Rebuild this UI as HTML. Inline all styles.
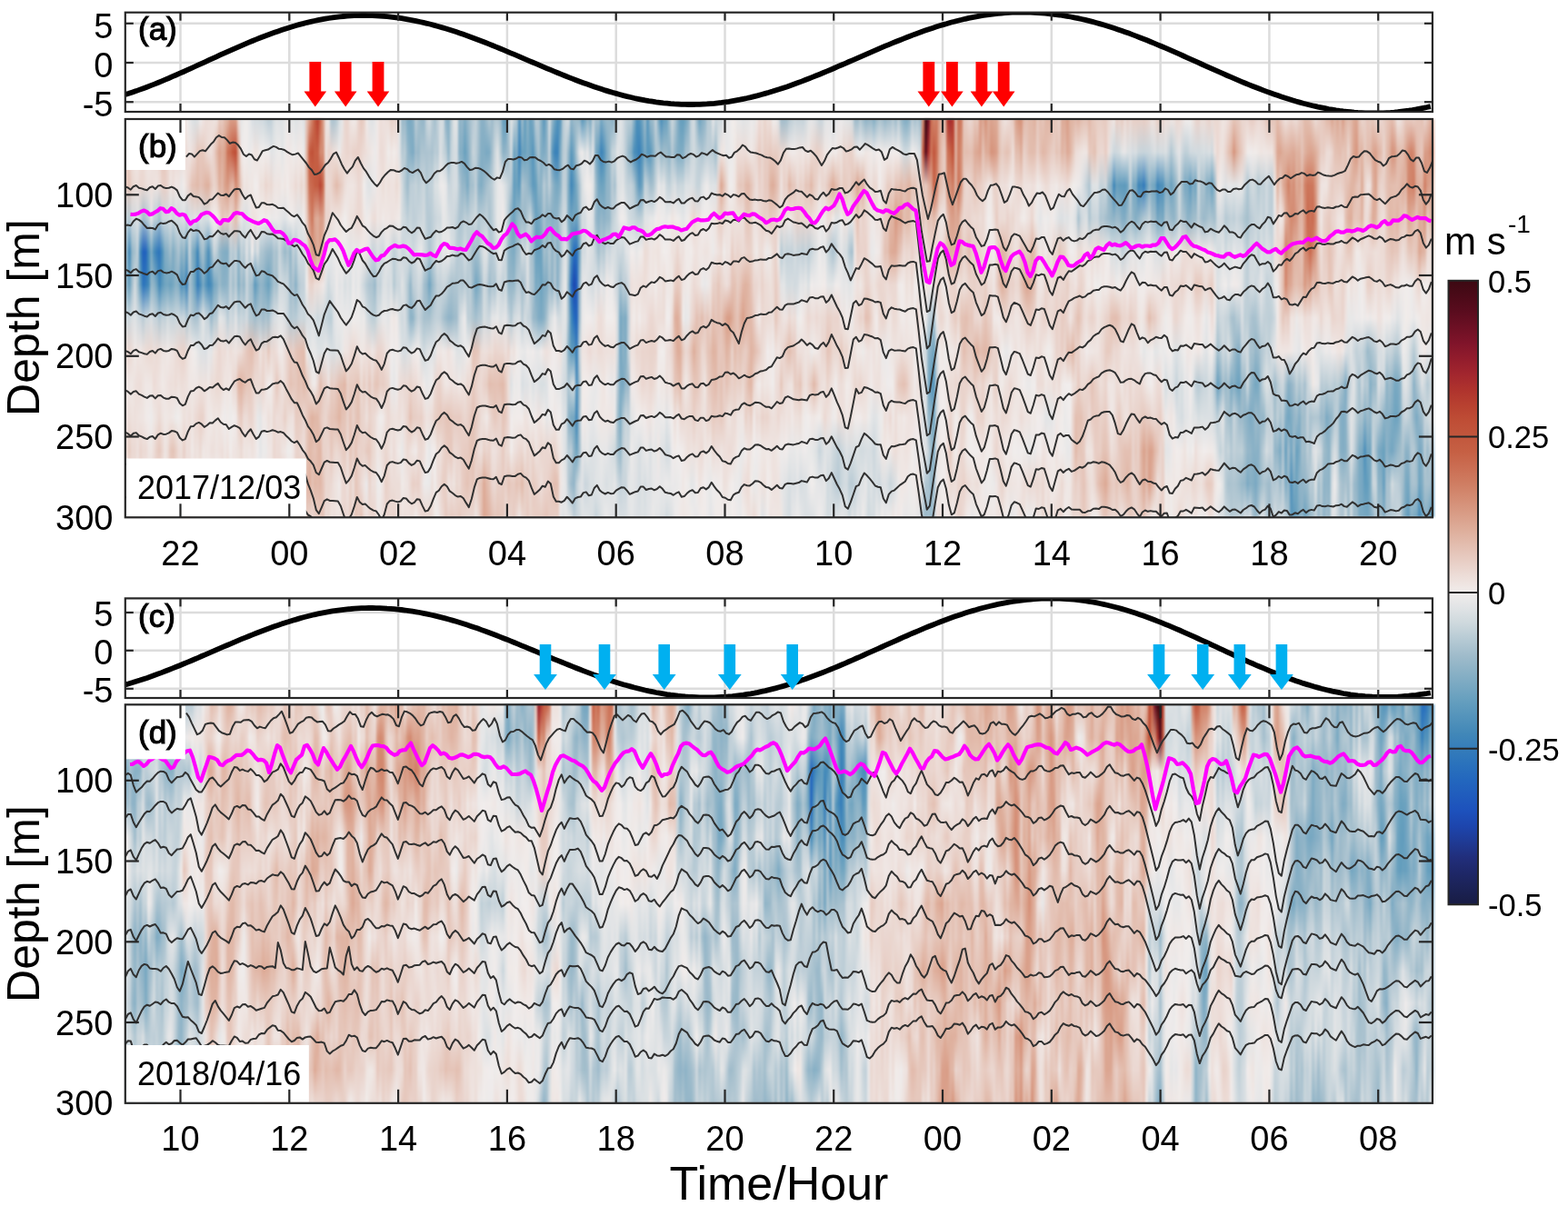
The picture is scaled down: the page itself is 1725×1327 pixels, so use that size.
<!DOCTYPE html>
<html><head><meta charset="utf-8"><title>figure</title>
<style>
html,body{margin:0;padding:0;background:#fff}
body{width:1725px;height:1327px;position:relative;overflow:hidden}
.f{position:absolute;display:flex;left:137.8px;width:1438.1px;filter:blur(0.8px)}
.f i{display:block;flex:0 0 3px;height:100%}
svg{position:absolute;left:0;top:0}
text{font-family:'Liberation Sans', Arial, Helvetica, sans-serif;fill:#000}
</style></head><body>
<div class="f" style="top:131.0px;height:438.3px"><i style="background:linear-gradient(#ebdad4,#e7cabf,#e6c8bd,#beced7,#89b0c6,#86afc5,#cfd9de,#ebd9d3,#efe7e5,#eee1de,#ebd9d3,#efe7e4,#ede0db)"></i><i style="background:linear-gradient(#ecdbd5,#ead4cd,#e5c6ba,#baccd5,#448ab9,#6ca2bf,#cdd7dd,#ebd7d1,#efe7e5,#ecded9,#e8cec4,#eddfdb,#ebd9d3)"></i><i style="background:linear-gradient(#ecdbd6,#eddfda,#ead6cf,#d3dbe0,#95b7c8,#a7c0ce,#d9dfe2,#ecded9,#efe7e4,#eee2de,#ebd9d3,#eddeda,#ead5ce)"></i><i style="background:linear-gradient(#ede1dd,#efe6e3,#ecdcd6,#d4dce0,#a7c1ce,#d4dce0,#dfe2e5,#f0e9e7,#ede1dd,#ede0dc,#ebd9d3,#ecddd8,#edded9)"></i><i style="background:linear-gradient(#efe5e2,#efe6e3,#eddeda,#dde1e4,#bfcfd8,#a6c0cd,#d2dbe0,#eee4e0,#eddeda,#eee2de,#ede0dc,#efe5e2,#ecdbd5)"></i><i style="background:linear-gradient(#efe6e3,#eddfda,#ead6cf,#c6d3da,#4188b8,#609bbd,#cad5dc,#efe6e4,#ecddd8,#eee4e1,#ead4cd,#ebd9d3,#ead6cf)"></i><i style="background:linear-gradient(#ecdbd5,#ebd9d3,#ebd8d1,#a3becc,#2161bd,#2c74bc,#b9cbd5,#ede1dd,#eee3df,#efe5e2,#ecdbd5,#eddfda,#ead4cd)"></i><i style="background:linear-gradient(#ecdcd7,#eee3e0,#ecddd8,#afc5d1,#2264bd,#337bbb,#cdd8dd,#ecdcd6,#efe7e5,#f0eae8,#ecdad5,#f0e9e7,#efe6e3)"></i><i style="background:linear-gradient(#ede0db,#efe6e3,#ede1dd,#c2d1d9,#468bb9,#4389b9,#d0d9df,#ebd9d3,#efe7e5,#f1ebea,#eee4e1,#ede1dd,#f0e9e7)"></i><i style="background:linear-gradient(#efe5e1,#eee4e1,#eddfdb,#e6e6e8,#7ba9c2,#95b7c8,#d9dfe2,#ebd8d1,#efe6e3,#edebeb,#efe6e3,#edded9,#ede1dd)"></i><i style="background:linear-gradient(#efeceb,#eddfda,#eee2de,#c2d1d9,#498dba,#8eb3c7,#c9d5dc,#eddfdb,#ecdbd6,#efe7e4,#ecdcd7,#ead5ce,#ead5ce)"></i><i style="background:linear-gradient(#f0ebe9,#ecdbd6,#eee4e1,#bbcdd6,#347cba,#6ea3bf,#c4d2da,#ecdbd5,#eddfdb,#ede1dd,#e8cfc6,#ebd8d2,#e9d2ca)"></i><i style="background:linear-gradient(#eae9e9,#ead5ce,#edded9,#a4bfcd,#2d75bc,#4188b8,#b2c7d2,#ecddd8,#eee3e0,#ebdad4,#e6c9be,#eddfdb,#ebdad4)"></i><i style="background:linear-gradient(#f1eceb,#e5c5b9,#e9d1c9,#cbd6dc,#4b8eba,#5d99bc,#c4d2da,#eee4e1,#f0e9e7,#eee2de,#ead5ce,#efe6e3,#e9d3cb)"></i><i style="background:linear-gradient(#eae9e9,#e6c8bd,#e8cec5,#cfd8de,#7eabc3,#6fa4c0,#c1d0d8,#eee4e1,#efe6e3,#efe7e5,#eee4e1,#efeceb,#ebd7d1)"></i><i style="background:linear-gradient(#f0edec,#ead5ce,#ead6cf,#ced8de,#89b1c6,#76a7c1,#d2dbdf,#f0e9e7,#eee2df,#efe7e4,#ecddd8,#eddfdb,#ebd9d3)"></i><i style="background:linear-gradient(#efe6e3,#edded9,#efe5e2,#d8dee2,#a1bdcb,#69a0be,#c8d5db,#efe5e2,#eddfdb,#efe5e2,#e6c8bd,#e9d3cb,#eee2de)"></i><i style="background:linear-gradient(#eddfdb,#ecdbd6,#eddeda,#cad6dc,#80acc4,#76a7c1,#c7d4db,#eee2df,#ede0db,#efe8e6,#e4c3b6,#e9d2ca,#eee4e1)"></i><i style="background:linear-gradient(#eee2de,#ebd7d1,#f0e8e6,#d7dee1,#97b8c9,#8cb2c6,#cbd7dd,#ecddd7,#ecdcd7,#edebea,#e8cec4,#ebd7d0,#f1eceb)"></i><i style="background:linear-gradient(#ead7d0,#ecdbd6,#efe5e2,#d2dadf,#aec4d1,#82adc4,#d0d9de,#ebd7d1,#eee2de,#f0edec,#ecdbd6,#edded9,#f0eae8)"></i><i style="background:linear-gradient(#ead5ce,#ecdcd6,#e9e8e9,#d9dfe2,#8cb2c6,#5091bb,#c9d5dc,#ead4cc,#ecddd8,#efe8e5,#eddfda,#ebd9d3,#ebd9d2)"></i><i style="background:linear-gradient(#e9d2ca,#edded9,#f1ecea,#dde1e4,#99b9c9,#5e9abd,#ced8de,#e9d2ca,#eddfdb,#ede0db,#e8cfc7,#ebd8d1,#e5c3b7)"></i><i style="background:linear-gradient(#f1eceb,#edded9,#eddeda,#cad6dc,#6ba1bf,#3a82b9,#b0c6d2,#ecded9,#ede1dd,#eee3e0,#eddfdb,#ecdbd6,#e7cac0)"></i><i style="background:linear-gradient(#e7e7e8,#efe5e2,#e9d0c8,#dadfe3,#c7d4db,#a9c1cf,#c8d5db,#efe5e2,#efe7e5,#edded9,#eddeda,#ecddd9,#e8d0c7)"></i><i style="background:linear-gradient(#dee2e4,#eddeda,#e4c1b4,#d9dfe2,#86afc5,#90b4c7,#b4c8d3,#f1ebea,#efe7e4,#eee4e0,#f0e9e7,#ecddd8,#edded9)"></i><i style="background:linear-gradient(#d9dfe2,#ead5cf,#e3beb0,#e2e4e6,#6ea3bf,#68a0be,#aac2cf,#efeceb,#efe7e5,#ecdbd6,#ede0dc,#eddeda,#ecdcd6)"></i><i style="background:linear-gradient(#dee2e4,#e5c6ba,#e1b9a9,#dce0e3,#3e86b8,#347cba,#aec4d1,#e6e6e8,#efe6e3,#ebd7d0,#eee3df,#efe6e3,#eee3e0)"></i><i style="background:linear-gradient(#eeebeb,#e6c7bc,#e4c2b6,#dee2e4,#93b5c8,#4a8dba,#cad6dc,#dee2e4,#ede1dd,#e9d1c9,#ebdad4,#efe6e3,#eee2de)"></i><i style="background:linear-gradient(#efe5e3,#e6c8bd,#e2bcae,#d6dde1,#a8c1ce,#79a8c2,#e3e5e6,#dde1e4,#eee3e0,#e9d2ca,#efe7e5,#f0eae8,#efe8e6)"></i><i style="background:linear-gradient(#ecddd8,#ead5ce,#dfb2a0,#d7dee1,#77a7c1,#5695bb,#ccd7dd,#dadfe3,#eee1dd,#eee1de,#efe5e2,#f0eae8,#efe7e4)"></i><i style="background:linear-gradient(#edded9,#ecddd8,#dfb19f,#dae0e3,#4d8fba,#3f87b8,#c3d1d9,#e7e7e8,#efe7e5,#efe7e4,#efe6e3,#efeceb,#eee2de)"></i><i style="background:linear-gradient(#eddfda,#eddeda,#e5c6bb,#efeceb,#8ab1c6,#4b8eba,#9ab9ca,#e4e5e7,#ecdcd7,#f0eae8,#eddfdb,#f0ecec,#eee4e1)"></i><i style="background:linear-gradient(#eee3df,#e9d1c9,#ead5cd,#f1edec,#cbd6dc,#74a6c1,#b6cad4,#eee4e0,#ecddd8,#eee4e0,#ede0dc,#eeebeb,#eeebeb)"></i><i style="background:linear-gradient(#eee1dd,#e1b8a8,#e7cbc1,#f1edec,#bbcdd6,#83adc4,#b9cbd5,#edded9,#ebd8d1,#efe7e4,#eee4e1,#f1edec,#ebeaea)"></i><i style="background:linear-gradient(#e6c9be,#dba38e,#dfb09d,#ecddd8,#97b8c9,#9dbbca,#e4e6e7,#ead6d0,#ebd9d3,#eee4e0,#eee1dd,#efeceb,#edebeb)"></i><i style="background:linear-gradient(#e7cac0,#ddac99,#e1b8a8,#e5c5b9,#87afc5,#8bb2c6,#e0e3e5,#edded9,#ecddd8,#f1ecea,#eddeda,#eee1dd,#eee2df)"></i><i style="background:linear-gradient(#e2bbab,#daa18b,#daa18b,#e8d0c7,#81adc4,#89b0c6,#d7dde1,#ecdcd7,#efe6e3,#eeebeb,#efe6e3,#ede0dc,#efe7e5)"></i><i style="background:linear-gradient(#dfb3a1,#cc7358,#d79881,#e7ccc2,#81acc4,#91b5c8,#bccdd7,#eee4e1,#eee3df,#f0ebe9,#eee1dd,#ebd7d0,#f0ebe9)"></i><i style="background:linear-gradient(#d99d87,#c9684d,#deae9c,#ecdad4,#bdced7,#beced7,#d1dadf,#ecddd8,#f0e8e6,#edebea,#f1eceb,#eee2de,#f0eceb)"></i><i style="background:linear-gradient(#d99d87,#c2553b,#e1b6a6,#e7cbc2,#b6c9d4,#a3becc,#cbd6dd,#eee2de,#ebd9d3,#f1edec,#efe5e2,#efe6e3,#f0e8e6)"></i><i style="background:linear-gradient(#daa08a,#bf4e36,#d48c73,#e2bcae,#c2d1d9,#baccd6,#e1e3e5,#eee4e1,#ead6cf,#f0eae9,#eee3e0,#efe5e2,#eee3df)"></i><i style="background:linear-gradient(#ecdcd7,#dca894,#dca793,#ebd9d3,#92b5c8,#83aec4,#c2d1d9,#ede0dc,#e0b4a3,#e9d2ca,#ede1dc,#eee1dd,#ebdad4)"></i><i style="background:linear-gradient(#e5e6e7,#f0e9e7,#e8d0c7,#e8e8e8,#c2d1d9,#a5bfcd,#ccd7dd,#ecddd8,#dfb19f,#e7cac0,#ebdad4,#ecdcd7,#ecddd8)"></i><i style="background:linear-gradient(#edebea,#f1edec,#efe6e3,#dde1e4,#b8cbd5,#94b6c8,#c6d3db,#e9d2ca,#e2bbac,#ecdcd7,#efe5e2,#eee3df,#ead6cf)"></i><i style="background:linear-gradient(#efeceb,#f0eceb,#eee2de,#dbe0e3,#e0e3e5,#c8d4db,#d3dbe0,#e6c7bc,#e5c6ba,#ecdcd7,#eee4e0,#eee4e1,#ead6cf)"></i><i style="background:linear-gradient(#e8e8e9,#e9e9e9,#efe7e4,#e6e6e8,#beced7,#abc3d0,#b4c8d3,#e4c1b4,#e6c7bb,#ead4cd,#efe6e4,#efe7e4,#ead5ce)"></i><i style="background:linear-gradient(#dadfe3,#f0eae9,#efe6e3,#eee2df,#f1edec,#9ebbcb,#b0c6d1,#e3bdaf,#e8cfc6,#ead5ce,#eee1dd,#f0e9e7,#edded9)"></i><i style="background:linear-gradient(#d5dce1,#eee3df,#f0edec,#eee2de,#c4d2da,#5d99bc,#a0bccb,#e7cbc1,#ecdad5,#eee2de,#efe5e2,#f1ebea,#eee3df)"></i><i style="background:linear-gradient(#d5dde1,#eee4e1,#f1ebea,#efe6e4,#dce0e3,#77a8c2,#adc4d0,#e9d0c8,#ebdad4,#e8e8e8,#f0ecec,#e6e7e8,#eee3df)"></i><i style="background:linear-gradient(#d2dadf,#efeceb,#ede0db,#f0edec,#b2c7d2,#93b5c8,#afc5d1,#eee3df,#ebd8d2,#e3e5e6,#e4e5e7,#efeceb,#eee2de)"></i><i style="background:linear-gradient(#d0dadf,#f1edec,#ede0db,#f0edec,#abc3d0,#8cb2c6,#a2bdcc,#ead5ce,#ead4cc,#f0e9e7,#eceaea,#f0eae9,#ede0dc)"></i><i style="background:linear-gradient(#c7d4db,#efeceb,#ead5ce,#f0eae8,#9fbbcb,#79a9c2,#adc4d0,#ebdad4,#eee2df,#f0e8e6,#ebeaea,#eee4e0,#eddfda)"></i><i style="background:linear-gradient(#beced7,#eeebeb,#ecdbd5,#efeceb,#99b8c9,#6aa1be,#a5bfcd,#e6c7bb,#f1edec,#eddfda,#efe6e4,#eee4e1,#eee2df)"></i><i style="background:linear-gradient(#c2d1d9,#e1e3e5,#ebd9d3,#eae9e9,#97b7c9,#87b0c5,#c5d2da,#ebdad4,#f0eae8,#eee4e1,#efe5e2,#eee2de,#efe7e5)"></i><i style="background:linear-gradient(#d7dee1,#e5e6e7,#eee3e0,#ebe9ea,#aec5d1,#a9c2cf,#d7dde1,#ebd9d3,#ecdbd5,#ebd7d1,#ebd7d0,#ebd9d3,#eee2de)"></i><i style="background:linear-gradient(#e0e3e5,#eae9e9,#efe5e2,#eceaea,#a8c1ce,#a6c0cd,#dce0e3,#eddfdb,#e6c7bc,#eddeda,#ecdbd6,#ebd9d2,#ebd7d1)"></i><i style="background:linear-gradient(#dde1e4,#edebea,#eee4e1,#e7e7e8,#cad6dc,#d0dadf,#e3e5e6,#f0e9e7,#ead5ce,#edded9,#ecdbd6,#ebd8d2,#ead5ce)"></i><i style="background:linear-gradient(#dfe3e5,#e3e5e6,#f0eae8,#e3e4e6,#afc5d1,#d0d9df,#e2e4e6,#f0e9e7,#ede1dd,#ecdad5,#eee4e0,#e8cfc7,#eee4e0)"></i><i style="background:linear-gradient(#e5e6e7,#edebea,#efe6e3,#dfe2e5,#99b9c9,#cdd8dd,#dbe0e3,#ecddd9,#ecdcd6,#e8cfc6,#efe6e4,#ead5ce,#efe5e2)"></i><i style="background:linear-gradient(#f0eceb,#efe7e5,#f1ecea,#e7e7e8,#acc3d0,#cad5dc,#c9d5dc,#e9d2ca,#e8cfc6,#ecdcd6,#eeeceb,#eddfda,#edebea)"></i><i style="background:linear-gradient(#e2e4e6,#f0e8e6,#eee3e0,#f1edec,#93b6c8,#9ebbcb,#b3c8d3,#e7cac0,#e4c1b4,#ede0dc,#efeceb,#eee2df,#eee1dd)"></i><i style="background:linear-gradient(#e5e6e7,#efeceb,#eee1dd,#edebeb,#c2d1d9,#a9c1cf,#b9cbd5,#e8d0c8,#e5c6ba,#eee1de,#efe6e4,#eddfda,#efe7e4)"></i><i style="background:linear-gradient(#dee2e4,#edeaea,#ebd9d3,#e6e6e7,#b0c6d2,#8ab1c6,#b8cbd5,#e5c5b9,#e6c8bd,#e7cbc1,#ead5ce,#e7cbc1,#ead6cf)"></i><i style="background:linear-gradient(#e1e3e5,#f0e8e6,#ede1dd,#e1e3e5,#d7dee2,#b3c8d3,#c6d3da,#e4c1b4,#e3c0b2,#e7ccc2,#e9d3cb,#e7ccc2,#e8cec4)"></i><i style="background:linear-gradient(#e6e6e7,#f0eae8,#ead5ce,#e5e6e7,#d2dadf,#c1d0d9,#ced8de,#e3bdaf,#e5c4b8,#e8cec5,#ecdad5,#e4c3b6,#e3beb0)"></i><i style="background:linear-gradient(#dde1e4,#eae9e9,#eddfda,#f0eceb,#d1dadf,#c4d2da,#cad6dc,#e2bdae,#e1b9a9,#ebd8d2,#edded9,#e6c7bb,#e4c2b5)"></i><i style="background:linear-gradient(#e4c2b6,#dfb2a1,#e2bcad,#e8cec5,#e5e6e7,#efeceb,#d7dde1,#f0e9e6,#e5c5b9,#e7cac0,#e5c6ba,#e2bbad,#e8cfc6)"></i><i style="background:linear-gradient(#daa28c,#c55c41,#cb7055,#d6947d,#e1b8a8,#ead5ce,#dadfe3,#e0e3e5,#ebd8d1,#e2baab,#e1b9a9,#dead9a,#e9d3cb)"></i><i style="background:linear-gradient(#cf7d63,#c05138,#c9684d,#cd775c,#d99e89,#e9d2ca,#dee2e4,#e8e8e8,#efe8e5,#dfb2a0,#e3beaf,#e4c2b5,#ead6d0)"></i><i style="background:linear-gradient(#c3593f,#c65f43,#c55d42,#dca692,#d89b84,#edded9,#d9dfe2,#e7e7e8,#f0ebea,#e1b7a6,#e5c3b7,#e1b7a6,#e9d0c8)"></i><i style="background:linear-gradient(#b84130,#c65f44,#c45b41,#deae9b,#dead9a,#edded9,#cdd8dd,#e0e3e5,#ebd8d2,#e1b9a9,#e2baaa,#e2bbac,#e6cabf)"></i><i style="background:linear-gradient(#c9684c,#d48b72,#b94331,#d99d87,#daa18b,#eee3df,#d4dce0,#dce1e4,#e2bcae,#e6c7bc,#e0b5a5,#e1b7a7,#e6c7bc)"></i><i style="background:linear-gradient(#d99e88,#d59078,#c9684c,#daa08b,#e2baab,#f0e8e6,#d0d9de,#e0e3e5,#e7ccc3,#e9d1c9,#e9d2ca,#e5c4b8,#e5c4b8)"></i><i style="background:linear-gradient(#ede0db,#eee1dd,#ead6cf,#ead6cf,#f0ebe9,#e1e3e5,#c8d5db,#e9e8e9,#e9d1c9,#ead6cf,#e9d2ca,#ead6cf,#ecdcd7)"></i><i style="background:linear-gradient(#ebeaea,#e9d3cc,#ebd9d3,#e9d3cc,#eeebeb,#cfd9de,#bfcfd8,#e1e4e6,#eee3e0,#e7cac0,#ead6d0,#ead7d0,#ebd8d1)"></i><i style="background:linear-gradient(#aec5d1,#ebd7d1,#e9d3cb,#ede0dc,#e4e5e7,#dde1e4,#bbcdd6,#dadfe3,#e7cdc3,#e5c4b8,#e6c7bc,#ebd8d2,#eee4e0)"></i><i style="background:linear-gradient(#acc3d0,#eddfda,#e5c5b9,#eee2df,#eceaea,#e0e3e5,#dfe2e5,#d8dee2,#e9d0c8,#e4c2b5,#ead4cc,#eee1dd,#ede0dc)"></i><i style="background:linear-gradient(#baccd6,#eee4e0,#e2bbac,#efe7e5,#eae9e9,#edeaea,#e7e7e8,#e1e4e6,#e6c7bc,#e2bcad,#ebd9d2,#eee4e1,#eee4e1)"></i><i style="background:linear-gradient(#d9dfe2,#eceaea,#e5c5b9,#eee3df,#f1edeb,#e1e3e5,#eae9e9,#dfe2e4,#e3bfb1,#e0b4a2,#e9d3cc,#f0eae9,#eee4e0)"></i><i style="background:linear-gradient(#e6e7e8,#edded9,#e8cfc6,#f0e8e6,#efeceb,#e6e6e8,#e8e8e8,#e8e8e8,#e2bcad,#e4c1b4,#e8cec5,#ebd9d3,#ebd8d2)"></i><i style="background:linear-gradient(#ead6cf,#ebd8d2,#ecddd8,#f0edec,#edeaea,#d7dee1,#eae9e9,#efe5e2,#e1b6a6,#e5c4b7,#e6c9be,#ebd7d1,#ead5cf)"></i><i style="background:linear-gradient(#ead5ce,#ead4cd,#eee4e1,#efe7e5,#e8e8e8,#e1e3e5,#e9e8e9,#eee3e0,#e9d1c8,#e9d2ca,#ecdbd6,#ede1dd,#ecdad5)"></i><i style="background:linear-gradient(#eee4e1,#ebd7d1,#efe5e2,#ede1dc,#e4e5e7,#d9dfe2,#e6e7e8,#ecdbd6,#e7cbc0,#e5c3b7,#e5c4b8,#e8d0c7,#e8cec4)"></i><i style="background:linear-gradient(#f0eae8,#e9d2ca,#efe5e2,#ede0dc,#e8e8e8,#eceaea,#f0edec,#ebd8d1,#e7cbc1,#e9d1c9,#e9d1c9,#ecddd8,#ecddd8)"></i><i style="background:linear-gradient(#efe7e4,#e9d1c9,#ede0dc,#ebdad4,#e9e9e9,#e2e4e6,#eeebeb,#ecdbd5,#e6c7bb,#e5c6ba,#e5c4b8,#e5c5b9,#e5c5b9)"></i><i style="background:linear-gradient(#e9d3cc,#e9d0c8,#ebd8d2,#ebd7d1,#e9e8e9,#eae9e9,#edebea,#eee1dd,#e4c3b6,#e3c0b2,#ead4cd,#e8cec5,#e7ccc2)"></i><i style="background:linear-gradient(#e6c7bc,#ead6cf,#ecdcd7,#ebd9d3,#f1eceb,#dbe0e3,#e8e8e8,#efe7e4,#ecdbd5,#e9d2ca,#e9d1c9,#ecdad5,#e4c2b5)"></i><i style="background:linear-gradient(#e8d0c7,#ecdbd6,#f0edec,#efe7e4,#f0e8e6,#cbd6dd,#eceaea,#efe5e1,#e7ccc2,#ead6cf,#e9d2ca,#eee4e1,#ebd9d3)"></i><i style="background:linear-gradient(#f0e9e7,#ede0dc,#e4e5e7,#edeaea,#eee4e1,#b8cbd5,#d6dde1,#eddfdb,#ebd8d2,#ede0dc,#e6c9bf,#ebe9ea,#eddeda)"></i><i style="background:linear-gradient(#e2e4e6,#eee4e1,#dee2e4,#f0e9e7,#dfe2e5,#aec4d1,#c9d5dc,#eddfda,#e5c6bb,#e9d3cb,#e6c7bc,#e9d3cb,#ebd8d2)"></i><i style="background:linear-gradient(#dfe2e5,#f0e9e7,#e6e6e7,#ede0dc,#c9d5dc,#abc3d0,#becfd7,#efe6e3,#ead5cf,#ebd7d0,#ead5cd,#eddfdb,#ead4cc)"></i><i style="background:linear-gradient(#e6e6e7,#eceaea,#ebe9ea,#ecdcd7,#ccd7dd,#9ab9ca,#becfd7,#eddfdb,#e5c6ba,#ecdcd7,#ecddd7,#ede0db,#ebd7d1)"></i><i style="background:linear-gradient(#f0e8e6,#f0e8e6,#efe5e2,#efe7e4,#dadfe3,#c5d2da,#d4dce0,#ead5ce,#e5c4b8,#efe6e4,#efe7e5,#eceaea,#f0e8e6)"></i><i style="background:linear-gradient(#edded9,#ecdbd6,#eee4e1,#eee4e1,#d3dbe0,#c2d1d9,#e0e3e5,#ead4cd,#e8cfc6,#f0edec,#eee3df,#efeceb,#efe5e1)"></i><i style="background:linear-gradient(#eee1de,#ecdcd7,#ecddd7,#f0eae8,#ced8de,#dbe0e3,#e9e8e9,#ebd8d2,#e7ccc3,#f0eae9,#ecdcd7,#eee1de,#edded9)"></i><i style="background:linear-gradient(#eddfdb,#eee3df,#efe5e1,#efe6e3,#e3e4e6,#dce1e3,#e8e8e9,#eee2de,#e9d2ca,#eddfda,#ead6cf,#e8cfc6,#ebd7d0)"></i><i style="background:linear-gradient(#ecddd8,#efeceb,#ede0db,#efe7e5,#e4e6e7,#d3dbe0,#e2e4e6,#efe5e2,#ead7d0,#ebd8d2,#ecdcd7,#ead5ce,#ead5ce)"></i><i style="background:linear-gradient(#e8d0c7,#efe6e3,#eee2df,#eee3e0,#d1dadf,#dae0e3,#f0eae8,#f0ecec,#ebeaea,#eddfda,#efe5e2,#ecdcd7,#ead6cf)"></i><i style="background:linear-gradient(#ead4cc,#f1ecea,#eee2de,#eee4e1,#c1d0d8,#b5c9d3,#efe7e4,#eceaea,#e6e6e7,#eee2de,#ecdbd6,#ecddd8,#e9d3cb)"></i><i style="background:linear-gradient(#ead6d0,#efe7e5,#ebdad4,#efe7e5,#ccd7dd,#cad6dc,#f0eae9,#f0ebe9,#eeebeb,#eee2de,#efe5e3,#ecddd8,#edded9)"></i><i style="background:linear-gradient(#e2e4e6,#e0e3e5,#eee3df,#f0eae8,#dce0e3,#ccd7dd,#d9dfe2,#e9e8e9,#ecddd8,#edded9,#f0ebe9,#ecddd8,#ecdcd7)"></i><i style="background:linear-gradient(#9bbaca,#b7cad4,#d2dadf,#d4dce0,#cbd6dc,#e0e3e5,#cfd9de,#d9dfe2,#ecdbd6,#eee3e0,#e8e8e8,#f0eae8,#eee3df)"></i><i style="background:linear-gradient(#9ab9ca,#bbcdd6,#b4c9d3,#ccd7dd,#ced8de,#cfd9de,#d8dee2,#d5dce1,#ebd9d3,#ecdcd7,#eee2de,#efe6e3,#ede0db)"></i><i style="background:linear-gradient(#7dabc3,#96b7c9,#9ebbca,#bfcfd8,#dae0e3,#b6cad4,#b7cad4,#dce1e4,#ebdad4,#e9d2ca,#ebdad4,#eee3e0,#eee1dd)"></i><i style="background:linear-gradient(#7aa9c2,#85afc5,#bccdd6,#c8d5db,#d4dce0,#94b6c8,#8db2c7,#e0e3e5,#e9d3cb,#e4c0b3,#eee1dd,#ebd8d2,#ede1dd)"></i><i style="background:linear-gradient(#88b0c5,#7daac3,#bfcfd8,#c0cfd8,#ccd7dd,#beced7,#8fb4c7,#edeaea,#ebd8d2,#e7cdc3,#efe7e4,#e8cec5,#eee3df)"></i><i style="background:linear-gradient(#b9cbd5,#9fbbcb,#c6d3da,#c1d0d8,#d7dde1,#c5d2da,#b1c7d2,#f0ebea,#ecdad5,#e8cec5,#f0eae9,#e9d1c9,#f0ebe9)"></i><i style="background:linear-gradient(#a6bfcd,#98b8c9,#baccd5,#c9d5dc,#e3e5e6,#d1dadf,#c5d2da,#f1edec,#eee2de,#e9d1c9,#ecdcd7,#e8cfc7,#eee1dd)"></i><i style="background:linear-gradient(#95b7c8,#adc4d0,#c4d2da,#cbd6dc,#eae9e9,#c9d5dc,#b9cbd5,#dae0e3,#eee2df,#e8cfc6,#ebdad4,#ecddd8,#ebd7d1)"></i><i style="background:linear-gradient(#96b7c9,#acc3d0,#cad6dc,#d2dadf,#d4dce0,#a6c0ce,#a8c1ce,#cfd9de,#f0ebe9,#ecdad5,#edded9,#edeaea,#ead6d0)"></i><i style="background:linear-gradient(#c5d3da,#acc3d0,#b3c8d3,#b9cbd5,#c5d3da,#95b6c8,#a8c1ce,#dbe0e3,#e7e7e8,#eee3df,#efeceb,#eceaea,#ebd9d2)"></i><i style="background:linear-gradient(#d3dbe0,#afc5d1,#c0cfd8,#b5c9d4,#aec4d1,#70a4c0,#a8c1ce,#e1e3e5,#ebe9e9,#ede0dc,#e7e7e8,#eae9e9,#ead5ce)"></i><i style="background:linear-gradient(#b9cbd5,#aac2cf,#c2d1d9,#bdced7,#becfd7,#93b6c8,#b5c9d3,#dfe2e5,#f0eceb,#ecdcd6,#f0ecec,#eddfdb,#ecdcd7)"></i><i style="background:linear-gradient(#a5bfcd,#baccd6,#dbe0e3,#c8d4db,#d2dbe0,#acc3d0,#c0cfd8,#e0e3e5,#ebd9d3,#e8d0c7,#f1edec,#f0ebe9,#f0e9e6)"></i><i style="background:linear-gradient(#bfcfd8,#b7cad4,#dce1e3,#cfd9de,#e5e6e7,#c3d1d9,#c2d1d9,#efe7e5,#ead3cc,#e7cbc0,#ecddd7,#edded9,#eeebeb)"></i><i style="background:linear-gradient(#d6dde1,#dde1e4,#eceaea,#d1dadf,#d9dfe2,#c4d2da,#bdced7,#efe6e3,#e9d3cb,#e6c7bb,#eee2de,#ebd8d2,#ede0dc)"></i><i style="background:linear-gradient(#d4dce0,#cad6dc,#edebea,#e7e7e8,#e8e8e8,#cbd6dc,#aac2cf,#f0eae8,#eddfdb,#e7cac0,#ead6cf,#e8cdc3,#ebd8d2)"></i><i style="background:linear-gradient(#8db2c7,#bbcdd6,#e7e7e8,#e3e5e6,#e5e6e7,#c8d4db,#9bbaca,#efe7e5,#efe7e4,#e5c4b8,#e8cdc4,#e8d0c7,#e6c9bf)"></i><i style="background:linear-gradient(#86afc5,#91b5c8,#c9d5dc,#dadfe3,#f1eceb,#b5c9d3,#91b4c8,#eee1dd,#efe5e3,#e4c3b6,#e7cac0,#eee4e1,#e8cfc7)"></i><i style="background:linear-gradient(#b9ccd5,#c5d3da,#cdd7dd,#d1dadf,#dbe0e3,#aac2cf,#91b4c7,#f0e8e6,#ede0dc,#e6c7bc,#e6c7bc,#eddeda,#e7cbc1)"></i><i style="background:linear-gradient(#e1e4e5,#d4dce0,#d6dde1,#cfd8de,#d5dce0,#adc4d0,#9dbaca,#ebe9e9,#eee4e1,#e7cbc1,#ebd8d2,#eee4e0,#e8cdc4)"></i><i style="background:linear-gradient(#e3e5e6,#d5dce1,#d6dde1,#c0d0d8,#baccd6,#afc5d1,#a2bdcc,#e0e3e5,#eee3e0,#e7cbc2,#ebd7d1,#ead6cf,#e8cfc7)"></i><i style="background:linear-gradient(#90b4c7,#87afc5,#b1c6d2,#acc3d0,#b9cbd5,#b7cad4,#ccd7dd,#dee2e4,#f0e9e7,#e7cac0,#e9d3cc,#ecdbd5,#e6c9be)"></i><i style="background:linear-gradient(#96b7c9,#81adc4,#96b7c9,#b0c6d2,#c1d0d8,#b0c6d2,#e0e3e5,#e2e4e6,#eee2de,#e9d1c9,#e8cdc4,#e8cec5,#e9d1c9)"></i><i style="background:linear-gradient(#7fabc3,#68a0be,#94b6c8,#bfcfd7,#d3dbe0,#bdced7,#eceaea,#e8e8e9,#eee2de,#ead6cf,#e7cbc1,#e6c7bc,#e9d3cb)"></i><i style="background:linear-gradient(#95b6c8,#80acc4,#7aa9c2,#b9cbd5,#c4d2da,#b4c8d3,#c1d0d8,#f1edec,#ebd8d1,#e9d2ca,#e7cbc1,#e4c2b5,#ead7d0)"></i><i style="background:linear-gradient(#a8c1ce,#a4becc,#a3becc,#c2d1d9,#b5c9d3,#bdced7,#bccdd6,#efe5e1,#ecdad4,#e6c9bf,#e4c3b6,#e7cac0,#ead6d0)"></i><i style="background:linear-gradient(#b7cad5,#c8d4db,#a7c1ce,#cbd6dc,#a2bdcc,#9ab9ca,#b0c6d1,#e4c3b6,#e6c8bd,#e4c2b6,#e5c4b8,#e5c4b8,#ebd9d3)"></i><i style="background:linear-gradient(#c4d2da,#bdced7,#c0cfd8,#d2dbdf,#a2bdcc,#74a6c1,#a6c0ce,#e5c4b8,#e9d1c9,#e7cac0,#e8cfc6,#ead4cd,#eee4e1)"></i><i style="background:linear-gradient(#a8c1ce,#a2bdcc,#8bb1c6,#b5c9d3,#a7c0ce,#83aec4,#b2c7d3,#e6c9be,#ebd8d2,#e9d2ca,#ecdbd6,#e6c7bc,#ebd9d2)"></i><i style="background:linear-gradient(#8ab1c6,#84aec4,#81adc4,#bbcdd6,#c8d5db,#9fbbcb,#b7cad4,#ecdcd7,#ebd9d3,#ecddd8,#ede0dc,#e4c3b6,#e4c0b3)"></i><i style="background:linear-gradient(#8bb1c6,#82adc4,#93b5c8,#bccdd6,#dee2e4,#cfd9de,#d7dee1,#ede0dc,#e9d1c9,#eee3df,#e8d0c7,#ddaa96,#dca894)"></i><i style="background:linear-gradient(#9fbccb,#7aa9c2,#a5bfcd,#c2d1d9,#e1e3e5,#c1d0d8,#cfd9de,#eddfdb,#e7cdc3,#f0e9e7,#ead5ce,#e1b8a8,#dead9a)"></i><i style="background:linear-gradient(#b2c7d2,#7eabc3,#b1c7d2,#aac2cf,#bbccd6,#9ebbcb,#ccd7dd,#ecdbd5,#e2bcae,#ecdcd7,#e9d1c9,#e4c3b6,#e0b5a5)"></i><i style="background:linear-gradient(#9fbbcb,#a5bfcd,#beced7,#bbcdd6,#b4c8d3,#b0c6d2,#e4e5e7,#ecddd7,#e3c0b2,#e8d0c7,#eee1dd,#ead5cf,#e4c0b3)"></i><i style="background:linear-gradient(#b2c7d2,#cad6dc,#d7dde1,#d3dbe0,#c9d5dc,#aac2cf,#e5e6e7,#ead4cd,#e4c0b3,#e6c8bd,#eee1de,#ebd9d3,#e6c8bd)"></i><i style="background:linear-gradient(#b2c7d3,#e0e3e5,#e5e6e7,#e9e9e9,#dbe0e3,#d0dadf,#e9e9e9,#ead6cf,#e4c1b4,#e8cdc4,#ecdcd7,#e8cfc6,#e5c5b9)"></i><i style="background:linear-gradient(#a3becc,#b9ccd5,#ebe9ea,#e7e7e8,#ebeaea,#ccd7dd,#dce1e4,#ebd7d0,#e2bcad,#e9d3cb,#ead6cf,#e8cfc7,#e6c8bc)"></i><i style="background:linear-gradient(#669fbe,#8db2c6,#e5e6e7,#f1ebea,#dbe0e3,#bfcfd8,#e2e4e6,#ebd8d2,#e2baab,#e5c4b8,#e7cac0,#e7ccc2,#e6c9be)"></i><i style="background:linear-gradient(#659ebe,#93b5c8,#d6dde1,#dbe0e3,#c7d4db,#cdd8dd,#e4e5e7,#eddfdb,#e6c9be,#e7cac0,#ebd9d3,#e9d0c8,#ecdcd6)"></i><i style="background:linear-gradient(#adc4d0,#a3becc,#c4d2da,#b3c8d3,#94b6c8,#93b6c8,#c9d5dc,#ead5ce,#eddfda,#ecdad5,#ecdbd5,#e4c3b6,#ead4cd)"></i><i style="background:linear-gradient(#dfe3e5,#d1dadf,#b1c6d2,#7fabc3,#84aec4,#97b7c9,#b3c8d3,#efe6e3,#dde1e4,#f0ecec,#f1edec,#e7cac0,#e9d2ca)"></i><i style="background:linear-gradient(#c8d4db,#6fa4c0,#659ebe,#6ea3bf,#7eabc3,#95b7c8,#d3dbe0,#ede1dd,#eceaea,#f0ebe9,#eee2de,#e7cbc1,#e7ccc3)"></i><i style="background:linear-gradient(#b0c6d2,#80acc4,#6ca2bf,#8cb2c6,#9ab9ca,#b5c9d4,#d8dee2,#f1ecea,#eae9e9,#f1ecea,#ecddd9,#e4c1b4,#ebdad4)"></i><i style="background:linear-gradient(#5091bb,#3a82b9,#5c99bc,#9dbbca,#abc3d0,#baccd6,#dde1e4,#eceaea,#eeebeb,#f1ebea,#ebd8d1,#e6c7bb,#efe6e3)"></i><i style="background:linear-gradient(#a0bccb,#6aa1be,#adc4d0,#9fbccb,#d7dde1,#a5bfcd,#b9cbd5,#eae9e9,#d8dee2,#f1eceb,#ebd7d0,#e1b9a9,#ebd9d2)"></i><i style="background:linear-gradient(#669fbe,#69a1be,#a2bdcc,#9cbaca,#cad5dc,#b3c7d3,#d5dce0,#e7e7e8,#dfe2e5,#eee2de,#eee2de,#e7cdc3,#e9d3cb)"></i><i style="background:linear-gradient(#8cb2c6,#79a9c2,#95b6c8,#b5c9d3,#e0e3e5,#dce0e3,#c7d4db,#f0eceb,#dfe2e5,#eee4e1,#ead6cf,#e8cdc4,#e7cac0)"></i><i style="background:linear-gradient(#669fbe,#6ca2bf,#7caac3,#ced8de,#b2c7d2,#b5c9d4,#c1d0d9,#edebeb,#e8e8e8,#f0ebe9,#ecdbd5,#ead7d0,#ead4cc)"></i><i style="background:linear-gradient(#7daac3,#5695bb,#5f9abd,#9cbaca,#a0bccb,#aac2cf,#9bb9ca,#f1eceb,#dbe0e3,#f0ebe9,#ead5ce,#e7cbc0,#e8cfc6)"></i><i style="background:linear-gradient(#baccd6,#8ab1c6,#649ebd,#6da2bf,#6ca2bf,#7baac3,#92b5c8,#e9e8e9,#e4e5e7,#f0e9e7,#eee3df,#e8cfc6,#e8cdc4)"></i><i style="background:linear-gradient(#b3c7d3,#aec5d1,#91b5c8,#72a5c0,#669fbe,#7facc3,#81acc4,#e8e8e8,#dde1e4,#eee2de,#edded9,#ead6d0,#e7ccc2)"></i><i style="background:linear-gradient(#86afc5,#81adc4,#8eb3c7,#85afc5,#6da2bf,#6da3bf,#7daac3,#f0ebea,#d7dee1,#efe7e5,#ead4cd,#eddfda,#e7ccc2)"></i><i style="background:linear-gradient(#5b98bc,#7daac3,#baccd6,#a7c0ce,#a4bfcd,#80acc4,#88b0c5,#eee4e1,#d9dfe2,#f1ecea,#ebd8d1,#ead5ce,#e6c8be)"></i><i style="background:linear-gradient(#86afc5,#8db2c6,#a2bdcc,#91b5c8,#98b8c9,#83adc4,#a9c2cf,#eee1dd,#dee1e4,#e5e6e7,#ead6d0,#ead4cd,#e5c4b8)"></i><i style="background:linear-gradient(#d5dde1,#c4d2da,#c1d0d9,#8fb3c7,#b2c7d2,#a4becc,#cfd9de,#eee4e1,#efeceb,#eceaea,#ebd8d2,#e8cdc4,#e7ccc3)"></i><i style="background:linear-gradient(#99b8c9,#5c98bc,#99b8c9,#89b1c6,#94b6c8,#8fb3c7,#dee2e4,#f0eae9,#f0ecec,#efeceb,#e9d3cb,#e5c6ba,#e8cdc4)"></i><i style="background:linear-gradient(#6da3bf,#3a82b9,#7eabc3,#8cb2c6,#acc3d0,#b3c7d3,#eceaea,#f1eceb,#eceaea,#efe7e5,#e9d3cb,#e3bdaf,#e8d0c7)"></i><i style="background:linear-gradient(#5192bb,#3a82b9,#76a7c1,#94b6c8,#89b1c6,#89b0c6,#d7dde1,#f0e8e6,#e7e7e8,#f0ebea,#eddfda,#e4c1b3,#e8cec4)"></i><i style="background:linear-gradient(#5c98bc,#7eabc3,#87afc5,#b7cad4,#a6c0ce,#b8cad5,#d4dce0,#eee2de,#e4e6e7,#efeceb,#efe7e4,#efe5e2,#e9e8e9)"></i><i style="background:linear-gradient(#b6cad4,#b7cad4,#c2d1d9,#cdd7dd,#d3dbe0,#dbe0e3,#e1e4e6,#dfe3e5,#d5dce1,#e0e3e5,#e6e6e7,#ebe9e9,#e0e3e5)"></i><i style="background:linear-gradient(#ced8de,#c1d0d8,#c0cfd8,#d1dadf,#e1e3e5,#e8e8e8,#e3e5e6,#d3dbe0,#cfd9de,#dbe0e3,#d8dee2,#e3e4e6,#e7e7e8)"></i><i style="background:linear-gradient(#d8dee2,#93b5c8,#7eabc3,#7eabc3,#b0c6d1,#93b6c8,#a2bdcc,#84aec4,#b1c6d2,#90b4c7,#b8cbd5,#b6c9d4,#e3e5e6)"></i><i style="background:linear-gradient(#8fb3c7,#5b98bc,#3f86b8,#6fa3c0,#4c8fba,#266ebe,#4289b9,#5e9abd,#d0dadf,#7aa9c2,#bbccd6,#9cbaca,#dadfe2)"></i><i style="background:linear-gradient(#9dbaca,#79a8c2,#5a97bc,#79a8c2,#256dbe,#1d46af,#246cbe,#5d99bc,#d9dfe2,#76a7c1,#8eb3c7,#93b5c8,#c1d0d9)"></i><i style="background:linear-gradient(#9dbbca,#b3c8d3,#7eabc3,#6ca2bf,#2870bd,#205bbd,#2263bd,#377fba,#4a8dba,#3f86b8,#6ea3bf,#bfcfd8,#c9d5dc)"></i><i style="background:linear-gradient(#95b7c9,#e4e5e7,#abc3d0,#a2bdcc,#72a5c0,#92b5c8,#9dbaca,#c2d1d9,#a5bfcd,#acc3d0,#a1bdcc,#d8dee2,#d0dadf)"></i><i style="background:linear-gradient(#5a97bc,#edebea,#d8dee2,#d5dce0,#d3dbe0,#e2e4e6,#e9e8e9,#eee4e1,#f0ebe9,#f1eceb,#e4e5e7,#dfe2e5,#e0e3e5)"></i><i style="background:linear-gradient(#6fa4c0,#dbe0e3,#ebe9e9,#d3dbe0,#d3dbe0,#e8e7e8,#efeceb,#eee4e1,#f1eceb,#f0e8e6,#e2e4e6,#cbd6dd,#e1e4e6)"></i><i style="background:linear-gradient(#94b6c8,#e8e8e9,#f0eceb,#e4e5e7,#e2e4e6,#dee2e4,#f1edec,#eddeda,#f1eceb,#ebe9e9,#e8e8e8,#cdd7dd,#e0e3e5)"></i><i style="background:linear-gradient(#7eabc3,#c5d3da,#f0ebe9,#e6e7e8,#dce0e3,#d8dee2,#f0ecec,#ecdad5,#eceaea,#e9e8e9,#dce1e4,#d9dfe2,#dbe0e3)"></i><i style="background:linear-gradient(#bfcfd8,#dfe2e5,#e1e4e6,#dce0e3,#d7dde1,#d2dadf,#ebe9e9,#ede1dd,#eae9e9,#e5e6e7,#dee1e4,#d9dfe2,#d8dee2)"></i><i style="background:linear-gradient(#a3becc,#7daac3,#a3becc,#9ab9ca,#bfcfd8,#e2e4e6,#efe7e4,#eee1dd,#e7e7e8,#eceaea,#dde1e4,#e0e3e5,#c7d4db)"></i><i style="background:linear-gradient(#a5bfcd,#629cbd,#78a8c2,#8ab1c6,#a5bfcd,#d5dce1,#edded9,#ecdcd6,#eceaea,#f0eae8,#e3e5e6,#e1e4e6,#d1dadf)"></i><i style="background:linear-gradient(#77a8c2,#3b83b9,#6ca2bf,#96b7c9,#baccd6,#e7e7e8,#ecddd9,#ecdcd7,#efe7e4,#efe6e3,#e8e8e8,#e4e5e7,#dae0e3)"></i><i style="background:linear-gradient(#8eb3c7,#5192bb,#71a5c0,#8db2c7,#b4c8d3,#dde1e4,#eee4e0,#eddfdb,#eee4e0,#f0e8e6,#e6e6e7,#dee2e4,#e6e7e8)"></i><i style="background:linear-gradient(#99b9c9,#7daac3,#8fb4c7,#94b6c8,#d1dadf,#f0e9e7,#f1edec,#ede0dc,#f1eceb,#efe7e4,#e7e7e8,#d8dee2,#ebeaea)"></i><i style="background:linear-gradient(#99b8c9,#99b9c9,#93b5c8,#98b8c9,#cbd6dd,#ebe9ea,#f1edec,#ede1dd,#ebe9ea,#efe6e4,#dde1e4,#dee2e4,#e4e5e7)"></i><i style="background:linear-gradient(#8ab1c6,#c5d3da,#b8cad5,#bccdd6,#d6dde1,#ebeaea,#f0edec,#ede0dc,#e6e7e8,#efe6e3,#d6dde1,#dee2e4,#e3e4e6)"></i><i style="background:linear-gradient(#9dbaca,#cbd7dd,#a7c0ce,#cbd7dd,#d7dee1,#d7dde1,#f0e9e7,#eee3df,#eceaea,#eae9e9,#cdd8dd,#e6e7e8,#dee1e4)"></i><i style="background:linear-gradient(#cbd6dd,#e3e5e6,#dadfe3,#dbe0e3,#cdd7dd,#c7d4db,#d1dadf,#cdd7dd,#b8cad5,#a5bfcd,#a8c1ce,#d1dadf,#dadfe3)"></i><i style="background:linear-gradient(#e4e6e7,#dae0e3,#dee2e4,#eeebeb,#ced8de,#a5bfcd,#78a8c2,#75a6c1,#7eabc3,#7facc3,#95b7c8,#c2d0d9,#d8dee2)"></i><i style="background:linear-gradient(#d5dce1,#d3dbe0,#e2e4e6,#efeceb,#cad6dc,#beced7,#84aec4,#8ab1c6,#77a7c1,#b3c8d3,#c4d2da,#cbd6dd,#d7dee2)"></i><i style="background:linear-gradient(#c1d0d9,#b9cbd5,#ccd7dd,#e8e8e9,#dfe2e5,#beced7,#7eabc3,#81adc4,#97b7c9,#cad6dc,#d0d9de,#c9d5dc,#dadfe3)"></i><i style="background:linear-gradient(#baccd5,#97b8c9,#c4d2da,#d5dde1,#e4e5e7,#d3dbe0,#bdcdd7,#c5d3da,#9fbbcb,#c4d2da,#cfd9de,#e4e5e7,#e0e3e5)"></i><i style="background:linear-gradient(#b8cad5,#83adc4,#c4d2da,#ced8de,#f1edec,#eddfdb,#efe5e2,#eee2df,#f0e9e7,#e0e3e5,#edeaea,#e4e6e7,#e6e7e8)"></i><i style="background:linear-gradient(#89b1c6,#4e90ba,#b1c7d2,#c9d5dc,#eeebeb,#eee3df,#f1ecea,#ede1dd,#f0e9e7,#e8e7e8,#e5e6e7,#e3e4e6,#e1e4e6)"></i><i style="background:linear-gradient(#4c8fba,#4389b9,#7fabc3,#c1d0d8,#e7e7e8,#eee2de,#eee4e1,#ebd8d1,#eee4e1,#f0ecec,#e0e3e5,#dde1e4,#dde1e4)"></i><i style="background:linear-gradient(#5192bb,#3880b9,#5996bc,#bdced7,#efeceb,#eddfdb,#f1eceb,#ebd9d3,#eddfda,#f1edec,#d8dee2,#d5dce1,#dbe0e3)"></i><i style="background:linear-gradient(#6fa3c0,#5393bb,#71a4c0,#c3d2d9,#f0e9e8,#edded9,#efe5e2,#ead4cd,#ebd7d1,#f0eae8,#e1e4e6,#dee2e4,#dee2e4)"></i><i style="background:linear-gradient(#9ab9ca,#78a8c2,#c4d2da,#e0e3e5,#ecdcd6,#ecdcd7,#efe5e2,#ead5ce,#ebd8d2,#f1ebea,#e8e7e8,#d6dde1,#dbe0e3)"></i><i style="background:linear-gradient(#5997bc,#5a98bc,#baccd6,#e1e4e6,#ecddd8,#eee2df,#eddeda,#ead4cd,#ecdbd6,#efe4e1,#eae9e9,#dfe2e5,#e0e3e5)"></i><i style="background:linear-gradient(#93b5c8,#5a98bc,#a2bdcc,#e7e7e8,#efe6e4,#efe7e5,#ebd7d1,#e9d3cb,#ead6cf,#eee3e0,#dbe0e3,#dde1e4,#e4e5e7)"></i><i style="background:linear-gradient(#a0bccb,#7eabc3,#a8c1ce,#e6e7e8,#efe5e1,#efe5e2,#ebd8d2,#e9d3cb,#ebd9d3,#f0e9e7,#eae9e9,#e5e6e7,#eae9e9)"></i><i style="background:linear-gradient(#c5d2da,#acc4d0,#c7d4db,#f0ecec,#efe5e1,#f1eceb,#eddfda,#ead4cd,#ede1dc,#ebe9e9,#e4e6e7,#e9e8e9,#e4e6e7)"></i><i style="background:linear-gradient(#7daac3,#b8cbd5,#e9e8e9,#f0e9e7,#eee2de,#eee2df,#edded9,#f0e9e7,#f1eceb,#e9e8e9,#efe7e4,#e9e8e9,#e4e5e7)"></i><i style="background:linear-gradient(#4c8fba,#97b8c9,#dee2e4,#eeebeb,#f0e9e7,#eee4e1,#edded9,#f1edec,#efe6e3,#ebeaea,#dfe2e5,#e6e7e8,#dee2e4)"></i><i style="background:linear-gradient(#649dbd,#a0bccb,#e5e6e7,#eceaea,#f1edec,#ecdcd6,#ecddd8,#f0eceb,#efe8e5,#edebea,#dde1e4,#e9e8e9,#dde1e4)"></i><i style="background:linear-gradient(#6ba2bf,#9dbbca,#cad6dc,#e9e8e9,#f1eceb,#efe7e5,#f1edec,#eee1dd,#ede0dc,#e0e3e5,#d1dadf,#eceaea,#d1dadf)"></i><i style="background:linear-gradient(#9fbccb,#8db3c7,#c2d1d9,#efeceb,#f0e9e7,#efe7e4,#f0ecec,#ecddd9,#efe5e2,#eceaea,#d5dce1,#e8e8e8,#d9dfe2)"></i><i style="background:linear-gradient(#cbd6dc,#b4c8d3,#d1dadf,#efe5e2,#eee2de,#f0e9e6,#ecdcd7,#ead4cd,#ecddd8,#f1edec,#eeebeb,#ebe9ea,#dfe2e5)"></i><i style="background:linear-gradient(#b2c7d2,#96b7c9,#dbe0e3,#f0e9e7,#ede0db,#e8cfc7,#dfb2a0,#e3beb0,#e5c5b9,#ecddd8,#f0eae8,#e9e8e9,#eceaea)"></i><i style="background:linear-gradient(#89b0c6,#82adc4,#c8d4db,#f0eceb,#ead6d0,#e7cabf,#deac99,#dead9a,#e5c3b7,#f0eae8,#f0edec,#eae9e9,#eeebeb)"></i><i style="background:linear-gradient(#679fbe,#7dabc3,#cbd7dd,#eae9e9,#eee2de,#e8cfc6,#e3c0b2,#deae9b,#e2bbab,#ebd9d3,#f0ecec,#eeebeb,#f0e8e6)"></i><i style="background:linear-gradient(#649ebd,#81adc4,#cbd7dd,#e4e5e7,#ede0dc,#efe5e2,#efeceb,#e6c9be,#ecdcd7,#ebd8d2,#f0eae9,#efe7e5,#efe7e4)"></i><i style="background:linear-gradient(#72a5c0,#a9c1cf,#dce1e4,#ebeaea,#f0eae8,#efe7e5,#e6e7e8,#ebd8d2,#efe8e5,#ecdcd6,#eee4e1,#f1eceb,#efe7e4)"></i><i style="background:linear-gradient(#90b4c7,#acc3d0,#dbe0e3,#f0eae9,#f0eae8,#f0eae8,#eae9e9,#e9d2ca,#ede0dc,#ebdad4,#ede0db,#edebea,#f0e9e7)"></i><i style="background:linear-gradient(#c7d4db,#c7d4db,#dde1e4,#eddfda,#f1eceb,#eee3df,#ebdad4,#e4c1b4,#e9d2ca,#ebd8d2,#eee3e0,#e3e5e6,#efeceb)"></i><i style="background:linear-gradient(#d3dbe0,#d1dadf,#d7dde1,#ead6d0,#efe5e2,#ebd9d4,#e9d0c8,#deae9b,#e6c7bb,#e8cdc4,#ede1dd,#e7e7e8,#ebe9ea)"></i><i style="background:linear-gradient(#a2bdcc,#c3d2d9,#c7d4db,#ede0db,#eee2de,#edded9,#e3bfb2,#e2bdae,#e5c4b8,#ebd9d3,#eee3df,#f1edec,#e8e7e8)"></i><i style="background:linear-gradient(#6fa4c0,#b8cad5,#c6d3da,#eee1de,#efe7e5,#eee2de,#e5c6bb,#e5c5b9,#e8cdc4,#ecdad5,#edded9,#eee3df,#eeebeb)"></i><i style="background:linear-gradient(#83adc4,#acc3d0,#dbe0e3,#f1eceb,#efe6e3,#eceaea,#e2bcad,#ebd7d0,#ebdad4,#ede0db,#ebd9d4,#f0e8e6,#f1ecea)"></i><i style="background:linear-gradient(#91b5c8,#b9cbd5,#e8e8e8,#f1edec,#eee3e0,#e9e8e9,#e7ccc3,#ead4cc,#efe6e3,#ede1dd,#efe7e4,#f0ecec,#f0ebe9)"></i><i style="background:linear-gradient(#b9cbd5,#c0cfd8,#edeaea,#efeceb,#eee3df,#eceaea,#e5c6ba,#e5c5b9,#e9d1c8,#ead6cf,#efe5e2,#eceaea,#eceaea)"></i><i style="background:linear-gradient(#bccdd6,#bccdd7,#dee2e4,#f1ebea,#efe8e6,#efe5e2,#e9d2ca,#e3bfb1,#e5c6bb,#ead5cd,#f0e9e7,#e8e8e8,#e4e5e7)"></i><i style="background:linear-gradient(#e5e6e7,#b8cbd5,#dfe2e5,#efe6e4,#eceaea,#e9d1c9,#e3beb0,#dfb3a1,#e4c0b3,#e7cabf,#ebdad4,#f0edec,#e9e8e9)"></i><i style="background:linear-gradient(#c9d5dc,#a0bccb,#dde1e4,#eee3df,#efe6e4,#e8d0c7,#e5c6bb,#e0b5a4,#e2baab,#e8cdc4,#eddfdb,#eeebeb,#f0ebe9)"></i><i style="background:linear-gradient(#d0d9de,#d9dfe2,#e8cfc7,#e8d0c7,#eee2de,#e5c6ba,#e4c0b3,#e6c6bb,#e6c8bd,#e8cec5,#eddeda,#f0ebe9,#f0ebe9)"></i><i style="background:linear-gradient(#d0d9df,#efe5e2,#dca691,#e8cec4,#ecdcd7,#e9d2ca,#e5c4b8,#e6c7bc,#e3c0b2,#e6c8bd,#eee4e1,#f1ebea,#f0eae8)"></i><i style="background:linear-gradient(#e4e5e7,#efe7e4,#e3bdaf,#ebd8d2,#f0eceb,#ebd9d3,#dfb19f,#e4c2b5,#e8cdc4,#e9d0c8,#eddfdb,#ede0dc,#ebe9e9)"></i><i style="background:linear-gradient(#e6e6e7,#e7e7e8,#ead7d0,#ede1dd,#eee4e1,#eddfdb,#daa08b,#dfb3a1,#e4c2b6,#ecddd8,#eddeda,#ede1dd,#eeebeb)"></i><i style="background:linear-gradient(#ebe9ea,#eae9e9,#f0eceb,#eee3e0,#efe5e2,#ead6d0,#d89c85,#e2baaa,#e7cbc0,#eee4e0,#ecdad5,#f0e9e7,#edebea)"></i><i style="background:linear-gradient(#f1edeb,#eceaea,#efeceb,#eee3df,#e8cdc4,#e4c2b6,#dca995,#e9d3cb,#e9d1c9,#ecddd8,#ecddd8,#f1edec,#f1edeb)"></i><i style="background:linear-gradient(#f0ebe9,#efe7e4,#efe5e1,#ede0dc,#ecdbd5,#e4c1b3,#e2bbac,#e2bbab,#e8cec4,#ebdad4,#eee2de,#eceaea,#f1ebea)"></i><i style="background:linear-gradient(#e8e8e8,#ecddd8,#e8cec4,#eee3df,#ead4cd,#e7cdc3,#e5c4b8,#e5c5b9,#e9d2ca,#eee4e1,#f0e9e6,#ebeaea,#eceaea)"></i><i style="background:linear-gradient(#e6e7e8,#edded9,#e5c6bb,#ede0dc,#ebd8d1,#e5c5b9,#dfb09e,#e3c0b2,#e8d0c7,#efe6e3,#eae9e9,#e7e7e8,#eae9e9)"></i><i style="background:linear-gradient(#e1e4e6,#ecddd9,#e6c8bd,#eddfdb,#ecdbd6,#e1b6a6,#da9f89,#e6c9be,#ebd8d1,#efe5e3,#eae9e9,#eee1de,#f1edec)"></i><i style="background:linear-gradient(#e3e5e6,#ecddd8,#e2bbac,#e6c9bf,#ead5ce,#dfb2a0,#deaf9d,#e8cdc4,#e7cac0,#e8d0c7,#f1eceb,#ecdcd7,#efe8e5)"></i><i style="background:linear-gradient(#e5e6e7,#eee4e0,#e1b8a9,#e5c6ba,#e9d1c9,#e1b7a6,#e1b8a8,#e4c2b5,#e2bbab,#ebd8d2,#eee2de,#ecdbd5,#eee2de)"></i><i style="background:linear-gradient(#edeaea,#efe7e5,#e5c4b8,#e8d0c7,#e9d3cb,#e5c4b8,#e2baab,#e0b3a2,#e1b7a6,#e8cec5,#efe7e4,#f1ecea,#ede1dd)"></i><i style="background:linear-gradient(#e8e8e8,#ede1dd,#e9d3cc,#eee3e0,#eee3df,#ead6cf,#e7cbc2,#e1b9a9,#ead5ce,#f0e9e7,#f1edec,#e9e9e9,#ecdbd5)"></i><i style="background:linear-gradient(#efe7e5,#ead6d0,#eddfdb,#eddfdb,#f0eae8,#ead6d0,#eddfdb,#e5c3b7,#efe6e3,#ecdad5,#eeebeb,#eae9e9,#eee2de)"></i><i style="background:linear-gradient(#ecdad5,#e7cac0,#e9d0c8,#ecdbd6,#ecded9,#ecddd8,#f0e9e7,#e8cdc4,#f1eceb,#ecddd8,#f0ebea,#efe6e3,#f1eceb)"></i><i style="background:linear-gradient(#eddfda,#ead6cf,#ead5cf,#ead3cc,#ecddd8,#e9d2ca,#ebd7d1,#ebdad4,#eee2de,#e9d2ca,#efe7e4,#eee2de,#dfe3e5)"></i><i style="background:linear-gradient(#ead5cd,#e7ccc2,#e7cac0,#e9d0c8,#f0e8e6,#ecdbd5,#ebdad4,#eee1dd,#efe7e4,#ead5ce,#efe7e4,#ede0db,#e6e6e7)"></i><i style="background:linear-gradient(#edded9,#e7cdc3,#e6c8be,#e9d2cb,#eceaea,#ecddd8,#ecdbd5,#f0ecec,#efe5e2,#ead4cc,#f0e8e6,#f1eceb,#f0eceb)"></i><i style="background:linear-gradient(#ecddd8,#e6c8bd,#dfb3a1,#e6c9be,#efe8e5,#ede1dc,#ecddd8,#f0e8e6,#f0e9e7,#ecdcd7,#efe6e3,#f0e9e6,#eee3e0)"></i><i style="background:linear-gradient(#efeceb,#e8cec5,#ddac99,#e8d0c8,#ebdad4,#ecdbd5,#eddfdb,#eeebeb,#efeceb,#ede0dc,#eee2de,#eee1de,#efe6e4)"></i><i style="background:linear-gradient(#eeebeb,#e7ccc2,#e1b8a9,#e9d1c8,#e9d2cb,#e7ccc2,#e5c6ba,#eee1dd,#eddfdb,#edded9,#eee4e0,#ede1dd,#efe6e3)"></i><i style="background:linear-gradient(#dde1e4,#e8d0c7,#e6c8bd,#ecddd8,#edeaea,#ebd8d2,#ead4cd,#efe5e2,#ecdbd6,#ebd7d1,#f0e9e7,#eee2df,#efe5e1)"></i><i style="background:linear-gradient(#a2bdcc,#ebd8d2,#eee3e0,#ede1dc,#b6cad4,#e2e4e6,#ecddd8,#ecdcd7,#e5c6ba,#eee1dd,#eeebeb,#e6e6e7,#efe6e3)"></i><i style="background:linear-gradient(#a2bdcc,#ebd8d1,#e9d0c8,#ede0dc,#cdd7dd,#e4e6e7,#eee4e1,#ead3cc,#ebd9d3,#ede0dc,#f0eae9,#e2e4e6,#e1e3e5)"></i><i style="background:linear-gradient(#a6c0cd,#ede0db,#e9d1c9,#eee3e0,#c3d2d9,#d6dde1,#eee3e0,#e5c5b9,#ecddd9,#efe4e1,#f1eceb,#dee2e4,#d9dfe2)"></i><i style="background:linear-gradient(#b9cbd5,#f0e8e6,#e0b5a4,#f0eae8,#c6d3db,#d4dce0,#ebd8d2,#e2bcad,#eee3e0,#eee1dd,#e8e8e8,#d6dde1,#d3dbe0)"></i><i style="background:linear-gradient(#c2d1d9,#f0eae9,#e5c5b9,#eee2df,#c3d1d9,#d7dde1,#ede0dc,#e6c7bc,#eee2de,#f0e8e6,#e8e7e8,#dde1e4,#e4e5e7)"></i><i style="background:linear-gradient(#cbd6dc,#f0eae8,#e6c9bf,#ebd8d2,#d3dbe0,#d1dadf,#ecddd8,#e7cbc2,#e7ccc2,#eee1dd,#e8e8e8,#dadfe3,#e8e7e8)"></i><i style="background:linear-gradient(#c7d4db,#efe6e3,#ebdad4,#e9d0c8,#c6d3da,#d5dce1,#eceaea,#eddfda,#e7ccc2,#ede1dc,#eceaea,#e4e5e7,#ebeaea)"></i><i style="background:linear-gradient(#c7d4db,#eee4e1,#e9d1c8,#ead5ce,#c6d3db,#e4e6e7,#f1edeb,#eddfdb,#e5c4b8,#ecddd8,#e8e8e8,#d5dce1,#e7e7e8)"></i><i style="background:linear-gradient(#c4d2da,#f0e8e6,#ead4cd,#ead5cd,#beced7,#e3e4e6,#f0e8e6,#ede0dc,#ebdad4,#f0e9e6,#edeaea,#dadfe2,#dfe2e5)"></i><i style="background:linear-gradient(#d0dadf,#eee2de,#e5c5b9,#ead6cf,#c9d5dc,#e8e8e8,#eddfda,#eee4e1,#ede0dc,#eeebeb,#eeebeb,#dbe0e3,#dbe0e3)"></i><i style="background:linear-gradient(#e0e3e5,#efe7e4,#e5c6bb,#ebd8d2,#bbccd6,#dae0e3,#ebd7d1,#eee3df,#ead5ce,#f1edec,#e9e9e9,#e7e7e8,#dadfe3)"></i><i style="background:linear-gradient(#e5e6e7,#ecdbd5,#e1b8a8,#ecddd8,#c7d4db,#f1edec,#ecddd8,#eceaea,#e6c9be,#f0e8e6,#e8e8e8,#f1edec,#dce0e3)"></i><i style="background:linear-gradient(#e0e3e5,#ead5ce,#e6c9be,#ede1dc,#d5dce0,#edeaea,#eddeda,#f0ebe9,#e1b8a8,#efe7e5,#e3e5e6,#edebea,#e0e3e5)"></i><i style="background:linear-gradient(#d6dde1,#e8cec5,#e9d3cb,#efe5e2,#dee2e4,#eeebeb,#ebd8d2,#f0e9e7,#e6c7bc,#f0eae8,#dbe0e3,#e6e7e8,#e8e7e8)"></i><i style="background:linear-gradient(#c9d5dc,#e9d2ca,#ede0dc,#edebeb,#edebeb,#efeceb,#ecddd8,#eee3e0,#ebd9d3,#f1eceb,#c8d4db,#e4e5e7,#eeebeb)"></i><i style="background:linear-gradient(#cbd6dd,#ebd9d3,#ead6cf,#eae9e9,#e4e5e7,#f1ecea,#ebdad4,#ebd7d1,#ede0dc,#eee4e0,#d3dbe0,#e1e3e5,#ebeaea)"></i><i style="background:linear-gradient(#dfe3e5,#efe6e3,#ead5ce,#f0e9e7,#e6e7e8,#f1ebea,#ebd9d3,#ead5ce,#eee2de,#ebd8d2,#e0e3e5,#e6e6e7,#e0e3e5)"></i><i style="background:linear-gradient(#e4e5e7,#efe7e5,#e6c9bf,#eddeda,#cdd8dd,#e5e6e7,#e8cfc7,#e5c4b8,#ead5cd,#ede0dc,#dde1e4,#d0dadf,#d4dce0)"></i><i style="background:linear-gradient(#e3e4e6,#efeceb,#e1b9aa,#edded9,#baccd5,#e3e5e6,#e9d1c8,#e6c8bd,#ecddd8,#eee4e1,#dbe0e3,#d4dce0,#d6dde1)"></i><i style="background:linear-gradient(#d5dce1,#efe7e5,#ddac98,#f0ebe9,#acc3d0,#e5e6e7,#ead5ce,#ead7d0,#eee4e1,#edeaea,#cfd9de,#c6d3da,#dce1e4)"></i><i style="background:linear-gradient(#e2e4e6,#f0ebea,#e2bbab,#e0e3e5,#beced7,#f0eceb,#ead4cd,#ead7d0,#f0edec,#f0eae8,#c8d4db,#bdcdd7,#dee2e4)"></i><i style="background:linear-gradient(#e9e8e9,#eee2de,#e5c6ba,#e0e3e5,#d9dfe2,#efeceb,#ead4cd,#ebd9d3,#ede0dc,#eddfda,#beced7,#b7cad4,#e0e3e5)"></i><i style="background:linear-gradient(#ebe9ea,#eee3df,#ead4cd,#f0edec,#e4e5e7,#e9e8e9,#efe6e4,#e5c6ba,#ecddd8,#ede0dc,#c9d5dc,#c8d4db,#e5e6e7)"></i><i style="background:linear-gradient(#e6e7e8,#e9d3cc,#e6c9be,#eee2df,#d9dfe2,#e5e6e7,#eee4e0,#ebd7d0,#eee2de,#ede0dc,#d3dbe0,#d1dadf,#e2e4e6)"></i><i style="background:linear-gradient(#e3e5e6,#ebd7d1,#e7cbc0,#eee4e1,#d4dce0,#e8e7e8,#f0eceb,#ead5cd,#f0ebe9,#efe8e5,#dde1e4,#d3dbe0,#dee2e4)"></i><i style="background:linear-gradient(#e0e3e5,#e9d0c8,#e9d1c9,#e7e7e8,#b4c8d3,#e1e4e6,#efe6e3,#eee2de,#f0e9e7,#eee1dd,#d7dde1,#bccdd6,#ced8de)"></i><i style="background:linear-gradient(#d7dde1,#e9d3cb,#e5c4b8,#ebeaea,#a6c0ce,#e6e7e8,#eceaea,#ede0dc,#eee2de,#eee2de,#d9dfe2,#b9cbd5,#e5e6e7)"></i><i style="background:linear-gradient(#a0bccb,#eee2de,#e2bcad,#ebd8d1,#efe6e4,#efe7e5,#edded9,#eee2de,#ead6cf,#f0ebe9,#d7dee1,#c5d3da,#d9dfe2)"></i><i style="background:linear-gradient(#9dbaca,#eeebeb,#dba490,#e3bfb2,#e8d0c7,#eee2de,#ecdad5,#f0eae8,#ebd9d3,#f1ebea,#dce1e3,#d0d9df,#e8e8e9)"></i><i style="background:linear-gradient(#b5c9d3,#f0ecec,#e1b8a8,#ecdad5,#e9d2cb,#efe8e5,#e9d2ca,#f0eae8,#ead4cd,#f1ebea,#d2dbdf,#e0e3e5,#e0e3e5)"></i><i style="background:linear-gradient(#9fbccb,#efeceb,#dfb19f,#e9d1c9,#ead4cd,#eddfda,#ead5ce,#edebea,#ecdbd5,#efe7e4,#d3dbe0,#dee2e4,#efeceb)"></i><i style="background:linear-gradient(#8cb2c6,#efe6e3,#e9d1c9,#ebd7d1,#e9d1c9,#e9d3cb,#e4c0b3,#efe7e5,#edded9,#efe6e3,#d6dde1,#e8e7e8,#e0e3e5)"></i><i style="background:linear-gradient(#95b6c8,#f0e8e6,#eddeda,#eddfda,#edded9,#e9d3cc,#e4c2b5,#eee3e0,#eee4e1,#edebea,#d8dee2,#d4dce0,#cfd9de)"></i><i style="background:linear-gradient(#97b8c9,#f0ebe9,#ede0dc,#efe7e4,#e9e8e9,#edded9,#e9d1c8,#efe6e4,#f0eae9,#e6e7e8,#d6dde1,#dfe3e5,#d5dde1)"></i><i style="background:linear-gradient(#82adc4,#ebe9ea,#ead6cf,#f0e8e6,#ebeaea,#eee2de,#eee3df,#eee1dd,#eee3e0,#dfe2e5,#ccd7dd,#d1dadf,#d6dde1)"></i><i style="background:linear-gradient(#9bbaca,#f1eceb,#ebdad4,#ede1dd,#f0ebea,#ecdbd5,#f1ebea,#efe8e5,#ede0dc,#e1e4e6,#d9dfe2,#d6dde1,#e9e8e9)"></i><i style="background:linear-gradient(#adc4d0,#f1edec,#f1eceb,#eee3df,#efe7e5,#ead5ce,#ebdad4,#eee2de,#ede0dc,#ebeaea,#e4e5e7,#cdd7dd,#e3e5e6)"></i><i style="background:linear-gradient(#a4bfcd,#f0eae8,#eee4e1,#ecdcd7,#ead6d0,#ebd7d0,#ead4cd,#ebe9e9,#f0e8e6,#edebea,#efe7e4,#dbe0e3,#efeceb)"></i><i style="background:linear-gradient(#94b6c8,#f0ebea,#ecdbd6,#e7ccc3,#e4c2b5,#ebd9d3,#ead6cf,#eae9e9,#f0e9e7,#edded9,#efe6e3,#dee1e4,#e7e7e8)"></i><i style="background:linear-gradient(#9ebbca,#f1ecea,#e8cec4,#e6c8bd,#e4c1b3,#ecdcd7,#ede1dd,#eceaea,#eeebeb,#eee2df,#f0ebe9,#d6dde1,#eceaea)"></i><i style="background:linear-gradient(#a4becd,#eeebeb,#e8cdc4,#e0b6a5,#dead9a,#ebd7d1,#efe5e2,#efe7e4,#f0ecec,#ebd8d2,#f0eae8,#c8d4db,#edebea)"></i><i style="background:linear-gradient(#b2c7d2,#f1eceb,#ead4cc,#e0b4a3,#dda995,#ebd8d2,#ecdbd5,#eee4e1,#f0ebe9,#efe7e5,#eee1dd,#d3dbe0,#efe6e3)"></i><i style="background:linear-gradient(#9cbaca,#f1eceb,#e5c4b8,#d79881,#ddaa97,#ebd9d3,#ecdbd5,#eee3df,#ebd8d2,#ecddd8,#ecddd8,#dde1e4,#f1eceb)"></i><i style="background:linear-gradient(#beced7,#f0eceb,#e5c4b8,#dca692,#e2bcad,#efe8e6,#eee2de,#eee4e1,#e6c9be,#efe7e5,#eee3df,#eceaea,#efe7e5)"></i><i style="background:linear-gradient(#99b9c9,#e2e4e6,#e2bbac,#dba591,#e6c9bf,#f1eceb,#f0eae8,#ecdcd7,#e5c4b8,#efe5e1,#efe6e3,#efe6e3,#f1eceb)"></i><i style="background:linear-gradient(#84aec5,#d1dadf,#e4c1b4,#e3bfb1,#ecdad5,#f0e9e7,#f0eae9,#ede1dd,#e4c0b3,#f0e9e7,#eee4e1,#f0e8e6,#e9e8e9)"></i><i style="background:linear-gradient(#7facc3,#d0d9de,#e2bbac,#e1b9a9,#ead6cf,#ede0db,#efe6e3,#eee2de,#e6c8bd,#efe5e2,#eee2de,#f0e8e6,#e7e7e8)"></i><i style="background:linear-gradient(#90b4c7,#d9dfe2,#e0b3a1,#e1b9a9,#ebd9d3,#efe5e1,#f0eae8,#eee3df,#ead6d0,#eee2df,#efe5e2,#edebea,#eae9e9)"></i><i style="background:linear-gradient(#b7cad4,#eeebeb,#e5c5b9,#e9d2ca,#e9d0c8,#ecdcd7,#f0eae8,#eddfdb,#ede0db,#eee2df,#f1ecea,#f0eae8,#ebeaea)"></i><i style="background:linear-gradient(#a6c0ce,#eceaea,#e5c4b7,#e9d3cc,#ebd9d3,#f1eceb,#f0ebe9,#f1ecea,#f0e9e8,#efe6e4,#ebe9ea,#f0ebea,#eceaea)"></i><i style="background:linear-gradient(#b3c8d3,#e2e4e6,#e8d0c7,#ebd9d3,#ecdcd7,#f1ecea,#ead6d0,#f1ebea,#ede1dd,#f0eae8,#f0eae9,#eee2de,#e7e7e8)"></i><i style="background:linear-gradient(#9cbaca,#d6dde1,#ebd9d3,#ead6cf,#f0ecec,#e4e5e7,#efe5e2,#f1edec,#eee3df,#efe5e3,#e9e8e9,#f0e9e7,#e0e3e5)"></i><i style="background:linear-gradient(#d38b71,#c45a40,#e4c1b4,#e4c2b6,#efe7e4,#f0eae9,#eeebeb,#dadfe3,#dadfe2,#d8dee2,#e2e4e6,#d9dfe2,#aec5d1)"></i><i style="background:linear-gradient(#3c0912,#570c1d,#e6c9bf,#e8d0c7,#eee2de,#efe5e1,#ebeaea,#cfd9de,#e3e5e6,#dfe3e5,#dfe2e5,#b0c6d2,#99b8c9)"></i><i style="background:linear-gradient(#731126,#ad312d,#e1b6a6,#e4c0b3,#ebd9d3,#eee3e0,#c4d2da,#91b5c8,#7eabc3,#97b8c9,#c8d4db,#adc4d0,#a2bdcc)"></i><i style="background:linear-gradient(#ca6d51,#cd755a,#dba591,#e5c6bb,#e9d2ca,#f0ebe9,#b5c9d4,#82adc4,#5c99bc,#90b4c7,#97b8c9,#90b4c7,#98b8c9)"></i><i style="background:linear-gradient(#d2856b,#c2553c,#c86448,#e2baaa,#ecdad5,#efe5e2,#a5bfcd,#6ea3bf,#5997bc,#71a5c0,#81adc4,#9fbbcb,#b2c7d2)"></i><i style="background:linear-gradient(#cf7b60,#cb6f54,#d07f65,#e7cbc1,#eee1dd,#ebd9d4,#eceaea,#c3d1d9,#bdced7,#cfd9de,#e0e3e5,#e7e7e8,#eee3e0)"></i><i style="background:linear-gradient(#dba591,#dda996,#e1b8a8,#eee1dd,#eddfda,#ebd9d3,#ebd8d2,#f1eceb,#f0e8e6,#eeebeb,#efe5e2,#edeaea,#ecdcd7)"></i><i style="background:linear-gradient(#e0b4a2,#e5c4b8,#e5c3b7,#efe7e5,#ecdad5,#efe7e4,#ebd7d0,#efe7e4,#f1eceb,#f1eceb,#f0ebe9,#efeceb,#f0eae8)"></i><i style="background:linear-gradient(#e1b9aa,#e7ccc2,#e8d0c7,#eee3e0,#e6c8bd,#f1eceb,#ede0db,#efeceb,#f0e9e7,#f1edec,#f0ebe9,#f1ebea,#f0ebea)"></i><i style="background:linear-gradient(#b53c2f,#cd755a,#d3896f,#e4c1b4,#e0b4a3,#eee4e0,#efe7e5,#f0eae8,#eee4e0,#eee3e0,#ebd9d3,#eee3df,#f0eae9)"></i><i style="background:linear-gradient(#a4282e,#c86448,#d48e76,#dba38e,#deaf9d,#ead3cc,#ecdbd5,#efe8e5,#ecdbd5,#ead4cd,#e6c8bd,#ebdad4,#eee3e0)"></i><i style="background:linear-gradient(#b3382e,#c05037,#cf7d62,#d99e89,#dfb19f,#ead4cc,#e9d1c9,#efe7e5,#ecdcd6,#ede0dc,#ede0dc,#ecdcd6,#f0ecec)"></i><i style="background:linear-gradient(#e0b5a4,#dfb2a1,#dfb1a0,#dca793,#dfb19f,#ead4cd,#e7cabf,#eee3df,#ebd7d0,#f1eceb,#f1ebea,#eddeda,#edded9)"></i><i style="background:linear-gradient(#cd765b,#cf7b60,#cd7459,#dba590,#dfb2a0,#efe6e3,#ebd8d1,#f0eae9,#ebd9d3,#efe7e4,#eee1dd,#ead5ce,#e9d3cc)"></i><i style="background:linear-gradient(#cf7b60,#d58f76,#d59179,#e6c8bd,#e5c3b7,#ecdcd6,#e4c3b6,#e8cec4,#e9d3cb,#ead6d0,#ead6cf,#ebd7d0,#ead5ce)"></i><i style="background:linear-gradient(#e6c7bc,#e3c0b2,#e8cec5,#ebd9d2,#e9d3cb,#ede0db,#e4c1b4,#e3bdaf,#ead4cd,#e9d1c8,#ecded9,#e9d0c8,#eddfdb)"></i><i style="background:linear-gradient(#e8cfc6,#e3bdae,#ebd8d2,#ead4cd,#e6c9be,#ecddd8,#e3beb0,#e5c6ba,#e9d2ca,#eee3df,#efe8e5,#ebdad4,#f0e9e7)"></i><i style="background:linear-gradient(#ebd7d1,#e4c0b3,#ead5ce,#e9d3cc,#e3beb0,#ead3cc,#e6c7bb,#e7cbc1,#ebd8d2,#efeceb,#efeceb,#ecddd8,#f0ecec)"></i><i style="background:linear-gradient(#e9d3cc,#e3beb0,#e8cfc6,#ebd9d3,#e8cec5,#e9d2ca,#e6c7bc,#e7cabf,#ead6cf,#eeebeb,#f1eceb,#eee2de,#e9e8e9)"></i><i style="background:linear-gradient(#e6c7bb,#ddab98,#e4c0b3,#ecdbd5,#e7ccc3,#e8cfc7,#ebd7d1,#e0b6a5,#e8cdc4,#eddfdb,#f0edec,#ede0db,#edebea)"></i><i style="background:linear-gradient(#e7cac0,#dca692,#e7ccc2,#ebd8d1,#ead4cd,#ead4cd,#ebd7d1,#dfb2a0,#ead5ce,#e9d2ca,#efeceb,#ecddd8,#efeceb)"></i><i style="background:linear-gradient(#d99e89,#da9f8a,#e8cdc4,#ecddd8,#ead4cc,#e9d1c9,#ebdad4,#e3beb0,#ebd9d3,#e9d3cb,#f0e8e6,#eee4e1,#f0e8e6)"></i><i style="background:linear-gradient(#dca793,#e4c2b5,#ead4cc,#ebd8d2,#ecdbd6,#ead5cd,#e7ccc2,#e1b9aa,#e9d1c9,#e9d2ca,#eee4e1,#f0eae8,#efe7e5)"></i><i style="background:linear-gradient(#d6927a,#ddac99,#ecddd8,#efe4e1,#eddfdb,#e8cec4,#e5c4b8,#e1b7a7,#ecddd8,#ede1dc,#f0e9e7,#eceaea,#efe5e3)"></i><i style="background:linear-gradient(#ddac99,#ddaa96,#efe6e3,#f1edec,#f0eae8,#eddeda,#e8cfc6,#e2bcad,#eee2de,#eee3df,#f1ecea,#efeceb,#efe8e6)"></i><i style="background:linear-gradient(#daa28d,#d6947c,#efe6e3,#f0eae8,#f0e8e6,#edded9,#e9d1c9,#e6c9bf,#efe7e4,#efe7e5,#f0e9e7,#edebea,#efe7e5)"></i><i style="background:linear-gradient(#dca894,#d79780,#e9d1c8,#ecddd8,#f0edec,#efe5e2,#f0e9e7,#ead5cd,#e9d2ca,#eee2de,#ecdcd7,#ebe9e9,#f0eae8)"></i><i style="background:linear-gradient(#ddab97,#da9f8a,#ead4cc,#e7cbc1,#ecdad5,#e9d1c9,#f0e9e7,#ead4cc,#e8d0c7,#ecdcd6,#ead4cd,#efe6e4,#efe5e2)"></i><i style="background:linear-gradient(#e6c7bc,#e3c0b2,#ecddd8,#ecdbd6,#e4c1b4,#e3bdaf,#f1ebea,#ede1dd,#efe8e6,#ede0dc,#edded9,#ebdad4,#eee3e0)"></i><i style="background:linear-gradient(#ebd9d3,#e7cdc3,#ede0dc,#ecdbd5,#e1b6a6,#deae9b,#ecddd8,#f1edec,#f0eae8,#ebd8d2,#eee2df,#e9d3cb,#ede1dd)"></i><i style="background:linear-gradient(#eee3df,#e5c5b9,#eddeda,#ecdcd6,#e1b9aa,#e1b8a8,#ead5cd,#eae9e9,#eee2de,#ebd9d3,#f0e9e8,#ecdcd6,#f0ebe9)"></i><i style="background:linear-gradient(#eddeda,#e4c1b3,#eee2de,#e9d2cb,#e6c7bb,#e4c2b6,#ebd9d3,#e9e8e9,#eddfdb,#ecdbd6,#f1ecea,#efe5e2,#f1ebea)"></i><i style="background:linear-gradient(#ebd7d1,#e7cbc1,#f1eceb,#ebd9d3,#e9d3cb,#e9d2cb,#eddfdb,#f1edec,#ebd7d1,#eee1dd,#f0e8e6,#eee3df,#e6e6e7)"></i><i style="background:linear-gradient(#e7cac0,#edded9,#efe6e3,#ead6cf,#ecddd7,#e9d0c8,#eddfdb,#efe7e5,#edded9,#efe6e3,#efeceb,#efe5e2,#e8e7e8)"></i><i style="background:linear-gradient(#dba590,#e3beb0,#ecdcd6,#eddfdb,#eee3e0,#ebd8d2,#efe6e3,#ede0dc,#eee2de,#efe8e5,#f0edec,#efe5e2,#eceaea)"></i><i style="background:linear-gradient(#d6957d,#e2bdae,#ebd7d1,#ede0dc,#ecdcd7,#ead6cf,#eee4e1,#f0e8e6,#efe7e4,#eee4e1,#eeebeb,#f0e8e6,#eee3e0)"></i><i style="background:linear-gradient(#d6937b,#deae9b,#ead6cf,#f0e9e7,#e4c2b6,#e4c3b6,#eddeda,#eee3df,#f0eae8,#ecdbd6,#f0edec,#eee4e1,#edded9)"></i><i style="background:linear-gradient(#e1b8a8,#e9d1c9,#eee2de,#f1ecea,#e5c6ba,#dfb19f,#ead5ce,#f0e8e6,#f1edec,#eee1dd,#edebea,#ecdcd7,#eee2de)"></i><i style="background:linear-gradient(#e3bfb2,#e6c9bf,#eee2de,#efe6e3,#e7cbc1,#dba591,#e8cfc6,#eddfdb,#eceaea,#eee4e1,#eceaea,#edded9,#eeebeb)"></i><i style="background:linear-gradient(#e2baaa,#e3beaf,#eee3df,#ede0dc,#e5c5ba,#ddaa97,#e7cbc1,#eee2de,#eae9e9,#eee4e0,#e4e6e7,#ebd9d3,#eae9e9)"></i><i style="background:linear-gradient(#e1b9a9,#e2bcad,#eddfdb,#ead5ce,#e0b3a2,#e0b5a4,#e8cfc7,#efe5e2,#efeceb,#f0e9e7,#edebea,#ecdad5,#eeebeb)"></i><i style="background:linear-gradient(#dfb19f,#e3beb0,#eee1dd,#efe6e3,#e4c2b5,#e4c3b7,#ebd7d1,#ede0db,#f0ecec,#efe8e5,#e9e8e9,#ebdad4,#efeceb)"></i><i style="background:linear-gradient(#e6c8bd,#e9d0c8,#f0ebe9,#eae9e9,#ecdbd6,#ede0db,#efe5e2,#eee3df,#ecdcd7,#f0ecec,#f0eae9,#ebd8d2,#ede0dc)"></i><i style="background:linear-gradient(#e3beb0,#e4c1b4,#efe7e5,#e4e5e7,#efe7e5,#efe6e4,#ecdcd7,#ecdcd7,#ecdcd7,#f0ebea,#f1edec,#ecdcd6,#efe6e3)"></i><i style="background:linear-gradient(#e5c5b9,#e1b7a6,#eee1dd,#eceaea,#eee2de,#eee3e0,#ead4cd,#efe5e2,#ecddd7,#eceaea,#eee2df,#ebd7d1,#ead6cf)"></i><i style="background:linear-gradient(#e1b9a9,#e2bbad,#ecdbd5,#efeceb,#f0eae9,#ead4cd,#e9d2ca,#f0eae8,#efe7e4,#e2e4e6,#eee3e0,#eee2de,#efe8e5)"></i><i style="background:linear-gradient(#e0b5a5,#e5c4b7,#ecddd8,#ebeaea,#ede0dc,#ead5ce,#ecdcd7,#f0edec,#eee3df,#e3e5e6,#f1ebea,#eee1dd,#ecdbd5)"></i><i style="background:linear-gradient(#e0b5a4,#e7cbc1,#efe6e4,#f0e9e7,#eee4e1,#eddfdb,#ebd8d1,#f0eae8,#eee3df,#e2e4e6,#f0e8e6,#efe7e5,#efe6e3)"></i><i style="background:linear-gradient(#e6c8bd,#e8cfc6,#efe6e3,#eeebeb,#e9d2ca,#ecdad4,#ead6d0,#ede0dc,#ecdcd7,#e9e8e9,#f0e9e6,#f0eae8,#edded9)"></i><i style="background:linear-gradient(#e6c9be,#e4c3b6,#f0eae8,#e5e6e7,#ead6cf,#ead5ce,#e9d0c8,#e9d3cb,#eee3df,#f0e8e6,#eee2de,#efe6e3,#ecdbd5)"></i><i style="background:linear-gradient(#e9d1c9,#e6c8bd,#eee2de,#dde1e4,#e5c6ba,#ebd9d3,#ead5ce,#ead5ce,#ecdbd6,#f0eae8,#f1eceb,#ede0dc,#ebd8d2)"></i><i style="background:linear-gradient(#ddac99,#e0b4a3,#eee3e0,#dbe0e3,#e8cec5,#ebd7d1,#e7cbc1,#e8cdc4,#f0eae8,#f1ecea,#efeceb,#ebd9d2,#ecdcd7)"></i><i style="background:linear-gradient(#dda995,#e2bbac,#eddeda,#e2e4e6,#e9d3cb,#ead6cf,#e8cec5,#ead6cf,#f1eceb,#eae9e9,#edebea,#eee3e0,#f0eceb)"></i><i style="background:linear-gradient(#d99e88,#dda996,#ecdbd5,#dfe2e4,#eee3df,#e7cdc3,#ead6d0,#e3bfb1,#f1edec,#eeebeb,#e8e8e8,#efe8e5,#f0e8e6)"></i><i style="background:linear-gradient(#dfb3a1,#e0b3a2,#eee4e0,#e8e8e8,#f0ecec,#ecdcd6,#efe5e2,#e4c0b3,#f1edec,#f1edec,#e9e8e9,#efe7e4,#eee4e1)"></i><i style="background:linear-gradient(#e0b6a5,#e6c8bc,#f0eceb,#e5e6e7,#efeceb,#eddeda,#ebd9d3,#e0b5a4,#eddfda,#ead5ce,#ead5ce,#ead6cf,#ead6d0)"></i><i style="background:linear-gradient(#e2baab,#ecdcd7,#efeceb,#dadfe2,#f0e8e6,#efe4e1,#e6c9bf,#e8d0c8,#ecdcd6,#e3bfb1,#e1b9aa,#e8cec5,#ebd9d2)"></i><i style="background:linear-gradient(#e0b3a2,#ede0dc,#edeaea,#a8c1ce,#ecddd8,#ebd7d1,#e3c0b2,#e9d1c9,#e7cac0,#e4c1b3,#e5c5b9,#ead4cd,#ebd9d2)"></i><i style="background:linear-gradient(#e2bdae,#eee4e0,#e5e6e7,#cbd6dc,#ecdcd6,#e9d3cb,#e7cbc1,#eee1dd,#ebd9d3,#e3c0b2,#e5c6ba,#e7cac0,#e8d0c7)"></i><i style="background:linear-gradient(#e4c2b5,#efe6e3,#d5dce1,#d7dde1,#efe5e2,#ebd9d3,#ecdbd6,#eee2df,#ebd9d2,#e7cbc1,#e7cac0,#e5c3b7,#e6c8bd)"></i><i style="background:linear-gradient(#e4c2b5,#efe5e2,#c1d0d8,#dbe0e3,#efe4e1,#efe7e4,#eddfda,#f0ebea,#ead5ce,#e8cfc7,#eee3e0,#e9d1c9,#e9d2ca)"></i><i style="background:linear-gradient(#e1b8a8,#e6c9be,#afc5d1,#adc4d0,#eee4e1,#f0ebe9,#ead5ce,#efe7e5,#e8cdc4,#ecdbd6,#eee4e0,#ecddd7,#ecdbd6)"></i><i style="background:linear-gradient(#e5c4b8,#e6c7bb,#dde1e4,#c5d3da,#ecddd8,#eee3e0,#e9d2ca,#efe7e5,#e4c2b6,#e7cbc1,#eee2de,#eddfdb,#f0eae8)"></i><i style="background:linear-gradient(#e7cbc0,#e3c0b2,#dfe3e5,#c8d4db,#ede1dd,#f0edec,#ebd7d0,#efe5e2,#e8cdc3,#e7cac0,#e8cec5,#ead6cf,#f0eceb)"></i><i style="background:linear-gradient(#e8cec4,#ead5cd,#e0e3e5,#cbd6dd,#ebd9d4,#edebea,#eee3df,#efe5e2,#e9d3cb,#e7cabf,#e8cdc4,#e5c3b7,#f1ecea)"></i><i style="background:linear-gradient(#e8cfc6,#ebd8d2,#c4d2da,#aec5d1,#eee2de,#efeceb,#ede0db,#edded9,#edded9,#e9d1c9,#e8cec4,#e1b8a8,#ecddd8)"></i><i style="background:linear-gradient(#e7cbc1,#ebd8d2,#c6d3da,#b1c6d2,#eee3e0,#f0e8e6,#ecdbd5,#ebd8d2,#ecdbd5,#e8cfc6,#e4c3b6,#dfb19f,#e7cbc1)"></i><i style="background:linear-gradient(#e7cbc1,#e7ccc3,#cfd8de,#a5bfcd,#efe8e5,#f1edec,#e9d3cc,#e7cdc3,#ead4cd,#e7cbc1,#e4c2b5,#dca894,#e6c6bb)"></i><i style="background:linear-gradient(#ead7d0,#ede0dc,#9cbaca,#9cbaca,#f1edec,#f0e8e6,#e8d0c7,#e7cabf,#efe6e3,#ecdbd6,#e7cac0,#e2baaa,#e8cfc7)"></i><i style="background:linear-gradient(#edded9,#dde1e4,#8ab1c6,#94b6c8,#dae0e3,#eee3e0,#e4c0b3,#e8cfc6,#efe5e2,#f0e9e7,#edded9,#e6c7bc,#e9d3cc)"></i><i style="background:linear-gradient(#efe6e3,#ccd7dd,#3e86b8,#90b4c7,#dae0e3,#efe5e2,#e3beb0,#ebd9d3,#eee4e1,#eee3e0,#ebdad4,#e8cdc4,#ebd8d1)"></i><i style="background:linear-gradient(#e8cec4,#ced8de,#69a0be,#9cbaca,#d5dce1,#edebea,#e3bdaf,#ebd7d1,#ecdcd6,#ead4cd,#ead5ce,#e5c4b8,#e9d2ca)"></i><i style="background:linear-gradient(#ead4cd,#d4dce0,#619cbd,#98b8c9,#dee2e4,#f1ecea,#e5c6bb,#ecdbd5,#edded9,#e6c9bf,#e6c9bf,#e8cec4,#ecdcd7)"></i><i style="background:linear-gradient(#e7cbc1,#e3e5e6,#609bbd,#84aec5,#c2d1d9,#efe7e4,#ead4cc,#eee1dd,#efe7e4,#ead7d0,#e5c5b9,#e4c2b5,#eee3e0)"></i><i style="background:linear-gradient(#ecdbd6,#e8e7e8,#5c99bc,#81acc4,#ccd7dd,#eee1dd,#ead5ce,#efe5e2,#ebd9d3,#eee2de,#e4c0b3,#e3beb0,#ebd9d3)"></i><i style="background:linear-gradient(#e9d0c8,#dce1e3,#6da2bf,#99b9c9,#d6dde1,#f1eceb,#ebd8d1,#eee2df,#eddfdb,#eee1de,#e4c1b4,#e0b4a3,#e9d3cb)"></i><i style="background:linear-gradient(#ebd9d3,#dce1e4,#c0d0d8,#a8c1ce,#e1e4e5,#eee2df,#e7ccc3,#ede1dd,#ead5ce,#ead5cd,#e4c0b2,#e4c1b4,#e6c8bc)"></i><i style="background:linear-gradient(#e8d0c7,#d5dce1,#78a8c2,#93b6c8,#e6e7e8,#efe5e2,#e9d1c9,#ecddd9,#eee1dd,#ead5ce,#e9d2cb,#e9d3cb,#e8cdc4)"></i><i style="background:linear-gradient(#e8cfc6,#d9dfe2,#79a9c2,#84aec4,#e0e3e5,#ede0dc,#ead6cf,#ede1dd,#ecdad5,#e9d3cb,#e6c8bd,#e9d1c9,#ebd7d0)"></i><i style="background:linear-gradient(#e8cfc6,#cbd6dc,#3d85b8,#92b5c8,#e5e6e7,#eeebeb,#eee3df,#eee4e1,#ebdad4,#e9d2ca,#e8cfc6,#e7cabf,#e9d1c9)"></i><i style="background:linear-gradient(#e8d0c8,#c8d4db,#4288b9,#a1bdcc,#dee2e4,#f1ebea,#efe8e5,#eeebeb,#ebd8d2,#e7ccc2,#e0b3a2,#e2baab,#e8cec4)"></i><i style="background:linear-gradient(#e8cdc4,#c7d4db,#3179bb,#b2c7d2,#e1e3e5,#f1edec,#eee2de,#e5e6e7,#ede0dc,#e6c8bd,#daa28d,#dca995,#e5c3b7)"></i><i style="background:linear-gradient(#e9d1c8,#c9d5dc,#5e9abd,#b8cbd5,#efeceb,#f0e9e8,#e9d0c8,#ebeaea,#efe7e4,#e7ccc3,#dfb19e,#e2bbad,#ead4cd)"></i><i style="background:linear-gradient(#ebd8d2,#ccd7dd,#8fb3c7,#c8d4db,#eceaea,#f0eae8,#e2bcad,#eeebeb,#f0eceb,#e8cfc6,#daa28d,#d99e88,#eddeda)"></i><i style="background:linear-gradient(#eee2de,#d3dbe0,#7aa9c2,#a3becc,#e8e8e8,#efe6e4,#e6c9be,#f1edec,#f1ebea,#ebd8d2,#dba38e,#dfb2a1,#f0e9e7)"></i><i style="background:linear-gradient(#ecdcd7,#dbe0e3,#70a4c0,#9cbaca,#dde1e4,#f0e8e6,#e7ccc3,#e4e6e7,#eee2de,#ebd8d2,#e1b7a7,#e6c7bc,#efeceb)"></i><i style="background:linear-gradient(#e8cec4,#cfd9de,#3c84b8,#77a7c1,#dde1e4,#efe6e3,#ebd8d2,#e5e6e7,#ecdbd6,#e9d3cc,#e5c5b9,#ede1dd,#ecdcd7)"></i><i style="background:linear-gradient(#ebd7d1,#d6dde1,#4b8eba,#7fabc3,#d9dfe2,#efe4e1,#eddfda,#eceaea,#ecdbd6,#e7ccc3,#ead5ce,#ebd9d3,#e9d0c8)"></i><i style="background:linear-gradient(#ebd7d1,#d5dce0,#4f91ba,#79a9c2,#dee2e4,#ebd9d3,#efe7e4,#eae9e9,#ebe9ea,#edded9,#e9d1c8,#e8cec5,#e9d1c8)"></i><i style="background:linear-gradient(#ede0dc,#dbe0e3,#82adc4,#adc4d0,#e9e8e9,#ecddd8,#edebea,#eceaea,#d4dce0,#ebe9e9,#e3e5e6,#f0eae8,#f1edeb)"></i><i style="background:linear-gradient(#ede0db,#cad5dc,#83aec4,#a5bfcd,#f1eceb,#efe4e1,#f0ebe9,#f0ebea,#e1e4e6,#f0e8e6,#e4e5e7,#efe8e5,#efe8e5)"></i><i style="background:linear-gradient(#efe6e3,#b2c7d2,#69a0be,#98b8c9,#ede0dc,#ecdbd6,#f0e8e6,#f0edec,#e2e4e6,#eee4e1,#e9e8e9,#f0e9e7,#efeceb)"></i><i style="background:linear-gradient(#eee3df,#c5d3da,#82adc4,#90b4c7,#f0ebea,#ecdbd6,#ebd8d2,#e0e3e5,#d8dee2,#f0eae8,#f0e8e6,#efe7e4,#efe6e3)"></i><i style="background:linear-gradient(#ebd9d3,#d9dfe2,#a0bccb,#a6c0ce,#efeceb,#ebdad4,#ead6cf,#dce1e4,#c6d3da,#dfe2e5,#f1eceb,#f0e9e7,#eee2de)"></i><i style="background:linear-gradient(#ebdad4,#e4e5e7,#d2dbdf,#cad6dc,#edebeb,#ebd8d2,#ecddd9,#e1e3e5,#dbe0e3,#d9dfe2,#f0ebea,#f0e9e7,#ebd7d0)"></i><i style="background:linear-gradient(#ede1dd,#ced8de,#a0bccb,#aec5d1,#ede0dc,#e9d2ca,#ede1dd,#eae9e9,#d7dee1,#d5dce1,#f0e9e7,#eee2de,#eddfda)"></i><i style="background:linear-gradient(#f0eae8,#c0cfd8,#7aa9c2,#a7c0ce,#ecdcd7,#ebd8d2,#f0e9e7,#efeceb,#e7e7e8,#e1e3e5,#eee3df,#ede0db,#efe4e1)"></i><i style="background:linear-gradient(#f1ecea,#c0d0d8,#7aa9c2,#8db3c7,#ebdad4,#eee2de,#f1eceb,#efe6e3,#e4e5e7,#e4e5e7,#f0eceb,#edded9,#ebe9e9)"></i><i style="background:linear-gradient(#efeceb,#d0d9df,#5d99bc,#92b5c8,#ecdbd5,#eee3e0,#efeceb,#efe7e5,#f1eceb,#eae9e9,#eceaea,#ede0db,#efe7e5)"></i><i style="background:linear-gradient(#eee3df,#d0d9de,#80acc4,#9ebbca,#eddfda,#ebd9d3,#f0e9e7,#f0ebe9,#e1e4e6,#e1e4e5,#f1edec,#ead6cf,#f0e8e6)"></i><i style="background:linear-gradient(#ead6cf,#d3dbe0,#70a4c0,#a4becc,#f0e8e6,#e6c7bc,#eee1de,#f0e9e7,#bfcfd7,#e1e4e6,#eddeda,#ebd9d3,#eee2de)"></i><i style="background:linear-gradient(#e9d2cb,#d1dadf,#ced8de,#bfcfd8,#f0ebe9,#e6c8bd,#ede0db,#efe5e2,#b6cad4,#d7dee1,#efe7e5,#edded9,#f1ebea)"></i><i style="background:linear-gradient(#ecddd8,#d4dce0,#a8c1ce,#a5bfcd,#efe6e4,#e7cac0,#efe6e3,#f0eae9,#c1d0d8,#dce1e3,#f0eae8,#ede1dd,#edebea)"></i><i style="background:linear-gradient(#ecddd8,#d7dee2,#a9c2cf,#9bb9ca,#f0e9e7,#ebd9d3,#eeebeb,#e5e6e7,#c9d5dc,#dbe0e3,#f1edec,#ebd8d2,#eceaea)"></i><i style="background:linear-gradient(#ebd8d2,#d4dce0,#87b0c5,#a3becc,#f0e8e6,#ecdcd7,#e5e6e7,#dfe2e5,#cad6dc,#dbe0e3,#f1eceb,#e7ccc3,#f1eceb)"></i><i style="background:linear-gradient(#e9d2ca,#dbe0e3,#86afc5,#aec5d1,#f0ebea,#e9d1c9,#f0e9e8,#edebea,#d8dee2,#dbe0e3,#f0eae8,#e7cabf,#edded9)"></i><i style="background:linear-gradient(#ecdcd7,#cfd9de,#67a0be,#a9c2cf,#efe6e4,#e7ccc2,#ecdcd7,#f1eceb,#cfd9de,#d9dfe2,#f0eae9,#e8cec5,#eee1dd)"></i><i style="background:linear-gradient(#ebd8d1,#eee3e0,#9cbaca,#a3becc,#e4e6e7,#efe5e2,#f0e9e7,#d8dee2,#acc3d0,#ced8de,#eae9e9,#eee3df,#eeebeb)"></i><i style="background:linear-gradient(#ebd9d2,#ebd7d1,#efe5e2,#d1dadf,#d7dde1,#dce1e4,#c0d0d8,#a6c0cd,#679fbe,#bdced7,#d7dde1,#f1ecea,#e7e7e8)"></i><i style="background:linear-gradient(#ecddd8,#eee2de,#efeceb,#d5dce1,#d7dee1,#e5e6e7,#ced8de,#b6cad4,#7fabc3,#d6dde1,#c3d2d9,#efeceb,#dadfe2)"></i><i style="background:linear-gradient(#efe5e1,#ede1dd,#e5e6e7,#cdd7dd,#e3e5e6,#eceaea,#cfd9de,#d0d9de,#a7c0ce,#e5e6e7,#d1dadf,#dee2e4,#dbe0e3)"></i><i style="background:linear-gradient(#eee2de,#ead3cc,#dde1e4,#b5c9d4,#cfd9de,#f1edec,#c8d4db,#c4d2da,#97b8c9,#b4c8d3,#beced7,#b8cbd5,#c8d5db)"></i><i style="background:linear-gradient(#ecdcd7,#e4c2b5,#e6e7e8,#bccdd6,#dee2e4,#e4e5e7,#c3d2d9,#dce1e3,#a6c0cd,#a7c1ce,#c8d5db,#a9c1ce,#c7d4db)"></i><i style="background:linear-gradient(#e8cfc6,#e0b5a4,#e4e5e7,#c4d2da,#d7dee1,#eeebeb,#abc3cf,#c4d2da,#7baac3,#a0bccb,#b4c8d3,#adc4d0,#b4c8d3)"></i><i style="background:linear-gradient(#e5c4b7,#d6957e,#e3e5e6,#bdced7,#e8e8e9,#f0ebe9,#a7c0ce,#a3becc,#85afc5,#c9d5dc,#c3d1d9,#afc5d1,#bbcdd6)"></i><i style="background:linear-gradient(#e5c6bb,#deae9b,#e2e4e6,#cbd6dd,#dfe2e5,#f0eae9,#b6cad4,#8eb3c7,#72a5c0,#b4c8d3,#bccdd6,#abc3cf,#bccdd7)"></i><i style="background:linear-gradient(#e7ccc2,#e3bfb1,#e9e8e9,#c3d1d9,#dfe2e5,#ebe9e9,#bbccd6,#87afc5,#6ca2bf,#9ebbcb,#bdced7,#a1bdcc,#c5d3da)"></i><i style="background:linear-gradient(#ead7d0,#e7ccc3,#e8e8e8,#baccd6,#e2e4e6,#e2e4e6,#dadfe3,#c6d3db,#9cbaca,#9ebbca,#becfd7,#97b8c9,#bdced7)"></i><i style="background:linear-gradient(#ead6cf,#ecdcd7,#ced8de,#acc4d0,#ccd7dd,#c8d4db,#bdced7,#c8d4db,#9dbaca,#91b5c8,#a8c1ce,#95b6c8,#d4dce0)"></i><i style="background:linear-gradient(#ebd7d1,#f0ebe9,#b0c6d2,#a6c0cd,#bbcdd6,#bfcfd8,#becfd7,#d2dadf,#d1dadf,#89b1c6,#96b7c9,#7caac3,#ced8de)"></i><i style="background:linear-gradient(#e8cdc4,#f0ecec,#c9d5dc,#b6c9d4,#d2dbe0,#d2dadf,#b1c6d2,#a7c0ce,#9bbaca,#7daac3,#94b6c8,#88b0c5,#dadfe3)"></i><i style="background:linear-gradient(#e8cdc4,#f0ebe9,#d2dadf,#c0cfd8,#ced8de,#d6dde1,#a7c0ce,#a6c0cd,#86afc5,#85afc5,#8ab1c6,#84aec4,#a8c1ce)"></i><i style="background:linear-gradient(#ead4cd,#f1ecea,#c6d3da,#c6d3da,#dae0e3,#ccd7dd,#a9c2cf,#95b6c8,#75a7c1,#9fbbcb,#8bb2c6,#79a8c2,#96b7c9)"></i><i style="background:linear-gradient(#ecdad5,#efe8e5,#b3c8d3,#c7d4db,#beced7,#d8dee2,#b9cbd5,#9cbaca,#7dabc3,#94b6c8,#8ab1c6,#8db3c7,#b2c7d2)"></i><i style="background:linear-gradient(#ebd8d1,#efe5e2,#c3d2d9,#cdd8dd,#dbe0e3,#e4e5e7,#ced8de,#b0c6d2,#abc3d0,#97b7c9,#a8c1ce,#9fbccb,#d9dfe2)"></i><i style="background:linear-gradient(#e9d3cb,#efe7e5,#c1d0d8,#c3d1d9,#d1dadf,#d7dee2,#c3d1d9,#bccdd6,#cdd8dd,#95b7c8,#bfcfd8,#adc4d0,#d9dfe2)"></i><i style="background:linear-gradient(#e5c6ba,#efe7e4,#d0dadf,#d1dadf,#dce0e3,#c2d1d9,#c1d0d8,#cad6dc,#dee2e4,#bbcdd6,#d6dde1,#a5bfcd,#b6c9d4)"></i><i style="background:linear-gradient(#e5c5b9,#eee4e1,#c0cfd8,#c0d0d8,#d8dee2,#c7d4db,#bdced7,#c1d0d8,#d4dce0,#c1d0d8,#cad5dc,#9dbaca,#a1bccb)"></i><i style="background:linear-gradient(#e5c5ba,#efe5e2,#b9cbd5,#c0cfd8,#cbd6dc,#cdd8dd,#c1d0d8,#d8dee2,#c0d0d8,#cbd6dc,#c9d5dc,#b4c8d3,#b6c9d4)"></i><i style="background:linear-gradient(#e5c5b9,#e8cec4,#efe7e4,#e8e8e8,#eddfdb,#eae9e9,#d0d9df,#e4e5e7,#9ebbca,#a6c0cd,#95b7c9,#b0c6d2,#d7dee2)"></i><i style="background:linear-gradient(#e2bbab,#dca793,#e0b4a2,#ead5ce,#ecddd8,#f0eae8,#f0eae8,#efe5e2,#b7cad4,#c0d0d8,#91b4c7,#b9cbd5,#c2d1d9)"></i><i style="background:linear-gradient(#e6c8be,#dba48f,#e8cec5,#f0e9e7,#e9d3cb,#ead6cf,#ebd9d2,#efe6e3,#c7d4db,#abc3cf,#7caac3,#a0bccb,#cfd9de)"></i><i style="background:linear-gradient(#ebd7d1,#deaf9c,#dead9a,#ede0dc,#e4c3b6,#e3beb0,#e5c6bb,#efe6e3,#ced8de,#b8cbd5,#aec4d1,#bccdd7,#ced8de)"></i><i style="background:linear-gradient(#eee1dd,#dfb2a0,#d89a84,#deae9b,#cf7d63,#d3886f,#e8cfc6,#efe5e3,#a9c2cf,#84aec5,#679fbe,#80acc4,#c0d0d8)"></i><i style="background:linear-gradient(#ecdad4,#dfb09e,#d08166,#d99d87,#d6947d,#daa28d,#e7ccc3,#efe6e3,#88b0c5,#73a6c1,#a2bdcc,#95b7c9,#a9c2cf)"></i><i style="background:linear-gradient(#ead4cd,#ddab98,#d79780,#d3896f,#d79780,#dda996,#efe5e2,#f0e8e6,#93b5c8,#7facc3,#73a5c1,#5091bb,#5c98bc)"></i><i style="background:linear-gradient(#ecdad4,#dca895,#d48e76,#d48d75,#dfb2a0,#e2bbac,#eee3df,#ebe9e9,#a4becd,#93b5c8,#9dbbca,#7aa9c2,#5c99bc)"></i><i style="background:linear-gradient(#ecdcd7,#dfb3a1,#ddab97,#d79781,#dfb3a1,#e3c0b2,#eae9e9,#e9e8e9,#becfd7,#9bbaca,#69a0be,#70a4c0,#6ea3bf)"></i><i style="background:linear-gradient(#e8cfc7,#dfb2a0,#daa18b,#dfb2a0,#e1b9aa,#e2baab,#efe6e3,#e2e4e6,#adc4d0,#84aec5,#7aa9c2,#8eb3c7,#82adc4)"></i><i style="background:linear-gradient(#e6c8bd,#e4c3b7,#dfb3a1,#e0b5a5,#e4c2b5,#e1b9a9,#efe7e4,#f1eceb,#bccdd7,#a1bdcb,#a4bfcd,#8fb3c7,#8eb3c7)"></i><i style="background:linear-gradient(#e2bbab,#dfb2a1,#d18369,#d7957e,#d59179,#d89a83,#ecdbd6,#f0e8e6,#a7c0ce,#a2bdcc,#a1bdcb,#96b7c9,#6ba2bf)"></i><i style="background:linear-gradient(#e2bdae,#dca893,#cd755a,#ca6b4f,#d07f65,#ddaa96,#eddfdb,#eee4e1,#c8d4db,#c2d0d9,#bccdd6,#9ebbcb,#83aec4)"></i><i style="background:linear-gradient(#e4c2b5,#dba38e,#cd765b,#cc7358,#ca6a4f,#daa18c,#eddfdb,#eee4e1,#d9dfe2,#a9c2cf,#adc4d0,#baccd6,#99b9c9)"></i><i style="background:linear-gradient(#e8d0c7,#dba691,#ce795e,#ca6b50,#d1846a,#e3beb1,#efe7e5,#f1ecea,#efe8e5,#afc5d1,#dadfe3,#b6cad4,#a9c2cf)"></i><i style="background:linear-gradient(#ecdcd6,#deaf9c,#d99c86,#d38b72,#d99d87,#e1b7a7,#f0e8e6,#e6e6e8,#eceaea,#b1c7d2,#e2e4e6,#dee2e4,#c2d1d9)"></i><i style="background:linear-gradient(#e9d2ca,#e3bdaf,#e5c5b9,#e8d0c7,#e5c5b9,#e3bfb1,#eee3df,#e0e3e5,#e7e7e8,#afc5d1,#d7dee1,#a6c0ce,#9ebbcb)"></i><i style="background:linear-gradient(#e7ccc2,#e8cec5,#eee3e0,#efe7e5,#edded9,#ead5cf,#ead6d0,#e3e5e6,#b9cbd5,#9ab9ca,#cbd6dd,#b8cbd5,#b1c7d2)"></i><i style="background:linear-gradient(#e6c6bb,#e8cec5,#efe5e2,#ead5ce,#e8cfc6,#ead4cd,#eee2de,#e9e8e9,#bdced7,#9cbaca,#a1bdcb,#90b4c7,#92b5c8)"></i><i style="background:linear-gradient(#e2bbab,#ecdbd6,#efe5e1,#e8cec5,#e7cbc0,#ead5ce,#efe5e2,#edeaea,#baccd5,#7caac3,#95b7c8,#92b5c8,#a2bdcc)"></i><i style="background:linear-gradient(#e1b6a6,#ecddd8,#ead6cf,#e7cac0,#e4c0b3,#e5c4b7,#eee4e0,#e9e8e9,#c3d2d9,#8bb1c6,#8db3c7,#90b4c7,#9ab9ca)"></i><i style="background:linear-gradient(#dba691,#ead5ce,#e7cbc1,#ead4cd,#e6c8be,#e6c9bf,#ead5ce,#f0eae9,#bfcfd8,#95b7c9,#c3d2d9,#d8dee2,#e1e3e5)"></i><i style="background:linear-gradient(#e0b5a4,#e4c2b5,#e9d1c9,#ebd8d2,#ead3cc,#ede0dc,#ead5ce,#f0eae9,#b6cad4,#b8cbd5,#d8dee2,#eeebeb,#dfe2e5)"></i><i style="background:linear-gradient(#dca894,#e3c0b2,#e9d1c8,#eee2df,#ede0db,#eddfda,#ebd9d3,#efe5e2,#becfd7,#baccd6,#c5d2da,#d3dbe0,#c9d5dc)"></i><i style="background:linear-gradient(#e1b8a8,#e3bdaf,#e9d3cc,#efe5e2,#eee1de,#ebd9d3,#ebd9d3,#eee3df,#b0c6d1,#89b0c6,#88b0c5,#afc5d1,#b4c8d3)"></i><i style="background:linear-gradient(#d99e88,#e5c6ba,#e8cdc4,#eee4e1,#ecdcd6,#e9d2ca,#ead4cd,#f0e8e6,#9fbccb,#80acc4,#83adc4,#a5bfcd,#afc5d1)"></i><i style="background:linear-gradient(#e0b6a5,#e4c3b6,#e5c4b8,#e4c1b4,#e9d1c8,#ecddd8,#eee3e0,#dee1e4,#7daac3,#89b0c6,#88b0c5,#abc2cf,#d7dee1)"></i><i style="background:linear-gradient(#e2bdae,#ebd8d1,#e3beb0,#dfb19f,#e7cabf,#f1ecea,#e8e8e8,#d9dfe2,#b4c8d3,#c3d1d9,#adc4d0,#a2bdcc,#9dbbca)"></i><i style="background:linear-gradient(#e1b8a9,#e3bdaf,#e0b5a4,#dead9a,#e7ccc2,#eddfdb,#e8e8e8,#e1e3e5,#d2dadf,#e2e4e6,#e0e3e5,#c5d3da,#d1dadf)"></i><i style="background:linear-gradient(#dda995,#dba38e,#e0b5a4,#e5c5b9,#ecdcd6,#efe6e3,#e9e8e9,#cdd7dd,#e2e4e6,#d6dde1,#c9d5dc,#9ebbcb,#a2bdcc)"></i><i style="background:linear-gradient(#dba591,#d7967f,#e4c1b4,#e6c7bc,#f0eae8,#eee4e1,#edeaea,#c1d0d8,#c2d1d9,#baccd5,#a4becc,#90b4c7,#a0bccb)"></i><i style="background:linear-gradient(#e5c5b9,#e1b7a7,#e6c9bf,#e4c2b5,#f0e8e6,#eceaea,#eceaea,#c9d5dc,#a9c2cf,#a8c1ce,#7facc3,#7caac3,#7eabc3)"></i><i style="background:linear-gradient(#ead4cc,#e0b5a4,#ddab97,#e0b4a3,#ede1dc,#f0ebea,#f1edec,#c7d4db,#ced8de,#a8c1ce,#79a8c2,#77a7c1,#7baac3)"></i><i style="background:linear-gradient(#e8cfc7,#e6cabf,#e9d2ca,#ecdbd5,#eddfda,#eee3e0,#eceaea,#b8cbd5,#b4c8d3,#89b1c6,#4c8fba,#619cbd,#7aa9c2)"></i><i style="background:linear-gradient(#e6c6bb,#e3bfb1,#efe4e1,#ecddd9,#ecddd8,#e8d0c7,#f1ebea,#9bbaca,#b8cbd5,#9cbaca,#76a7c1,#629dbd,#75a7c1)"></i><i style="background:linear-gradient(#e6c9be,#e2bbac,#ede0dc,#e6c8bc,#ecdad5,#e8cec5,#ebe9e9,#a6c0cd,#85afc5,#92b5c8,#73a6c1,#7facc3,#83adc4)"></i><i style="background:linear-gradient(#e5c6ba,#dca692,#dfb2a1,#ddaa97,#ecdcd7,#ead6cf,#f0eae8,#b0c6d2,#98b8c9,#c0d0d8,#c9d5dc,#cbd6dc,#92b5c8)"></i><i style="background:linear-gradient(#e9d3cb,#daa18c,#daa28c,#dfb2a1,#eddfda,#ede0dc,#f0eae9,#c0cfd8,#9dbbca,#c0d0d8,#a6c0cd,#ccd7dd,#b8cbd5)"></i><i style="background:linear-gradient(#ead4cc,#e0b3a2,#e7cabf,#e9d2ca,#eddeda,#ecdbd5,#eee1dd,#d7dde1,#dce0e3,#baccd6,#7daac3,#8cb2c6,#9bbaca)"></i><i style="background:linear-gradient(#ebd7d1,#e3bdaf,#ead5cf,#ecdcd7,#ecdbd5,#ecded9,#eee4e1,#d8dee2,#ced8de,#a6c0ce,#73a5c0,#8ab1c6,#a1bdcb)"></i><i style="background:linear-gradient(#e8cec5,#ead5cd,#e9d1c8,#ede0dc,#ebdad4,#eddfdb,#f1eceb,#dee2e4,#ced8de,#8cb2c6,#69a1be,#659ebe,#88b0c5)"></i><i style="background:linear-gradient(#e6c7bc,#e3bfb1,#e4c2b6,#e7cac0,#e8cec4,#ebd7d0,#efeceb,#c7d4db,#90b4c7,#88b0c5,#8db2c7,#a9c1cf,#adc4d0)"></i><i style="background:linear-gradient(#e4c0b3,#deb09d,#e2bbac,#e1b9a9,#e6c9bf,#e9d3cc,#f1ecea,#c9d5dc,#9fbccb,#8ab1c6,#7caac3,#aac2cf,#afc5d1)"></i><i style="background:linear-gradient(#e2bbad,#d6937c,#e3bdae,#e2baaa,#e4c3b7,#ecdbd5,#e9e8e9,#c4d2d9,#91b4c7,#7dabc3,#74a6c1,#d4dce0,#b5c9d4)"></i><i style="background:linear-gradient(#e7cac0,#d79780,#e3beb0,#e3bdae,#e6c7bc,#efe6e3,#e9e8e9,#b5c9d3,#78a8c2,#6fa4c0,#85aec5,#c4d2da,#bdced7)"></i><i style="background:linear-gradient(#eee4e1,#e1b7a7,#e4c0b2,#e0b4a3,#e6c8bd,#eee3e0,#dee2e4,#b3c8d3,#7aa9c2,#6fa4c0,#95b7c8,#bfcfd8,#c6d3db)"></i><i style="background:linear-gradient(#ede1dd,#e3beaf,#e1b8a9,#e5c4b8,#ead6d0,#f0eae8,#e5e6e7,#c9d5dc,#8ab1c6,#87b0c5,#a1bdcb,#b3c8d3,#c6d3da)"></i><i style="background:linear-gradient(#ead5ce,#e3bdaf,#dead9a,#e6c7bb,#eddfdb,#f0eae9,#ebe9e9,#eeebeb,#d9dfe2,#bfcfd8,#adc4d0,#a2bdcc,#94b6c8)"></i><i style="background:linear-gradient(#e6c9be,#dca692,#dfb3a1,#e8cec4,#ead7d0,#f0eceb,#f1ecea,#e9e9e9,#e1e4e6,#cad5dc,#8cb2c6,#7baac2,#76a7c1)"></i><i style="background:linear-gradient(#e7cabf,#d48d75,#d2866c,#dca792,#e6c9be,#f0ecec,#f0ebe9,#dfe3e5,#d5dce0,#c0d0d8,#8eb3c7,#76a7c1,#629cbd)"></i><i style="background:linear-gradient(#e7cbc1,#d08167,#d2856b,#deae9b,#e5c5b9,#ebeaea,#edebeb,#cad6dc,#beced7,#b2c7d2,#b2c7d3,#a6c0cd,#89b1c6)"></i><i style="background:linear-gradient(#e8cec5,#d48c73,#cf7c62,#e2baab,#e7cbc1,#efe6e3,#e9e8e9,#b6cad4,#8bb1c6,#93b5c8,#b7cad4,#abc3d0,#7facc3)"></i><i style="background:linear-gradient(#e6c6bb,#e0b6a6,#ddab98,#e5c5b9,#e5c5b9,#ecdcd7,#efeceb,#ccd7dd,#a9c1ce,#7caac3,#9dbbca,#a5bfcd,#74a6c1)"></i><i style="background:linear-gradient(#e5c4b8,#e4c2b6,#dfb2a0,#ddac98,#dca793,#ead6cf,#f0eae8,#e7e7e8,#c1d0d8,#92b5c8,#79a8c2,#70a4c0,#488cb9)"></i><i style="background:linear-gradient(#e4c1b4,#e6c6bb,#dfb19f,#deae9b,#dfb09e,#f1edec,#efe6e3,#edeaea,#dce0e3,#9fbbcb,#84aec5,#80acc3,#68a0be)"></i><i style="background:linear-gradient(#ead3cc,#d99e88,#d07f65,#d79780,#e0b6a6,#f1edec,#efe7e4,#f0e8e6,#ccd7dd,#c5d2da,#baccd6,#a8c1ce,#8bb1c6)"></i><i style="background:linear-gradient(#e5c5b9,#d89a84,#d89a84,#e7cdc3,#ecdbd6,#f0ebea,#eee4e1,#e7e7e8,#b4c8d3,#cdd8dd,#9cbaca,#a8c1ce,#83adc4)"></i><i style="background:linear-gradient(#e0b5a4,#d48c73,#dba490,#e1b7a7,#ede0db,#eee3df,#efe7e4,#eae9e9,#c5d3da,#d6dde1,#b9cbd5,#a5bfcd,#649ebd)"></i><i style="background:linear-gradient(#e1b8a8,#d7957e,#e1b7a7,#e2baab,#ead5ce,#f0eae8,#eee4e1,#d4dce0,#dbe0e3,#dce0e3,#96b7c9,#6ea3c0,#609bbd)"></i></div>
<div class="f" style="top:775.3px;height:438.5px"><i style="background:linear-gradient(#e2e4e6,#adc4d0,#7ba9c2,#99b8c9,#ebe9ea,#f1edeb,#d7dee1,#d9dfe2,#d5dce0,#c8d4db,#d0dadf,#c2d1d9,#c3d2d9)"></i><i style="background:linear-gradient(#e4e5e7,#c7d4db,#a6c0ce,#afc5d1,#dee2e4,#e5e6e7,#d9dfe2,#cfd9de,#d2dbe0,#c4d2da,#d7dee1,#d1dadf,#b8cbd5)"></i><i style="background:linear-gradient(#e8e8e8,#cbd6dc,#98b8c9,#8eb3c7,#c3d1d9,#d3dbe0,#c5d3da,#a4becd,#a8c1ce,#99b8c9,#c4d2d9,#c6d3da,#b9cbd5)"></i><i style="background:linear-gradient(#d9dfe2,#cad5dc,#89b1c6,#8eb3c7,#9fbccb,#d0d9de,#acc3d0,#88b0c6,#94b6c8,#89b1c6,#b1c7d2,#b9cbd5,#cdd8dd)"></i><i style="background:linear-gradient(#d5dce0,#c4d2da,#89b1c6,#b8cbd5,#c7d4db,#e0e3e5,#bccdd6,#a2bdcc,#abc3d0,#afc5d1,#cad6dc,#c0cfd8,#e9e8e9)"></i><i style="background:linear-gradient(#c7d4db,#baccd6,#90b4c7,#c0d0d8,#bbcdd6,#d8dee2,#a5bfcd,#8ab1c6,#96b7c9,#aac2cf,#ccd7dd,#c6d3db,#dee2e4)"></i><i style="background:linear-gradient(#ced8de,#dbe0e3,#c4d2da,#d8dee2,#e3e5e6,#dee2e4,#c5d3da,#aac2cf,#8bb1c6,#9bbaca,#d9dfe2,#d8dee2,#d2dadf)"></i><i style="background:linear-gradient(#d9dfe2,#dde1e4,#bbccd6,#a6bfcd,#d2dadf,#d9dfe2,#c8d4db,#90b4c7,#76a7c1,#7facc3,#b9cbd5,#d8dee2,#c9d5dc)"></i><i style="background:linear-gradient(#dbe0e3,#e1e4e5,#c3d1d9,#9ab9ca,#d0d9de,#e0e3e5,#efeceb,#ccd7dd,#9ab9ca,#9ebbca,#b8cbd5,#d9dee2,#bccdd7)"></i><i style="background:linear-gradient(#e1e3e5,#d3dbe0,#cdd8dd,#a3becc,#d0d9de,#e1e4e6,#e2e4e6,#aec5d1,#a7c0ce,#c1d0d8,#c0d0d8,#cdd8de,#baccd6)"></i><i style="background:linear-gradient(#d8dee2,#ced8de,#d0d9df,#b5c9d4,#c2d1d9,#d5dce0,#c4d2d9,#a3becc,#cad6dc,#d4dce0,#bdcdd7,#c2d1d9,#b5c9d3)"></i><i style="background:linear-gradient(#dadfe2,#c1d0d8,#dee2e4,#e2e4e6,#dde1e4,#dee2e4,#abc3d0,#7fabc3,#b0c6d2,#b4c8d3,#c5d3da,#c6d3db,#c9d5dc)"></i><i style="background:linear-gradient(#ccd7dd,#b4c8d3,#b9cbd5,#bbccd6,#bfcfd8,#ccd7dd,#aac2cf,#85afc5,#bdced7,#b8cbd5,#b8cbd5,#c9d5dc,#d4dce0)"></i><i style="background:linear-gradient(#d8dee2,#afc5d1,#aac2cf,#d3dbe0,#c4d2da,#d7dee2,#b6c9d4,#9ebbcb,#b2c7d2,#a6c0cd,#baccd6,#c3d1d9,#d8dee2)"></i><i style="background:linear-gradient(#dee2e4,#c5d3da,#97b8c9,#b2c7d2,#baccd6,#cdd7dd,#b5c9d4,#a8c1ce,#beced7,#c7d4db,#cdd8dd,#bccdd7,#e5e6e7)"></i><i style="background:linear-gradient(#e2e4e6,#bccdd6,#8ab1c6,#c4d2da,#cdd8dd,#d6dde1,#baccd5,#d2dbe0,#cad6dc,#c8d5db,#e2e4e6,#c4d2da,#d8dee2)"></i><i style="background:linear-gradient(#cfd9de,#bbccd6,#87b0c5,#b3c7d3,#cfd9de,#d3dbe0,#bdced7,#e1e3e5,#d3dbe0,#d8dee2,#e7e7e8,#beced7,#bbcdd6)"></i><i style="background:linear-gradient(#c0d0d8,#b5c9d4,#8bb1c6,#bbcdd6,#c8d4db,#c9d5dc,#b4c8d3,#e5e6e7,#ccd7dd,#d6dde1,#d7dde1,#b2c7d2,#a6bfcd)"></i><i style="background:linear-gradient(#bbccd6,#c7d4db,#b9cbd5,#cad6dc,#c2d1d9,#c5d3da,#c1d0d9,#d7dde1,#b6cad4,#c0cfd8,#b8cbd5,#a3becc,#aac2cf)"></i><i style="background:linear-gradient(#d5dce0,#c7d4db,#b4c8d3,#c2d1d9,#c1d0d8,#d9dfe2,#d8dee2,#b9ccd5,#9fbbcb,#a1bccb,#98b8c9,#94b6c8,#a8c1ce)"></i><i style="background:linear-gradient(#cad6dc,#c4d2da,#b6c9d4,#c8d4db,#d9dfe2,#f0eae8,#dfe2e5,#a3becc,#7aa9c2,#8db3c7,#90b4c7,#a6bfcd,#b7cad4)"></i><i style="background:linear-gradient(#cad6dc,#eeebeb,#abc3d0,#f1edec,#efe5e2,#e5c5ba,#efe7e5,#bbccd6,#84aec5,#9ebbcb,#aac2cf,#b3c8d3,#cad6dc)"></i><i style="background:linear-gradient(#b4c8d3,#eceaea,#b3c8d3,#e9e8e9,#f0e8e6,#e9d2ca,#efe7e5,#dde1e4,#9fbbcb,#a5bfcd,#c3d1d9,#bdced7,#d3dbe0)"></i><i style="background:linear-gradient(#baccd5,#f0e8e6,#acc3d0,#e9e8e9,#f0e9e6,#efe5e2,#f1edec,#dadfe3,#c2d1d9,#bbccd6,#e0e3e5,#ccd7dd,#d7dee1)"></i><i style="background:linear-gradient(#bbccd6,#f1edec,#d8dee2,#e8e8e8,#f1edec,#ebe9e9,#f0eceb,#d1dadf,#aec5d1,#b5c9d4,#d9dfe2,#c6d3da,#c9d5dc)"></i><i style="background:linear-gradient(#d3dbe0,#f0e8e6,#d7dee1,#f0ebe9,#eee3e0,#efe7e4,#eceaea,#c0cfd8,#9ebbcb,#a6c0ce,#d1dadf,#d1dadf,#d0d9df)"></i><i style="background:linear-gradient(#dfe2e5,#efe7e5,#e7e7e8,#efe5e2,#eae9e9,#efeceb,#f0eae8,#cbd6dd,#a9c1cf,#9fbbcb,#c5d2da,#c3d1d9,#cbd6dd)"></i><i style="background:linear-gradient(#dde1e4,#efe6e3,#c7d4db,#efe6e4,#eeebeb,#efe5e2,#eae9e9,#cad6dc,#c8d4db,#c5d3da,#d8dee2,#cfd9de,#d8dee2)"></i><i style="background:linear-gradient(#eeebeb,#eee2df,#e3e5e6,#efe7e4,#e7e7e8,#efe7e5,#eeebeb,#cfd9de,#e2e4e6,#e5e6e7,#e0e3e5,#e6e7e8,#e5e6e7)"></i><i style="background:linear-gradient(#ede0db,#ead5cd,#ead5cd,#ead5ce,#ead4cd,#e6c7bc,#ead4cc,#ecdbd6,#e9d3cb,#e8cec4,#efe5e2,#e9d2ca,#ede1dd)"></i><i style="background:linear-gradient(#ebd9d3,#e9d1c9,#ddac99,#e8cec5,#e4c3b6,#e6c8bd,#e6c9bf,#e4c2b5,#e1b9a9,#e6c6bb,#ead5ce,#e4c2b6,#e9d1c9)"></i><i style="background:linear-gradient(#e3beb0,#e9d3cb,#ddaa97,#e6c8bd,#e3beb0,#e6c7bc,#e6c7bc,#e0b5a5,#ddac99,#e1b7a6,#e4c1b4,#e8cfc6,#e7cac0)"></i><i style="background:linear-gradient(#e4c3b6,#ecddd8,#e2bbac,#e8d0c7,#e7ccc2,#ede0dc,#ebd9d3,#dead99,#dfb09d,#e0b3a1,#e8cec4,#ead6cf,#e6c7bc)"></i><i style="background:linear-gradient(#e6c8bd,#f0e8e6,#ead3cc,#e4c2b5,#e8cec5,#efe5e2,#ecdcd7,#deaf9d,#ddaa96,#e1b8a8,#ecddd8,#efe5e2,#e8cec5)"></i><i style="background:linear-gradient(#ecddd9,#f1edec,#ead5cf,#e8cdc3,#e6c7bb,#f0edec,#ecdad4,#e7cbc1,#e5c3b7,#e9d0c8,#e6e6e7,#f0e9e7,#ecddd8)"></i><i style="background:linear-gradient(#e9d1c8,#ecdbd5,#e1b8a9,#e3beb0,#e4c2b5,#f0ebea,#eddfda,#ebd7d1,#edded9,#eddeda,#eceaea,#f1ecea,#eddfda)"></i><i style="background:linear-gradient(#e4c2b5,#e8cfc6,#e0b5a4,#e4c3b6,#e7cabf,#efe7e4,#ebd8d2,#e8d0c7,#e9d3cb,#ead4cd,#efe8e5,#edebea,#eddfdb)"></i><i style="background:linear-gradient(#e0b3a2,#e7cac0,#e4c1b4,#e6c7bb,#ecdcd7,#ede0dc,#e7cbc0,#e0b5a4,#e1b8a8,#e5c4b8,#e7cac0,#ecdad5,#ead6cf)"></i><i style="background:linear-gradient(#dfb2a0,#e9d3cb,#e7cbc1,#e9d2ca,#ecdad5,#e8cec4,#e2baab,#e1b7a7,#e1b7a7,#e4c1b4,#e5c5b9,#ecdcd6,#efe7e4)"></i><i style="background:linear-gradient(#e2bbac,#ebd9d3,#e5c4b8,#e6c7bb,#e7ccc2,#e5c6bb,#e1b9a9,#e1b7a7,#e3bdae,#e9d1c8,#e9d1c8,#ecdad5,#eee3df)"></i><i style="background:linear-gradient(#e9d1c9,#ead6cf,#e3beb0,#e2bbac,#e6c9bf,#e6c7bb,#e5c4b8,#e5c6bb,#ead3cc,#e8d0c7,#ede0dc,#ecddd8,#eee4e1)"></i><i style="background:linear-gradient(#eee3e0,#ebd9d3,#e4c2b5,#dfb3a1,#e4c0b3,#e6c8be,#e6c9be,#e7cbc1,#f0e9e7,#efe6e4,#f0e9e7,#eee2df,#ead6cf)"></i><i style="background:linear-gradient(#f0eae8,#e7cdc3,#e4c3b6,#e5c6ba,#e8cec5,#ebd8d2,#e9d3cb,#ede0db,#efeceb,#efe6e3,#efe4e1,#eddfdb,#e8cec5)"></i><i style="background:linear-gradient(#eee2df,#e8cfc6,#e8cfc6,#e4c2b5,#e7cbc1,#ecddd8,#ecdbd6,#eceaea,#eeebeb,#efe7e5,#ecddd8,#efe7e4,#ead6cf)"></i><i style="background:linear-gradient(#e9d1c9,#ebd7d1,#e6c9be,#e3bdaf,#e8cdc4,#ecdcd7,#e7cac0,#ecddd8,#ede0db,#efe8e5,#ecdbd5,#f0eceb,#e9d1c9)"></i><i style="background:linear-gradient(#e8cfc6,#f0ebea,#e8d0c8,#e2bbac,#e7cac0,#eddfda,#e6c7bb,#e8cdc4,#e9d1c9,#ead5cd,#ecdcd7,#ede0dc,#e8cdc4)"></i><i style="background:linear-gradient(#e5c6ba,#f0e8e6,#ead4cd,#ead5ce,#e8cdc4,#ecdbd5,#e4c1b4,#e3beaf,#e3bfb2,#e8cec5,#f0e9e7,#ebd7d1,#e4c2b5)"></i><i style="background:linear-gradient(#e7cbc1,#eee3df,#eee3df,#eee3e0,#ead4cc,#edded9,#e7cac0,#e6c7bb,#e1b9a9,#e6cabf,#ecddd8,#e8cec5,#e7ccc2)"></i><i style="background:linear-gradient(#e3bfb2,#e9d0c8,#efe6e4,#f1eceb,#eee1dd,#ebd8d1,#e6c9be,#e5c5b9,#e1b6a6,#ebd9d2,#ede1dd,#eee4e1,#ebd7d1)"></i><i style="background:linear-gradient(#e2baab,#ead5ce,#ecdcd6,#ebd9d3,#ebd8d1,#e9d3cb,#e3bfb2,#e4c3b7,#e0b5a4,#e7cbc1,#ede0dc,#f0eae9,#ebd9d2)"></i><i style="background:linear-gradient(#e4c1b4,#ebd9d3,#ead3cc,#e7cbc1,#ecdad5,#ecddd8,#e5c4b8,#e1b9a9,#ddaa96,#e7ccc3,#eee3df,#ebdad4,#e9d1c9)"></i><i style="background:linear-gradient(#e5c6ba,#edded9,#e7ccc2,#e4c2b5,#ead4cd,#ead6d0,#e7cbc1,#e4c1b4,#dead9a,#e6c7bb,#e9d2ca,#e8cec4,#e5c4b8)"></i><i style="background:linear-gradient(#e8cec5,#efe5e2,#e6c8bd,#e5c5ba,#eee3df,#ecddd8,#ead6cf,#e3bfb1,#deaf9c,#e7cac0,#e5c6ba,#e4c0b2,#e2bcae)"></i><i style="background:linear-gradient(#e7cac0,#ebd8d2,#e6c9bf,#e7ccc3,#eee3df,#e8cec5,#e9d2ca,#e6c8bd,#e2bcad,#e7cbc0,#ead4cd,#e8cfc6,#e2bcae)"></i><i style="background:linear-gradient(#e8d0c8,#ede0dc,#e7ccc2,#e6c7bc,#ede0dc,#e5c4b7,#e5c5b9,#e7cabf,#e2baaa,#e9d2ca,#eee4e1,#e5c6bb,#e5c6ba)"></i><i style="background:linear-gradient(#ecddd8,#ead7d0,#ecdcd7,#e7cbc1,#ebd9d3,#e1b8a8,#e5c5b8,#e6c9bf,#e5c6ba,#ebd8d2,#eee4e1,#e5c6ba,#e6c6bb)"></i><i style="background:linear-gradient(#ecdcd7,#ebd7d1,#e9d1c8,#ead4cc,#ebd9d3,#e8cdc4,#e9d1c8,#e8d0c7,#e8cec5,#ecddd8,#eee3e0,#e7cbc1,#e5c6ba)"></i><i style="background:linear-gradient(#ebd7d1,#e5c4b8,#ebdad4,#ecddd8,#ecdad5,#e7ccc3,#e6c9be,#e5c4b8,#e9d1c9,#ebd8d2,#e7ccc2,#e8cec5,#e5c6ba)"></i><i style="background:linear-gradient(#e5c3b7,#e3bdae,#e6c9be,#ebd8d2,#ede0dc,#e8d0c7,#e8cdc4,#e4c2b5,#ebd7d0,#ead4cd,#e7ccc2,#e7ccc2,#e7ccc2)"></i><i style="background:linear-gradient(#e8cec5,#e3c0b2,#ebd9d3,#e8d0c7,#efe5e2,#e6cabf,#e5c3b7,#e1b6a6,#e7cabf,#e8cec5,#e1b8a8,#e6c7bc,#e7ccc2)"></i><i style="background:linear-gradient(#e8cfc7,#e5c4b8,#e5c4b8,#e5c4b7,#ead6d0,#e5c5b9,#e5c4b7,#e2bbac,#e4c1b4,#e8d0c7,#e6c9be,#e8cfc6,#ecdad5)"></i><i style="background:linear-gradient(#edded9,#e8cfc7,#e7cbc2,#e8cec5,#e8cec4,#e7cbc1,#e0b4a3,#e7ccc2,#ddab97,#e8cec5,#e2bbac,#e7cabf,#edded9)"></i><i style="background:linear-gradient(#e5c6ba,#e8cec5,#e3beb0,#e8cec5,#e5c6ba,#e6c6bb,#e4c2b5,#ede0dc,#e3bdae,#e8d0c7,#e3bdaf,#e5c4b8,#ecdbd6)"></i><i style="background:linear-gradient(#e6c7bb,#ecdcd7,#ead6cf,#edded9,#efe5e2,#edded9,#ebd9d3,#f0e9e7,#ebdad4,#ebdad4,#e1b8a8,#e3beb0,#e8cfc6)"></i><i style="background:linear-gradient(#e5c6ba,#ebdad4,#ebd9d3,#e8d0c7,#ecddd8,#e8cfc6,#ead6d0,#ebd8d2,#eee3df,#ecdad5,#e9d1c9,#ede0dc,#ead6cf)"></i><i style="background:linear-gradient(#ead5cf,#ebd7d1,#f1ecea,#eee1dd,#f0e9e6,#e6c9bf,#e6c7bb,#e7cbc0,#e9d2ca,#e9d3cb,#ecdcd7,#ecddd7,#ebdad4)"></i><i style="background:linear-gradient(#e9d1c9,#ecdcd7,#f0e8e6,#e9d3cb,#e8cec4,#e0b4a2,#e3bdaf,#e9d3cb,#e7ccc2,#ebd9d3,#eee4e1,#eee3e0,#f0e9e6)"></i><i style="background:linear-gradient(#e8d0c8,#ecdbd5,#ede0db,#ebdad4,#e4c3b6,#e3bfb2,#e7cac0,#ebd8d2,#e9d1c8,#ebdad4,#ebd9d3,#e6c8bc,#ecdbd6)"></i><i style="background:linear-gradient(#e5c6ba,#ead3cc,#e4c2b6,#e5c3b7,#dfb09d,#dca995,#e8d0c8,#ebdad4,#ecddd8,#efe5e2,#e4c1b4,#e3bfb2,#ede0db)"></i><i style="background:linear-gradient(#e8cfc7,#e2bcad,#dfb1a0,#e7cbc1,#e1b7a7,#ddab97,#e6c7bc,#e8d0c7,#efe7e4,#ede0db,#e1b9a9,#ddaa96,#ebd8d2)"></i><i style="background:linear-gradient(#edded9,#e3bfb1,#e1b8a8,#e6c8bc,#deae9b,#deb09d,#ecdcd7,#ede0db,#f0ebea,#ead6d0,#dda996,#e1b6a6,#ebd8d1)"></i><i style="background:linear-gradient(#e9e9e9,#ead6cf,#e7cac0,#e6c9be,#e1b9aa,#e7ccc3,#ebd9d3,#eddeda,#eddfdb,#ecdbd6,#e4c3b6,#e3bdaf,#ebd7d1)"></i><i style="background:linear-gradient(#efeceb,#f0ebe9,#ead6cf,#e7cac0,#e0b4a3,#e8cec5,#eee2df,#e8cfc7,#e6c7bc,#e7ccc2,#e3bfb1,#e6c7bc,#ead4cd)"></i><i style="background:linear-gradient(#e8cfc6,#f1eceb,#e3bfb1,#e5c5b9,#e0b6a5,#e5c4b8,#e7cac0,#e1b8a8,#e3beaf,#e3beb0,#e9d2ca,#e2bbac,#e8cfc7)"></i><i style="background:linear-gradient(#e5c4b8,#ecdcd7,#e3bdaf,#e8cdc4,#e3bfb1,#e6c8bd,#ebd9d2,#e5c3b7,#e7cdc3,#dfb19f,#e8cdc4,#e4c0b2,#e8cec4)"></i><i style="background:linear-gradient(#e9d0c8,#e5c5b9,#deb09d,#e3bfb2,#e5c4b8,#e5c4b8,#ebdad4,#e7cbc1,#ecdcd7,#e3bdae,#ebd8d2,#e4c1b4,#e8cfc6)"></i><i style="background:linear-gradient(#f0ebe9,#e7cbc1,#e6c9be,#e6c8bc,#ead4cd,#e9d0c8,#efe5e2,#ead4cd,#ecddd8,#e7cdc3,#e8d0c7,#e2bcae,#ead6d0)"></i><i style="background:linear-gradient(#efeceb,#ebd8d2,#e5c5b9,#e7cac0,#ede0dc,#ecdcd6,#ebd8d2,#e0b5a5,#e9d2cb,#e9d3cb,#ebd7d1,#e1b6a6,#ecdcd7)"></i><i style="background:linear-gradient(#efe5e1,#eee2de,#e8cec5,#e7cbc1,#f0e9e7,#f1edeb,#ead6cf,#e0b6a6,#e2bcae,#e5c6bb,#e5c4b8,#e1b9a9,#ead6cf)"></i><i style="background:linear-gradient(#ecdbd5,#e9d1c9,#e2bcad,#e1b9a9,#eee4e1,#f0eae9,#ecdbd5,#e0b3a2,#e1b9a9,#e4c1b4,#e6c7bb,#e5c4b8,#e8d0c7)"></i><i style="background:linear-gradient(#ead6d0,#e6c7bc,#ddab97,#d79881,#e8d0c7,#e9d2ca,#ead6cf,#e0b6a5,#e0b5a4,#e3bdaf,#e5c5b8,#ead4cd,#e8d0c7)"></i><i style="background:linear-gradient(#ebd8d2,#e4c0b3,#daa18b,#d7967f,#e0b4a3,#e0b6a6,#e6c7bb,#dfb19f,#e1b8a7,#e4c2b5,#e7cac0,#e6c8bd,#eee2df)"></i><i style="background:linear-gradient(#ead6d0,#e3bdae,#ddaa96,#d7957e,#dfb2a0,#e0b4a3,#dfb2a1,#e4c0b2,#e7cac0,#e5c4b8,#e8d0c7,#e5c6bb,#f1edec)"></i><i style="background:linear-gradient(#ede0dc,#e8cfc6,#e5c6ba,#dba38e,#dfb09e,#deae9b,#dca894,#e4c2b5,#e7ccc2,#e5c5ba,#e5c5b9,#e7cabf,#efe7e5)"></i><i style="background:linear-gradient(#ebd8d2,#e7cac0,#e7cbc1,#dfb19f,#ebd8d2,#e3beb0,#e0b4a3,#e6c9be,#e9d1c9,#e3bfb1,#e5c6ba,#e9d3cb,#edded9)"></i><i style="background:linear-gradient(#ede0dc,#f0eae8,#eddfda,#e7cac0,#ebd9d3,#e5c4b8,#e0b4a3,#e2baaa,#e4c2b6,#e3beb1,#e6c9be,#e9d2ca,#ecdbd6)"></i><i style="background:linear-gradient(#e8cfc7,#eddfda,#e2b9aa,#e7cbc2,#edeaea,#ebd9d2,#e6c9be,#e3bfb1,#e5c5b8,#e6c8bd,#ecdad5,#e9d1c9,#eee4e1)"></i><i style="background:linear-gradient(#e9d2ca,#ecdcd7,#e1b9aa,#e4c3b6,#ead4cd,#e6c7bb,#e7cbc1,#ead4cc,#e9d1c9,#ebdad4,#ebd9d3,#ead4cd,#efe5e2)"></i><i style="background:linear-gradient(#e1b9a9,#e3bdaf,#d79780,#e0b3a2,#e5c6bb,#e3c0b2,#ead6cf,#eddfda,#eddfdb,#ede0db,#ead6cf,#eee3df,#f1edeb)"></i><i style="background:linear-gradient(#e6c8bd,#e7ccc2,#e1b7a7,#dba38e,#dca995,#dca894,#e9d3cb,#efeceb,#ebdad4,#e9d2ca,#e4c2b5,#efe8e5,#eee3df)"></i><i style="background:linear-gradient(#ead6cf,#e9d3cb,#e1b8a8,#e0b4a3,#dead9a,#e0b4a3,#e8cec4,#eddfdb,#e4c2b5,#e6c8be,#e4c2b5,#efe7e4,#ecddd8)"></i><i style="background:linear-gradient(#efe7e4,#e9d2cb,#e2bcad,#dca691,#e0b6a6,#e9d2ca,#ebd8d2,#eee3e0,#e5c4b8,#e7cbc1,#e8cec5,#edded9,#ecddd8)"></i><i style="background:linear-gradient(#e8cec5,#d6947c,#d48e76,#dba48f,#ebd8d2,#ead6cf,#ecddd8,#ebd7d1,#e4c1b4,#e6c7bc,#e5c6ba,#e6c7bc,#ecdbd6)"></i><i style="background:linear-gradient(#e0b6a5,#d3886e,#d2876d,#d7957e,#e8cec4,#ede0dc,#e9d2ca,#ead6cf,#ead4cd,#ead5ce,#e8cec5,#e8cfc6,#eee3df)"></i><i style="background:linear-gradient(#e1b7a6,#d6937b,#d2876d,#d6927a,#e6c9be,#e9d1c9,#e3bfb1,#ead4cd,#ecded9,#ecdbd6,#e9d2c9,#e7cac0,#e9d2ca)"></i><i style="background:linear-gradient(#e0b4a3,#e4c2b5,#dda995,#e1b8a7,#e6c7bc,#e8cec5,#e0b6a5,#e7cbc2,#e8d0c8,#ead4cc,#ebd8d2,#e7ccc2,#ecdbd5)"></i><i style="background:linear-gradient(#e4c1b4,#ead7d0,#e9d3cc,#e3beb0,#e7cac0,#e6c9be,#e3bdae,#ecdbd5,#e9d1c8,#e8cec5,#ead5ce,#e6c8bd,#ebd9d3)"></i><i style="background:linear-gradient(#ddac98,#ead6cf,#ecdbd5,#eddeda,#eee4e1,#ebd8d2,#e8cec5,#ecded9,#e7cabf,#e4c1b4,#e6c7bc,#e6c7bc,#efe6e4)"></i><i style="background:linear-gradient(#e0b4a3,#e7cbc1,#e4c3b6,#e8d0c7,#e9d1c9,#eee2df,#e6c8bd,#efe7e5,#ebd8d2,#ead6d0,#ecdad4,#e9d3cb,#f1eceb)"></i><i style="background:linear-gradient(#d7967f,#e1b9a9,#ddac99,#ebd7d0,#ead6d0,#eee2df,#ead6cf,#eee1de,#ebd7d1,#e6c8bd,#ecdbd6,#edded9,#eeebeb)"></i><i style="background:linear-gradient(#e3bdaf,#e6c8bd,#daa18c,#e1b7a7,#e2bcae,#ecddd8,#ebd9d2,#ebdad4,#ead5ce,#e7cac0,#ebd9d3,#eddeda,#ecdcd6)"></i><i style="background:linear-gradient(#e2bbac,#e2baab,#dca692,#dfb2a0,#e5c5b9,#ebd8d2,#eee3df,#ecdad5,#ead5ce,#e3c0b2,#e8cdc4,#ecdcd7,#e6c9be)"></i><i style="background:linear-gradient(#efe8e5,#deae9b,#d79881,#d99e89,#e3bfb1,#ede0dc,#ecddd8,#ebd8d2,#e7ccc2,#e8cec4,#e6c7bb,#e5c5b9,#e6c8bd)"></i><i style="background:linear-gradient(#e9d2ca,#d59179,#d89b85,#dfb19f,#e8cdc4,#ecdcd7,#e9d2ca,#efe6e4,#e9d0c8,#ecdbd5,#ead4cc,#e6c7bc,#e7cbc1)"></i><i style="background:linear-gradient(#e8cfc6,#d38970,#d38a71,#e2baaa,#e8cec5,#eee4e1,#ebd9d3,#efe8e5,#ead4cc,#eddeda,#e6c7bc,#e3bfb2,#ead4cd)"></i><i style="background:linear-gradient(#e3bfb1,#d99e88,#d48b72,#e2bcad,#e5c4b8,#ebd7d1,#ead6d0,#f0eae9,#ebd8d2,#ead6d0,#e7cdc3,#e8cdc4,#e9d0c8)"></i><i style="background:linear-gradient(#e3bfb1,#dba28d,#cf7d62,#ddaa97,#e1b7a6,#e9d0c8,#f1ecea,#f0eae8,#eee1dd,#e9d0c8,#ead4cc,#e8cec5,#e8d0c7)"></i><i style="background:linear-gradient(#e1b6a6,#daa18b,#d38a71,#dba38e,#e1b9a9,#e8cdc3,#ecdbd5,#efe6e4,#eee3e0,#e9d1c9,#ecdbd6,#eee3e0,#ead7d0)"></i><i style="background:linear-gradient(#e1b9aa,#dead99,#ddab98,#e0b5a5,#e8d0c7,#ead4cd,#ead7d0,#e9d1c8,#efe6e3,#ecdcd7,#efe8e5,#efe6e4,#ebdad4)"></i><i style="background:linear-gradient(#e0b5a4,#e1b8a9,#dca894,#dead9a,#e5c5b8,#e9d1c9,#e2bcad,#e4c1b3,#edded9,#ede0db,#ede0dc,#f0e8e6,#f1eceb)"></i><i style="background:linear-gradient(#e6c9be,#e8cfc6,#e2baaa,#e6c8bd,#e6c7bc,#e6c7bb,#e2baab,#e5c3b7,#ebd7d1,#ecdcd7,#f0e9e7,#ecdbd6,#efe5e1)"></i><i style="background:linear-gradient(#e8cfc6,#e5c4b7,#e5c5b9,#ebd8d2,#e5c5b9,#e4c1b4,#e5c5b9,#ecdbd5,#ecddd8,#ebd9d3,#eee3e0,#ead4cc,#eee1dd)"></i><i style="background:linear-gradient(#ebd8d2,#e3bdae,#ebdad4,#eddeda,#ebd9d3,#e8cec5,#e8cdc4,#eee3e0,#eee1dd,#ecddd8,#ecdbd5,#e9d3cc,#e9d3cc)"></i><i style="background:linear-gradient(#ede0db,#e5c3b7,#ead7d0,#e9d3cc,#ead6cf,#e5c4b7,#e8cec4,#eee1dd,#ecddd9,#efe4e1,#edded9,#e9d1c8,#ead6cf)"></i><i style="background:linear-gradient(#e7ccc3,#e6c7bc,#ecdcd7,#ecddd8,#e9d3cc,#e5c6bb,#e6c7bc,#eee3df,#ebd8d2,#edded9,#ebd8d2,#e9d1c9,#ecdcd7)"></i><i style="background:linear-gradient(#e8cfc6,#e8cfc6,#e6c7bb,#ebdad4,#e2bcad,#e6c8bd,#ecdbd5,#f1edec,#ecdcd7,#ebdad4,#ecdcd7,#e6c9be,#eee4e0)"></i><i style="background:linear-gradient(#e2bbac,#e4c1b4,#e6c8bd,#e9d3cb,#e5c5b9,#e6c9be,#ecdcd6,#efeceb,#ebd9d3,#ecdbd6,#e8d0c7,#e6c9bf,#f0e9e7)"></i><i style="background:linear-gradient(#e4c1b4,#e3c0b2,#e6c8bd,#e6c8be,#e7cabf,#e7cbc1,#e8d0c7,#eee3e0,#ead5ce,#ecddd8,#e7cdc3,#e3bfb1,#efe6e4)"></i><i style="background:linear-gradient(#e0b6a5,#e2baab,#ead6cf,#ead5cd,#ebdad4,#e7ccc3,#e4c0b3,#e6c7bc,#e7cbc1,#ecdbd5,#e6c7bc,#e5c4b8,#efe7e4)"></i><i style="background:linear-gradient(#e0b6a5,#e0b3a2,#e8cec5,#eee2df,#ede0dc,#efe7e5,#e9d3cb,#e6c8bd,#eee4e1,#ecddd8,#ebd9d3,#e5c4b8,#eee4e1)"></i><i style="background:linear-gradient(#e0b3a2,#e1b7a7,#e6c9be,#e9d2cb,#edded9,#f1edec,#ede0dc,#e8cdc4,#f1edec,#eee3e0,#ebd9d4,#e5c4b8,#ecdbd5)"></i><i style="background:linear-gradient(#dead9a,#e3beaf,#e6c8bc,#ead5ce,#efe6e3,#ebeaea,#ecddd8,#ead5ce,#f1edec,#efe7e5,#ecddd8,#e3bfb1,#e8cec5)"></i><i style="background:linear-gradient(#e6c8bd,#e6c8bd,#e9d3cc,#e7cac0,#ede0dc,#ecdcd7,#e5c6bb,#e7cdc3,#ead6cf,#ebd7d0,#e9d3cb,#e4c2b5,#ead3cc)"></i><i style="background:linear-gradient(#e9d2ca,#e9d1c9,#e9d1c8,#ecdad5,#ede1dd,#ead6cf,#e1b7a7,#e5c5b9,#e8cfc7,#ecdbd5,#ebd8d2,#e8cfc6,#ead3cc)"></i><i style="background:linear-gradient(#eee3e0,#ecdcd6,#e8cec5,#ebd7d0,#ead6d0,#e7cabf,#e5c4b8,#e7ccc3,#ead6d0,#ead7d0,#ead7d0,#ecdbd6,#ebd8d2)"></i><i style="background:linear-gradient(#e7ccc2,#ebd8d2,#e9d1c8,#efe7e4,#ecdcd6,#ebd7d1,#e9d1c9,#ebd7d0,#eddfdb,#ede0dc,#e9d3cb,#ecdcd6,#ead7d0)"></i><i style="background:linear-gradient(#ecdbd5,#ebd7d1,#e7cbc1,#eddfda,#ead5ce,#eddeda,#f0e8e6,#efe5e2,#efe4e1,#eee4e1,#ead6d0,#eee1dd,#eee1dd)"></i><i style="background:linear-gradient(#e5c6ba,#e3beaf,#e7cabf,#efe5e3,#ead6cf,#f0eae8,#eeebeb,#e9e9e9,#eee3df,#f0eae8,#eddfdb,#eee1dd,#efe5e2)"></i><i style="background:linear-gradient(#e9d3cc,#e4c2b5,#e8cfc6,#eee3e0,#e9d3cb,#eee2de,#f1edeb,#f0e9e7,#ead7d0,#efe5e2,#eddeda,#ede0db,#ecddd8)"></i><i style="background:linear-gradient(#eddfdb,#eddfdb,#f0ebe9,#edeaea,#eee3e0,#efeceb,#dee2e4,#e3e4e6,#eddfda,#eee4e1,#f0ebe9,#eee2de,#f0eae8)"></i><i style="background:linear-gradient(#e2e4e6,#e7e7e8,#e2e4e6,#f1eceb,#f0ebea,#ebe9ea,#becfd7,#cdd8dd,#e4e6e7,#e6e7e8,#eae9e9,#eee3df,#eeebeb)"></i><i style="background:linear-gradient(#e9e8e9,#e5e6e7,#d5dde1,#f0edec,#eeebeb,#e2e4e6,#c7d4db,#d0d9df,#e6e6e7,#e1e3e5,#dee2e4,#f0ebe9,#f1edec)"></i><i style="background:linear-gradient(#eceaea,#d9dfe2,#d4dce0,#f1ebea,#ebe9e9,#efeceb,#c4d2d9,#dde1e4,#e0e3e5,#e8e8e8,#d8dee2,#f1ebea,#edebea)"></i><i style="background:linear-gradient(#f0e8e6,#dee1e4,#e1e4e6,#f1ecea,#e5e6e7,#e1e3e5,#beced7,#e7e7e8,#ebe9e9,#efe8e5,#dae0e3,#f0ecec,#eeebeb)"></i><i style="background:linear-gradient(#efe6e3,#d6dde1,#e7e7e8,#f0e9e7,#e1e4e6,#dbe0e3,#c9d5dc,#f0eceb,#eceaea,#f0eae8,#e9e8e9,#f0eceb,#eeebeb)"></i><i style="background:linear-gradient(#efe6e3,#d9dfe2,#ebe9e9,#efe7e5,#eceaea,#d5dde1,#c6d3db,#eae9e9,#f1eceb,#eae9e9,#f0e8e6,#edebea,#eee2df)"></i><i style="background:linear-gradient(#f0ebe9,#cbd6dc,#dde1e4,#eeebeb,#eae9e9,#e2e4e6,#cbd6dc,#eceaea,#e7e7e8,#dde1e4,#eae9e9,#efeceb,#eee1dd)"></i><i style="background:linear-gradient(#efeceb,#cdd7dd,#dfe2e5,#eceaea,#eeeceb,#e4e6e7,#c5d3da,#e8e8e9,#dce0e3,#eeebeb,#eae9e9,#f0eae9,#f0e8e6)"></i><i style="background:linear-gradient(#eeebeb,#d1dadf,#e6e6e7,#ebeaea,#f1ecea,#e1e3e5,#bbcdd6,#e8e7e8,#cad6dc,#e3e4e6,#e1e4e6,#efe5e2,#e8e8e8)"></i><i style="background:linear-gradient(#96b7c9,#89b1c6,#c3d1d9,#dfe2e5,#eee2de,#e0e3e5,#e3e5e6,#e8e7e8,#e2e4e6,#e5e6e7,#f0e8e6,#eddfda,#edebeb)"></i><i style="background:linear-gradient(#82adc4,#77a7c1,#cbd6dd,#e5e6e7,#efe6e3,#ebe9e9,#efe8e6,#f0e9e7,#f0eae8,#e4e6e7,#eee2de,#ecdcd6,#edeaea)"></i><i style="background:linear-gradient(#adc4d0,#91b5c8,#c3d2d9,#dce1e3,#f1ebea,#eceaea,#eee2df,#ebe9e9,#f0eae8,#e7e7e8,#f0e8e6,#f0e9e6,#f1eceb)"></i><i style="background:linear-gradient(#c2d0d9,#a8c1ce,#d5dde1,#e0e3e5,#f0ebe9,#eeebeb,#efe7e5,#f0ebe9,#f0ebe9,#efeceb,#efeceb,#f0e8e6,#f1ebea)"></i><i style="background:linear-gradient(#a0bccb,#90b4c7,#b7cad5,#c8d5db,#efe7e5,#eceaea,#f0ebe9,#f0ebea,#f1eceb,#f1eceb,#eeebeb,#eee1dd,#efe5e2)"></i><i style="background:linear-gradient(#9fbbcb,#a2bdcc,#baccd6,#cbd6dd,#efe5e2,#ebe9e9,#ebe9e9,#efe5e2,#eee3df,#f0ebe9,#eae9e9,#ebdad4,#ecdcd6)"></i><i style="background:linear-gradient(#88b0c5,#b7cad4,#c9d5dc,#d6dde1,#efe5e2,#efeceb,#f1edec,#eee1dd,#ecdcd7,#f0e9e7,#eeebeb,#ede1dc,#ecdad5)"></i><i style="background:linear-gradient(#9ab9ca,#8fb4c7,#c1d0d9,#d2dadf,#f0e9e7,#f0ebe9,#f1edec,#f0eae8,#ebd8d2,#f0e8e6,#e5e6e7,#f0ebe9,#eee2de)"></i><i style="background:linear-gradient(#aac2cf,#9cbaca,#afc5d1,#d6dde1,#f1ecea,#f0e9e7,#f0edec,#f1eceb,#eee4e1,#f0e8e6,#edebea,#eeebeb,#eceaea)"></i><i style="background:linear-gradient(#b1c6d2,#8cb2c6,#9dbaca,#d9dfe2,#f0eceb,#e5e6e7,#efe7e5,#f1ecea,#eee2de,#f0e8e6,#ebe9e9,#edebea,#efeceb)"></i><i style="background:linear-gradient(#a6c0cd,#a2bdcc,#afc5d1,#e7e7e8,#e7e7e8,#e7e7e8,#eee3e0,#eae9e9,#eee4e1,#efeceb,#f0eae9,#efe7e5,#eeebeb)"></i><i style="background:linear-gradient(#e5c4b8,#ecdcd7,#dde1e4,#efe5e2,#f0ebea,#eceaea,#ebe9ea,#dde1e4,#eae9e9,#d0d9de,#ebe9e9,#eae9e9,#e6e7e8)"></i><i style="background:linear-gradient(#971e2d,#c66044,#ecdcd6,#ebd7d1,#eee1dd,#ede1dc,#d6dde1,#c5d3da,#dee2e4,#c4d2da,#edebea,#eeebeb,#d0dadf)"></i><i style="background:linear-gradient(#b43a2e,#d6937b,#ead4cc,#ead5ce,#e7cbc1,#ebd8d2,#c8d5db,#c5d2da,#e3e5e6,#c1d0d8,#e2e4e6,#d7dde1,#acc3d0)"></i><i style="background:linear-gradient(#c55d42,#d38a71,#e4c2b6,#e6c7bb,#e6c9be,#e8d0c7,#c7d4db,#a2bdcc,#e4e5e7,#abc3d0,#cbd6dc,#b5c9d4,#92b5c8)"></i><i style="background:linear-gradient(#c65f44,#e7ccc2,#ebdad4,#e8cfc6,#e7cbc2,#ebd8d2,#c7d4db,#a9c1cf,#d8dee2,#aac2cf,#c1d0d8,#a9c2cf,#a6bfcd)"></i><i style="background:linear-gradient(#cf7d63,#e9d2cb,#ecdbd6,#ead4cd,#eee4e0,#eee4e1,#efeceb,#c2d1d9,#d5dce1,#b5c9d4,#cdd7dd,#d1dadf,#d7dee2)"></i><i style="background:linear-gradient(#eee2df,#f0e8e6,#eee1dd,#ecdcd7,#eee4e0,#eceaea,#efe6e3,#dadfe3,#eee2de,#eceaea,#ebe9e9,#efe8e6,#efe7e4)"></i><i style="background:linear-gradient(#ede0dc,#f0ecec,#edded9,#eee2df,#efeceb,#f0edec,#edded9,#dee2e4,#ebdad4,#f1edec,#e5e6e7,#f0eae8,#efe8e5)"></i><i style="background:linear-gradient(#eee1dd,#f0ebe9,#efe8e5,#efe7e4,#f0eceb,#f0ebea,#f0eae8,#f1eceb,#ebd7d1,#f0eceb,#eceaea,#f0ecec,#efe5e2)"></i><i style="background:linear-gradient(#ebeaea,#f0ecec,#e2e4e6,#e5e6e7,#dde1e4,#e5e6e7,#dfe2e5,#e3e5e6,#f0ebea,#eae9e9,#e0e3e5,#e8e8e8,#efeceb)"></i><i style="background:linear-gradient(#acc3d0,#c6d3da,#a3becc,#d3dbe0,#ccd7dd,#d4dbe0,#b6cad4,#d1dadf,#c6d3da,#cdd7dd,#bfcfd8,#dbe0e3,#d8dee2)"></i><i style="background:linear-gradient(#b9cbd5,#d5dde1,#b8cbd5,#c3d1d9,#d7dde1,#ccd7dd,#cad6dc,#cad6dc,#c4d2da,#d1dadf,#c5d3da,#e2e4e6,#d7dee2)"></i><i style="background:linear-gradient(#c5d3da,#cad5dc,#b7cad4,#b1c7d2,#cdd7dd,#c6d3da,#c8d4db,#b4c8d3,#a3becc,#b6c9d4,#e1e4e6,#e4e5e7,#d6dde1)"></i><i style="background:linear-gradient(#d3dbe0,#b9ccd5,#b4c8d3,#a7c1ce,#d3dbe0,#c8d5db,#c9d5dc,#99b9c9,#98b8c9,#a8c1ce,#d5dde1,#d5dce1,#c3d1d9)"></i><i style="background:linear-gradient(#d9dfe2,#9dbaca,#9ebbcb,#a8c1ce,#c5d3da,#d0d9de,#c2d1d9,#9ebbca,#9fbbcb,#c2d1d9,#d1dadf,#cbd6dd,#cad6dc)"></i><i style="background:linear-gradient(#c6d3db,#90b4c7,#a6c0cd,#ccd7dd,#cdd7dd,#d4dce0,#bbccd6,#b5c9d4,#b5c9d3,#aec4d1,#b4c8d3,#b9cbd5,#cad6dc)"></i><i style="background:linear-gradient(#b6cad4,#a2bdcc,#bfcfd8,#d1dadf,#ccd7dd,#d9dfe2,#c0d0d8,#dae0e3,#e0e3e5,#b6c9d4,#c3d2d9,#b7cad5,#ebeaea)"></i><i style="background:linear-gradient(#7dabc3,#97b7c9,#bbcdd6,#dde1e4,#cdd7dd,#d7dde1,#c1d0d8,#eae9e9,#d2dbdf,#96b7c9,#a4bfcd,#a6c0cd,#dce0e3)"></i><i style="background:linear-gradient(#73a5c0,#8db2c7,#b4c8d3,#e0e3e5,#cfd9de,#d9dfe2,#b9ccd5,#eae9e9,#c0cfd8,#b8cad5,#a0bccb,#a1bdcb,#cdd7dd)"></i><i style="background:linear-gradient(#75a6c1,#96b7c9,#abc3cf,#dbe0e3,#bbccd6,#d0d9df,#c0d0d8,#dfe3e5,#bfcfd8,#c9d5dc,#b9cbd5,#a6bfcd,#b0c6d2)"></i><i style="background:linear-gradient(#ecddd8,#efe8e6,#e8e8e9,#f0ebe9,#dee2e4,#dbe0e3,#bdced7,#b5c9d4,#d0d9de,#d9dfe2,#e8e8e8,#d0dadf,#c6d3db)"></i><i style="background:linear-gradient(#c55d42,#d18369,#e1b8a8,#ecdbd6,#f1ebea,#eeebeb,#e6e7e8,#b9cbd5,#dde1e4,#c4d2da,#d8dee2,#b1c6d2,#b3c8d3)"></i><i style="background:linear-gradient(#ce7a5f,#d2856b,#e0b5a4,#ebd9d3,#efe8e5,#e5e6e7,#d9dfe2,#b6cad4,#d2dadf,#bdced7,#b7cad4,#abc3d0,#c2d1d9)"></i><i style="background:linear-gradient(#c9684c,#d59179,#e8cdc3,#eee2de,#f0e9e7,#e8e8e8,#e7e7e8,#c1d0d8,#cdd8dd,#a6c0ce,#a9c2cf,#9fbbcb,#bfcfd8)"></i><i style="background:linear-gradient(#d99c86,#dfb09e,#ecdcd7,#ebdad4,#efe5e2,#e2e4e6,#e5e6e7,#d8dee2,#dce1e4,#c4d2da,#cad6dc,#b8cbd5,#dee2e4)"></i><i style="background:linear-gradient(#d59078,#dfb2a1,#eee2de,#ecdbd5,#eceaea,#e6e7e8,#edebea,#e3e5e6,#e0e3e5,#cdd7dd,#d6dde1,#c1d0d9,#e6e7e8)"></i><i style="background:linear-gradient(#d1846a,#d3896f,#e0b6a5,#ead4cc,#eee2de,#eae9e9,#e5e6e7,#e2e4e6,#dae0e3,#ccd7dd,#c8d4db,#bbccd6,#e8e8e8)"></i><i style="background:linear-gradient(#cc7257,#ce795f,#deae9a,#ead6cf,#eee3df,#e9e8e9,#e6e7e8,#dce1e4,#dde1e4,#c8d4db,#c5d3da,#ccd7dd,#e8e8e8)"></i><i style="background:linear-gradient(#cb7055,#ddac99,#dfb19f,#ede1dd,#ede0dc,#edeaea,#e1e4e6,#e4e5e7,#e0e3e5,#ccd7dd,#dde1e4,#dfe3e5,#dee2e4)"></i><i style="background:linear-gradient(#e8e8e8,#e7e7e8,#ecdcd6,#efe7e5,#f0ebea,#efeceb,#e8e7e8,#dde1e4,#e6e7e8,#dfe3e5,#dce0e3,#ebeaea,#c2d1d9)"></i><i style="background:linear-gradient(#a7c0ce,#c3d1d9,#eceaea,#f0ebea,#f1ebea,#efe5e2,#e8e8e8,#e3e5e6,#e7e7e8,#d9dfe2,#cbd6dc,#d6dde1,#aec5d1)"></i><i style="background:linear-gradient(#b3c7d3,#b5c9d4,#d5dde1,#f1edec,#f1eceb,#f0eae9,#f1edeb,#c5d3da,#c2d1d9,#d5dde1,#c0cfd8,#e0e3e5,#c1d0d9)"></i><i style="background:linear-gradient(#c3d1d9,#afc5d1,#c6d3db,#e7e7e8,#e8e8e8,#f0eceb,#f0ecec,#c4d2da,#b6c9d4,#cfd9de,#c0d0d8,#dadfe2,#d2dbdf)"></i><i style="background:linear-gradient(#c6d3db,#b7cad4,#dae0e3,#e3e5e6,#eae9e9,#eeebeb,#f0ebe9,#b8cbd5,#a0bccb,#ccd7dd,#dee2e4,#e3e5e6,#d9dfe2)"></i><i style="background:linear-gradient(#b8cbd5,#bccdd6,#e0e3e5,#efeceb,#efeceb,#f0ebea,#f1eceb,#cfd9de,#bccdd6,#c5d3da,#d2dadf,#baccd6,#c4d2da)"></i><i style="background:linear-gradient(#a4becc,#baccd6,#e0e3e5,#eceaea,#efe8e5,#efe7e4,#efe8e6,#e0e3e5,#c8d4db,#c2d1d9,#d7dee1,#b8cbd5,#ccd7dd)"></i><i style="background:linear-gradient(#abc3d0,#c1d0d8,#e4e6e7,#efe7e5,#f0ebe9,#ede0dc,#eae9e9,#e2e4e6,#dae0e3,#dbe0e3,#dee2e4,#cdd8dd,#bfcfd8)"></i><i style="background:linear-gradient(#c2d1d9,#d0dadf,#e7e7e8,#efe7e5,#efeceb,#ede1dd,#e6e7e8,#e4e5e7,#e8e8e8,#dee2e4,#dfe3e5,#e3e5e6,#d2dbdf)"></i><i style="background:linear-gradient(#dadfe3,#e1e4e6,#f1eceb,#eee3df,#e4e6e7,#ede1dd,#dfe2e5,#d4dce0,#edeaea,#dfe2e5,#e5e6e7,#e3e5e6,#d7dde1)"></i><i style="background:linear-gradient(#d7dee1,#dbe0e3,#dfe2e5,#f0e9e7,#eae9e9,#efe7e4,#e7e7e8,#d8dee2,#dfe2e4,#bfcfd8,#d7dde1,#d2dbe0,#dce1e4)"></i><i style="background:linear-gradient(#d8dee2,#e5e6e7,#dfe2e5,#eae9e9,#e9e8e9,#ede0db,#e5e6e7,#d2dbe0,#e6e6e7,#c7d4db,#e5e6e7,#dadfe2,#dce1e3)"></i><i style="background:linear-gradient(#d9dfe2,#d6dde1,#d6dde1,#dfe2e5,#f1edec,#f0e8e6,#e4e5e7,#dde1e4,#e8e8e8,#e1e4e6,#eceaea,#e0e3e5,#dce1e4)"></i><i style="background:linear-gradient(#eddfdb,#edeaea,#ebd7d1,#f0eae8,#eddeda,#f0e8e6,#d4dce0,#c6d3db,#eae9e9,#e6e6e7,#e5e6e7,#dbe0e3,#f0eae8)"></i><i style="background:linear-gradient(#deae9b,#ebd9d3,#e2bbac,#e8cec5,#ead6cf,#eeebeb,#dce1e3,#d1dadf,#d7dde1,#f1edec,#e3e5e6,#dbe0e3,#e2e4e6)"></i><i style="background:linear-gradient(#e5c4b8,#e9d1c9,#e3bdaf,#e4c1b4,#ebd7d0,#eceaea,#e4e6e7,#c9d5dc,#cad5dc,#d8dee2,#dee2e4,#dbe0e3,#d7dee2)"></i><i style="background:linear-gradient(#e8cfc6,#ede0dc,#ead5ce,#e7cdc3,#eee2de,#e4e6e7,#f0e9e7,#e8e7e8,#e1e4e6,#dde1e4,#e1e3e5,#ebe9e9,#cbd6dd)"></i><i style="background:linear-gradient(#f0e8e6,#ecdad5,#ede1dd,#eddfda,#f0e9e7,#e6e6e7,#f1ebea,#e1e4e5,#d0dadf,#bccdd6,#dfe2e5,#e6e6e7,#eae9e9)"></i><i style="background:linear-gradient(#e9d2c9,#eee3e0,#f0eae9,#edded9,#f0eae8,#e9e8e9,#eceaea,#d7dee2,#ced8de,#b5c9d3,#c8d4db,#eceaea,#f0ecec)"></i><i style="background:linear-gradient(#e3bfb2,#e5c5b9,#ede1dc,#ebd8d1,#efeceb,#efe5e2,#dfe2e5,#c1d0d9,#adc4d0,#b5c9d3,#c7d4db,#e5e6e7,#eceaea)"></i><i style="background:linear-gradient(#dfb09d,#e4c1b4,#ead6d0,#e1b8a8,#efe6e3,#eee2de,#e0e3e5,#c6d3db,#c8d5db,#cdd8dd,#c9d5dc,#dbe0e3,#cbd6dd)"></i><i style="background:linear-gradient(#deae9b,#e1b8a7,#e7cbc1,#e2bcad,#efe5e2,#eee3df,#e1e4e6,#d6dde1,#d6dde1,#e1e4e6,#d7dee1,#ccd7dd,#c0d0d8)"></i><i style="background:linear-gradient(#e2baab,#ead6d0,#ead6cf,#e3bfb2,#ecdbd6,#efeceb,#f0ecec,#d9dfe2,#e7e7e8,#e4e5e7,#beced7,#a3becc,#a2bdcc)"></i><i style="background:linear-gradient(#dee2e4,#e2e4e6,#d3dbe0,#c7d4db,#c5d3da,#cdd8dd,#eeebeb,#d7dee1,#e0e3e5,#cad6dc,#aac2cf,#96b7c9,#aac2cf)"></i><i style="background:linear-gradient(#bbccd6,#cdd7dd,#b7cad4,#87afc5,#a1bccb,#d6dde1,#f0e8e6,#e7e7e8,#e7e7e8,#c0d0d8,#9cbaca,#8fb3c7,#a1bdcb)"></i><i style="background:linear-gradient(#acc4d0,#a7c0ce,#b2c7d2,#9ebbca,#b6cad4,#cdd7dd,#edebeb,#eae9e9,#f1ebea,#cfd8de,#b9cbd5,#97b7c9,#acc4d0)"></i><i style="background:linear-gradient(#91b4c7,#a8c1ce,#b3c8d3,#bfcfd8,#cad6dc,#d7dee2,#d9dfe2,#e5e6e7,#f1edec,#dbe0e3,#b3c7d3,#8eb3c7,#97b8c9)"></i><i style="background:linear-gradient(#82adc4,#b7cad5,#bccdd7,#c6d3db,#d0dadf,#cad5dc,#d6dde1,#d4dce0,#e9e8e9,#d5dde1,#afc5d1,#9ab9ca,#96b7c9)"></i><i style="background:linear-gradient(#a7c0ce,#c7d4db,#e6e7e8,#e6e7e8,#d9dfe2,#c1d0d8,#cad5dc,#b8cad5,#e3e5e6,#e0e3e5,#c4d2da,#a1bdcc,#95b7c9)"></i><i style="background:linear-gradient(#cbd6dd,#ccd7dd,#e5e6e7,#b7cad4,#aec5d1,#b6cad4,#dee2e4,#cad6dc,#f1eceb,#e1e4e6,#dde1e4,#afc5d1,#aac2cf)"></i><i style="background:linear-gradient(#d8dee2,#bbccd6,#ebe9ea,#b7cad4,#b3c8d3,#baccd6,#d5dce1,#b4c8d3,#e3e5e6,#d6dde1,#f1edec,#cdd7dd,#c9d5dc)"></i><i style="background:linear-gradient(#bbccd6,#b6c9d4,#d4dce0,#a4becd,#b6cad4,#d3dbe0,#e4e5e7,#d3dbe0,#e5e6e7,#c3d1d9,#dee2e4,#a8c1ce,#c2d1d9)"></i><i style="background:linear-gradient(#d9dfe2,#c4d2da,#dadfe2,#cbd6dc,#d1dadf,#cdd7dd,#c9d5dc,#a3becc,#cfd9de,#becfd7,#dbe0e3,#b4c8d3,#c8d5db)"></i><i style="background:linear-gradient(#d2dbdf,#d8dee2,#d1dadf,#b6c9d4,#cdd8dd,#d5dde1,#c7d4db,#92b5c8,#9dbaca,#a4becd,#b9cbd5,#adc4d0,#b9ccd5)"></i><i style="background:linear-gradient(#dadfe3,#c7d4db,#c4d2da,#9ebbca,#b4c8d3,#ccd7dd,#d9dfe2,#9ebbcb,#9ebbcb,#99b8c9,#a7c0ce,#b3c8d3,#c4d2da)"></i><i style="background:linear-gradient(#c7d4db,#c3d1d9,#b3c7d3,#a6c0cd,#d4dce0,#e0e3e5,#eae9e9,#acc3d0,#b1c6d2,#9fbccb,#beced7,#b6cad4,#b3c8d3)"></i><i style="background:linear-gradient(#b0c6d2,#95b7c9,#97b7c9,#a9c1cf,#a7c1ce,#b8cbd5,#c8d5db,#bdced7,#e2e4e6,#cad6dc,#e3e5e6,#b2c7d2,#adc4d0)"></i><i style="background:linear-gradient(#aac2cf,#93b6c8,#8ab1c6,#8fb4c7,#9fbbcb,#9cbaca,#aac2cf,#a5bfcd,#dce1e3,#dbe0e3,#f0e9e7,#ced8de,#b1c6d2)"></i><i style="background:linear-gradient(#9ab9ca,#9ab9ca,#9cbaca,#84aec5,#7aa9c2,#90b4c7,#a3becc,#b3c8d3,#d3dbe0,#dce0e3,#dadfe3,#c8d5db,#b7cad4)"></i><i style="background:linear-gradient(#97b8c9,#8db2c7,#98b8c9,#7dabc3,#76a7c1,#b1c7d2,#d4dce0,#d8dee2,#cfd9de,#d8dee2,#dbe0e3,#e5e6e7,#bbcdd6)"></i><i style="background:linear-gradient(#a9c1cf,#94b6c8,#a0bccb,#a2bdcc,#8cb2c6,#d6dde1,#dbe0e3,#eeebeb,#dadfe3,#e2e4e6,#dde1e4,#dce0e3,#b6c9d4)"></i><i style="background:linear-gradient(#a4becd,#92b5c8,#a9c2cf,#cfd9de,#b9cbd5,#c7d4db,#c8d4db,#e1e4e6,#dbe0e3,#d9dfe2,#edeaea,#beced7,#adc4d0)"></i><i style="background:linear-gradient(#d1dadf,#beced7,#c3d1d9,#dde1e4,#dde1e4,#b2c7d2,#bccdd6,#d6dde1,#e8e8e8,#dfe2e5,#d8dee2,#a0bccb,#b4c8d3)"></i><i style="background:linear-gradient(#d3dbe0,#c4d2da,#bbcdd6,#b7cad4,#d3dbe0,#94b6c8,#aac2cf,#9cbaca,#b1c7d2,#9bb9ca,#c0cfd8,#a1bccb,#baccd5)"></i><i style="background:linear-gradient(#dfe2e5,#d1dadf,#92b5c8,#7eabc3,#8db2c7,#7daac3,#aec4d1,#9dbaca,#9fbccb,#99b9c9,#aec4d1,#abc3cf,#b3c8d3)"></i><i style="background:linear-gradient(#e7e7e8,#e2e4e6,#9bb9ca,#81acc4,#92b5c8,#9bbaca,#afc5d1,#9ebbcb,#99b8c9,#99b8c9,#a9c1cf,#b8cbd5,#bccdd6)"></i><i style="background:linear-gradient(#e7e7e8,#ebe9ea,#a2bdcc,#a6c0ce,#abc3d0,#dadfe3,#d7dee1,#c6d3da,#adc4d0,#c0cfd8,#b0c6d2,#c2d1d9,#d2dbe0)"></i><i style="background:linear-gradient(#e9e8e9,#efeceb,#a9c1cf,#c0cfd8,#d6dde1,#e9e8e9,#ebe9e9,#dde1e4,#beced7,#c5d2da,#a3becc,#dce1e4,#e8e7e8)"></i><i style="background:linear-gradient(#d8dee2,#d8dee2,#9ebbcb,#bdced7,#d3dbe0,#f0ebe9,#e9e8e9,#d7dee2,#c8d4db,#d0d9de,#b1c6d2,#dee2e4,#cad5dc)"></i><i style="background:linear-gradient(#d7dee2,#c0cfd8,#9ab9ca,#9ebbcb,#b6c9d4,#bdced7,#dee2e4,#d8dee2,#d6dde1,#d5dce0,#c7d4db,#d5dde1,#beced7)"></i><i style="background:linear-gradient(#c5d3da,#aac2cf,#aec5d1,#abc3cf,#b8cbd5,#b6cad4,#e7e7e8,#e8e7e8,#d3dbe0,#dbe0e3,#e2e4e6,#cdd7dd,#b0c6d1)"></i><i style="background:linear-gradient(#d0d9df,#c3d1d9,#beced7,#a5bfcd,#c5d3da,#aac2cf,#e6e6e8,#d2dbdf,#c4d2da,#d2dbe0,#dae0e3,#a9c2cf,#a2bdcc)"></i><i style="background:linear-gradient(#d2dbdf,#d3dbe0,#e7e7e8,#c1d0d9,#e1e4e5,#c5d3da,#edebeb,#dde1e4,#c4d2da,#dbe0e3,#d6dde1,#b8cad5,#9ebbcb)"></i><i style="background:linear-gradient(#d1dadf,#dbe0e3,#e5e6e7,#c2d1d9,#e2e4e6,#a1bdcc,#d4dce0,#b1c7d2,#c3d1d9,#d5dce1,#d1dadf,#a9c2cf,#a5bfcd)"></i><i style="background:linear-gradient(#c7d4db,#d5dce0,#eae9e9,#cfd9de,#e8e8e8,#c0d0d8,#ced8de,#d3dbe0,#c6d3da,#d3dbe0,#c1d0d8,#b1c7d2,#a2bdcc)"></i><i style="background:linear-gradient(#c4d2da,#d0d9df,#cad6dc,#b5c9d4,#c0cfd8,#aec4d1,#91b5c8,#c7d4db,#b5c9d4,#bdced7,#a7c1ce,#a3becc,#93b6c8)"></i><i style="background:linear-gradient(#bfcfd8,#c1d0d9,#cad6dc,#cdd7dd,#cbd6dc,#b9cbd5,#94b6c8,#c0d0d8,#98b8c9,#baccd6,#a2bdcc,#beced7,#9bbaca)"></i><i style="background:linear-gradient(#d8dee2,#b8cbd5,#bccdd6,#c1d0d9,#baccd6,#a5bfcd,#9cbaca,#b9ccd5,#94b6c8,#acc3d0,#afc5d1,#cad6dc,#a3becc)"></i><i style="background:linear-gradient(#dce1e4,#bfcfd8,#cfd8de,#cfd8de,#cfd9de,#a1bdcb,#b6cad4,#a6bfcd,#a9c2cf,#bccdd7,#d0d9de,#c8d5db,#b8cad5)"></i><i style="background:linear-gradient(#e2e4e6,#c8d4db,#d9dfe2,#bccdd7,#b1c6d2,#93b6c8,#b7cad4,#c7d4db,#e0e3e5,#d6dde1,#dee2e4,#b3c8d3,#a1bdcb)"></i><i style="background:linear-gradient(#dfe2e5,#cbd6dd,#ced8de,#b7cad4,#baccd6,#7caac3,#a9c2cf,#bfcfd8,#ebeaea,#dee2e4,#e4e6e7,#c4d2da,#c5d3da)"></i><i style="background:linear-gradient(#d4dce0,#c6d3db,#bfcfd8,#b8cbd5,#d0d9de,#96b7c9,#aac2cf,#bdced7,#d6dde1,#d4dce0,#c8d4db,#a8c1ce,#a5bfcd)"></i><i style="background:linear-gradient(#d9dfe2,#d5dde1,#dadfe3,#cbd6dd,#edeaea,#abc3d0,#b1c6d2,#a9c1cf,#bdced7,#b9cbd5,#cad6dc,#b5c9d4,#baccd5)"></i><i style="background:linear-gradient(#dfe3e5,#dbe0e3,#dfe2e5,#d3dbe0,#e1e4e6,#bccdd7,#bbccd6,#aec5d1,#cdd8dd,#c7d4db,#b6cad4,#9dbbca,#8cb2c6)"></i><i style="background:linear-gradient(#f1eceb,#dfe2e5,#f1edec,#e8e8e8,#eceaea,#c5d3da,#d8dee2,#bfcfd8,#dce1e4,#dbe0e3,#dee2e4,#cfd9de,#abc3d0)"></i><i style="background:linear-gradient(#efe7e4,#dce1e3,#c7d4db,#baccd5,#c6d3db,#c1d0d8,#e4e5e7,#d9dfe2,#d7dde1,#e6e7e8,#ced8de,#dce1e4,#9bbaca)"></i><i style="background:linear-gradient(#edeaea,#d2dbdf,#c2d1d9,#9cbaca,#afc5d1,#aec4d1,#e1e4e6,#d8dee2,#ced8de,#f1edec,#e4e5e7,#f1edec,#beced7)"></i><i style="background:linear-gradient(#e8e7e8,#dce1e4,#adc4d0,#7fabc3,#8bb2c6,#a5bfcd,#ccd7dd,#ced8de,#b6cad4,#dce1e4,#d2dbdf,#efe6e3,#cfd9de)"></i><i style="background:linear-gradient(#dadfe3,#e5e6e7,#c4d2da,#8cb2c6,#9fbccb,#a5bfcd,#bdced7,#b4c8d3,#c6d3da,#edebea,#e3e5e6,#efe8e5,#dee1e4)"></i><i style="background:linear-gradient(#e9e8e9,#eceaea,#cad5dc,#acc4d0,#bfcfd8,#d3dbe0,#b9cbd5,#c0cfd8,#bdcdd7,#ebe9e9,#d6dde1,#ced8de,#d7dde1)"></i><i style="background:linear-gradient(#eae9e9,#e5e6e7,#baccd5,#95b6c8,#beced7,#d8dee2,#cdd7dd,#c5d3da,#beced7,#d5dce1,#d2dbdf,#acc4d0,#d1dadf)"></i><i style="background:linear-gradient(#d1dadf,#a3becc,#6aa1bf,#6da2bf,#a8c1ce,#e1e3e5,#d6dde1,#c2d1d9,#b5c9d4,#a2bdcc,#c1d0d9,#92b5c8,#c3d1d9)"></i><i style="background:linear-gradient(#abc2cf,#7facc3,#2366be,#2366be,#4389b9,#b9ccd5,#ced8de,#c2d1d9,#adc4d0,#97b8c9,#d3dbe0,#94b6c8,#b3c8d3)"></i><i style="background:linear-gradient(#7ba9c2,#88b0c5,#357dba,#5a98bc,#77a8c2,#ccd7dd,#a7c1ce,#aac2cf,#a7c1ce,#b8cbd5,#c2d1d9,#86afc5,#c2d1d9)"></i><i style="background:linear-gradient(#8bb2c6,#93b5c8,#4a8dba,#8bb1c6,#93b6c8,#ced8de,#b7cad4,#c3d2d9,#9bb9ca,#a4becd,#a9c1cf,#8bb1c6,#cfd9de)"></i><i style="background:linear-gradient(#90b4c7,#a0bccb,#5b98bc,#71a4c0,#74a6c1,#a3becc,#8ab1c6,#a8c1ce,#9bbaca,#97b8c9,#9bbaca,#96b7c9,#e2e4e6)"></i><i style="background:linear-gradient(#a6c0ce,#9ebbcb,#659ebe,#6aa1be,#82adc4,#adc4d0,#a4becc,#c2d1d9,#c4d2da,#93b5c8,#98b8c9,#b8cbd5,#baccd6)"></i><i style="background:linear-gradient(#82adc4,#96b7c9,#4289b9,#357dba,#4d8fba,#74a6c1,#75a6c1,#b1c7d2,#cfd8de,#cfd9de,#bbcdd6,#dce1e3,#c9d5dc)"></i><i style="background:linear-gradient(#89b1c6,#84aec4,#4a8eba,#81adc4,#b1c6d2,#a9c1cf,#b2c7d2,#b9cbd5,#b5c9d4,#c9d5dc,#beced7,#e6e6e7,#b9cbd5)"></i><i style="background:linear-gradient(#77a7c1,#79a9c2,#75a6c1,#5795bc,#5996bc,#5796bc,#99b9c9,#c9d5dc,#a8c1ce,#d1dadf,#c6d3db,#ebe9e9,#e6e7e8)"></i><i style="background:linear-gradient(#9ab9c9,#a3becc,#b8cbd5,#b7cad4,#9fbbcb,#94b6c8,#a5bfcd,#beced7,#adc4d0,#bdced7,#c6d3da,#cfd9de,#e5e6e7)"></i><i style="background:linear-gradient(#7baac2,#85aec5,#afc5d1,#5d99bc,#68a0be,#7eabc3,#9ebbca,#dbe0e3,#d1dadf,#dae0e3,#c4d2da,#d1dadf,#e9e8e9)"></i><i style="background:linear-gradient(#8ab1c6,#619cbd,#659ebe,#4389b9,#75a6c1,#8eb3c7,#a4bfcd,#c2d1d9,#c8d4db,#c1d0d8,#b3c8d3,#c6d3db,#e2e4e6)"></i><i style="background:linear-gradient(#79a8c2,#3e86b8,#367eba,#367eba,#498dba,#74a6c1,#a8c1ce,#c4d2da,#bdced7,#b3c7d3,#91b4c7,#a4bfcd,#ced8de)"></i><i style="background:linear-gradient(#81acc4,#5393bb,#488cb9,#5695bb,#4c8fba,#73a6c1,#a9c1cf,#baccd6,#bdced7,#c9d5dc,#a3becc,#b3c7d3,#c2d1d9)"></i><i style="background:linear-gradient(#dadfe3,#baccd5,#a9c1ce,#99b8c9,#87b0c5,#9cbaca,#d2dadf,#cdd7dd,#ccd7dd,#d8dee2,#beced7,#b0c6d1,#b9cbd5)"></i><i style="background:linear-gradient(#dee2e4,#bccdd6,#b1c6d2,#78a8c2,#91b4c7,#bbccd6,#d6dde1,#dee2e4,#cbd6dc,#e3e5e6,#d4dce0,#d4dce0,#c6d3da)"></i><i style="background:linear-gradient(#e7e7e8,#c9d5dc,#96b7c9,#72a5c0,#8bb1c6,#b9cbd5,#d4dce0,#d4dce0,#cbd7dd,#d0d9de,#dde1e4,#cdd8de,#ccd7dd)"></i><i style="background:linear-gradient(#ced8de,#b4c8d3,#90b4c7,#88b0c5,#8db3c7,#c0cfd8,#c6d3db,#d4dce0,#c9d5dc,#dbe0e3,#dee2e4,#dde1e4,#e1e3e5)"></i><i style="background:linear-gradient(#d4dbe0,#b4c8d3,#6da2bf,#8fb4c7,#a4bfcd,#ced8de,#d6dde1,#c8d5db,#dde1e4,#dbe0e3,#eeebeb,#eae9e9,#e8e8e8)"></i><i style="background:linear-gradient(#d3dbe0,#c3d2d9,#5997bc,#88b0c5,#9cbaca,#c3d1d9,#dce1e4,#e0e3e5,#e2e4e6,#e7e7e8,#e4e5e7,#e0e3e5,#e1e4e6)"></i><i style="background:linear-gradient(#d8dee2,#ced8de,#4b8eba,#5e9abd,#9ab9c9,#cad6dc,#eae9e9,#f0ebe9,#e8e8e8,#dce1e4,#e9e8e9,#c9d5dc,#d4dce0)"></i><i style="background:linear-gradient(#d1dadf,#acc3d0,#4a8eba,#669fbe,#97b7c9,#b5c9d4,#edebeb,#eee3df,#e3e5e6,#cfd8de,#e1e4e6,#c1d0d9,#c9d5dc)"></i><i style="background:linear-gradient(#eeebeb,#e0e3e5,#cdd7dd,#dde1e4,#dbe0e3,#dce1e4,#f0eae8,#efe7e5,#ebe9e9,#d1dadf,#f0ecec,#e8e8e9,#e6e7e8)"></i><i style="background:linear-gradient(#e7ccc3,#ebd8d2,#eee2de,#edded9,#f0ebe9,#edded9,#e7cac0,#e8cec4,#eddfdb,#edded9,#ecddd8,#ead6cf,#ecdbd6)"></i><i style="background:linear-gradient(#e4c2b5,#ecddd7,#efe5e2,#ebdad4,#ede0db,#efe5e2,#e8cec5,#ecdbd5,#eee2df,#f0e8e6,#ede0dc,#eddeda,#edded9)"></i><i style="background:linear-gradient(#dca894,#e1b9aa,#eee4e1,#ecddd8,#ebd9d3,#eee4e0,#ebd8d2,#ecdad5,#ecdcd7,#ecdcd7,#ebd8d2,#ebd9d3,#ebd8d2)"></i><i style="background:linear-gradient(#dba38e,#ddaa96,#eceaea,#edded9,#ecdcd7,#eee2df,#ebd9d3,#ebd9d2,#eee1de,#efe8e5,#ede0dc,#ebdad4,#eee3df)"></i><i style="background:linear-gradient(#e4c2b5,#e1b7a6,#f1edec,#f0e9e7,#eee2de,#eee2de,#ebd7d0,#ead5ce,#e9d2ca,#e8d0c7,#e8d0c7,#ead6d0,#ecddd8)"></i><i style="background:linear-gradient(#e4c1b4,#e5c6ba,#f0eceb,#efe5e2,#efe6e3,#efe7e4,#eee2de,#ead6d0,#e7ccc3,#ead6cf,#ecddd9,#ecdcd6,#ebd8d2)"></i><i style="background:linear-gradient(#e7cabf,#e9d1c9,#eddfdb,#f0e8e6,#eee2de,#efe6e4,#ecdcd7,#ead6d0,#e8cfc6,#ecdcd7,#e9d3cc,#ecdbd5,#ebd8d2)"></i><i style="background:linear-gradient(#e4c2b5,#e7cbc1,#ead5ce,#efe7e5,#ede0dc,#eee4e1,#eee3e0,#ead5cd,#e9d2ca,#eee4e0,#eee1de,#efe7e4,#f0eae9)"></i><i style="background:linear-gradient(#e5c5b9,#ead6cf,#ead4cd,#efeceb,#ede1dd,#eee2de,#ebd8d1,#ead7d0,#ebd8d1,#edded9,#ebd9d3,#ecddd8,#efe7e4)"></i><i style="background:linear-gradient(#e8cec5,#ebd8d2,#eee1dd,#efe8e6,#f0e9e7,#efe6e3,#ebd9d3,#ebdad4,#e8d0c7,#e7cdc3,#ebd8d2,#f1ecea,#edebea)"></i><i style="background:linear-gradient(#ead6cf,#e6c9be,#f0e8e6,#efe5e2,#efe7e4,#ecdbd6,#e7ccc3,#edded9,#e9d2ca,#e7cdc3,#ecdbd5,#f0eae8,#f1eceb)"></i><i style="background:linear-gradient(#efe6e4,#e6c7bb,#efe6e3,#eee2de,#eee2de,#ede0dc,#e5c5b9,#ebd8d1,#ead5ce,#e6c8bc,#e9d1c9,#eeebeb,#efe7e5)"></i><i style="background:linear-gradient(#ebdad4,#e6c8bd,#eddfdb,#efe5e2,#ecddd8,#eee3e0,#e7cdc3,#ede1dd,#ecdbd5,#ead5cd,#e9d2ca,#efe5e2,#ede0dc)"></i><i style="background:linear-gradient(#e7cdc3,#e9d3cb,#eee4e1,#eee3e0,#ead4cc,#ebe9e9,#ead4cd,#ecdcd7,#efe5e2,#eee2de,#e6c9be,#eee2df,#e9d2ca)"></i><i style="background:linear-gradient(#e4c3b6,#e4c2b5,#eee1de,#ecdcd7,#ead6cf,#f0eceb,#edded9,#edded9,#ede0dc,#ecdad5,#e2bcae,#e6c7bb,#e7ccc2)"></i><i style="background:linear-gradient(#ebd9d3,#e6c9be,#ecdad5,#ecddd8,#ead5cd,#efe6e3,#ebd7d1,#e9d1c9,#ebd9d3,#ecddd8,#e9d1c8,#e2baab,#e6c6bb)"></i><i style="background:linear-gradient(#ebd8d1,#e9d1c8,#edded9,#f1eceb,#eddfdb,#efe6e4,#eee4e1,#e9d3cb,#e5c5b9,#e4c2b6,#ebd9d3,#e3beb0,#e6c8bd)"></i><i style="background:linear-gradient(#e9d1c9,#e9d3cc,#ead3cc,#ecdcd6,#e8d0c7,#efe7e5,#efe6e3,#ead4cc,#e3beaf,#e9d2ca,#ecdbd6,#e6c7bb,#e6c9be)"></i><i style="background:linear-gradient(#e3bfb1,#e6c9be,#ead4cd,#ecddd8,#e9d1c8,#f1edec,#ede1dd,#e9d0c8,#e1b9a9,#e5c5b9,#e5c4b8,#e5c6ba,#e6c8bd)"></i><i style="background:linear-gradient(#e2bbad,#e8cfc6,#ead4cc,#ebd8d2,#e9d2ca,#f0ebea,#e8cec5,#e6c8bd,#dca995,#e6cabf,#e3beb0,#e6c8bd,#ede1dd)"></i><i style="background:linear-gradient(#ecdbd5,#ebd9d3,#ead4cd,#ecdbd5,#ecdbd6,#ebd9d3,#e2bbac,#e4c0b3,#e0b3a1,#e6c9be,#e7cac0,#e6c9bf,#ebdad4)"></i><i style="background:linear-gradient(#ede1dd,#ead6cf,#e9d2ca,#e7cac0,#e9d3cb,#e8cfc7,#e1b7a6,#e8cec5,#e3beb0,#ead4cd,#ebd8d2,#ecdbd6,#eee3e0)"></i><i style="background:linear-gradient(#eddfdb,#ead7d0,#ead6d0,#e5c6ba,#ecdcd7,#e9d1c9,#e6c7bc,#e7ccc2,#e3bfb1,#e7cac0,#e7ccc2,#e6c8bd,#e8cec5)"></i><i style="background:linear-gradient(#ebd7d1,#ebd9d2,#ead4cc,#e4c0b3,#ebdad4,#ead6cf,#e4c1b3,#e5c6bb,#dfb09e,#e8cec4,#e5c4b8,#e9d3cc,#e8cdc3)"></i><i style="background:linear-gradient(#eee2de,#eee1dd,#ecdad5,#e7cbc1,#ede0dc,#e9d1c8,#dfb09d,#e4c3b6,#deac99,#e8cec4,#e1b8a8,#e4c1b3,#e3bfb2)"></i><i style="background:linear-gradient(#eee4e1,#ebd9d3,#ebd9d3,#ebd8d2,#ecddd8,#e9d2cb,#ddaa96,#e5c4b7,#dca995,#e6c8bd,#e0b6a5,#e3beb1,#dda995)"></i><i style="background:linear-gradient(#ecdcd7,#e9d2c9,#ead4cd,#eee3e0,#ead7d0,#ebdad4,#dba38e,#e2bcae,#d99c86,#e3beaf,#e2bbac,#daa08b,#da9f8a)"></i><i style="background:linear-gradient(#ebd8d2,#e9d2ca,#e7cdc3,#efe6e3,#e8cdc4,#efe7e4,#e3beaf,#e5c4b8,#dba38e,#dfb2a0,#ddab97,#da9f8a,#d99e89)"></i><i style="background:linear-gradient(#ebd8d1,#e7ccc2,#e5c4b8,#efe8e5,#e6c9bf,#eee3e0,#e1b7a7,#e2bcae,#e4c1b4,#e3bfb1,#e0b5a4,#d99d86,#dba48f)"></i><i style="background:linear-gradient(#e8cec4,#e6c7bc,#ebd8d2,#f0e9e7,#ead5ce,#ecdbd6,#e5c5b9,#e7cbc0,#e9d1c8,#e6c7bc,#deb09d,#e0b3a2,#dba591)"></i><i style="background:linear-gradient(#e5c3b7,#e7cac0,#ecdcd7,#eee3e0,#ecdbd6,#e6c9bf,#e4c1b4,#e4c2b5,#e3bfb1,#e5c3b7,#dfb09e,#e1b8a8,#d7967e)"></i><i style="background:linear-gradient(#e7cabf,#ecdcd7,#f0ebe9,#ecdbd6,#ecddd8,#e4c0b3,#e6c9bf,#e7cbc0,#dfb3a1,#e2bbac,#dfb19f,#ead6cf,#deaf9d)"></i><i style="background:linear-gradient(#e8cfc6,#eceaea,#eddfda,#ede0dc,#ebd8d1,#e6c9be,#e3bfb1,#e4c2b5,#e0b5a5,#e2baaa,#e3c0b2,#e8d0c8,#e2baab)"></i><i style="background:linear-gradient(#e6c8bd,#efeceb,#ebd9d3,#eee3df,#ead6cf,#ead6d0,#e1b8a8,#e3beb0,#dfb19f,#dfb3a1,#e4c1b4,#e8cfc7,#e7ccc2)"></i><i style="background:linear-gradient(#e3c0b2,#edded9,#e5c3b7,#eddfdb,#e8cfc6,#e9d2ca,#e2baaa,#e8cdc4,#e4c1b4,#e4c0b3,#e5c5b9,#e5c4b8,#e8cec4)"></i><i style="background:linear-gradient(#dfb2a0,#e3bfb1,#e5c6bb,#e6c8bd,#e8cfc6,#e7ccc2,#e4c0b3,#e5c5b9,#e3bdaf,#e3bfb2,#e5c4b8,#e6c9be,#ead4cc)"></i><i style="background:linear-gradient(#e1b8a8,#e1b9a9,#e5c5b9,#e7cdc3,#e9d1c8,#e5c6ba,#e3beb0,#e5c6ba,#e7cdc3,#e7cbc1,#e9d1c9,#e6c7bc,#ebd7d1)"></i><i style="background:linear-gradient(#e3bdae,#e1b8a9,#e6c7bb,#e8cdc4,#ede0dc,#ebd9d4,#e4c1b3,#e0b4a3,#e2bbac,#e7cbc1,#ecdbd5,#ead5ce,#ebd7d1)"></i><i style="background:linear-gradient(#e4c2b5,#e2baaa,#e6c7bb,#eee4e1,#efe6e3,#efe5e2,#e9d2cb,#e6c8bd,#e5c3b7,#e1b9a9,#ecdcd7,#e9d2ca,#e8cec5)"></i><i style="background:linear-gradient(#e6c8bc,#e2baaa,#e6c9be,#ecdbd6,#f0eceb,#ede0db,#e9d2ca,#e9d2ca,#e4c3b6,#e6c9bf,#efe5e2,#ecddd8,#e8cdc4)"></i><i style="background:linear-gradient(#e1b8a8,#e1b6a6,#e6c8bd,#ead7d0,#ecddd8,#e3beb0,#e2baab,#e5c6ba,#e4c1b4,#dfb3a1,#e9d2ca,#e9d3cb,#e8cec4)"></i><i style="background:linear-gradient(#e0b4a2,#e6c7bc,#e5c3b7,#e9d1c9,#ecddd8,#e5c4b8,#e0b4a3,#e4c2b6,#e1b9a9,#e3bfb1,#e2bdae,#e8cdc3,#e6c7bb)"></i><i style="background:linear-gradient(#dba590,#dfb09e,#e3bdaf,#e8cec4,#ecded9,#efe6e3,#e4c0b3,#dca995,#dfb09e,#ddac98,#dfb09e,#e7cbc1,#e1b9a9)"></i><i style="background:linear-gradient(#dca692,#e2bcad,#ebd9d3,#ede1dd,#f0eae8,#ebe9e9,#e8cec5,#e4c1b4,#dfb2a0,#e5c4b8,#e2bbad,#e9d1c9,#e1b9a9)"></i><i style="background:linear-gradient(#deaf9c,#e1b7a7,#ebd7d1,#ecdbd5,#eee4e1,#f0e9e7,#e7cac0,#e4c3b7,#e1b7a7,#e4c2b5,#e7ccc2,#ebd7d0,#e4c1b4)"></i><i style="background:linear-gradient(#e2baaa,#e6c8bd,#ecdcd6,#ebd9d3,#eee3df,#ead5ce,#ead5cf,#ede1dc,#e7cdc3,#e0b4a2,#e4c1b4,#ead6cf,#ead5ce)"></i><i style="background:linear-gradient(#e3bdae,#e3beb0,#e0b5a4,#dfb19f,#e6c8bd,#ecdbd5,#ede1dc,#efe6e3,#e6c8bd,#dba48f,#e3bfb1,#e6c9bf,#e9d2ca)"></i><i style="background:linear-gradient(#e9d1c9,#e5c6ba,#e2bcad,#dca792,#e0b3a2,#e8cec5,#ecdbd5,#eddeda,#e0b4a3,#d79881,#dca995,#e6c7bc,#ead6cf)"></i><i style="background:linear-gradient(#e4c1b3,#e6c8bd,#ecdcd6,#dfb2a0,#dba48f,#e8cec5,#e7cdc3,#efe7e4,#e2bbac,#e1b9aa,#e5c6bb,#e5c4b8,#e8cfc6)"></i><i style="background:linear-gradient(#e4c2b5,#e5c4b8,#ebdad4,#e3beaf,#dca894,#e5c5b9,#e2bbac,#e9d0c8,#d89b84,#e4c1b4,#e4c2b5,#ead6cf,#e8cdc4)"></i><i style="background:linear-gradient(#daa18c,#e0b6a5,#e4c1b4,#e5c4b8,#e3c0b2,#ecdcd7,#e5c4b8,#ebd8d1,#dca894,#ead6d0,#ead6cf,#ebdad4,#ead6d0)"></i><i style="background:linear-gradient(#da9f8a,#e0b3a2,#d59179,#e1b9aa,#dfb09e,#e6c8bd,#e0b5a4,#e3beb1,#ddaa96,#ead4cd,#e6c7bc,#e8cfc6,#e5c5b9)"></i><i style="background:linear-gradient(#dba590,#dfb2a0,#d99e88,#dba590,#d89b84,#dfb09e,#dfb2a0,#e7cabf,#e4c1b4,#eddeda,#e7cac0,#e5c5b9,#e6c7bc)"></i><i style="background:linear-gradient(#e2bcad,#dead9a,#d89b85,#d58f76,#d38970,#d6927a,#deac99,#e8cec5,#e5c6ba,#e8cfc7,#d99c86,#dca894,#d6957d)"></i><i style="background:linear-gradient(#ecdcd7,#e4c1b4,#e3beb0,#d89882,#da9f8a,#d89a84,#dca894,#e8d0c7,#e5c4b8,#ebdad4,#d99d87,#dfb09e,#dba490)"></i><i style="background:linear-gradient(#f1ecea,#e7cbc1,#e5c4b8,#e6c9bf,#e7ccc2,#e6c8bc,#e3bfb1,#e9d1c8,#e1b7a6,#e3bdae,#d48e75,#d99e88,#d59179)"></i><i style="background:linear-gradient(#ebd8d2,#ebd7d0,#e5c5b9,#e1b9a9,#deae9a,#e2baaa,#deaf9c,#e4c0b3,#ddaa96,#e2bcae,#deae9b,#e5c6ba,#e1b7a7)"></i><i style="background:linear-gradient(#e8cec5,#e8d0c7,#ddab97,#e1b7a6,#e0b6a5,#dfb19f,#daa28c,#daa18b,#d99f89,#e0b3a2,#e0b6a5,#ead7d0,#dca894)"></i><i style="background:linear-gradient(#ebd7d0,#e9d1c8,#d79780,#dca894,#dba38e,#d7967f,#d58f76,#daa08b,#daa28d,#e2baab,#e7ccc2,#e8cec5,#e2baab)"></i><i style="background:linear-gradient(#ead5ce,#e5c3b7,#d79881,#e5c4b8,#e7ccc2,#dca995,#dba38e,#ddaa96,#e2baaa,#e2bbac,#e2bbad,#dba38e,#d48e75)"></i><i style="background:linear-gradient(#e1b7a7,#e1b8a8,#dba591,#e6c6bb,#e2bbac,#ddaa96,#e0b6a5,#e1b6a6,#e8cec4,#dca894,#e3bdaf,#dca793,#dfb2a0)"></i><i style="background:linear-gradient(#d6957d,#da9f8a,#e3bfb2,#e0b6a5,#e6c8bd,#e4c0b3,#ecddd8,#e9d0c8,#ecdcd7,#e4c0b2,#ecddd8,#e9d3cc,#e6c7bc)"></i><i style="background:linear-gradient(#daa18b,#dba691,#e5c5b9,#e4c1b4,#e3beb0,#ead5ce,#efe7e4,#e3beb0,#e4c1b4,#e2b9aa,#eee2de,#eee3e0,#eee3e0)"></i><i style="background:linear-gradient(#e9d1c8,#e5c6bb,#eddfdb,#e6c6bb,#e6c7bc,#efe7e5,#e7e7e8,#e9d2ca,#e5c6bb,#e8cdc4,#efe7e4,#ecdcd6,#edded9)"></i><i style="background:linear-gradient(#e2baab,#e0b5a4,#e3bdaf,#e5c6ba,#e1b9aa,#eddfda,#ecdad4,#e5c5b9,#e7cbc1,#e7cbc0,#ead5ce,#e5c6ba,#e7ccc2)"></i><i style="background:linear-gradient(#dead9a,#dba38e,#e0b3a2,#dca793,#deae9b,#e9d0c8,#e8d0c7,#e8d0c7,#ecddd8,#ecdbd6,#efe4e1,#e9d2ca,#e6cabf)"></i><i style="background:linear-gradient(#dfb3a1,#d6957d,#d7967f,#d99e88,#e0b4a3,#e6c7bc,#e5c4b8,#e6c7bc,#e9d0c8,#e7cdc3,#e7ccc2,#e5c5b9,#dfb2a0)"></i><i style="background:linear-gradient(#e8d0c7,#dda995,#dca692,#d89b84,#dca793,#e2bbac,#e4c3b6,#e4c2b5,#e5c3b7,#ead6d0,#e7cbc1,#e7cabf,#ddab97)"></i><i style="background:linear-gradient(#efe5e2,#e9d0c8,#e3bdae,#e3bdae,#e0b5a4,#e1b9aa,#e6c7bb,#e2b9aa,#e1b6a6,#e6c7bb,#e1b8a8,#e7cac0,#dba38e)"></i><i style="background:linear-gradient(#e8cec4,#e4c1b3,#e1b9a9,#e4c2b6,#e0b6a6,#e5c4b7,#e3bfb1,#e0b5a4,#e3beb0,#e7cabf,#e8d0c7,#eee4e1,#e5c6ba)"></i><i style="background:linear-gradient(#e5c3b7,#e2bbac,#e5c5b9,#ecdcd7,#eee3e0,#ede0dc,#e2bcae,#e3bfb1,#e4c3b6,#e3bfb1,#e5c4b8,#e8cfc7,#ead4cd)"></i><i style="background:linear-gradient(#dfb2a0,#dba48f,#e6c7bb,#ead5cd,#f0e9e6,#eee3df,#e3beb0,#e5c5b9,#e8cfc7,#e8cfc7,#e4c2b5,#e5c3b7,#e9d1c9)"></i><i style="background:linear-gradient(#d79780,#daa28d,#ecdbd6,#eee2de,#eee2de,#e9d3cc,#e2bbac,#e2bbac,#e5c6ba,#e7cac0,#e2bbab,#e4c0b3,#ebd7d0)"></i><i style="background:linear-gradient(#d99c86,#dca894,#e8cdc4,#efe6e3,#e5c5b9,#e0b3a2,#e4c2b5,#deae9b,#e0b4a3,#e2bbac,#e3beb0,#e9d2cb,#e7cac0)"></i><i style="background:linear-gradient(#dca995,#dfb19e,#e0b6a5,#efe8e6,#e8cec4,#e5c6bb,#e5c4b8,#dead9a,#e2bcae,#e7cbc0,#e7cac0,#e8cec4,#e7cbc1)"></i><i style="background:linear-gradient(#e7ccc2,#ebd9d3,#e6c7bc,#ead7d0,#e6c9bf,#e8cec5,#e9d2ca,#e6c8be,#e8cfc6,#e7cdc3,#e6c7bc,#e7cbc0,#dfb2a1)"></i><i style="background:linear-gradient(#e3beb0,#f0eceb,#e6c9be,#ead4cd,#ead5ce,#e8cfc6,#e6c8bd,#e6c8bd,#ecdad5,#e9d3cc,#e7ccc2,#ddaa96,#dca793)"></i><i style="background:linear-gradient(#e5c4b8,#eae9e9,#ede1dd,#ecddd8,#e9d3cb,#e8cec5,#e5c4b7,#e8cdc4,#ebd8d2,#e5c4b7,#e5c4b8,#deaf9c,#e2baab)"></i><i style="background:linear-gradient(#e4c1b4,#eee2de,#ead5ce,#e9d1c9,#ebdad4,#e9d3cc,#e3bdaf,#e4c2b6,#e6c9be,#e8cfc7,#ecdbd5,#e6c8bd,#ebd7d1)"></i><i style="background:linear-gradient(#e2bcad,#e5c6ba,#ecddd8,#e8cfc6,#ebd8d2,#ebd7d0,#e2bcae,#e1b8a9,#e0b4a3,#e4c2b6,#e6c8be,#efe6e3,#efe7e5)"></i><i style="background:linear-gradient(#e3beb0,#e1b7a7,#ecdcd6,#e5c6bb,#f0e9e7,#edded9,#e8cdc4,#e1b6a6,#e1b9a9,#e7cdc3,#eddeda,#eee4e0,#ecded9)"></i><i style="background:linear-gradient(#dca793,#deae9b,#ede1dd,#e7cbc0,#e7cbc1,#e8d0c7,#e3c0b2,#deaf9c,#dead9a,#e4c2b5,#e8d0c7,#e5c5b9,#e7ccc2)"></i><i style="background:linear-gradient(#e5c5b9,#e3bfb2,#ecddd8,#e0b3a2,#e4c1b4,#e7ccc3,#ead6cf,#e8cfc7,#e7ccc2,#ecdcd7,#f0e9e7,#e6c9be,#e8cfc6)"></i><i style="background:linear-gradient(#e5c4b7,#e4c0b3,#e8d0c7,#dba48f,#dca692,#e1b8a7,#e2baab,#e3beaf,#e5c4b8,#e7ccc3,#eddeda,#e6c9be,#e4c3b7)"></i><i style="background:linear-gradient(#e6c9be,#dfb2a0,#e2bbac,#dba48f,#e1b7a7,#e1b9a9,#e2bcad,#e0b6a6,#e4c1b4,#e6c8bd,#e8cdc4,#e6c9bf,#e3c0b2)"></i><i style="background:linear-gradient(#e1b8a8,#ddaa97,#dfb09e,#e0b5a4,#dfb3a1,#dfb2a0,#daa18c,#d59179,#daa28d,#dba590,#e3bdaf,#e3beb1,#e2bcad)"></i><i style="background:linear-gradient(#deae9b,#e4c3b6,#e6c9be,#e6c7bc,#e2bbac,#e3bfb1,#e0b4a3,#d89a83,#d6947d,#d99d88,#dba48f,#dca691,#e1b9aa)"></i><i style="background:linear-gradient(#e2baab,#e8cfc6,#e7cbc1,#e8cdc4,#ead6cf,#e9d1c9,#e7cbc1,#ddac98,#d89983,#d89b84,#dca995,#dba591,#e1b8a9)"></i><i style="background:linear-gradient(#e4c1b4,#e9d2ca,#e9d2ca,#e7ccc2,#efe7e4,#edded9,#ecddd8,#e4c1b4,#ddab97,#d89c85,#d99e89,#dca995,#e2baab)"></i><i style="background:linear-gradient(#e7cbc0,#e6c9be,#e8d0c7,#ead6cf,#f0e9e7,#e8cec5,#ead4cd,#e2bcae,#e4c2b6,#daa28d,#dfb2a0,#e5c3b7,#e4c1b4)"></i><i style="background:linear-gradient(#deaf9c,#dba48f,#e2baaa,#e8cfc6,#e7ccc3,#e3bdae,#e3bfb1,#e4c1b3,#e6c9be,#daa08a,#dca792,#e8cdc4,#e6cabf)"></i><i style="background:linear-gradient(#dca894,#dca792,#e6c9be,#efe5e1,#e8cec4,#e2bcad,#e1b7a7,#e5c6ba,#ebdad4,#ddab98,#d99d87,#e4c1b4,#e2bcad)"></i><i style="background:linear-gradient(#d89b84,#da9f8a,#e2bbab,#e7ccc3,#e3beb0,#e2bbab,#e0b4a3,#e9d1c9,#e5c5b9,#dca894,#daa18c,#e3beaf,#dfb3a1)"></i><i style="background:linear-gradient(#dca995,#dfb2a0,#ecdbd5,#ead4cd,#e7cbc0,#ead5ce,#ecddd8,#ead5ce,#e7cbc1,#deaf9c,#e3bdae,#e2baaa,#daa28d)"></i><i style="background:linear-gradient(#d7967f,#ddac99,#e4c0b3,#e8cfc6,#e6c8bc,#ebd7d0,#ebd8d2,#e8cfc6,#e1b6a6,#e5c4b8,#e5c4b8,#e6c8bc,#dfb2a0)"></i><i style="background:linear-gradient(#dba591,#daa18c,#ddab97,#e6c8bc,#ead5cd,#eee3e0,#ecddd8,#e8d0c7,#e6c7bc,#ebdad4,#ead7d0,#e8cec5,#e3bdaf)"></i><i style="background:linear-gradient(#deae9b,#dca894,#d99e89,#e4c2b5,#ead7d0,#ead5cf,#e3bdae,#e4c2b6,#e4c0b3,#efe5e2,#ebd7d0,#ebd9d3,#e5c6ba)"></i><i style="background:linear-gradient(#e2bcae,#dca691,#ddac99,#e2bcae,#ecddd8,#ebd8d2,#e3bdae,#e4c1b4,#e5c4b8,#ede1dd,#ecdcd7,#ebd8d2,#e6c7bc)"></i><i style="background:linear-gradient(#dfb09e,#ddaa96,#e2bbad,#e5c5b9,#ebd9d3,#e8cec5,#e6c9be,#e3bfb1,#ead6d0,#eee3e0,#eddfda,#ebd8d2,#e6c7bb)"></i><i style="background:linear-gradient(#e5c4b8,#e3bdaf,#dca793,#dba38e,#e0b4a3,#e0b4a3,#e7cac0,#e1b7a7,#e9d1c9,#e5c4b7,#e8d0c7,#e7cac0,#e8cec5)"></i><i style="background:linear-gradient(#e6c8bc,#dfb19f,#d99e89,#dca692,#ddac99,#dca692,#e6c9be,#e0b5a4,#e6c9be,#e2baab,#e7ccc2,#e5c4b8,#e5c6bb)"></i><i style="background:linear-gradient(#e0b3a2,#d18268,#da9f8a,#dfb2a1,#e7cdc3,#e6c8bd,#efe6e3,#f0eae8,#efe7e5,#eddfda,#f1eceb,#eddfda,#f0ebe9)"></i><i style="background:linear-gradient(#bf4f37,#be4d35,#e3bfb2,#eee3e0,#efe7e4,#ede1dd,#cbd6dc,#baccd5,#adc4d0,#d4dce0,#c2d1d9,#f0eceb,#c9d5dc)"></i><i style="background:linear-gradient(#c66044,#d38b72,#efe6e3,#f1edec,#f0e9e7,#f0e9e7,#d8dee2,#d3dbe0,#e1e4e6,#efeceb,#d9dfe2,#e4e5e7,#d6dde1)"></i><i style="background:linear-gradient(#701125,#d48e75,#eee4e0,#e8e8e8,#efe7e5,#efeceb,#dbe0e3,#c0d0d8,#dce0e3,#dee1e4,#c2d1d9,#c0d0d8,#b1c6d2)"></i><i style="background:linear-gradient(#3c0912,#b3382e,#f0eceb,#f1eceb,#efeceb,#e6e6e7,#dde1e4,#c0d0d8,#e0e3e5,#d4dce0,#c5d3da,#acc3d0,#8eb3c7)"></i><i style="background:linear-gradient(#3c0912,#540b1c,#ecdbd6,#ebdad4,#f0edec,#ebeaea,#d7dde1,#98b8c9,#b3c7d3,#a6bfcd,#afc5d1,#a2bdcc,#81acc4)"></i><i style="background:linear-gradient(#bb4632,#c2563c,#ead4cc,#ead4cd,#efe5e1,#f0e9e7,#e2e4e6,#c8d4db,#e5e6e7,#d1dadf,#dadfe2,#d3dbe0,#b6c9d4)"></i><i style="background:linear-gradient(#e0e3e5,#cfd8de,#dadfe3,#f1eceb,#efe6e3,#f1eceb,#f1edec,#e5e6e7,#ede0db,#eceaea,#eceaea,#f0eceb,#efe7e4)"></i><i style="background:linear-gradient(#dbe0e3,#d4dce0,#dadfe3,#f1ebea,#ede0db,#e7e7e8,#efeceb,#f1eceb,#efe7e5,#eeebeb,#efeceb,#f0e9e7,#efe7e5)"></i><i style="background:linear-gradient(#dbe0e3,#d1dadf,#e5e6e7,#efe6e4,#ede1dd,#e1e4e6,#edebeb,#efe7e5,#eceaea,#f0ecec,#ebe9e9,#e3e5e6,#efe6e4)"></i><i style="background:linear-gradient(#d8dee2,#dce0e3,#dde1e4,#f1edec,#f0eae9,#e9e8e9,#e6e7e8,#efe7e4,#ebeaea,#eae9e9,#edebeb,#e9e8e9,#f0e8e6)"></i><i style="background:linear-gradient(#dae0e3,#dbe0e3,#e6e7e8,#eeebeb,#efe8e5,#f1ecea,#e7e7e8,#f0e9e6,#e9e8e9,#f1edeb,#f1eceb,#e6e6e8,#f0e9e6)"></i><i style="background:linear-gradient(#d1dadf,#d6dde1,#ced8de,#dadfe3,#efe6e3,#f0ebe9,#e6e7e8,#f0e9e7,#f1edec,#efe5e3,#f0e9e7,#f0eae9,#f1ecea)"></i><i style="background:linear-gradient(#e3e5e6,#cbd6dd,#dde1e4,#e1e3e5,#efe8e5,#f1eceb,#efeceb,#efe7e4,#eeebeb,#eee1de,#efe7e5,#efe7e4,#efe8e5)"></i><i style="background:linear-gradient(#e5e6e7,#d3dbe0,#d8dee2,#e9e8e9,#efeceb,#efe6e3,#f0ebe9,#eeebeb,#f1eceb,#efe5e2,#f0ecec,#edded9,#ebe9ea)"></i><i style="background:linear-gradient(#e3e5e6,#beced7,#d3dbe0,#e9e8e9,#eceaea,#eee4e1,#efe7e5,#f1edec,#efeceb,#f0eceb,#eae9e9,#ecdbd5,#ebe9e9)"></i><i style="background:linear-gradient(#cfd9de,#c7d4db,#d7dee2,#e6e7e8,#f0ebe9,#eddfda,#eee3e0,#f1edec,#eae9e9,#e9e8e9,#e7e7e8,#edded9,#e9e8e9)"></i><i style="background:linear-gradient(#cf7c62,#e2bbac,#ecdbd6,#e2e4e6,#eceaea,#e0e3e5,#e8e8e8,#dfe2e5,#dfe2e5,#d3dbe0,#cad6dc,#cbd6dc,#c2d1d9)"></i><i style="background:linear-gradient(#c1533a,#d6927a,#e5c5b9,#e9e8e9,#e9e8e9,#d9dfe2,#eae9e9,#e3e5e6,#dde1e4,#e1e3e5,#b0c6d2,#8bb2c6,#90b4c7)"></i><i style="background:linear-gradient(#c55c41,#d89983,#e8cfc6,#f1ecea,#e7e7e8,#c2d1d9,#d1dadf,#c9d5dc,#dae0e3,#bfcfd8,#beced7,#a2bdcc,#9fbbcb)"></i><i style="background:linear-gradient(#d18268,#d99d86,#ecdad5,#efe6e3,#e6e7e8,#e1e3e5,#c2d1d9,#94b6c8,#92b5c8,#97b7c9,#a8c1ce,#a3becc,#b6c9d4)"></i><i style="background:linear-gradient(#d18167,#dead9a,#ecdbd6,#eddeda,#dbe0e3,#e2e4e6,#dce1e3,#93b6c8,#71a4c0,#79a8c2,#92b5c8,#baccd6,#c5d3da)"></i><i style="background:linear-gradient(#d18369,#e0b4a3,#e9d1c8,#efe6e4,#dde1e4,#f0eae9,#f1edec,#8cb2c6,#669fbe,#92b5c8,#95b6c8,#bfcfd8,#9cbaca)"></i><i style="background:linear-gradient(#d79881,#e8cfc6,#ebd9d3,#eddfda,#f1edec,#eae9e9,#ede1dd,#d4dce0,#d8dee2,#f0e9e6,#dee2e4,#efeceb,#d6dde1)"></i><i style="background:linear-gradient(#ead4cd,#ead3cc,#ecddd8,#ebd9d3,#ebd7d1,#eddfda,#ecddd8,#f0e8e6,#efe6e3,#ecdbd5,#ede1dd,#eddfda,#ecddd8)"></i><i style="background:linear-gradient(#efe5e1,#f0eae9,#e0e3e5,#f1ebea,#eee1dd,#efe5e3,#efe7e5,#eee3e0,#eee4e0,#ede0dc,#ecdcd6,#f0e9e7,#ebd9d3)"></i><i style="background:linear-gradient(#ccd7dd,#d8dee2,#b4c8d3,#c7d4db,#d9dfe2,#eae9e9,#eddfdb,#ecdcd6,#ead4cd,#ecdcd7,#eddfdb,#f0ebea,#efe5e2)"></i><i style="background:linear-gradient(#dfe2e4,#e3e5e6,#cdd8de,#d8dee2,#e0e3e5,#efeceb,#ecddd8,#eddeda,#ead4cc,#ecddd8,#ead5cf,#ede0dc,#efe6e4)"></i><i style="background:linear-gradient(#d8dee2,#c6d3da,#b1c6d2,#d0d9df,#e3e5e6,#f0eceb,#ecdcd7,#ede0dc,#ecdad4,#eddfdb,#eddfda,#e9d2ca,#ecddd8)"></i><i style="background:linear-gradient(#dde1e4,#d2dbdf,#c9d5dc,#dee2e4,#f0eceb,#eae9e9,#eee2df,#f0e9e8,#ecdcd7,#efe5e2,#ede1dd,#e9d3cb,#ecdbd5)"></i><i style="background:linear-gradient(#dce1e3,#c0d0d8,#bfcfd8,#dce0e3,#efeceb,#e6e7e8,#efe5e2,#f0e9e6,#ecdad4,#efe4e1,#efeceb,#ecdbd5,#ecdcd7)"></i><i style="background:linear-gradient(#dde1e4,#d8dee2,#c4d2d9,#dbe0e3,#eceaea,#e4e5e7,#eee2de,#f0ecec,#e9d1c9,#eee2de,#f0ecec,#f0eae8,#f1ebea)"></i><i style="background:linear-gradient(#ddaa96,#efe6e3,#d0d9df,#d5dce1,#d8dee2,#e3e5e6,#e3e5e6,#dfe2e5,#ebe9e9,#e4e5e7,#e0e3e5,#dee2e4,#e6e6e7)"></i><i style="background:linear-gradient(#e2baaa,#e9d2ca,#e6e6e7,#d3dbe0,#b2c7d2,#bdced7,#b6c9d4,#beced7,#c8d5db,#bfcfd8,#d3dbe0,#ccd7dd,#d5dde1)"></i><i style="background:linear-gradient(#d2866c,#e3beb1,#f0ebe9,#ced8de,#aec5d1,#b2c7d2,#90b4c7,#b4c8d3,#bdced7,#b8cbd5,#bbccd6,#c1d0d8,#cbd6dd)"></i><i style="background:linear-gradient(#c55d42,#dba590,#ecdbd6,#c3d1d9,#a8c1ce,#b0c6d2,#92b5c8,#c4d2da,#c1d0d8,#bccdd6,#c1d0d9,#d0d9de,#d1dadf)"></i><i style="background:linear-gradient(#c9684d,#d79780,#ebd7d1,#d5dce1,#d7dee2,#cfd8de,#afc5d1,#dce1e3,#d0d9de,#d6dde1,#cbd6dc,#d8dee2,#d9dfe2)"></i><i style="background:linear-gradient(#e0b6a5,#e8cfc6,#f1edec,#edebea,#e5e6e7,#dde1e4,#cfd9de,#eceaea,#dae0e3,#e7e7e8,#dce0e3,#f1eceb,#e7e7e8)"></i><i style="background:linear-gradient(#dfe2e5,#c7d4db,#d7dde1,#eae9e9,#e9e8e9,#efe6e4,#efe7e5,#eddfda,#e8e8e8,#efe6e3,#e3e5e6,#efe8e5,#eeebeb)"></i><i style="background:linear-gradient(#b8cbd5,#c4d2da,#c3d1d9,#dae0e3,#e9e8e9,#f0e9e7,#eee1dd,#eee3df,#efeceb,#efe6e3,#e5e6e7,#eee4e0,#f0e9e7)"></i><i style="background:linear-gradient(#beced7,#d2dbe0,#d5dce0,#c0d0d8,#eae9e9,#f0e9e7,#eee2df,#ede1dd,#ebe9ea,#efe5e2,#eae9e9,#edebea,#e9e8e9)"></i><i style="background:linear-gradient(#adc4d0,#cdd7dd,#cfd9de,#c8d5db,#eee4e0,#f0e9e7,#ecdcd7,#eee2df,#e5e6e7,#efe5e2,#f0ecec,#ebe9e9,#e7e7e8)"></i><i style="background:linear-gradient(#b3c8d3,#b7cad4,#dde1e4,#c7d4db,#efe5e2,#ebe9ea,#f0e8e6,#f0edec,#e5e6e7,#eeebeb,#efe6e3,#ebe9e9,#e6e7e8)"></i><i style="background:linear-gradient(#9ebbcb,#a5bfcd,#cbd6dd,#d1dadf,#f0eceb,#f1edec,#f0eae8,#f1edec,#ebeaea,#efeceb,#eee2de,#f0ebe9,#f0ebe9)"></i><i style="background:linear-gradient(#d0dadf,#b5c9d4,#d7dee2,#cdd7dd,#e9e8e9,#e9e8e9,#f0ecec,#f0e9e7,#f0eae8,#eae9e9,#eee4e1,#f0eae8,#efe5e3)"></i><i style="background:linear-gradient(#d7dee2,#bfcfd8,#c3d1d9,#cad5dc,#e3e5e6,#ebeaea,#eeebeb,#eee2de,#eee3df,#f1eceb,#efe5e3,#f1ecea,#f0e8e6)"></i><i style="background:linear-gradient(#eee1dd,#efeceb,#e0e3e5,#efeceb,#f0ecec,#eceaea,#edebeb,#edeaea,#e8e8e8,#e8e8e8,#f0e8e6,#e5e6e7,#d8dee2)"></i><i style="background:linear-gradient(#ddac98,#dead9a,#eddeda,#e9d2ca,#efeceb,#e8e8e8,#f0ecec,#d6dde1,#dce1e4,#c7d4db,#e6e7e8,#c6d3da,#bbcdd6)"></i><i style="background:linear-gradient(#daa08b,#d99e88,#e9d3cb,#e8cfc6,#e9e8e9,#eceaea,#eceaea,#c5d3da,#c1d0d9,#aec4d1,#d9dfe2,#c9d5dc,#c2d1d9)"></i><i style="background:linear-gradient(#e4c3b6,#dfb09e,#e6c9be,#e6c9bf,#edebea,#e9e9e9,#dfe2e5,#bfcfd8,#d5dde1,#d0d9df,#dce1e4,#d5dde1,#d1dadf)"></i><i style="background:linear-gradient(#eddeda,#e2baab,#e4c3b6,#e5c6bb,#f0e9e8,#e9e8e9,#dbe0e3,#cad6dc,#d8dee2,#e2e4e6,#dbe0e3,#d8dee2,#d0d9df)"></i><i style="background:linear-gradient(#efe8e5,#ecdcd6,#e7cbc1,#e8cec5,#eee3df,#e3e5e6,#cfd9de,#c3d2d9,#d3dbe0,#f0e8e6,#e4e5e7,#d9dfe2,#c1d0d8)"></i><i style="background:linear-gradient(#eae9e9,#efe8e6,#e7e7e8,#e0e3e5,#e9e8e9,#d1dadf,#a1bccb,#a6c0cd,#adc4d0,#dce1e3,#d2dadf,#d6dde1,#c5d2da)"></i><i style="background:linear-gradient(#d1dadf,#9ab9ca,#a2bdcc,#a3becc,#bbccd6,#b8cad5,#80acc3,#aac2cf,#afc5d1,#c4d2da,#b8cbd5,#b5c9d3,#9fbccb)"></i><i style="background:linear-gradient(#ccd7dd,#88b0c5,#9fbccb,#aac2cf,#a3becc,#9ebbcb,#76a7c1,#b7cad4,#b8cad5,#cfd9de,#c0d0d8,#c5d3da,#b2c7d2)"></i><i style="background:linear-gradient(#bdced7,#a2bdcc,#bdced7,#a9c2cf,#82adc4,#83adc4,#91b5c8,#d2dadf,#dce0e3,#ced8de,#b4c8d3,#a3becc,#9ebbca)"></i><i style="background:linear-gradient(#c9d5dc,#b5c9d4,#aec5d1,#b4c8d3,#8cb2c6,#88b0c5,#86afc5,#baccd6,#d4dce0,#d0d9df,#b2c7d2,#b6c9d4,#a7c0ce)"></i><i style="background:linear-gradient(#a2bdcc,#b8cbd5,#a9c2cf,#b5c9d4,#8fb3c7,#91b4c7,#88b0c6,#b8cbd5,#ced8de,#beced7,#c1d0d8,#a8c1ce,#b0c6d2)"></i><i style="background:linear-gradient(#9fbccb,#cad6dc,#b6cad4,#cdd8dd,#8eb3c7,#a4becd,#8bb2c6,#a6c0ce,#afc5d1,#baccd6,#d5dce0,#c6d3da,#c8d5db)"></i><i style="background:linear-gradient(#84aec4,#b8cbd5,#a7c1ce,#a5bfcd,#7caac3,#93b6c8,#9cbaca,#cbd6dc,#b6cad4,#cbd6dd,#d8dee2,#bfcfd8,#c3d1d9)"></i><i style="background:linear-gradient(#acc3d0,#bfcfd8,#a1bdcb,#91b4c7,#76a7c1,#91b4c7,#b6c9d4,#ccd7dd,#cbd6dc,#d7dee1,#d9dfe2,#cfd9de,#c3d1d9)"></i><i style="background:linear-gradient(#c4d2d9,#aec5d1,#7caac3,#7ba9c2,#7ba9c2,#a1bccb,#adc4d0,#d3dbe0,#cad5dc,#d7dee1,#c6d3da,#adc4d0,#90b4c7)"></i><i style="background:linear-gradient(#d8dee2,#c9d5dc,#8cb2c6,#8fb4c7,#83adc4,#a5bfcd,#98b8c9,#b8cbd5,#c7d4db,#dee2e4,#e4e5e7,#bfcfd8,#98b8c9)"></i><i style="background:linear-gradient(#c9d5dc,#b9cbd5,#95b6c8,#91b5c8,#89b0c6,#acc4d0,#a1bccb,#b7cad4,#c5d3da,#e5e6e7,#cad6dc,#a1bccb,#95b6c8)"></i><i style="background:linear-gradient(#b4c8d3,#aac2cf,#9dbbca,#98b8c9,#93b6c8,#9bb9ca,#a8c1ce,#bbccd6,#cfd9de,#e2e4e6,#dce1e3,#bdced7,#9ab9ca)"></i><i style="background:linear-gradient(#a9c1cf,#9ab9ca,#a1bdcb,#afc5d1,#b4c8d3,#c8d5db,#ccd7dd,#d9dfe2,#dfe2e5,#c9d5dc,#bdced7,#b6c9d4,#a6bfcd)"></i><i style="background:linear-gradient(#a3becc,#aec4d1,#8bb1c6,#a2bdcc,#a7c1ce,#c1d0d8,#c5d2da,#dadfe2,#dee2e4,#c1d0d8,#ced8de,#c8d5db,#bccdd6)"></i><i style="background:linear-gradient(#bbcdd6,#c1d0d8,#a0bccb,#a0bccb,#8fb4c7,#c2d1d9,#c6d3da,#d8dee2,#e6e6e7,#d4dce0,#cdd8dd,#cad6dc,#ccd7dd)"></i><i style="background:linear-gradient(#98b8c9,#aac2cf,#94b6c8,#94b6c8,#71a4c0,#91b4c7,#a8c1ce,#beced7,#c5d2da,#d0dadf,#d2dbdf,#d4dce0,#beced7)"></i><i style="background:linear-gradient(#aac2cf,#93b6c8,#abc2cf,#b3c8d3,#98b8c9,#aac2cf,#b7cad4,#c5d3da,#d0d9df,#e2e4e6,#e3e5e6,#dbe0e3,#b7cad4)"></i><i style="background:linear-gradient(#83adc4,#79a9c2,#9fbbcb,#a4bfcd,#b0c6d1,#9fbccb,#acc3d0,#cdd8de,#cfd9de,#dde1e4,#dce1e3,#d2dbe0,#d9dfe2)"></i><i style="background:linear-gradient(#9cbaca,#a2bdcc,#9ab9ca,#8eb3c7,#9bb9ca,#9dbaca,#b4c8d3,#c4d2da,#dce0e3,#d9dee2,#dee2e4,#bbccd6,#dae0e3)"></i><i style="background:linear-gradient(#91b5c8,#b0c6d1,#a0bccb,#7fabc3,#a1bdcb,#a6bfcd,#b8cbd5,#acc3d0,#c3d2d9,#c6d3db,#d0d9df,#adc4d0,#dfe3e5)"></i><i style="background:linear-gradient(#8db2c6,#b5c9d3,#8eb3c7,#84aec4,#a5bfcd,#b0c6d2,#cdd8dd,#a7c0ce,#bccdd6,#c9d5dc,#c6d3db,#a9c2cf,#b0c6d2)"></i><i style="background:linear-gradient(#9ebbcb,#b3c7d3,#b3c8d3,#9fbccb,#b8cbd5,#9fbbcb,#d2dbdf,#b1c6d2,#c0cfd8,#d6dde1,#dadfe3,#c3d1d9,#c3d1d9)"></i><i style="background:linear-gradient(#91b5c8,#97b8c9,#a9c1ce,#9bbaca,#a8c1ce,#75a7c1,#acc3d0,#c0d0d8,#d9dfe2,#d0d9df,#c7d4db,#becfd7,#afc5d1)"></i><i style="background:linear-gradient(#beced7,#c5d3da,#d8dee2,#c3d1d9,#9dbbca,#7aa9c2,#a1bdcc,#b3c7d3,#beced7,#b4c8d3,#cdd8dd,#c8d4db,#a8c1ce)"></i><i style="background:linear-gradient(#a0bccb,#aac2cf,#d1dadf,#b8cbd5,#adc4d0,#82adc4,#a4bfcd,#becfd7,#c5d3da,#bbcdd6,#aec5d1,#b4c8d3,#a4becd)"></i><i style="background:linear-gradient(#c0d0d8,#d7dde1,#ebe9e9,#dae0e3,#b2c7d2,#9bb9ca,#afc5d1,#bbccd6,#9dbaca,#9ebbcb,#a8c1ce,#a9c2cf,#acc3d0)"></i><i style="background:linear-gradient(#a9c2cf,#a9c1cf,#e0e3e5,#cbd6dc,#b3c8d3,#89b1c6,#afc5d1,#c2d1d9,#c0d0d8,#a8c1ce,#aac2cf,#bdced7,#d4dce0)"></i><i style="background:linear-gradient(#d2dadf,#a8c1ce,#e7e7e8,#e0e3e5,#c6d3db,#94b6c8,#8fb3c7,#9fbbcb,#abc3d0,#afc5d1,#a9c1cf,#b6c9d4,#c0d0d8)"></i><i style="background:linear-gradient(#ccd7dd,#abc3cf,#dde1e4,#dbe0e3,#b0c6d2,#7eabc3,#85aec5,#b1c7d2,#d3dbe0,#c7d4db,#c7d4db,#c5d2da,#cad6dc)"></i><i style="background:linear-gradient(#ced8de,#cfd9de,#e8e8e8,#dce1e4,#c6d3da,#89b0c6,#76a7c1,#a4becc,#baccd6,#ced8de,#bfcfd8,#bccdd6,#c4d2da)"></i><i style="background:linear-gradient(#a5bfcd,#d5dce1,#dadfe3,#bfcfd7,#bccdd6,#a9c1ce,#9ebbcb,#c2d1d9,#c1d0d9,#ccd7dd,#becfd7,#b5c9d3,#abc3d0)"></i><i style="background:linear-gradient(#96b7c9,#abc3d0,#9fbbcb,#a7c0ce,#c6d3db,#c4d2da,#b2c7d2,#beced7,#c8d5db,#d6dde1,#b4c8d3,#aac2cf,#a2bdcc)"></i><i style="background:linear-gradient(#9ebbca,#85aec5,#99b8c9,#81adc4,#99b8c9,#b8cbd5,#bbccd6,#c8d4db,#ced8de,#dee2e4,#c9d5dc,#a4bfcd,#98b8c9)"></i><i style="background:linear-gradient(#619cbd,#6ea3bf,#80acc4,#76a7c1,#639dbd,#8fb3c7,#a4becd,#b6cad4,#beced7,#afc5d1,#c4d2da,#bbcdd6,#c6d3da)"></i><i style="background:linear-gradient(#5494bb,#82adc4,#b9cbd5,#85afc5,#6da2bf,#97b8c9,#c5d3da,#b5c9d4,#92b5c8,#93b5c8,#c3d2d9,#d0d9df,#d7dde1)"></i><i style="background:linear-gradient(#5896bc,#abc3d0,#c5d3da,#aac2cf,#99b8c9,#98b8c9,#abc3cf,#b6cad4,#9bbaca,#87afc5,#a2bdcc,#acc3d0,#c4d2da)"></i><i style="background:linear-gradient(#84aec4,#d6dde1,#e2e4e6,#b6c9d4,#e0e3e5,#b2c7d2,#aac2cf,#bfcfd8,#b6c9d4,#b0c6d2,#aec4d1,#b5c9d4,#c0cfd8)"></i><i style="background:linear-gradient(#5e9abd,#d5dce1,#d2dbdf,#adc4d0,#bccdd6,#9ab9ca,#7baac3,#9ab9ca,#afc5d1,#c6d3db,#b7cad4,#c7d4db,#c9d5dc)"></i><i style="background:linear-gradient(#649ebd,#a3becc,#9cbaca,#86afc5,#a4bfcd,#87b0c5,#8eb3c7,#87afc5,#a8c1ce,#ccd7dd,#d3dbe0,#efeceb,#eceaea)"></i><i style="background:linear-gradient(#76a7c1,#b3c8d3,#8bb2c6,#7dabc3,#6fa4c0,#6aa1be,#9cbaca,#7facc3,#b6c9d4,#c7d4db,#dadfe3,#dee1e4,#dde1e4)"></i><i style="background:linear-gradient(#7daac3,#8bb1c6,#77a8c2,#67a0be,#649ebd,#629dbd,#a2bdcc,#91b4c8,#cad6dc,#dee2e4,#dde1e4,#d3dbe0,#d9dfe2)"></i><i style="background:linear-gradient(#5b98bc,#8eb3c7,#87afc5,#69a1be,#619cbd,#6aa1be,#afc5d1,#9ab9ca,#dfe2e5,#e2e4e6,#e5e6e7,#b9cbd5,#cad5dc)"></i><i style="background:linear-gradient(#abc3cf,#7aa9c2,#8bb2c6,#6ca2bf,#6fa3c0,#679fbe,#a6c0cd,#92b5c8,#ced8de,#eeebeb,#e7e7e8,#c0cfd8,#dae0e3)"></i><i style="background:linear-gradient(#97b8c9,#82adc4,#95b7c9,#86afc5,#80acc4,#72a5c0,#93b6c8,#95b7c8,#c5d3da,#e6e7e8,#d6dde1,#c8d4db,#c3d1d9)"></i><i style="background:linear-gradient(#89b0c6,#93b6c8,#a5bfcd,#b7cad4,#a2bdcc,#85aec5,#8db3c7,#b8cbd5,#b2c7d2,#dfe2e5,#c3d2d9,#bdced7,#aec5d1)"></i><i style="background:linear-gradient(#619cbd,#9bb9ca,#8cb2c6,#94b6c8,#7eabc3,#7caac3,#9bbaca,#ccd7dd,#b6cad4,#d8dee2,#9cbaca,#aec5d1,#a5bfcd)"></i><i style="background:linear-gradient(#6ca2bf,#75a6c1,#82adc4,#80acc4,#92b5c8,#89b1c6,#b1c7d2,#bfcfd7,#9fbccb,#c8d4db,#92b5c8,#8db2c6,#a7c0ce)"></i><i style="background:linear-gradient(#5896bc,#619bbd,#86afc5,#96b7c9,#abc3d0,#bdced7,#a4becd,#beced7,#a8c1ce,#dbe0e3,#a7c0ce,#baccd5,#ced8de)"></i><i style="background:linear-gradient(#276fbd,#377fba,#7caac3,#8eb3c7,#8eb3c7,#96b7c9,#8ab1c6,#abc3d0,#a3becc,#d3dbe0,#beced7,#c9d5dc,#b6c9d4)"></i><i style="background:linear-gradient(#256dbe,#5393bb,#9bb9ca,#a9c2cf,#80acc4,#81acc4,#86afc5,#adc4d0,#c5d3da,#d9dfe2,#d6dde1,#e6e6e7,#c3d1d9)"></i><i style="background:linear-gradient(#367eba,#5192bb,#86afc5,#8fb3c7,#6ea3bf,#67a0be,#8eb3c7,#94b6c8,#cbd6dc,#c6d3db,#cbd6dc,#b8cbd5,#b2c7d2)"></i><i style="background:linear-gradient(#5091bb,#83adc4,#a7c0ce,#c2d1d9,#78a8c2,#639dbd,#91b4c7,#bbccd6,#ced8de,#b7cad4,#c2d1d9,#c3d2d9,#dbe0e3)"></i><i style="background:linear-gradient(#4d8fba,#74a6c1,#a3becc,#b6c9d4,#75a6c1,#5d99bc,#8ab1c6,#adc4d0,#b0c6d2,#b4c8d3,#cdd8dd,#bfcfd8,#e6e7e8)"></i></div>
<svg width="1725" height="1327" viewBox="0 0 1725 1327">
<line x1="198.5" y1="13.7" x2="198.5" y2="123.0" stroke="#dcdcdc" stroke-width="2.5"/>
<line x1="318.3" y1="13.7" x2="318.3" y2="123.0" stroke="#dcdcdc" stroke-width="2.5"/>
<line x1="438.1" y1="13.7" x2="438.1" y2="123.0" stroke="#dcdcdc" stroke-width="2.5"/>
<line x1="557.9" y1="13.7" x2="557.9" y2="123.0" stroke="#dcdcdc" stroke-width="2.5"/>
<line x1="677.7" y1="13.7" x2="677.7" y2="123.0" stroke="#dcdcdc" stroke-width="2.5"/>
<line x1="797.5" y1="13.7" x2="797.5" y2="123.0" stroke="#dcdcdc" stroke-width="2.5"/>
<line x1="917.2" y1="13.7" x2="917.2" y2="123.0" stroke="#dcdcdc" stroke-width="2.5"/>
<line x1="1037.0" y1="13.7" x2="1037.0" y2="123.0" stroke="#dcdcdc" stroke-width="2.5"/>
<line x1="1156.8" y1="13.7" x2="1156.8" y2="123.0" stroke="#dcdcdc" stroke-width="2.5"/>
<line x1="1276.6" y1="13.7" x2="1276.6" y2="123.0" stroke="#dcdcdc" stroke-width="2.5"/>
<line x1="1396.4" y1="13.7" x2="1396.4" y2="123.0" stroke="#dcdcdc" stroke-width="2.5"/>
<line x1="1516.2" y1="13.7" x2="1516.2" y2="123.0" stroke="#dcdcdc" stroke-width="2.5"/>
<line x1="137.8" y1="25.8" x2="1575.9" y2="25.8" stroke="#dcdcdc" stroke-width="2.5"/>
<line x1="137.8" y1="69.0" x2="1575.9" y2="69.0" stroke="#dcdcdc" stroke-width="2.5"/>
<line x1="137.8" y1="112.2" x2="1575.9" y2="112.2" stroke="#dcdcdc" stroke-width="2.5"/>
<line x1="198.5" y1="658.4" x2="198.5" y2="768.0" stroke="#dcdcdc" stroke-width="2.5"/>
<line x1="318.3" y1="658.4" x2="318.3" y2="768.0" stroke="#dcdcdc" stroke-width="2.5"/>
<line x1="438.1" y1="658.4" x2="438.1" y2="768.0" stroke="#dcdcdc" stroke-width="2.5"/>
<line x1="557.9" y1="658.4" x2="557.9" y2="768.0" stroke="#dcdcdc" stroke-width="2.5"/>
<line x1="677.7" y1="658.4" x2="677.7" y2="768.0" stroke="#dcdcdc" stroke-width="2.5"/>
<line x1="797.5" y1="658.4" x2="797.5" y2="768.0" stroke="#dcdcdc" stroke-width="2.5"/>
<line x1="917.2" y1="658.4" x2="917.2" y2="768.0" stroke="#dcdcdc" stroke-width="2.5"/>
<line x1="1037.0" y1="658.4" x2="1037.0" y2="768.0" stroke="#dcdcdc" stroke-width="2.5"/>
<line x1="1156.8" y1="658.4" x2="1156.8" y2="768.0" stroke="#dcdcdc" stroke-width="2.5"/>
<line x1="1276.6" y1="658.4" x2="1276.6" y2="768.0" stroke="#dcdcdc" stroke-width="2.5"/>
<line x1="1396.4" y1="658.4" x2="1396.4" y2="768.0" stroke="#dcdcdc" stroke-width="2.5"/>
<line x1="1516.2" y1="658.4" x2="1516.2" y2="768.0" stroke="#dcdcdc" stroke-width="2.5"/>
<line x1="137.8" y1="674.0" x2="1575.9" y2="674.0" stroke="#dcdcdc" stroke-width="2.5"/>
<line x1="137.8" y1="715.8" x2="1575.9" y2="715.8" stroke="#dcdcdc" stroke-width="2.5"/>
<line x1="137.8" y1="757.8" x2="1575.9" y2="757.8" stroke="#dcdcdc" stroke-width="2.5"/>
<clipPath id="ca"><rect x="137.8" y="13.7" width="1438.1" height="109.3"/></clipPath>
<clipPath id="cc"><rect x="137.8" y="658.4" width="1438.1" height="109.6"/></clipPath>
<path d="M137.8 104.1 L141.8 102.8 L145.8 101.4 L149.8 100.1 L153.8 98.6 L157.8 97.2 L161.8 95.7 L165.8 94.1 L169.8 92.6 L173.8 91.0 L177.8 89.3 L181.8 87.6 L185.8 86.0 L189.8 84.2 L193.8 82.5 L197.8 80.7 L201.8 79.0 L205.8 77.2 L209.8 75.4 L213.8 73.5 L217.8 71.7 L221.8 69.9 L225.8 68.1 L229.8 66.2 L233.8 64.4 L237.8 62.6 L241.8 60.7 L245.8 58.9 L249.8 57.1 L253.8 55.3 L257.8 53.6 L261.8 51.8 L265.8 50.1 L269.8 48.4 L273.8 46.7 L277.8 45.0 L281.8 43.4 L285.8 41.8 L289.8 40.2 L293.8 38.7 L297.8 37.2 L301.8 35.8 L305.8 34.4 L309.8 33.0 L313.8 31.7 L317.8 30.4 L321.8 29.2 L325.8 28.0 L329.8 26.9 L333.8 25.9 L337.8 24.8 L341.8 23.9 L345.8 23.0 L349.8 22.2 L353.8 21.4 L357.8 20.7 L361.8 20.0 L365.8 19.4 L369.8 18.9 L373.8 18.4 L377.8 18.0 L381.8 17.7 L385.8 17.4 L389.8 17.2 L393.8 17.1 L397.8 17.0 L401.8 17.0 L405.8 17.1 L409.8 17.2 L413.8 17.4 L417.8 17.6 L421.8 17.9 L425.8 18.2 L429.8 18.6 L433.8 19.1 L437.8 19.6 L441.8 20.2 L445.8 20.9 L449.8 21.6 L453.8 22.3 L457.8 23.1 L461.8 24.0 L465.8 24.9 L469.8 25.8 L473.8 26.8 L477.8 27.9 L481.8 29.0 L485.8 30.1 L489.8 31.3 L493.8 32.5 L497.8 33.8 L501.8 35.1 L505.8 36.4 L509.8 37.8 L513.8 39.2 L517.8 40.7 L521.8 42.2 L525.8 43.7 L529.8 45.2 L533.8 46.8 L537.8 48.4 L541.8 50.0 L545.8 51.6 L549.8 53.2 L553.8 54.9 L557.8 56.6 L561.8 58.3 L565.8 59.9 L569.8 61.6 L573.8 63.4 L577.8 65.1 L581.8 66.8 L585.8 68.5 L589.8 70.2 L593.8 71.9 L597.8 73.6 L601.8 75.3 L605.8 76.9 L609.8 78.6 L613.8 80.2 L617.8 81.9 L621.8 83.5 L625.8 85.1 L629.8 86.6 L633.8 88.2 L637.8 89.7 L641.8 91.2 L645.8 92.6 L649.8 94.0 L653.8 95.4 L657.8 96.8 L661.8 98.1 L665.8 99.4 L669.8 100.6 L673.8 101.8 L677.8 102.9 L681.8 104.0 L685.8 105.1 L689.8 106.1 L693.8 107.0 L697.8 108.0 L701.8 108.8 L705.8 109.6 L709.8 110.4 L713.8 111.1 L717.8 111.7 L721.8 112.3 L725.8 112.8 L729.8 113.3 L733.8 113.7 L737.8 114.1 L741.8 114.4 L745.8 114.6 L749.8 114.8 L753.8 114.9 L757.8 115.0 L761.8 115.0 L765.8 114.9 L769.8 114.8 L773.8 114.6 L777.8 114.4 L781.8 114.1 L785.8 113.8 L789.8 113.3 L793.8 112.9 L797.8 112.3 L801.8 111.8 L805.8 111.1 L809.8 110.4 L813.8 109.7 L817.8 108.8 L821.8 108.0 L825.8 107.1 L829.8 106.1 L833.8 105.1 L837.8 104.0 L841.8 102.9 L845.8 101.8 L849.8 100.6 L853.8 99.3 L857.8 98.1 L861.8 96.7 L865.8 95.4 L869.8 94.0 L873.8 92.5 L877.8 91.1 L881.8 89.6 L885.8 88.0 L889.8 86.5 L893.8 84.9 L897.8 83.3 L901.8 81.7 L905.8 80.0 L909.8 78.3 L913.8 76.7 L917.8 75.0 L921.8 73.2 L925.8 71.5 L929.8 69.8 L933.8 68.0 L937.8 66.3 L941.8 64.6 L945.8 62.8 L949.8 61.1 L953.8 59.3 L957.8 57.6 L961.8 55.9 L965.8 54.1 L969.8 52.4 L973.8 50.7 L977.8 49.1 L981.8 47.4 L985.8 45.8 L989.8 44.2 L993.8 42.6 L997.8 41.0 L1001.8 39.5 L1005.8 37.9 L1009.8 36.5 L1013.8 35.0 L1017.8 33.6 L1021.8 32.2 L1025.8 30.9 L1029.8 29.6 L1033.8 28.3 L1037.8 27.1 L1041.8 26.0 L1045.8 24.8 L1049.8 23.8 L1053.8 22.7 L1057.8 21.8 L1061.8 20.8 L1065.8 19.9 L1069.8 19.1 L1073.8 18.3 L1077.8 17.6 L1081.8 17.0 L1085.8 16.4 L1089.8 15.8 L1093.8 15.3 L1097.8 14.9 L1101.8 14.5 L1105.8 14.2 L1109.8 13.9 L1113.8 13.7 L1117.8 13.6 L1121.8 13.5 L1125.8 13.5 L1129.8 13.5 L1133.8 13.6 L1137.8 13.8 L1141.8 14.0 L1145.8 14.3 L1149.8 14.6 L1153.8 15.0 L1157.8 15.5 L1161.8 16.0 L1165.8 16.5 L1169.8 17.1 L1173.8 17.8 L1177.8 18.5 L1181.8 19.3 L1185.8 20.1 L1189.8 21.0 L1193.8 21.9 L1197.8 22.9 L1201.8 23.9 L1205.8 25.0 L1209.8 26.1 L1213.8 27.3 L1217.8 28.5 L1221.8 29.8 L1225.8 31.1 L1229.8 32.4 L1233.8 33.8 L1237.8 35.2 L1241.8 36.6 L1245.8 38.1 L1249.8 39.6 L1253.8 41.2 L1257.8 42.7 L1261.8 44.3 L1265.8 46.0 L1269.8 47.6 L1273.8 49.3 L1277.8 51.0 L1281.8 52.7 L1285.8 54.4 L1289.8 56.2 L1293.8 57.9 L1297.8 59.7 L1301.8 61.5 L1305.8 63.3 L1309.8 65.1 L1313.8 66.9 L1317.8 68.7 L1321.8 70.5 L1325.8 72.3 L1329.8 74.1 L1333.8 75.9 L1337.8 77.7 L1341.8 79.4 L1345.8 81.2 L1349.8 83.0 L1353.8 84.7 L1357.8 86.4 L1361.8 88.1 L1365.8 89.8 L1369.8 91.5 L1373.8 93.1 L1377.8 94.7 L1381.8 96.3 L1385.8 97.8 L1389.8 99.4 L1393.8 100.9 L1397.8 102.3 L1401.8 103.7 L1405.8 105.1 L1409.8 106.5 L1413.8 107.8 L1417.8 109.0 L1421.8 110.3 L1425.8 111.5 L1429.8 112.6 L1433.8 113.7 L1437.8 114.7 L1441.8 115.7 L1445.8 116.7 L1449.8 117.6 L1453.8 118.4 L1457.8 119.2 L1461.8 120.0 L1465.8 120.6 L1469.8 121.3 L1473.8 121.9 L1477.8 122.4 L1481.8 122.8 L1485.8 123.2 L1489.8 123.6 L1493.8 123.9 L1497.8 124.1 L1501.8 124.3 L1505.8 124.4 L1509.8 124.5 L1513.8 124.5 L1517.8 124.4 L1521.8 124.3 L1525.8 124.1 L1529.8 123.9 L1533.8 123.6 L1537.8 123.2 L1541.8 122.7 L1545.8 122.2 L1549.8 121.7 L1553.8 121.1 L1557.8 120.4 L1561.8 119.6 L1565.8 118.8 L1569.8 118.0 L1573.8 117.1" fill="none" stroke="#000" stroke-width="5.8" clip-path="url(#ca)"/>
<path d="M137.8 753.4 L141.8 752.3 L145.8 751.1 L149.8 749.8 L153.8 748.6 L157.8 747.2 L161.8 745.9 L165.8 744.5 L169.8 743.0 L173.8 741.6 L177.8 740.1 L181.8 738.5 L185.8 737.0 L189.8 735.4 L193.8 733.8 L197.8 732.2 L201.8 730.5 L205.8 728.8 L209.8 727.2 L213.8 725.5 L217.8 723.8 L221.8 722.0 L225.8 720.3 L229.8 718.6 L233.8 716.9 L237.8 715.1 L241.8 713.4 L245.8 711.7 L249.8 710.0 L253.8 708.3 L257.8 706.6 L261.8 704.9 L265.8 703.2 L269.8 701.6 L273.8 700.0 L277.8 698.4 L281.8 696.8 L285.8 695.2 L289.8 693.7 L293.8 692.2 L297.8 690.7 L301.8 689.3 L305.8 687.9 L309.8 686.6 L313.8 685.2 L317.8 684.0 L321.8 682.7 L325.8 681.6 L329.8 680.4 L333.8 679.3 L337.8 678.3 L341.8 677.3 L345.8 676.3 L349.8 675.4 L353.8 674.6 L357.8 673.8 L361.8 673.1 L365.8 672.4 L369.8 671.8 L373.8 671.3 L377.8 670.8 L381.8 670.3 L385.8 670.0 L389.8 669.6 L393.8 669.4 L397.8 669.2 L401.8 669.1 L405.8 669.0 L409.8 669.0 L413.8 669.1 L417.8 669.2 L421.8 669.3 L425.8 669.6 L429.8 669.8 L433.8 670.2 L437.8 670.6 L441.8 671.0 L445.8 671.5 L449.8 672.1 L453.8 672.7 L457.8 673.3 L461.8 674.0 L465.8 674.8 L469.8 675.6 L473.8 676.5 L477.8 677.4 L481.8 678.4 L485.8 679.4 L489.8 680.4 L493.8 681.5 L497.8 682.6 L501.8 683.8 L505.8 685.0 L509.8 686.3 L513.8 687.6 L517.8 688.9 L521.8 690.3 L525.8 691.6 L529.8 693.1 L533.8 694.5 L537.8 696.0 L541.8 697.5 L545.8 699.0 L549.8 700.6 L553.8 702.2 L557.8 703.7 L561.8 705.4 L565.8 707.0 L569.8 708.6 L573.8 710.3 L577.8 711.9 L581.8 713.6 L585.8 715.2 L589.8 716.9 L593.8 718.6 L597.8 720.3 L601.8 721.9 L605.8 723.6 L609.8 725.3 L613.8 726.9 L617.8 728.5 L621.8 730.2 L625.8 731.8 L629.8 733.4 L633.8 735.0 L637.8 736.5 L641.8 738.1 L645.8 739.6 L649.8 741.1 L653.8 742.6 L657.8 744.0 L661.8 745.4 L665.8 746.8 L669.8 748.1 L673.8 749.4 L677.8 750.7 L681.8 752.0 L685.8 753.2 L689.8 754.3 L693.8 755.4 L697.8 756.5 L701.8 757.5 L705.8 758.5 L709.8 759.5 L713.8 760.4 L717.8 761.2 L721.8 762.0 L725.8 762.7 L729.8 763.4 L733.8 764.1 L737.8 764.7 L741.8 765.2 L745.8 765.7 L749.8 766.1 L753.8 766.5 L757.8 766.8 L761.8 767.0 L765.8 767.2 L769.8 767.4 L773.8 767.5 L777.8 767.5 L781.8 767.5 L785.8 767.4 L789.8 767.2 L793.8 767.0 L797.8 766.8 L801.8 766.4 L805.8 766.1 L809.8 765.6 L813.8 765.1 L817.8 764.6 L821.8 763.9 L825.8 763.3 L829.8 762.6 L833.8 761.8 L837.8 760.9 L841.8 760.1 L845.8 759.1 L849.8 758.1 L853.8 757.1 L857.8 756.0 L861.8 754.9 L865.8 753.7 L869.8 752.5 L873.8 751.2 L877.8 749.9 L881.8 748.5 L885.8 747.2 L889.8 745.7 L893.8 744.3 L897.8 742.8 L901.8 741.2 L905.8 739.7 L909.8 738.1 L913.8 736.5 L917.8 734.8 L921.8 733.2 L925.8 731.5 L929.8 729.8 L933.8 728.0 L937.8 726.3 L941.8 724.5 L945.8 722.8 L949.8 721.0 L953.8 719.2 L957.8 717.4 L961.8 715.6 L965.8 713.8 L969.8 712.0 L973.8 710.2 L977.8 708.4 L981.8 706.6 L985.8 704.8 L989.8 703.0 L993.8 701.2 L997.8 699.5 L1001.8 697.7 L1005.8 696.0 L1009.8 694.3 L1013.8 692.6 L1017.8 690.9 L1021.8 689.3 L1025.8 687.7 L1029.8 686.1 L1033.8 684.5 L1037.8 683.0 L1041.8 681.5 L1045.8 680.1 L1049.8 678.6 L1053.8 677.3 L1057.8 675.9 L1061.8 674.6 L1065.8 673.3 L1069.8 672.1 L1073.8 671.0 L1077.8 669.8 L1081.8 668.7 L1085.8 667.7 L1089.8 666.7 L1093.8 665.8 L1097.8 664.9 L1101.8 664.1 L1105.8 663.3 L1109.8 662.6 L1113.8 662.0 L1117.8 661.4 L1121.8 660.8 L1125.8 660.3 L1129.8 659.9 L1133.8 659.5 L1137.8 659.2 L1141.8 658.9 L1145.8 658.7 L1149.8 658.6 L1153.8 658.5 L1157.8 658.5 L1161.8 658.5 L1165.8 658.7 L1169.8 658.8 L1173.8 659.1 L1177.8 659.4 L1181.8 659.7 L1185.8 660.1 L1189.8 660.6 L1193.8 661.2 L1197.8 661.8 L1201.8 662.5 L1205.8 663.2 L1209.8 664.0 L1213.8 664.8 L1217.8 665.7 L1221.8 666.7 L1225.8 667.7 L1229.8 668.8 L1233.8 669.9 L1237.8 671.0 L1241.8 672.2 L1245.8 673.5 L1249.8 674.8 L1253.8 676.2 L1257.8 677.6 L1261.8 679.0 L1265.8 680.5 L1269.8 682.0 L1273.8 683.6 L1277.8 685.1 L1281.8 686.8 L1285.8 688.4 L1289.8 690.1 L1293.8 691.8 L1297.8 693.5 L1301.8 695.3 L1305.8 697.1 L1309.8 698.8 L1313.8 700.7 L1317.8 702.5 L1321.8 704.3 L1325.8 706.2 L1329.8 708.0 L1333.8 709.9 L1337.8 711.7 L1341.8 713.6 L1345.8 715.4 L1349.8 717.3 L1353.8 719.2 L1357.8 721.0 L1361.8 722.8 L1365.8 724.7 L1369.8 726.5 L1373.8 728.3 L1377.8 730.0 L1381.8 731.8 L1385.8 733.5 L1389.8 735.2 L1393.8 736.9 L1397.8 738.6 L1401.8 740.2 L1405.8 741.8 L1409.8 743.3 L1413.8 744.9 L1417.8 746.3 L1421.8 747.8 L1425.8 749.2 L1429.8 750.5 L1433.8 751.9 L1437.8 753.1 L1441.8 754.3 L1445.8 755.5 L1449.8 756.6 L1453.8 757.7 L1457.8 758.7 L1461.8 759.7 L1465.8 760.6 L1469.8 761.4 L1473.8 762.2 L1477.8 763.0 L1481.8 763.6 L1485.8 764.3 L1489.8 764.8 L1493.8 765.3 L1497.8 765.7 L1501.8 766.1 L1505.8 766.4 L1509.8 766.7 L1513.8 766.8 L1517.8 766.9 L1521.8 767.0 L1525.8 767.0 L1529.8 766.9 L1533.8 766.8 L1537.8 766.6 L1541.8 766.3 L1545.8 766.0 L1549.8 765.7 L1553.8 765.2 L1557.8 764.8 L1561.8 764.2 L1565.8 763.6 L1569.8 763.0 L1573.8 762.3" fill="none" stroke="#000" stroke-width="5.8" clip-path="url(#cc)"/>
<polygon points="340.4,68.0 353.2,68.0 353.2,100.5 359.1,100.5 346.8,117.5 334.5,100.5 340.4,100.5" fill="#ff0000"/>
<polygon points="373.8,68.0 386.6,68.0 386.6,100.5 392.5,100.5 380.2,117.5 367.9,100.5 373.8,100.5" fill="#ff0000"/>
<polygon points="409.6,68.0 422.4,68.0 422.4,100.5 428.3,100.5 416.0,117.5 403.7,100.5 409.6,100.5" fill="#ff0000"/>
<polygon points="1015.4,68.0 1028.2,68.0 1028.2,100.5 1034.1,100.5 1021.8,117.5 1009.5,100.5 1015.4,100.5" fill="#ff0000"/>
<polygon points="1041.0,68.0 1053.8,68.0 1053.8,100.5 1059.7,100.5 1047.4,117.5 1035.1,100.5 1041.0,100.5" fill="#ff0000"/>
<polygon points="1073.5,68.0 1086.3,68.0 1086.3,100.5 1092.2,100.5 1079.9,117.5 1067.6,100.5 1073.5,100.5" fill="#ff0000"/>
<polygon points="1097.8,68.0 1110.6,68.0 1110.6,100.5 1116.5,100.5 1104.2,117.5 1091.9,100.5 1097.8,100.5" fill="#ff0000"/>
<polygon points="593.7,709.0 606.3,709.0 606.3,742.0 612.9,742.0 600.0,759.0 587.1,742.0 593.7,742.0" fill="#00b0f0"/>
<polygon points="658.7,709.0 671.3,709.0 671.3,742.0 677.9,742.0 665.0,759.0 652.1,742.0 658.7,742.0" fill="#00b0f0"/>
<polygon points="724.4,709.0 737.0,709.0 737.0,742.0 743.6,742.0 730.7,759.0 717.8,742.0 724.4,742.0" fill="#00b0f0"/>
<polygon points="796.5,709.0 809.1,709.0 809.1,742.0 815.7,742.0 802.8,759.0 789.9,742.0 796.5,742.0" fill="#00b0f0"/>
<polygon points="865.4,709.0 878.0,709.0 878.0,742.0 884.6,742.0 871.7,759.0 858.8,742.0 865.4,742.0" fill="#00b0f0"/>
<polygon points="1268.7,709.0 1281.3,709.0 1281.3,742.0 1287.9,742.0 1275.0,759.0 1262.1,742.0 1268.7,742.0" fill="#00b0f0"/>
<polygon points="1316.9,709.0 1329.5,709.0 1329.5,742.0 1336.1,742.0 1323.2,759.0 1310.3,742.0 1316.9,742.0" fill="#00b0f0"/>
<polygon points="1357.5,709.0 1370.1,709.0 1370.1,742.0 1376.7,742.0 1363.8,759.0 1350.9,742.0 1357.5,742.0" fill="#00b0f0"/>
<polygon points="1403.6,709.0 1416.2,709.0 1416.2,742.0 1422.8,742.0 1409.9,759.0 1397.0,742.0 1403.6,742.0" fill="#00b0f0"/>
<clipPath id="cb"><rect x="137.8" y="131.0" width="1438.1" height="438.3"/></clipPath>
<clipPath id="cd"><rect x="137.8" y="775.3" width="1438.1" height="438.5"/></clipPath>
<g clip-path="url(#cb)" fill="none" stroke-linejoin="round"><path d="M204.9 172.7 L207.9 169.1 L210.9 169.4 L213.9 172.6 L216.9 169.3 L219.9 166.1 L222.9 165.3 L225.9 166.3 L228.9 162.6 L231.9 158.8 L234.9 156.1 L237.9 151.2 L240.9 149.1 L243.9 151.0 L246.9 151.2 L249.9 154.1 L252.9 157.8 L255.9 156.6 L258.9 157.0 L261.9 159.6 L264.9 163.6 L267.9 169.7 L270.9 172.0 L273.9 169.4 L276.9 170.5 L279.9 175.3 L282.9 176.5 L285.9 171.6 L288.9 166.1 L291.9 165.2 L294.9 164.6 L297.9 162.6 L300.9 160.9 L303.9 161.9 L306.9 163.8 L309.9 164.1 L312.9 165.0 L315.9 167.1 L318.9 168.8 L321.9 170.3 L324.9 169.6 L327.9 168.4 L330.9 172.2 L333.9 175.8 L336.9 179.5 L339.9 184.1 L342.9 187.0 L345.9 192.0 L348.9 191.4 L351.9 189.9 L354.9 185.8 L357.9 181.4 L360.9 179.0 L363.9 174.6 L366.9 169.3 L369.9 167.5 L372.9 173.7 L375.9 180.7 L378.9 186.2 L381.9 190.6 L384.9 186.6 L387.9 183.4 L390.9 176.6 L393.9 173.0 L396.9 179.5 L399.9 185.1 L402.9 188.9 L405.9 194.1 L408.9 198.5 L411.9 202.2 L414.9 204.9 L417.9 201.0 L420.9 195.8 L423.9 192.2 L426.9 189.2 L429.9 186.9 L432.9 187.2 L435.9 188.5 L438.9 189.1 L441.9 187.5 L444.9 185.0 L447.9 186.1 L450.9 188.9 L453.9 190.1 L456.9 188.2 L459.9 186.5 L462.9 190.1 L465.9 197.4 L468.9 201.3 L471.9 198.7 L474.9 195.6 L477.9 190.7 L480.9 188.2 L483.9 188.3 L486.9 186.1 L489.9 182.8 L492.9 180.0 L495.9 179.1 L498.9 178.9 L501.9 179.8 L504.9 179.1 L507.9 177.9 L510.9 179.8 L513.9 183.9 L516.9 187.0 L519.9 186.4 L522.9 184.8 L525.9 184.9 L528.9 186.0 L531.9 187.8 L534.9 190.2 L537.9 193.2 L540.9 196.0 L543.9 197.7 L546.9 195.4 L549.9 196.1 L552.9 189.2 L555.9 178.0 L558.9 174.9 L561.9 175.1 L564.9 175.5 L567.9 174.5 L570.9 172.7 L573.9 173.4 L576.9 176.3 L579.9 175.8 L582.9 173.3 L585.9 173.1 L588.9 173.2 L591.9 175.6 L594.9 177.0 L597.9 179.0 L600.9 182.1 L603.9 180.8 L606.9 182.6 L609.9 186.3 L612.9 186.9 L615.9 187.2 L618.9 185.9 L621.9 183.4 L624.9 181.7 L627.9 185.6 L630.9 186.3 L633.9 182.2 L636.9 181.6 L639.9 180.0 L642.9 176.7 L645.9 177.9 L648.9 180.5 L651.9 177.3 L654.9 171.0 L657.9 171.0 L660.9 176.0 L663.9 178.0 L666.9 178.4 L669.9 177.6 L672.9 178.6 L675.9 177.3 L678.9 174.2 L681.9 172.6 L684.9 171.6 L687.9 172.9 L690.9 176.4 L693.9 178.4 L696.9 176.7 L699.9 175.5 L702.9 173.3 L705.9 169.7 L708.9 170.9 L711.9 172.8 L714.9 171.6 L717.9 171.6 L720.9 171.8 L723.9 169.2 L726.9 167.6 L729.9 170.3 L732.9 172.6 L735.9 172.4 L738.9 172.9 L741.9 172.9 L744.9 170.2 L747.9 170.6 L750.9 174.1 L753.9 172.9 L756.9 170.4 L759.9 169.0 L762.9 169.9 L765.9 172.6 L768.9 171.4 L771.9 168.3 L774.9 169.1 L777.9 170.5 L780.9 167.5 L783.9 165.1 L786.9 167.5 L789.9 168.8 L792.9 170.1 L795.9 171.3 L798.9 170.8 L801.9 173.8 L804.9 172.7 L807.9 167.9 L810.9 166.3 L813.9 163.6 L816.9 159.5 L819.9 161.3 L822.9 165.3 L825.9 167.6 L828.9 168.1 L831.9 168.5 L834.9 169.6 L837.9 170.6 L840.9 172.4 L843.9 173.3 L846.9 173.4 L849.9 175.1 L852.9 177.5 L855.9 180.7 L858.9 176.4 L861.9 168.1 L864.9 163.8 L867.9 163.4 L870.9 163.9 L873.9 164.1 L876.9 163.4 L879.9 162.4 L882.9 162.0 L885.9 165.6 L888.9 167.0 L891.9 165.8 L894.9 168.5 L897.9 171.8 L900.9 176.8 L903.9 182.0 L906.9 177.3 L909.9 170.3 L912.9 166.4 L915.9 162.9 L918.9 163.5 L921.9 162.5 L924.9 161.3 L927.9 163.0 L930.9 166.6 L933.9 165.7 L936.9 164.3 L939.9 161.7 L942.9 161.5 L945.9 164.7 L948.9 161.4 L951.9 158.0 L954.9 159.7 L957.9 161.6 L960.9 163.7 L963.9 165.3 L966.9 164.5 L969.9 167.3 L972.9 175.9 L975.9 173.9 L978.9 164.2 L981.9 161.9 L984.9 163.9 L987.9 165.3 L990.9 167.1 L993.9 169.4 L996.9 170.3 L999.9 169.1 L1002.9 168.9 L1005.9 169.0 L1008.9 176.2 L1011.9 196.4 L1014.9 214.9 L1017.9 228.1 L1020.9 241.1 L1023.9 230.5 L1026.9 216.9 L1029.9 203.4 L1032.9 191.7 L1035.9 191.2 L1038.9 190.3 L1041.9 203.5 L1044.9 216.4 L1047.9 225.2 L1050.9 217.1 L1053.9 208.7 L1056.9 200.5 L1059.9 196.8 L1062.9 196.8 L1065.9 200.7 L1068.9 203.8 L1071.9 208.2 L1074.9 215.0 L1077.9 218.8 L1080.9 221.3 L1083.9 218.5 L1086.9 209.6 L1089.9 203.8 L1092.9 203.4 L1095.9 202.2 L1098.9 205.9 L1101.9 214.2 L1104.9 222.9 L1107.9 220.9 L1110.9 213.9 L1113.9 205.5 L1116.9 205.6 L1119.9 206.3 L1122.9 207.4 L1125.9 214.3 L1128.9 219.4 L1131.9 226.5 L1134.9 223.2 L1137.9 217.1 L1140.9 212.4 L1143.9 213.0 L1146.9 211.5 L1149.9 215.1 L1152.9 222.8 L1155.9 230.6 L1158.9 228.7 L1161.9 220.4 L1164.9 213.7 L1167.9 216.0 L1170.9 216.3 L1173.9 210.3 L1176.9 207.9 L1179.9 213.6 L1182.9 217.4 L1185.9 221.2 L1188.9 225.9 L1191.9 227.1 L1194.9 223.5 L1197.9 219.3 L1200.9 215.7 L1203.9 212.1 L1206.9 211.8 L1209.9 211.0 L1212.9 208.8 L1215.9 208.6 L1218.9 211.5 L1221.9 215.3 L1224.9 218.9 L1227.9 222.2 L1230.9 225.9 L1233.9 225.7 L1236.9 220.7 L1239.9 214.6 L1242.9 209.8 L1245.9 209.3 L1248.9 212.0 L1251.9 216.1 L1254.9 216.5 L1257.9 211.7 L1260.9 210.7 L1263.9 211.2 L1266.9 210.5 L1269.9 210.6 L1272.9 210.3 L1275.9 212.1 L1278.9 211.1 L1281.9 207.3 L1284.9 209.0 L1287.9 214.2 L1290.9 211.9 L1293.9 206.9 L1296.9 203.2 L1299.9 200.0 L1302.9 200.0 L1305.9 199.9 L1308.9 202.4 L1311.9 202.1 L1314.9 198.2 L1317.9 199.2 L1320.9 199.6 L1323.9 200.9 L1326.9 203.1 L1329.9 201.3 L1332.9 201.7 L1335.9 205.5 L1338.9 208.8 L1341.9 210.4 L1344.9 208.6 L1347.9 208.4 L1350.9 211.1 L1353.9 210.9 L1356.9 208.0 L1359.9 207.4 L1362.9 208.3 L1365.9 207.8 L1368.9 203.8 L1371.9 201.0 L1374.9 198.3 L1377.9 197.6 L1380.9 199.3 L1383.9 202.4 L1386.9 202.7 L1389.9 199.2 L1392.9 196.3 L1395.9 193.9 L1398.9 198.5 L1401.9 203.2 L1404.9 199.2 L1407.9 196.4 L1410.9 195.7 L1413.9 192.8 L1416.9 194.0 L1419.9 196.3 L1422.9 194.2 L1425.9 192.3 L1428.9 191.8 L1431.9 190.1 L1434.9 190.9 L1437.9 193.4 L1440.9 192.2 L1443.9 192.9 L1446.9 192.5 L1449.9 189.6 L1452.9 190.8 L1455.9 192.5 L1458.9 193.2 L1461.9 193.5 L1464.9 193.7 L1467.9 192.9 L1470.9 191.3 L1473.9 190.2 L1476.9 189.5 L1479.9 187.8 L1482.9 181.6 L1485.9 174.7 L1488.9 172.0 L1491.9 173.0 L1494.9 172.6 L1497.9 168.9 L1500.9 166.2 L1503.9 166.6 L1506.9 168.6 L1509.9 172.5 L1512.9 176.2 L1515.9 177.7 L1518.9 178.8 L1521.9 182.5 L1524.9 180.3 L1527.9 174.2 L1530.9 172.3 L1533.9 172.0 L1536.9 171.4 L1539.9 168.9 L1542.9 165.5 L1545.9 166.2 L1548.9 170.1 L1551.9 175.4 L1554.9 177.4 L1557.9 173.6 L1560.9 173.5 L1563.9 179.3 L1566.9 188.3 L1569.9 190.0 L1572.9 184.8 L1575.9 177.6" stroke="#303030" stroke-width="2"/><path d="M137.8 205.4 L140.8 206.5 L143.8 208.7 L146.8 205.2 L149.8 204.0 L152.8 206.7 L155.8 207.4 L158.8 208.5 L161.8 209.2 L164.8 206.3 L167.8 205.3 L170.8 208.0 L173.8 204.6 L176.8 204.0 L179.8 206.2 L182.8 207.1 L185.8 206.8 L188.8 205.6 L191.8 207.0 L194.8 209.4 L197.8 216.3 L200.8 220.2 L203.8 220.2 L206.8 215.4 L209.8 213.0 L212.8 216.0 L215.8 216.4 L218.8 217.1 L221.8 220.2 L224.8 224.6 L227.8 223.2 L230.8 219.7 L233.8 219.2 L236.8 215.6 L239.8 212.5 L242.8 214.7 L245.8 215.0 L248.8 213.5 L251.8 216.3 L254.8 212.2 L257.8 208.5 L260.8 207.7 L263.8 208.2 L266.8 214.3 L269.8 219.0 L272.8 215.9 L275.8 214.5 L278.8 221.9 L281.8 228.5 L284.8 227.9 L287.8 223.2 L290.8 223.3 L293.8 225.1 L296.8 225.2 L299.8 224.8 L302.8 226.3 L305.8 228.7 L308.8 228.9 L311.8 228.8 L314.8 231.5 L317.8 234.0 L320.8 236.9 L323.8 238.3 L326.8 236.2 L329.8 240.1 L332.8 245.2 L335.8 248.5 L338.8 257.1 L341.8 262.5 L344.8 269.3 L347.8 280.2 L350.8 281.2 L353.8 270.2 L356.8 259.0 L359.8 252.3 L362.8 243.7 L365.8 234.2 L368.8 238.0 L371.8 241.8 L374.8 247.5 L377.8 251.5 L380.8 255.0 L383.8 252.4 L386.8 250.8 L389.8 245.0 L392.8 237.9 L395.8 242.8 L398.8 248.3 L401.8 250.2 L404.8 253.9 L407.8 257.1 L410.8 259.6 L413.8 261.2 L416.8 260.0 L419.8 255.4 L422.8 252.4 L425.8 250.8 L428.8 248.4 L431.8 248.7 L434.8 250.7 L437.8 252.5 L440.8 252.6 L443.8 249.7 L446.8 250.3 L449.8 254.0 L452.8 256.3 L455.8 254.4 L458.8 250.5 L461.8 250.8 L464.8 257.3 L467.8 262.9 L470.8 261.7 L473.8 260.8 L476.8 256.7 L479.8 253.8 L482.8 255.5 L485.8 255.0 L488.8 253.2 L491.8 250.6 L494.8 250.6 L497.8 250.0 L500.8 251.4 L503.8 249.7 L506.8 245.2 L509.8 243.4 L512.8 244.8 L515.8 247.0 L518.8 246.5 L521.8 242.5 L524.8 238.7 L527.8 235.7 L530.8 238.0 L533.8 241.2 L536.8 245.4 L539.8 249.5 L542.8 253.2 L545.8 252.0 L548.8 255.6 L551.8 254.3 L554.8 242.4 L557.8 238.7 L560.8 235.8 L563.8 233.3 L566.8 230.1 L569.8 229.2 L572.8 232.2 L575.8 239.4 L578.8 244.6 L581.8 244.6 L584.8 246.3 L587.8 241.9 L590.8 240.7 L593.8 239.2 L596.8 236.2 L599.8 238.3 L602.8 235.1 L605.8 235.1 L608.8 239.4 L611.8 240.4 L614.8 239.9 L617.8 244.3 L620.8 241.9 L623.8 237.1 L626.8 239.7 L629.8 242.7 L632.8 236.9 L635.8 235.0 L638.8 234.0 L641.8 228.9 L644.8 227.6 L647.8 230.9 L650.8 229.7 L653.8 222.3 L656.8 219.3 L659.8 225.0 L662.8 227.7 L665.8 229.4 L668.8 228.0 L671.8 229.4 L674.8 229.4 L677.8 226.1 L680.8 224.5 L683.8 222.9 L686.8 223.0 L689.8 226.0 L692.8 229.6 L695.8 228.0 L698.8 226.5 L701.8 225.4 L704.8 220.3 L707.8 220.0 L710.8 223.0 L713.8 221.8 L716.8 220.9 L719.8 222.1 L722.8 220.2 L725.8 216.8 L728.8 218.8 L731.8 222.2 L734.8 222.2 L737.8 222.1 L740.8 223.4 L743.8 220.7 L746.8 218.8 L749.8 223.6 L752.8 223.4 L755.8 220.6 L758.8 218.6 L761.8 217.8 L764.8 221.3 L767.8 221.5 L770.8 217.4 L773.8 216.6 L776.8 219.3 L779.8 217.4 L782.8 212.5 L785.8 213.8 L788.8 214.5 L791.8 214.2 L794.8 215.8 L797.8 213.1 L800.8 214.6 L803.8 217.1 L806.8 214.1 L809.8 214.8 L812.8 216.4 L815.8 213.2 L818.8 213.0 L821.8 216.8 L824.8 219.5 L827.8 220.0 L830.8 219.6 L833.8 220.3 L836.8 219.9 L839.8 221.0 L842.8 221.6 L845.8 220.3 L848.8 220.8 L851.8 223.0 L854.8 225.4 L857.8 228.3 L860.8 226.4 L863.8 219.5 L866.8 215.9 L869.8 213.8 L872.8 211.9 L875.8 209.1 L878.8 210.5 L881.8 210.7 L884.8 213.7 L887.8 216.9 L890.8 214.1 L893.8 215.7 L896.8 219.1 L899.8 219.5 L902.8 214.9 L905.8 211.7 L908.8 215.6 L911.8 213.3 L914.8 207.9 L917.8 208.8 L920.8 208.5 L923.8 207.0 L926.8 206.9 L929.8 212.4 L932.8 211.5 L935.8 208.9 L938.8 204.7 L941.8 200.2 L944.8 203.5 L947.8 200.3 L950.8 197.5 L953.8 202.7 L956.8 206.3 L959.8 208.3 L962.8 211.0 L965.8 210.7 L968.8 209.8 L971.8 220.3 L974.8 223.7 L977.8 212.7 L980.8 207.9 L983.8 208.6 L986.8 208.8 L989.8 208.9 L992.8 209.9 L995.8 210.6 L998.8 208.1 L1001.8 207.1 L1004.8 206.7 L1007.8 208.0 L1010.8 229.8 L1013.8 254.3 L1016.8 270.9 L1019.8 287.8 L1022.8 287.2 L1025.8 271.4 L1028.8 256.6 L1031.8 242.9 L1034.8 238.5 L1037.8 235.8 L1040.8 244.6 L1043.8 260.4 L1046.8 269.4 L1049.8 268.1 L1052.8 259.5 L1055.8 249.1 L1058.8 244.1 L1061.8 242.2 L1064.8 246.0 L1067.8 249.4 L1070.8 252.1 L1073.8 260.9 L1076.8 265.8 L1079.8 270.9 L1082.8 270.0 L1085.8 263.2 L1088.8 252.9 L1091.8 252.9 L1094.8 252.5 L1097.8 253.1 L1100.8 261.7 L1103.8 271.8 L1106.8 275.8 L1109.8 269.1 L1112.8 260.5 L1115.8 257.4 L1118.8 258.3 L1121.8 259.7 L1124.8 265.1 L1127.8 270.3 L1130.8 275.7 L1133.8 277.5 L1136.8 271.1 L1139.8 262.6 L1142.8 263.1 L1145.8 261.1 L1148.8 261.1 L1151.8 268.3 L1154.8 276.2 L1157.8 279.9 L1160.8 271.0 L1163.8 262.4 L1166.8 261.4 L1169.8 264.8 L1172.8 262.3 L1175.8 261.1 L1178.8 264.4 L1181.8 265.4 L1184.8 264.6 L1187.8 262.2 L1190.8 263.1 L1193.8 261.1 L1196.8 257.2 L1199.8 256.3 L1202.8 253.6 L1205.8 252.8 L1208.8 252.7 L1211.8 249.8 L1214.8 249.0 L1217.8 249.0 L1220.8 249.4 L1223.8 250.6 L1226.8 249.7 L1229.8 251.9 L1232.8 255.6 L1235.8 253.5 L1238.8 249.2 L1241.8 245.8 L1244.8 243.7 L1247.8 245.1 L1250.8 249.0 L1253.8 252.3 L1256.8 246.4 L1259.8 243.9 L1262.8 244.6 L1265.8 243.6 L1268.8 244.0 L1271.8 243.7 L1274.8 246.4 L1277.8 248.5 L1280.8 244.7 L1283.8 244.2 L1286.8 252.5 L1289.8 253.3 L1292.8 248.8 L1295.8 246.3 L1298.8 242.6 L1301.8 243.9 L1304.8 243.7 L1307.8 247.1 L1310.8 250.5 L1313.8 245.9 L1316.8 247.7 L1319.8 249.3 L1322.8 250.4 L1325.8 255.4 L1328.8 254.7 L1331.8 251.7 L1334.8 253.4 L1337.8 254.8 L1340.8 255.8 L1343.8 252.6 L1346.8 248.3 L1349.8 251.2 L1352.8 255.6 L1355.8 255.4 L1358.8 256.9 L1361.8 260.6 L1364.8 261.6 L1367.8 256.6 L1370.8 253.2 L1373.8 249.3 L1376.8 247.1 L1379.8 247.1 L1382.8 249.6 L1385.8 251.4 L1388.8 246.9 L1391.8 244.1 L1394.8 238.8 L1397.8 239.7 L1400.8 246.4 L1403.8 241.9 L1406.8 237.0 L1409.8 237.9 L1412.8 234.4 L1415.8 234.3 L1418.8 238.5 L1421.8 237.5 L1424.8 235.1 L1427.8 235.6 L1430.8 233.0 L1433.8 231.3 L1436.8 234.7 L1439.8 232.5 L1442.8 231.9 L1445.8 232.7 L1448.8 227.6 L1451.8 227.3 L1454.8 228.6 L1457.8 228.9 L1460.8 228.2 L1463.8 228.8 L1466.8 229.0 L1469.8 227.5 L1472.8 227.2 L1475.8 225.7 L1478.8 227.8 L1481.8 228.0 L1484.8 222.7 L1487.8 217.3 L1490.8 216.5 L1493.8 216.7 L1496.8 214.2 L1499.8 214.0 L1502.8 213.7 L1505.8 213.5 L1508.8 215.9 L1511.8 218.8 L1514.8 220.1 L1517.8 218.6 L1520.8 221.6 L1523.8 224.3 L1526.8 221.0 L1529.8 217.8 L1532.8 216.6 L1535.8 215.8 L1538.8 213.4 L1541.8 208.8 L1544.8 206.1 L1547.8 202.3 L1550.8 205.3 L1553.8 206.6 L1556.8 204.8 L1559.8 205.5 L1562.8 209.6 L1565.8 220.0 L1568.8 224.6 L1571.8 221.0 L1574.8 213.4" stroke="#303030" stroke-width="2"/><path d="M137.8 248.1 L140.8 247.6 L143.8 248.3 L146.8 243.4 L149.8 240.7 L152.8 241.9 L155.8 244.1 L158.8 247.8 L161.8 251.0 L164.8 250.7 L167.8 251.0 L170.8 252.4 L173.8 247.5 L176.8 245.4 L179.8 246.1 L182.8 245.5 L185.8 243.7 L188.8 242.7 L191.8 245.2 L194.8 248.5 L197.8 256.5 L200.8 261.3 L203.8 262.0 L206.8 255.9 L209.8 252.2 L212.8 254.1 L215.8 253.2 L218.8 254.1 L221.8 258.0 L224.8 263.3 L227.8 262.6 L230.8 259.9 L233.8 260.2 L236.8 257.2 L239.8 253.6 L242.8 256.6 L245.8 257.7 L248.8 256.9 L251.8 260.5 L254.8 257.2 L257.8 254.2 L260.8 254.2 L263.8 254.7 L266.8 258.8 L269.8 261.5 L272.8 256.4 L275.8 252.9 L278.8 258.3 L281.8 262.9 L284.8 260.3 L287.8 254.9 L290.8 255.2 L293.8 257.3 L296.8 257.7 L299.8 257.6 L302.8 259.5 L305.8 262.2 L308.8 262.6 L311.8 262.9 L314.8 265.0 L317.8 266.7 L320.8 269.3 L323.8 271.2 L326.8 269.5 L329.8 274.0 L332.8 279.5 L335.8 283.3 L338.8 289.7 L341.8 292.9 L344.8 297.4 L347.8 306.1 L350.8 307.6 L353.8 299.3 L356.8 290.7 L359.8 286.7 L362.8 280.8 L365.8 274.0 L368.8 279.0 L371.8 284.1 L374.8 290.9 L377.8 296.1 L380.8 300.8 L383.8 297.7 L386.8 293.8 L389.8 285.8 L392.8 276.4 L395.8 279.4 L398.8 286.5 L401.8 290.0 L404.8 295.3 L407.8 300.1 L410.8 304.2 L413.8 303.7 L416.8 299.2 L419.8 293.5 L422.8 289.8 L425.8 288.5 L428.8 286.5 L431.8 284.8 L434.8 284.9 L437.8 286.2 L440.8 286.2 L443.8 283.2 L446.8 283.7 L449.8 287.2 L452.8 289.5 L455.8 288.0 L458.8 284.3 L461.8 285.0 L464.8 291.7 L467.8 297.7 L470.8 296.2 L473.8 294.8 L476.8 290.3 L479.8 287.0 L482.8 288.3 L485.8 287.3 L488.8 285.0 L491.8 282.0 L494.8 281.7 L497.8 280.6 L500.8 281.5 L503.8 281.4 L506.8 279.1 L509.8 279.5 L512.8 283.1 L515.8 286.5 L518.8 284.8 L521.8 279.7 L524.8 274.7 L527.8 270.7 L530.8 271.2 L533.8 272.6 L536.8 275.0 L539.8 277.3 L542.8 279.2 L545.8 278.6 L548.8 286.1 L551.8 286.2 L554.8 275.7 L557.8 273.6 L560.8 272.1 L563.8 271.1 L566.8 269.4 L569.8 268.2 L572.8 270.1 L575.8 276.0 L578.8 280.0 L581.8 278.8 L584.8 279.5 L587.8 275.2 L590.8 274.1 L593.8 272.8 L596.8 270.0 L599.8 272.2 L602.8 267.4 L605.8 266.9 L608.8 273.1 L611.8 276.2 L614.8 277.6 L617.8 282.4 L620.8 280.2 L623.8 275.5 L626.8 278.3 L629.8 281.4 L632.8 275.8 L635.8 274.0 L638.8 273.2 L641.8 268.2 L644.8 267.1 L647.8 270.5 L650.8 269.4 L653.8 261.8 L656.8 258.8 L659.8 264.3 L662.8 266.8 L665.8 268.4 L668.8 266.8 L671.8 268.1 L674.8 268.0 L677.8 264.5 L680.8 262.7 L683.8 261.1 L686.8 261.5 L689.8 264.8 L692.8 268.7 L695.8 267.4 L698.8 266.1 L701.8 265.4 L704.8 260.5 L707.8 260.5 L710.8 263.9 L713.8 262.9 L716.8 262.4 L719.8 263.6 L722.8 261.6 L725.8 258.2 L728.8 260.2 L731.8 263.6 L734.8 263.6 L737.8 263.6 L740.8 264.9 L743.8 262.2 L746.8 260.2 L749.8 265.0 L752.8 264.0 L755.8 260.5 L758.8 257.7 L761.8 256.2 L764.8 258.9 L767.8 258.4 L770.8 253.5 L773.8 252.0 L776.8 253.9 L779.8 251.3 L782.8 245.7 L785.8 246.2 L788.8 246.1 L791.8 245.1 L794.8 246.0 L797.8 242.5 L800.8 243.2 L803.8 245.1 L806.8 241.9 L809.8 242.1 L812.8 243.5 L815.8 239.9 L818.8 239.4 L821.8 242.8 L824.8 245.2 L827.8 245.4 L830.8 244.7 L833.8 246.1 L836.8 247.8 L839.8 251.0 L842.8 253.7 L845.8 254.5 L848.8 257.1 L851.8 253.0 L854.8 248.6 L857.8 250.0 L860.8 248.6 L863.8 242.3 L866.8 240.6 L869.8 242.5 L872.8 244.5 L875.8 245.1 L878.8 246.0 L881.8 245.5 L884.8 247.9 L887.8 250.6 L890.8 247.2 L893.8 248.2 L896.8 251.0 L899.8 251.8 L902.8 249.5 L905.8 248.6 L908.8 254.6 L911.8 251.4 L914.8 245.0 L917.8 245.5 L920.8 244.7 L923.8 242.8 L926.8 242.3 L929.8 247.4 L932.8 246.4 L935.8 244.1 L938.8 240.2 L941.8 236.0 L944.8 239.6 L947.8 236.7 L950.8 231.4 L953.8 233.3 L956.8 235.9 L959.8 238.5 L962.8 241.8 L965.8 241.9 L968.8 240.7 L971.8 251.0 L974.8 254.1 L977.8 242.9 L980.8 237.8 L983.8 239.3 L986.8 240.5 L989.8 241.7 L992.8 243.7 L995.8 245.5 L998.8 244.1 L1001.8 243.5 L1004.8 243.1 L1007.8 244.4 L1010.8 271.0 L1013.8 300.7 L1016.8 321.8 L1019.8 343.0 L1022.8 341.6 L1025.8 321.6 L1028.8 302.5 L1031.8 284.5 L1034.8 278.3 L1037.8 275.6 L1040.8 285.2 L1043.8 302.3 L1046.8 312.6 L1049.8 311.0 L1052.8 300.9 L1055.8 289.0 L1058.8 283.9 L1061.8 281.9 L1064.8 285.7 L1067.8 289.1 L1070.8 291.8 L1073.8 301.5 L1076.8 307.4 L1079.8 313.5 L1082.8 311.3 L1085.8 303.0 L1088.8 291.6 L1091.8 291.4 L1094.8 290.8 L1097.8 291.5 L1100.8 301.0 L1103.8 311.9 L1106.8 316.2 L1109.8 308.2 L1112.8 298.3 L1115.8 294.6 L1118.8 295.3 L1121.8 296.5 L1124.8 302.6 L1127.8 309.2 L1130.8 316.0 L1133.8 318.0 L1136.8 311.1 L1139.8 302.2 L1142.8 303.1 L1145.8 301.6 L1148.8 302.4 L1151.8 310.9 L1154.8 320.2 L1157.8 324.7 L1160.8 315.1 L1163.8 305.7 L1166.8 304.5 L1169.8 307.9 L1172.8 302.6 L1175.8 298.3 L1178.8 298.7 L1181.8 296.6 L1184.8 294.4 L1187.8 292.1 L1190.8 292.9 L1193.8 290.9 L1196.8 287.1 L1199.8 286.1 L1202.8 283.4 L1205.8 282.6 L1208.8 282.6 L1211.8 279.7 L1214.8 278.9 L1217.8 278.9 L1220.8 279.2 L1223.8 280.4 L1226.8 279.6 L1229.8 281.8 L1232.8 285.8 L1235.8 284.0 L1238.8 279.9 L1241.8 276.8 L1244.8 275.1 L1247.8 276.7 L1250.8 281.0 L1253.8 284.6 L1256.8 279.0 L1259.8 276.8 L1262.8 277.8 L1265.8 276.7 L1268.8 277.1 L1271.8 276.8 L1274.8 279.6 L1277.8 281.6 L1280.8 277.8 L1283.8 277.4 L1286.8 285.6 L1289.8 286.5 L1292.8 282.0 L1295.8 279.4 L1298.8 275.7 L1301.8 277.1 L1304.8 276.9 L1307.8 280.2 L1310.8 283.7 L1313.8 279.1 L1316.8 280.8 L1319.8 282.5 L1322.8 283.6 L1325.8 288.5 L1328.8 287.9 L1331.8 286.1 L1334.8 289.1 L1337.8 292.0 L1340.8 294.3 L1343.8 292.6 L1346.8 289.6 L1349.8 293.1 L1352.8 296.4 L1355.8 294.9 L1358.8 293.6 L1361.8 294.5 L1364.8 295.2 L1367.8 290.1 L1370.8 286.6 L1373.8 282.6 L1376.8 280.3 L1379.8 281.3 L1382.8 286.8 L1385.8 291.6 L1388.8 290.2 L1391.8 290.3 L1394.8 288.0 L1397.8 290.6 L1400.8 298.6 L1403.8 295.6 L1406.8 291.2 L1409.8 291.7 L1412.8 287.3 L1415.8 284.9 L1418.8 287.0 L1421.8 283.8 L1424.8 279.2 L1427.8 277.5 L1430.8 274.3 L1433.8 272.5 L1436.8 275.8 L1439.8 273.4 L1442.8 272.6 L1445.8 273.2 L1448.8 268.0 L1451.8 267.6 L1454.8 268.7 L1457.8 268.9 L1460.8 268.0 L1463.8 268.5 L1466.8 268.6 L1469.8 267.0 L1472.8 266.6 L1475.8 265.0 L1478.8 267.0 L1481.8 267.4 L1484.8 264.5 L1487.8 261.5 L1490.8 263.1 L1493.8 265.6 L1496.8 263.2 L1499.8 262.0 L1502.8 260.6 L1505.8 259.4 L1508.8 260.6 L1511.8 262.6 L1514.8 262.8 L1517.8 260.3 L1520.8 262.2 L1523.8 266.1 L1526.8 264.4 L1529.8 262.9 L1532.8 263.5 L1535.8 264.6 L1538.8 264.1 L1541.8 261.4 L1544.8 260.6 L1547.8 258.7 L1550.8 259.3 L1553.8 258.5 L1556.8 254.3 L1559.8 252.9 L1562.8 256.4 L1565.8 267.4 L1568.8 272.6 L1571.8 269.6 L1574.8 262.7" stroke="#303030" stroke-width="2"/><path d="M137.8 296.6 L140.8 297.9 L143.8 300.3 L146.8 297.1 L149.8 296.1 L152.8 299.0 L155.8 300.0 L158.8 301.3 L161.8 302.2 L164.8 299.6 L167.8 298.8 L170.8 301.6 L173.8 298.1 L176.8 297.4 L179.8 299.6 L182.8 300.4 L185.8 300.1 L188.8 298.7 L191.8 300.1 L194.8 302.4 L197.8 309.3 L200.8 313.0 L203.8 312.5 L206.8 304.6 L209.8 299.0 L212.8 299.0 L215.8 296.3 L218.8 295.3 L221.8 297.4 L224.8 300.8 L227.8 298.5 L230.8 294.6 L233.8 293.6 L236.8 289.6 L239.8 286.1 L242.8 289.2 L245.8 290.3 L248.8 289.6 L251.8 293.2 L254.8 290.0 L257.8 287.1 L260.8 287.1 L263.8 287.8 L266.8 291.9 L269.8 294.8 L272.8 291.5 L275.8 289.8 L278.8 297.0 L281.8 303.4 L284.8 302.6 L287.8 298.2 L290.8 299.0 L293.8 301.6 L296.8 302.5 L299.8 303.4 L302.8 306.2 L305.8 309.8 L308.8 311.2 L311.8 312.4 L314.8 315.5 L317.8 318.7 L320.8 322.6 L323.8 325.1 L326.8 324.1 L329.8 329.1 L332.8 335.2 L335.8 339.6 L338.8 345.6 L341.8 348.3 L344.8 352.4 L347.8 360.6 L350.8 369.4 L353.8 357.7 L356.8 345.8 L359.8 338.4 L362.8 331.1 L365.8 335.3 L368.8 339.4 L371.8 343.5 L374.8 349.5 L377.8 353.8 L380.8 357.6 L383.8 353.7 L386.8 349.0 L389.8 340.3 L392.8 330.1 L395.8 332.3 L398.8 337.3 L401.8 338.6 L404.8 341.8 L407.8 344.6 L410.8 346.6 L413.8 347.6 L416.8 346.8 L419.8 343.6 L422.8 342.0 L425.8 341.7 L428.8 340.6 L431.8 340.0 L434.8 341.1 L437.8 341.6 L440.8 340.4 L443.8 336.1 L446.8 335.4 L449.8 337.8 L452.8 338.9 L455.8 336.1 L458.8 331.3 L461.8 330.7 L464.8 336.3 L467.8 341.0 L470.8 338.3 L473.8 335.7 L476.8 330.0 L479.8 325.4 L482.8 325.5 L485.8 323.3 L488.8 319.9 L491.8 315.6 L494.8 314.0 L497.8 311.7 L500.8 311.5 L503.8 310.9 L506.8 308.4 L509.8 308.6 L512.8 312.0 L515.8 315.9 L518.8 316.6 L521.8 315.0 L524.8 313.6 L527.8 313.0 L530.8 313.5 L533.8 314.3 L536.8 315.0 L539.8 315.2 L542.8 315.0 L545.8 312.3 L548.8 318.5 L551.8 319.8 L554.8 310.5 L557.8 309.5 L560.8 309.1 L563.8 309.3 L566.8 308.7 L569.8 308.4 L572.8 310.8 L575.8 317.4 L578.8 322.0 L581.8 321.3 L584.8 323.2 L587.8 324.1 L590.8 321.2 L593.8 317.9 L596.8 313.2 L599.8 313.6 L602.8 310.4 L605.8 311.7 L608.8 317.2 L611.8 319.5 L614.8 320.2 L617.8 328.8 L620.8 326.2 L623.8 321.3 L626.8 323.8 L629.8 326.5 L632.8 320.6 L635.8 318.5 L638.8 317.5 L641.8 312.2 L644.8 310.7 L647.8 313.9 L650.8 312.6 L653.8 305.7 L656.8 303.2 L659.8 309.3 L662.8 312.5 L665.8 314.6 L668.8 313.6 L671.8 315.5 L674.8 316.0 L677.8 313.1 L680.8 311.9 L683.8 311.1 L686.8 313.3 L689.8 318.4 L692.8 324.1 L695.8 324.6 L698.8 325.2 L701.8 323.7 L704.8 316.7 L707.8 314.6 L710.8 315.9 L713.8 312.8 L716.8 310.4 L719.8 311.1 L722.8 308.7 L725.8 304.8 L728.8 306.4 L731.8 309.4 L734.8 308.9 L737.8 308.4 L740.8 309.3 L743.8 306.1 L746.8 303.7 L749.8 308.0 L752.8 307.1 L755.8 303.5 L758.8 300.8 L761.8 299.3 L764.8 302.0 L767.8 301.5 L770.8 296.6 L773.8 295.1 L776.8 297.0 L779.8 294.4 L782.8 288.8 L785.8 289.8 L788.8 290.2 L791.8 289.7 L794.8 291.1 L797.8 288.1 L800.8 289.3 L803.8 291.3 L806.8 287.6 L809.8 287.4 L812.8 288.2 L815.8 284.1 L818.8 283.1 L821.8 286.0 L824.8 288.0 L827.8 287.6 L830.8 286.4 L833.8 286.3 L836.8 285.4 L839.8 285.8 L842.8 285.8 L845.8 283.9 L848.8 283.8 L851.8 281.6 L854.8 279.4 L857.8 283.1 L860.8 284.0 L863.8 279.9 L866.8 279.2 L869.8 279.9 L872.8 280.9 L875.8 280.5 L878.8 280.3 L881.8 278.8 L884.8 279.4 L887.8 280.1 L890.8 274.7 L893.8 273.8 L896.8 274.6 L899.8 274.2 L902.8 272.1 L905.8 271.3 L908.8 277.5 L911.8 274.4 L914.8 268.2 L917.8 272.6 L920.8 276.7 L923.8 279.6 L926.8 283.9 L929.8 293.8 L932.8 300.3 L935.8 308.5 L938.8 301.9 L941.8 295.1 L944.8 295.9 L947.8 290.4 L950.8 284.2 L953.8 285.8 L956.8 288.1 L959.8 290.4 L962.8 293.4 L965.8 293.5 L968.8 292.9 L971.8 303.7 L974.8 307.5 L977.8 296.8 L980.8 292.3 L983.8 292.8 L986.8 292.4 L989.8 292.0 L992.8 292.4 L995.8 292.6 L998.8 289.5 L1001.8 288.3 L1004.8 287.9 L1007.8 289.2 L1010.8 314.7 L1013.8 343.1 L1016.8 363.2 L1019.8 383.4 L1022.8 380.0 L1025.8 357.5 L1028.8 335.8 L1031.8 315.3 L1034.8 308.1 L1037.8 305.4 L1040.8 315.4 L1043.8 333.2 L1046.8 344.2 L1049.8 342.3 L1052.8 331.5 L1055.8 318.8 L1058.8 313.8 L1061.8 311.9 L1064.8 315.8 L1067.8 319.3 L1070.8 322.1 L1073.8 332.8 L1076.8 339.9 L1079.8 347.1 L1082.8 344.9 L1085.8 336.4 L1088.8 325.1 L1091.8 325.4 L1094.8 325.4 L1097.8 326.7 L1100.8 337.3 L1103.8 349.3 L1106.8 354.3 L1109.8 346.3 L1112.8 336.3 L1115.8 332.9 L1118.8 334.1 L1121.8 335.9 L1124.8 342.4 L1127.8 349.3 L1130.8 356.2 L1133.8 357.9 L1136.8 350.2 L1139.8 340.5 L1142.8 341.1 L1145.8 339.3 L1148.8 339.9 L1151.8 348.5 L1154.8 357.9 L1157.8 362.3 L1160.8 352.2 L1163.8 342.3 L1166.8 340.8 L1169.8 344.2 L1172.8 337.3 L1175.8 331.3 L1178.8 329.9 L1181.8 327.9 L1184.8 326.8 L1187.8 325.5 L1190.8 327.4 L1193.8 326.4 L1196.8 323.5 L1199.8 322.5 L1202.8 319.8 L1205.8 319.1 L1208.8 319.0 L1211.8 316.1 L1214.8 315.3 L1217.8 315.3 L1220.8 315.7 L1223.8 316.8 L1226.8 316.0 L1229.8 318.1 L1232.8 319.6 L1235.8 315.5 L1238.8 309.0 L1241.8 303.5 L1244.8 299.4 L1247.8 301.2 L1250.8 307.9 L1253.8 313.9 L1256.8 310.7 L1259.8 310.9 L1262.8 314.2 L1265.8 313.5 L1268.8 314.2 L1271.8 314.2 L1274.8 317.3 L1277.8 319.6 L1280.8 316.1 L1283.8 315.9 L1286.8 324.5 L1289.8 325.6 L1292.8 321.4 L1295.8 319.2 L1298.8 314.6 L1301.8 315.1 L1304.8 314.0 L1307.8 316.4 L1310.8 319.0 L1313.8 313.5 L1316.8 314.3 L1319.8 315.1 L1322.8 315.3 L1325.8 319.3 L1328.8 317.8 L1331.8 317.0 L1334.8 321.1 L1337.8 325.1 L1340.8 328.6 L1343.8 327.9 L1346.8 326.1 L1349.8 329.6 L1352.8 330.3 L1355.8 326.3 L1358.8 324.0 L1361.8 324.0 L1364.8 325.4 L1367.8 321.3 L1370.8 318.8 L1373.8 315.8 L1376.8 314.4 L1379.8 315.3 L1382.8 318.8 L1385.8 321.4 L1388.8 317.9 L1391.8 316.0 L1394.8 311.5 L1397.8 316.3 L1400.8 327.3 L1403.8 327.3 L1406.8 325.9 L1409.8 329.4 L1412.8 328.1 L1415.8 329.4 L1418.8 335.0 L1421.8 335.5 L1424.8 334.5 L1427.8 336.4 L1430.8 331.6 L1433.8 326.8 L1436.8 327.1 L1439.8 321.7 L1442.8 317.9 L1445.8 316.3 L1448.8 311.1 L1451.8 310.7 L1454.8 311.8 L1457.8 312.0 L1460.8 311.1 L1463.8 311.6 L1466.8 311.7 L1469.8 310.1 L1472.8 309.7 L1475.8 308.0 L1478.8 310.1 L1481.8 310.5 L1484.8 307.5 L1487.8 304.5 L1490.8 306.1 L1493.8 308.7 L1496.8 306.7 L1499.8 306.1 L1502.8 305.3 L1505.8 304.7 L1508.8 306.5 L1511.8 309.1 L1514.8 309.9 L1517.8 308.0 L1520.8 310.5 L1523.8 315.0 L1526.8 313.9 L1529.8 313.1 L1532.8 314.5 L1535.8 316.3 L1538.8 316.6 L1541.8 314.6 L1544.8 314.5 L1547.8 313.3 L1550.8 314.8 L1553.8 314.7 L1556.8 309.6 L1559.8 306.8 L1562.8 309.0 L1565.8 318.7 L1568.8 322.6 L1571.8 318.3 L1574.8 310.0" stroke="#303030" stroke-width="2"/><path d="M137.8 343.0 L140.8 344.3 L143.8 346.7 L146.8 343.5 L149.8 342.5 L152.8 345.4 L155.8 346.4 L158.8 347.7 L161.8 348.6 L164.8 346.0 L167.8 345.2 L170.8 348.0 L173.8 344.5 L176.8 343.8 L179.8 346.0 L182.8 346.8 L185.8 346.5 L188.8 345.2 L191.8 346.5 L194.8 348.8 L197.8 355.7 L200.8 359.4 L203.8 359.0 L206.8 351.6 L209.8 346.6 L212.8 347.2 L215.8 345.0 L218.8 344.6 L221.8 347.2 L224.8 351.2 L227.8 349.2 L230.8 345.2 L233.8 344.2 L236.8 340.0 L239.8 335.7 L242.8 338.1 L245.8 338.5 L248.8 337.1 L251.8 340.0 L254.8 336.1 L257.8 332.5 L260.8 331.8 L263.8 331.7 L266.8 335.1 L269.8 338.8 L272.8 335.7 L275.8 334.3 L278.8 341.7 L281.8 347.4 L284.8 345.8 L287.8 340.5 L290.8 340.4 L293.8 342.0 L296.8 342.0 L299.8 341.4 L302.8 342.8 L305.8 345.1 L308.8 345.1 L311.8 344.9 L314.8 349.0 L317.8 353.6 L320.8 358.5 L323.8 361.3 L326.8 359.5 L329.8 363.8 L332.8 369.2 L335.8 372.8 L338.8 382.5 L341.8 389.0 L344.8 397.0 L347.8 409.0 L350.8 410.6 L353.8 399.8 L356.8 388.8 L359.8 383.6 L362.8 385.2 L365.8 385.4 L368.8 385.6 L371.8 385.8 L374.8 391.0 L377.8 400.0 L380.8 408.4 L383.8 405.0 L386.8 400.3 L389.8 391.4 L392.8 381.2 L395.8 386.9 L398.8 389.4 L401.8 388.8 L404.8 391.7 L407.8 394.2 L410.8 395.9 L413.8 396.7 L416.8 400.8 L419.8 406.9 L422.8 400.3 L425.8 388.7 L428.8 385.5 L431.8 384.8 L434.8 385.9 L437.8 386.6 L440.8 385.8 L443.8 382.2 L446.8 382.7 L449.8 386.3 L452.8 388.6 L455.8 387.1 L458.8 383.4 L461.8 384.1 L464.8 390.9 L467.8 396.8 L470.8 395.9 L473.8 391.1 L476.8 383.0 L479.8 376.2 L482.8 374.0 L485.8 369.5 L488.8 367.1 L491.8 369.5 L494.8 374.6 L497.8 376.7 L500.8 379.4 L503.8 380.9 L506.8 380.3 L509.8 382.4 L512.8 387.7 L515.8 392.4 L518.8 383.3 L521.8 370.7 L524.8 361.6 L527.8 360.2 L530.8 359.7 L533.8 359.6 L536.8 360.5 L539.8 361.3 L542.8 361.5 L545.8 359.2 L548.8 365.8 L551.8 367.4 L554.8 358.5 L557.8 357.8 L560.8 357.9 L563.8 358.4 L566.8 358.2 L569.8 355.9 L572.8 355.1 L575.8 358.5 L578.8 359.9 L581.8 363.2 L584.8 371.1 L587.8 378.1 L590.8 375.8 L593.8 373.1 L596.8 369.0 L599.8 369.9 L602.8 363.9 L605.8 366.5 L608.8 380.6 L611.8 386.0 L614.8 386.0 L617.8 387.0 L620.8 385.2 L623.8 381.0 L626.8 384.2 L629.8 387.8 L632.8 382.6 L635.8 381.2 L638.8 380.9 L641.8 376.4 L644.8 375.7 L647.8 379.6 L650.8 378.9 L653.8 372.0 L656.8 369.5 L659.8 375.6 L662.8 378.7 L665.8 380.9 L668.8 379.9 L671.8 381.8 L674.8 382.3 L677.8 379.4 L680.8 378.2 L683.8 377.0 L686.8 377.1 L689.8 380.2 L692.8 383.8 L695.8 382.2 L698.8 380.6 L701.8 379.6 L704.8 374.4 L707.8 374.1 L710.8 377.1 L713.8 375.9 L716.8 375.0 L719.8 375.9 L722.8 373.7 L725.8 370.0 L728.8 371.7 L731.8 374.8 L734.8 374.5 L737.8 374.1 L740.8 375.1 L743.8 372.1 L746.8 369.9 L749.8 374.3 L752.8 373.1 L755.8 369.2 L758.8 366.1 L761.8 364.4 L764.8 366.8 L767.8 366.0 L770.8 360.7 L773.8 359.0 L776.8 360.6 L779.8 357.7 L782.8 351.8 L785.8 353.8 L788.8 355.2 L791.8 355.7 L794.8 358.1 L797.8 356.1 L800.8 358.3 L803.8 363.5 L806.8 366.0 L809.8 372.1 L812.8 378.1 L815.8 365.3 L818.8 355.7 L821.8 349.9 L824.8 349.5 L827.8 348.7 L830.8 347.1 L833.8 346.7 L836.8 345.6 L839.8 345.9 L842.8 345.8 L845.8 343.8 L848.8 343.5 L851.8 340.6 L854.8 337.7 L857.8 340.5 L860.8 340.7 L863.8 335.9 L866.8 334.4 L869.8 334.4 L872.8 334.6 L875.8 333.5 L878.8 332.6 L881.8 330.3 L884.8 331.1 L887.8 332.3 L890.8 327.4 L893.8 326.9 L896.8 328.2 L899.8 328.3 L902.8 326.5 L905.8 326.2 L908.8 332.9 L911.8 330.3 L914.8 324.5 L917.8 331.0 L920.8 337.5 L923.8 342.7 L926.8 349.5 L929.8 361.8 L932.8 362.2 L935.8 348.2 L938.8 333.8 L941.8 331.1 L944.8 336.0 L947.8 334.6 L950.8 328.4 L953.8 328.7 L956.8 329.7 L959.8 330.7 L962.8 332.5 L965.8 332.0 L968.8 332.9 L971.8 345.2 L974.8 350.5 L977.8 341.3 L980.8 338.3 L983.8 339.7 L986.8 340.2 L989.8 340.5 L992.8 341.7 L995.8 342.7 L998.8 340.4 L1001.8 339.5 L1004.8 339.1 L1007.8 340.4 L1010.8 365.5 L1013.8 393.6 L1016.8 413.3 L1019.8 433.1 L1022.8 431.2 L1025.8 411.1 L1028.8 392.0 L1031.8 374.0 L1034.8 367.8 L1037.8 365.1 L1040.8 375.9 L1043.8 395.0 L1046.8 407.3 L1049.8 405.1 L1052.8 392.8 L1055.8 378.6 L1058.8 373.4 L1061.8 371.5 L1064.8 375.3 L1067.8 378.7 L1070.8 381.4 L1073.8 392.9 L1076.8 400.8 L1079.8 408.8 L1082.8 405.1 L1085.8 395.0 L1088.8 382.3 L1091.8 382.3 L1094.8 381.9 L1097.8 383.1 L1100.8 394.4 L1103.8 407.0 L1106.8 412.2 L1109.8 402.6 L1112.8 391.1 L1115.8 386.9 L1118.8 387.8 L1121.8 389.1 L1124.8 396.0 L1127.8 403.8 L1130.8 411.6 L1133.8 413.0 L1136.8 404.3 L1139.8 393.6 L1142.8 394.1 L1145.8 392.3 L1148.8 393.1 L1151.8 402.6 L1154.8 412.7 L1157.8 417.5 L1160.8 406.4 L1163.8 395.6 L1166.8 393.8 L1169.8 397.2 L1172.8 391.9 L1175.8 387.7 L1178.8 388.1 L1181.8 386.0 L1184.8 383.9 L1187.8 381.5 L1190.8 382.4 L1193.8 380.4 L1196.8 376.4 L1199.8 374.1 L1202.8 370.0 L1205.8 367.9 L1208.8 366.5 L1211.8 362.2 L1214.8 360.1 L1217.8 358.8 L1220.8 357.8 L1223.8 359.0 L1226.8 362.1 L1229.8 368.2 L1232.8 375.2 L1235.8 376.4 L1238.8 369.3 L1241.8 362.2 L1244.8 356.4 L1247.8 358.2 L1250.8 366.1 L1253.8 373.3 L1256.8 371.3 L1259.8 372.7 L1262.8 377.2 L1265.8 374.3 L1268.8 372.9 L1271.8 370.8 L1274.8 371.8 L1277.8 372.0 L1280.8 368.8 L1283.8 371.3 L1286.8 382.6 L1289.8 386.4 L1292.8 385.0 L1295.8 385.4 L1298.8 380.6 L1301.8 380.8 L1304.8 379.4 L1307.8 381.5 L1310.8 383.8 L1313.8 378.0 L1316.8 378.5 L1319.8 379.0 L1322.8 378.9 L1325.8 382.6 L1328.8 380.8 L1331.8 378.6 L1334.8 381.2 L1337.8 383.7 L1340.8 385.7 L1343.8 383.5 L1346.8 380.2 L1349.8 383.3 L1352.8 386.2 L1355.8 384.5 L1358.8 384.5 L1361.8 386.7 L1364.8 387.6 L1367.8 382.6 L1370.8 379.2 L1373.8 375.3 L1376.8 373.0 L1379.8 373.9 L1382.8 378.8 L1385.8 383.0 L1388.8 380.9 L1391.8 380.5 L1394.8 377.6 L1397.8 382.6 L1400.8 393.6 L1403.8 393.6 L1406.8 392.1 L1409.8 395.7 L1412.8 395.9 L1415.8 402.0 L1418.8 411.4 L1421.8 406.7 L1424.8 400.5 L1427.8 397.2 L1430.8 392.2 L1433.8 388.6 L1436.8 390.1 L1439.8 385.9 L1442.8 383.3 L1445.8 382.6 L1448.8 377.4 L1451.8 377.0 L1454.8 378.1 L1457.8 378.2 L1460.8 377.4 L1463.8 377.9 L1466.8 378.0 L1469.8 376.4 L1472.8 375.9 L1475.8 374.3 L1478.8 376.4 L1481.8 376.8 L1484.8 373.8 L1487.8 370.8 L1490.8 372.4 L1493.8 375.0 L1496.8 373.0 L1499.8 372.4 L1502.8 371.6 L1505.8 371.0 L1508.8 372.8 L1511.8 375.4 L1514.8 376.2 L1517.8 374.3 L1520.8 376.8 L1523.8 381.3 L1526.8 380.1 L1529.8 378.5 L1532.8 378.6 L1535.8 379.1 L1538.8 377.9 L1541.8 374.6 L1544.8 373.2 L1547.8 370.7 L1550.8 370.8 L1553.8 369.3 L1556.8 364.6 L1559.8 362.5 L1562.8 365.0 L1565.8 374.8 L1568.8 378.8 L1571.8 374.5 L1574.8 366.3" stroke="#303030" stroke-width="2"/><path d="M137.8 386.0 L140.8 387.1 L143.8 389.3 L146.8 385.9 L149.8 384.7 L152.8 387.3 L155.8 388.1 L158.8 389.2 L161.8 389.9 L164.8 387.0 L167.8 386.0 L170.8 388.6 L173.8 384.9 L176.8 383.9 L179.8 385.9 L182.8 386.4 L185.8 385.9 L188.8 383.9 L191.8 384.5 L194.8 385.9 L197.8 392.0 L200.8 394.9 L203.8 393.7 L206.8 385.7 L209.8 380.1 L212.8 380.1 L215.8 377.3 L218.8 376.3 L221.8 379.3 L224.8 384.1 L227.8 383.0 L230.8 380.0 L233.8 379.8 L236.8 376.5 L239.8 372.4 L242.8 375.0 L245.8 375.6 L248.8 374.4 L251.8 377.5 L254.8 373.8 L257.8 370.3 L260.8 369.8 L263.8 370.4 L266.8 375.6 L269.8 379.5 L272.8 375.5 L275.8 373.2 L278.8 379.8 L281.8 385.5 L284.8 384.1 L287.8 377.9 L290.8 375.9 L293.8 375.7 L296.8 373.7 L299.8 371.3 L302.8 370.8 L305.8 371.2 L308.8 369.3 L311.8 373.2 L314.8 380.2 L317.8 386.8 L320.8 393.7 L323.8 398.6 L326.8 399.1 L329.8 405.6 L332.8 413.3 L335.8 419.1 L338.8 426.6 L341.8 430.8 L344.8 436.3 L347.8 444.5 L350.8 441.3 L353.8 434.5 L356.8 427.4 L359.8 425.7 L362.8 427.2 L365.8 427.5 L368.8 427.7 L371.8 427.9 L374.8 433.1 L377.8 442.1 L380.8 450.5 L383.8 447.1 L386.8 442.4 L389.8 433.5 L392.8 423.3 L395.8 429.0 L398.8 431.5 L401.8 430.9 L404.8 433.8 L407.8 436.3 L410.8 438.0 L413.8 438.7 L416.8 442.9 L419.8 449.0 L422.8 442.4 L425.8 430.8 L428.8 427.6 L431.8 426.9 L434.8 428.0 L437.8 428.7 L440.8 427.9 L443.8 424.3 L446.8 424.8 L449.8 428.4 L452.8 430.7 L455.8 429.2 L458.8 425.5 L461.8 426.2 L464.8 433.0 L467.8 438.9 L470.8 438.0 L473.8 433.2 L476.8 425.1 L479.8 418.3 L482.8 416.1 L485.8 411.6 L488.8 409.2 L491.8 411.6 L494.8 416.7 L497.8 418.8 L500.8 421.4 L503.8 423.0 L506.8 422.4 L509.8 424.5 L512.8 429.8 L515.8 434.5 L518.8 425.4 L521.8 412.8 L524.8 403.7 L527.8 402.3 L530.8 401.8 L533.8 401.7 L536.8 402.6 L539.8 403.4 L542.8 403.5 L545.8 401.3 L548.8 407.9 L551.8 409.5 L554.8 400.6 L557.8 399.9 L560.8 400.0 L563.8 400.5 L566.8 400.3 L569.8 398.0 L572.8 397.2 L575.8 400.6 L578.8 402.0 L581.8 405.3 L584.8 413.2 L587.8 420.2 L590.8 417.9 L593.8 415.2 L596.8 411.1 L599.8 412.0 L602.8 406.0 L605.8 408.6 L608.8 422.7 L611.8 428.0 L614.8 428.1 L617.8 426.9 L620.8 425.5 L623.8 421.8 L626.8 425.5 L629.8 429.4 L632.8 424.7 L635.8 423.8 L638.8 424.0 L641.8 419.9 L644.8 419.6 L647.8 424.0 L650.8 423.6 L653.8 416.2 L656.8 413.2 L659.8 418.9 L662.8 421.6 L665.8 423.3 L668.8 421.9 L671.8 423.3 L674.8 423.3 L677.8 420.0 L680.8 418.4 L683.8 416.8 L686.8 416.9 L689.8 419.9 L692.8 423.5 L695.8 421.9 L698.8 420.4 L701.8 419.4 L704.8 414.2 L707.8 413.9 L710.8 416.9 L713.8 415.7 L716.8 414.9 L719.8 417.0 L722.8 416.0 L725.8 413.5 L728.8 416.4 L731.8 420.7 L734.8 421.6 L737.8 422.4 L740.8 424.6 L743.8 422.8 L746.8 421.8 L749.8 427.4 L752.8 427.4 L755.8 424.7 L758.8 422.9 L761.8 422.3 L764.8 425.9 L767.8 426.3 L770.8 422.3 L773.8 421.7 L776.8 424.5 L779.8 422.8 L782.8 418.0 L785.8 417.6 L788.8 416.5 L791.8 414.4 L794.8 414.3 L797.8 409.8 L800.8 409.5 L803.8 411.7 L806.8 410.5 L809.8 412.9 L812.8 416.3 L815.8 414.8 L818.8 412.7 L821.8 414.5 L824.8 415.2 L827.8 413.7 L830.8 411.3 L833.8 410.2 L836.8 408.4 L839.8 407.9 L842.8 407.0 L845.8 404.2 L848.8 403.2 L851.8 398.3 L854.8 393.3 L857.8 394.1 L860.8 392.1 L863.8 385.2 L866.8 382.1 L869.8 381.2 L872.8 380.5 L875.8 378.5 L878.8 376.7 L881.8 373.5 L884.8 376.3 L887.8 379.9 L890.8 377.4 L893.8 379.3 L896.8 383.0 L899.8 383.8 L902.8 379.6 L905.8 376.9 L908.8 381.2 L911.8 376.2 L914.8 368.0 L917.8 374.1 L920.8 380.6 L923.8 385.8 L926.8 392.6 L929.8 404.9 L932.8 404.8 L935.8 389.3 L938.8 373.6 L941.8 370.8 L944.8 375.8 L947.8 374.4 L950.8 368.1 L953.8 368.4 L956.8 369.5 L959.8 370.5 L962.8 372.3 L965.8 372.0 L968.8 374.1 L971.8 387.7 L974.8 394.2 L977.8 386.2 L980.8 384.4 L983.8 385.7 L986.8 385.6 L989.8 385.4 L992.8 386.1 L995.8 386.5 L998.8 383.6 L1001.8 382.5 L1004.8 382.1 L1007.8 383.4 L1010.8 409.3 L1013.8 438.2 L1016.8 458.7 L1019.8 479.2 L1022.8 477.1 L1025.8 456.2 L1028.8 436.2 L1031.8 417.4 L1034.8 410.9 L1037.8 408.2 L1040.8 419.4 L1043.8 439.2 L1046.8 452.2 L1049.8 449.8 L1052.8 436.7 L1055.8 421.8 L1058.8 416.5 L1061.8 414.5 L1064.8 418.3 L1067.8 421.7 L1070.8 424.4 L1073.8 436.3 L1076.8 444.5 L1079.8 452.9 L1082.8 448.5 L1085.8 437.5 L1088.8 424.2 L1091.8 424.0 L1094.8 423.4 L1097.8 424.6 L1100.8 436.2 L1103.8 449.2 L1106.8 454.4 L1109.8 444.1 L1112.8 431.8 L1115.8 427.2 L1118.8 427.9 L1121.8 429.1 L1124.8 436.3 L1127.8 444.7 L1130.8 453.2 L1133.8 454.8 L1136.8 445.8 L1139.8 434.8 L1142.8 435.6 L1145.8 434.1 L1148.8 435.2 L1151.8 445.3 L1154.8 456.1 L1157.8 461.3 L1160.8 449.9 L1163.8 438.8 L1166.8 436.8 L1169.8 440.2 L1172.8 436.1 L1175.8 433.2 L1178.8 434.9 L1181.8 433.2 L1184.8 430.9 L1187.8 428.4 L1190.8 429.1 L1193.8 426.9 L1196.8 422.9 L1199.8 420.9 L1202.8 417.2 L1205.8 415.5 L1208.8 414.4 L1211.8 410.6 L1214.8 408.8 L1217.8 407.8 L1220.8 407.2 L1223.8 408.4 L1226.8 410.2 L1229.8 415.0 L1232.8 420.7 L1235.8 420.6 L1238.8 418.3 L1241.8 416.9 L1244.8 416.8 L1247.8 418.3 L1250.8 420.7 L1253.8 422.5 L1256.8 415.1 L1259.8 411.1 L1262.8 410.4 L1265.8 410.5 L1268.8 412.2 L1271.8 413.0 L1274.8 417.0 L1277.8 420.2 L1280.8 417.7 L1283.8 418.4 L1286.8 427.8 L1289.8 429.9 L1292.8 426.6 L1295.8 425.3 L1298.8 420.7 L1301.8 421.1 L1304.8 420.0 L1307.8 422.5 L1310.8 425.1 L1313.8 419.5 L1316.8 420.4 L1319.8 421.1 L1322.8 421.4 L1325.8 425.4 L1328.8 423.9 L1331.8 421.4 L1334.8 423.7 L1337.8 425.9 L1340.8 427.6 L1343.8 425.1 L1346.8 421.5 L1349.8 424.4 L1352.8 426.9 L1355.8 424.9 L1358.8 424.6 L1361.8 426.5 L1364.8 426.8 L1367.8 421.2 L1370.8 417.2 L1373.8 412.7 L1376.8 409.9 L1379.8 410.3 L1382.8 415.3 L1385.8 419.4 L1388.8 417.4 L1391.8 417.0 L1394.8 414.0 L1397.8 420.5 L1400.8 433.4 L1403.8 435.1 L1406.8 435.5 L1409.8 440.8 L1412.8 440.7 L1415.8 441.3 L1418.8 446.4 L1421.8 446.2 L1424.8 444.6 L1427.8 445.9 L1430.8 443.3 L1433.8 441.5 L1436.8 444.8 L1439.8 442.5 L1442.8 441.6 L1445.8 441.9 L1448.8 435.6 L1451.8 433.9 L1454.8 433.8 L1457.8 432.8 L1460.8 430.7 L1463.8 430.6 L1466.8 430.4 L1469.8 428.3 L1472.8 427.5 L1475.8 425.5 L1478.8 427.1 L1481.8 426.3 L1484.8 414.9 L1487.8 411.8 L1490.8 413.2 L1493.8 415.7 L1496.8 412.9 L1499.8 411.2 L1502.8 409.4 L1505.8 407.7 L1508.8 408.5 L1511.8 410.2 L1514.8 411.4 L1517.8 409.7 L1520.8 412.5 L1523.8 417.4 L1526.8 416.5 L1529.8 415.8 L1532.8 417.0 L1535.8 418.7 L1538.8 418.8 L1541.8 416.7 L1544.8 416.1 L1547.8 412.4 L1550.8 411.3 L1553.8 408.6 L1556.8 402.7 L1559.8 399.4 L1562.8 400.4 L1565.8 408.2 L1568.8 410.4 L1571.8 404.3 L1574.8 394.2" stroke="#303030" stroke-width="2"/><path d="M137.8 429.3 L140.8 430.9 L143.8 433.7 L146.8 430.9 L149.8 430.3 L152.8 433.6 L155.8 434.9 L158.8 436.6 L161.8 437.9 L164.8 435.6 L167.8 435.2 L170.8 438.4 L173.8 435.3 L176.8 435.0 L179.8 437.6 L182.8 438.7 L185.8 438.7 L188.8 436.7 L191.8 436.9 L194.8 438.0 L197.8 443.7 L200.8 446.3 L203.8 444.8 L206.8 436.4 L209.8 430.5 L212.8 430.1 L215.8 427.0 L218.8 425.6 L221.8 427.2 L224.8 430.3 L227.8 428.4 L230.8 426.0 L233.8 426.5 L236.8 423.9 L239.8 421.9 L242.8 426.5 L245.8 429.1 L248.8 427.3 L251.8 429.2 L254.8 424.3 L257.8 419.7 L260.8 418.0 L263.8 417.0 L266.8 419.4 L269.8 420.8 L272.8 418.2 L275.8 417.3 L278.8 425.3 L281.8 432.4 L284.8 432.4 L287.8 428.7 L290.8 428.5 L293.8 427.8 L296.8 425.4 L299.8 422.5 L302.8 421.6 L305.8 421.5 L308.8 419.1 L311.8 422.0 L314.8 427.9 L317.8 433.4 L320.8 439.2 L323.8 443.2 L326.8 443.3 L329.8 449.5 L332.8 456.7 L335.8 462.2 L338.8 469.2 L341.8 473.0 L344.8 478.2 L347.8 486.1 L350.8 483.7 L353.8 477.7 L356.8 471.4 L359.8 470.4 L362.8 472.0 L365.8 472.2 L368.8 472.4 L371.8 472.6 L374.8 477.8 L377.8 486.8 L380.8 495.2 L383.8 491.9 L386.8 487.1 L389.8 478.3 L392.8 468.0 L395.8 473.7 L398.8 476.3 L401.8 475.6 L404.8 478.5 L407.8 481.0 L410.8 482.7 L413.8 483.5 L416.8 487.6 L419.8 493.7 L422.8 487.2 L425.8 475.6 L428.8 472.4 L431.8 471.7 L434.8 472.7 L437.8 473.5 L440.8 472.7 L443.8 469.0 L446.8 469.5 L449.8 473.1 L452.8 475.5 L455.8 473.9 L458.8 470.3 L461.8 470.9 L464.8 477.7 L467.8 483.7 L470.8 482.8 L473.8 477.9 L476.8 469.9 L479.8 463.0 L482.8 460.8 L485.8 456.3 L488.8 453.9 L491.8 456.4 L494.8 461.5 L497.8 463.6 L500.8 466.2 L503.8 467.8 L506.8 467.1 L509.8 469.3 L512.8 474.5 L515.8 479.2 L518.8 470.1 L521.8 457.5 L524.8 448.5 L527.8 447.0 L530.8 446.6 L533.8 446.5 L536.8 447.3 L539.8 448.1 L542.8 448.3 L545.8 446.1 L548.8 452.6 L551.8 454.2 L554.8 445.3 L557.8 444.7 L560.8 444.7 L563.8 445.3 L566.8 445.1 L569.8 442.8 L572.8 442.0 L575.8 445.3 L578.8 446.7 L581.8 450.0 L584.8 458.0 L587.8 465.0 L590.8 462.6 L593.8 459.9 L596.8 455.9 L599.8 456.8 L602.8 450.7 L605.8 453.4 L608.8 467.5 L611.8 472.8 L614.8 472.8 L617.8 466.6 L620.8 465.1 L623.8 461.2 L626.8 464.7 L629.8 468.6 L632.8 463.7 L635.8 462.7 L638.8 462.6 L641.8 458.4 L644.8 458.0 L647.8 462.2 L650.8 461.8 L653.8 454.8 L656.8 452.3 L659.8 458.5 L662.8 461.6 L665.8 463.8 L668.8 462.8 L671.8 464.6 L674.8 465.1 L677.8 462.2 L680.8 461.1 L683.8 459.9 L686.8 460.0 L689.8 463.0 L692.8 466.6 L695.8 465.0 L698.8 463.5 L701.8 462.4 L704.8 457.3 L707.8 457.0 L710.8 460.0 L713.8 458.8 L716.8 457.9 L719.8 459.1 L722.8 457.2 L725.8 453.8 L728.8 455.8 L731.8 459.2 L734.8 459.2 L737.8 459.1 L740.8 460.4 L743.8 457.7 L746.8 455.8 L749.8 460.6 L752.8 461.2 L755.8 459.1 L758.8 457.9 L761.8 457.9 L764.8 462.1 L767.8 463.1 L770.8 459.7 L773.8 459.7 L776.8 463.1 L779.8 462.0 L782.8 457.8 L785.8 458.4 L788.8 458.3 L791.8 457.2 L794.8 458.1 L797.8 454.6 L800.8 455.3 L803.8 456.7 L806.8 451.9 L809.8 450.7 L812.8 450.5 L815.8 445.4 L818.8 443.4 L821.8 445.4 L824.8 446.3 L827.8 444.9 L830.8 442.7 L833.8 442.9 L836.8 443.8 L839.8 446.0 L842.8 447.8 L845.8 447.7 L848.8 449.4 L851.8 445.8 L854.8 442.0 L857.8 444.0 L860.8 443.2 L863.8 437.5 L866.8 436.1 L869.8 437.6 L872.8 439.3 L875.8 439.7 L878.8 440.3 L881.8 439.5 L884.8 440.0 L887.8 440.5 L890.8 435.0 L893.8 433.9 L896.8 434.6 L899.8 434.1 L902.8 431.8 L905.8 430.9 L908.8 436.9 L911.8 433.7 L914.8 427.3 L917.8 434.7 L920.8 442.4 L923.8 448.9 L926.8 456.8 L929.8 470.3 L932.8 471.7 L935.8 458.2 L938.8 443.1 L941.8 427.7 L944.8 432.9 L947.8 431.9 L950.8 426.0 L953.8 426.7 L956.8 428.1 L959.8 429.5 L962.8 431.7 L965.8 431.6 L968.8 433.1 L971.8 446.0 L974.8 451.9 L977.8 443.3 L980.8 440.9 L983.8 442.3 L986.8 442.4 L989.8 442.5 L992.8 443.4 L995.8 444.1 L998.8 441.5 L1001.8 440.5 L1004.8 440.1 L1007.8 441.4 L1010.8 463.1 L1013.8 487.5 L1016.8 504.1 L1019.8 520.8 L1022.8 517.5 L1025.8 497.4 L1028.8 478.3 L1031.8 460.2 L1034.8 454.0 L1037.8 451.3 L1040.8 462.5 L1043.8 482.3 L1046.8 495.3 L1049.8 492.9 L1052.8 479.8 L1055.8 464.9 L1058.8 459.6 L1061.8 457.7 L1064.8 461.5 L1067.8 464.9 L1070.8 467.6 L1073.8 479.7 L1076.8 488.1 L1079.8 496.7 L1082.8 492.4 L1085.8 481.6 L1088.8 468.5 L1091.8 468.5 L1094.8 468.1 L1097.8 469.5 L1100.8 481.2 L1103.8 494.4 L1106.8 499.8 L1109.8 489.6 L1112.8 477.5 L1115.8 473.1 L1118.8 474.0 L1121.8 475.3 L1124.8 482.4 L1127.8 490.3 L1130.8 498.4 L1133.8 499.4 L1136.8 489.9 L1139.8 478.4 L1142.8 478.6 L1145.8 476.6 L1148.8 477.2 L1151.8 486.8 L1154.8 497.1 L1157.8 501.8 L1160.8 490.2 L1163.8 478.8 L1166.8 476.8 L1169.8 480.2 L1172.8 479.0 L1175.8 479.1 L1178.8 483.8 L1181.8 486.1 L1184.8 488.3 L1187.8 485.7 L1190.8 480.3 L1193.8 472.0 L1196.8 462.7 L1199.8 461.5 L1202.8 458.6 L1205.8 457.6 L1208.8 457.3 L1211.8 454.2 L1214.8 453.2 L1217.8 452.9 L1220.8 453.1 L1223.8 456.9 L1226.8 465.9 L1229.8 477.1 L1232.8 478.1 L1235.8 473.3 L1238.8 466.3 L1241.8 460.2 L1244.8 455.4 L1247.8 456.0 L1250.8 460.9 L1253.8 465.1 L1256.8 460.1 L1259.8 458.5 L1262.8 460.1 L1265.8 459.6 L1268.8 460.7 L1271.8 460.9 L1274.8 464.3 L1277.8 466.9 L1280.8 465.0 L1283.8 467.5 L1286.8 478.7 L1289.8 482.6 L1292.8 481.1 L1295.8 481.6 L1298.8 476.1 L1301.8 475.7 L1304.8 473.7 L1307.8 475.2 L1310.8 476.9 L1313.8 470.5 L1316.8 470.5 L1319.8 470.3 L1322.8 469.6 L1325.8 472.7 L1328.8 470.3 L1331.8 465.3 L1334.8 464.9 L1337.8 464.4 L1340.8 463.4 L1343.8 458.2 L1346.8 452.9 L1349.8 455.4 L1352.8 457.7 L1355.8 455.4 L1358.8 454.8 L1361.8 456.4 L1364.8 459.3 L1367.8 456.7 L1370.8 455.7 L1373.8 454.2 L1376.8 454.3 L1379.8 456.7 L1382.8 461.7 L1385.8 465.8 L1388.8 463.8 L1391.8 463.4 L1394.8 460.4 L1397.8 464.7 L1400.8 474.8 L1403.8 473.9 L1406.8 471.6 L1409.8 474.2 L1412.8 472.4 L1415.8 474.0 L1418.8 479.9 L1421.8 480.7 L1424.8 479.9 L1427.8 482.1 L1430.8 481.2 L1433.8 481.2 L1436.8 486.3 L1439.8 485.7 L1442.8 486.7 L1445.8 488.0 L1448.8 480.5 L1451.8 477.6 L1454.8 476.3 L1457.8 474.1 L1460.8 470.8 L1463.8 468.5 L1466.8 465.6 L1469.8 461.0 L1472.8 457.6 L1475.8 452.9 L1478.8 452.7 L1481.8 453.7 L1484.8 451.4 L1487.8 449.0 L1490.8 451.2 L1493.8 454.4 L1496.8 452.3 L1499.8 451.4 L1502.8 450.3 L1505.8 449.4 L1508.8 451.0 L1511.8 453.3 L1514.8 454.5 L1517.8 452.8 L1520.8 455.6 L1523.8 460.4 L1526.8 459.6 L1529.8 458.0 L1532.8 457.9 L1535.8 458.2 L1538.8 456.9 L1541.8 453.5 L1544.8 451.9 L1547.8 449.2 L1550.8 449.2 L1553.8 447.5 L1556.8 442.6 L1559.8 440.2 L1562.8 442.8 L1565.8 452.9 L1568.8 457.3 L1571.8 453.4 L1574.8 445.6" stroke="#303030" stroke-width="2"/><path d="M137.8 475.7 L140.8 477.2 L143.8 479.8 L146.8 476.8 L149.8 476.1 L152.8 479.2 L155.8 480.4 L158.8 482.0 L161.8 483.1 L164.8 480.7 L167.8 480.1 L170.8 482.9 L173.8 478.4 L176.8 476.7 L179.8 477.9 L182.8 477.7 L185.8 476.4 L188.8 474.1 L191.8 474.5 L194.8 475.8 L197.8 481.7 L200.8 484.4 L203.8 483.1 L206.8 474.9 L209.8 469.2 L212.8 469.0 L215.8 466.1 L218.8 464.9 L221.8 466.7 L224.8 469.9 L227.8 468.0 L230.8 465.3 L233.8 465.5 L236.8 462.6 L239.8 460.2 L242.8 464.5 L245.8 466.7 L248.8 467.2 L251.8 472.0 L254.8 469.9 L257.8 468.2 L260.8 469.4 L263.8 471.1 L266.8 476.4 L269.8 480.3 L272.8 475.5 L275.8 472.3 L278.8 478.0 L281.8 482.9 L284.8 480.6 L287.8 474.7 L290.8 474.0 L293.8 475.1 L296.8 474.4 L299.8 473.3 L302.8 474.1 L305.8 475.7 L308.8 475.1 L311.8 476.2 L314.8 479.5 L317.8 482.3 L320.8 485.5 L323.8 487.2 L326.8 485.4 L329.8 489.7 L332.8 495.1 L335.8 498.8 L338.8 504.8 L341.8 507.6 L344.8 511.7 L347.8 520.0 L350.8 522.3 L353.8 515.5 L356.8 508.6 L359.8 506.9 L362.8 508.5 L365.8 508.7 L368.8 508.9 L371.8 509.1 L374.8 514.3 L377.8 523.3 L380.8 531.7 L383.8 528.3 L386.8 523.6 L389.8 514.7 L392.8 504.5 L395.8 510.2 L398.8 512.7 L401.8 512.1 L404.8 515.0 L407.8 517.5 L410.8 519.2 L413.8 520.0 L416.8 524.1 L419.8 530.2 L422.8 523.6 L425.8 512.0 L428.8 508.8 L431.8 508.1 L434.8 509.2 L437.8 509.9 L440.8 509.1 L443.8 505.5 L446.8 506.0 L449.8 509.6 L452.8 511.9 L455.8 510.4 L458.8 506.7 L461.8 507.4 L464.8 514.2 L467.8 520.1 L470.8 519.2 L473.8 514.4 L476.8 506.3 L479.8 499.5 L482.8 497.3 L485.8 492.8 L488.8 490.4 L491.8 492.8 L494.8 497.9 L497.8 500.0 L500.8 502.7 L503.8 504.2 L506.8 503.6 L509.8 505.7 L512.8 511.0 L515.8 515.7 L518.8 506.6 L521.8 494.0 L524.8 484.9 L527.8 483.5 L530.8 483.0 L533.8 482.9 L536.8 483.8 L539.8 484.6 L542.8 484.8 L545.8 482.5 L548.8 489.1 L551.8 490.7 L554.8 481.8 L557.8 481.1 L560.8 481.2 L563.8 481.7 L566.8 481.5 L569.8 479.2 L572.8 478.4 L575.8 481.8 L578.8 483.2 L581.8 486.5 L584.8 494.4 L587.8 501.4 L590.8 499.1 L593.8 496.4 L596.8 492.3 L599.8 493.3 L602.8 487.2 L605.8 489.8 L608.8 503.9 L611.8 509.3 L614.8 509.3 L617.8 506.4 L620.8 504.9 L623.8 501.0 L626.8 504.5 L629.8 508.4 L632.8 503.5 L635.8 502.5 L638.8 502.4 L641.8 498.2 L644.8 497.8 L647.8 502.0 L650.8 501.4 L653.8 493.9 L656.8 490.8 L659.8 496.3 L662.8 498.9 L665.8 500.4 L668.8 498.8 L671.8 500.1 L674.8 500.0 L677.8 496.5 L680.8 494.7 L683.8 493.1 L686.8 493.5 L689.8 496.8 L692.8 500.7 L695.8 499.4 L698.8 498.2 L701.8 497.4 L704.8 492.6 L707.8 492.6 L710.8 495.9 L713.8 495.0 L716.8 494.5 L719.8 496.6 L722.8 495.5 L725.8 493.0 L728.8 496.0 L731.8 500.2 L734.8 501.1 L737.8 502.0 L740.8 504.2 L743.8 502.4 L746.8 501.4 L749.8 506.9 L752.8 506.3 L755.8 503.0 L758.8 500.6 L761.8 499.4 L764.8 502.4 L767.8 502.2 L770.8 497.6 L773.8 496.4 L776.8 498.6 L779.8 496.3 L782.8 491.0 L785.8 495.6 L788.8 499.5 L791.8 502.5 L794.8 507.3 L797.8 507.9 L800.8 510.0 L803.8 510.4 L806.8 504.9 L809.8 502.9 L812.8 501.9 L815.8 496.1 L818.8 493.3 L821.8 494.5 L824.8 494.6 L827.8 492.5 L830.8 489.5 L833.8 489.3 L836.8 490.2 L839.8 492.4 L842.8 494.2 L845.8 494.1 L848.8 495.8 L851.8 493.4 L854.8 490.7 L857.8 493.9 L860.8 494.4 L863.8 489.8 L866.8 488.6 L869.8 489.0 L872.8 489.4 L875.8 488.6 L878.8 488.0 L881.8 486.0 L884.8 486.9 L887.8 488.1 L890.8 483.2 L893.8 482.7 L896.8 483.9 L899.8 484.0 L902.8 482.3 L905.8 482.0 L908.8 488.7 L911.8 486.0 L914.8 480.3 L917.8 486.3 L920.8 492.1 L923.8 496.8 L926.8 503.0 L929.8 514.7 L932.8 516.7 L935.8 509.6 L938.8 500.9 L941.8 492.0 L944.8 490.7 L947.8 483.1 L950.8 476.9 L953.8 479.1 L956.8 482.0 L959.8 484.9 L962.8 488.5 L965.8 489.2 L968.8 489.2 L971.8 500.7 L974.8 505.0 L977.8 494.9 L980.8 491.0 L983.8 491.2 L986.8 490.3 L989.8 489.2 L992.8 489.0 L995.8 488.6 L998.8 485.0 L1001.8 483.5 L1004.8 483.1 L1007.8 484.4 L1010.8 505.3 L1013.8 528.9 L1016.8 544.7 L1019.8 560.7 L1022.8 556.7 L1025.8 535.8 L1028.8 515.8 L1031.8 496.9 L1034.8 490.4 L1037.8 487.7 L1040.8 498.5 L1043.8 517.6 L1046.8 529.9 L1049.8 527.7 L1052.8 515.4 L1055.8 501.2 L1058.8 496.0 L1061.8 494.1 L1064.8 497.9 L1067.8 501.3 L1070.8 504.0 L1073.8 515.5 L1076.8 523.4 L1079.8 531.4 L1082.8 527.7 L1085.8 517.5 L1088.8 504.9 L1091.8 504.9 L1094.8 504.4 L1097.8 505.7 L1100.8 516.9 L1103.8 529.6 L1106.8 534.7 L1109.8 525.2 L1112.8 513.6 L1115.8 509.4 L1118.8 510.3 L1121.8 511.6 L1124.8 518.6 L1127.8 526.3 L1130.8 534.2 L1133.8 535.6 L1136.8 526.9 L1139.8 516.2 L1142.8 516.7 L1145.8 515.0 L1148.8 515.8 L1151.8 525.3 L1154.8 535.4 L1157.8 540.2 L1160.8 529.2 L1163.8 518.4 L1166.8 516.6 L1169.8 520.0 L1172.8 517.3 L1175.8 515.8 L1178.8 518.9 L1181.8 517.9 L1184.8 515.9 L1187.8 513.7 L1190.8 514.7 L1193.8 512.8 L1196.8 509.3 L1199.8 509.6 L1202.8 508.2 L1205.8 508.7 L1208.8 509.9 L1211.8 508.3 L1214.8 508.8 L1217.8 510.0 L1220.8 511.7 L1223.8 515.3 L1226.8 519.8 L1229.8 527.1 L1232.8 531.0 L1235.8 529.3 L1238.8 525.2 L1241.8 522.1 L1244.8 520.4 L1247.8 522.7 L1250.8 528.1 L1253.8 532.9 L1256.8 528.5 L1259.8 527.5 L1262.8 529.7 L1265.8 529.9 L1268.8 531.5 L1271.8 532.3 L1274.8 536.3 L1277.8 539.5 L1280.8 536.1 L1283.8 535.0 L1286.8 542.6 L1289.8 542.9 L1292.8 537.8 L1295.8 534.7 L1298.8 528.9 L1301.8 528.2 L1304.8 525.8 L1307.8 527.1 L1310.8 528.5 L1313.8 521.8 L1316.8 521.4 L1319.8 520.9 L1322.8 520.0 L1325.8 522.8 L1328.8 520.1 L1331.8 516.1 L1334.8 517.0 L1337.8 517.6 L1340.8 517.8 L1343.8 513.9 L1346.8 509.6 L1349.8 513.0 L1352.8 516.2 L1355.8 514.8 L1358.8 515.1 L1361.8 517.6 L1364.8 519.8 L1367.8 516.3 L1370.8 514.4 L1373.8 512.0 L1376.8 511.3 L1379.8 513.0 L1382.8 517.6 L1385.8 521.5 L1388.8 519.2 L1391.8 518.4 L1394.8 515.2 L1397.8 518.9 L1400.8 528.4 L1403.8 526.9 L1406.8 524.0 L1409.8 526.0 L1412.8 523.7 L1415.8 525.0 L1418.8 530.6 L1421.8 531.0 L1424.8 530.0 L1427.8 531.9 L1430.8 529.5 L1433.8 527.7 L1436.8 531.0 L1439.8 528.6 L1442.8 527.8 L1445.8 527.8 L1448.8 520.2 L1451.8 517.4 L1454.8 516.1 L1457.8 513.9 L1460.8 510.6 L1463.8 510.2 L1466.8 510.1 L1469.8 508.2 L1472.8 507.4 L1475.8 505.5 L1478.8 507.2 L1481.8 507.3 L1484.8 504.1 L1487.8 500.8 L1490.8 502.1 L1493.8 504.4 L1496.8 502.5 L1499.8 502.2 L1502.8 501.6 L1505.8 501.3 L1508.8 503.5 L1511.8 506.4 L1514.8 507.5 L1517.8 505.8 L1520.8 508.7 L1523.8 513.5 L1526.8 512.6 L1529.8 511.5 L1532.8 512.1 L1535.8 513.2 L1538.8 512.7 L1541.8 510.0 L1544.8 509.1 L1547.8 507.2 L1550.8 507.9 L1553.8 507.1 L1556.8 501.5 L1559.8 498.3 L1562.8 500.0 L1565.8 509.3 L1568.8 512.8 L1571.8 508.0 L1574.8 499.3" stroke="#303030" stroke-width="2"/><path d="M137.8 510.4 L140.8 511.8 L143.8 514.4 L146.8 511.3 L149.8 510.5 L152.8 513.5 L155.8 514.6 L158.8 516.0 L161.8 517.0 L164.8 514.5 L167.8 513.9 L170.8 516.8 L173.8 513.5 L176.8 512.9 L179.8 515.2 L182.8 516.1 L185.8 515.9 L188.8 514.7 L191.8 516.2 L194.8 518.6 L197.8 525.6 L200.8 529.5 L203.8 529.2 L206.8 522.2 L209.8 517.5 L212.8 518.4 L215.8 516.6 L218.8 516.6 L221.8 519.5 L224.8 523.8 L227.8 522.2 L230.8 518.5 L233.8 517.9 L236.8 514.1 L239.8 510.9 L242.8 514.2 L245.8 515.6 L248.8 515.3 L251.8 519.2 L254.8 516.2 L257.8 513.6 L260.8 513.9 L263.8 514.8 L266.8 519.2 L269.8 522.3 L272.8 517.5 L275.8 514.4 L278.8 520.2 L281.8 525.1 L284.8 522.8 L287.8 517.0 L290.8 516.3 L293.8 517.5 L296.8 516.8 L299.8 515.8 L302.8 516.6 L305.8 518.3 L308.8 517.8 L311.8 517.0 L314.8 518.1 L317.8 518.8 L320.8 519.8 L323.8 519.3 L326.8 515.3 L329.8 517.4 L332.8 520.6 L335.8 522.0 L338.8 532.4 L341.8 539.7 L344.8 548.3 L347.8 561.1 L350.8 565.2 L353.8 558.3 L356.8 551.1 L359.8 549.3 L362.8 550.9 L365.8 551.1 L368.8 551.3 L371.8 551.5 L374.8 556.7 L377.8 565.7 L380.8 574.1 L383.8 570.8 L386.8 566.0 L389.8 557.1 L392.8 546.9 L395.8 552.6 L398.8 555.1 L401.8 554.5 L404.8 557.4 L407.8 559.9 L410.8 561.6 L413.8 562.4 L416.8 566.5 L419.8 572.6 L422.8 566.0 L425.8 554.5 L428.8 551.2 L431.8 550.6 L434.8 551.6 L437.8 552.4 L440.8 551.5 L443.8 547.9 L446.8 548.4 L449.8 552.0 L452.8 554.3 L455.8 552.8 L458.8 549.2 L461.8 549.8 L464.8 556.6 L467.8 562.6 L470.8 561.7 L473.8 556.8 L476.8 548.8 L479.8 541.9 L482.8 539.7 L485.8 535.2 L488.8 532.8 L491.8 535.2 L494.8 540.4 L497.8 542.5 L500.8 545.1 L503.8 546.6 L506.8 546.0 L509.8 548.2 L512.8 553.4 L515.8 558.1 L518.8 549.0 L521.8 536.4 L524.8 527.4 L527.8 525.9 L530.8 525.5 L533.8 525.4 L536.8 526.2 L539.8 527.0 L542.8 527.2 L545.8 524.9 L548.8 531.5 L551.8 533.1 L554.8 524.2 L557.8 523.6 L560.8 523.6 L563.8 524.1 L566.8 523.9 L569.8 521.7 L572.8 520.9 L575.8 524.2 L578.8 525.6 L581.8 528.9 L584.8 536.9 L587.8 543.9 L590.8 541.5 L593.8 538.8 L596.8 534.7 L599.8 535.7 L602.8 529.6 L605.8 532.3 L608.8 546.4 L611.8 551.7 L614.8 551.7 L617.8 552.7 L620.8 550.9 L623.8 546.7 L626.8 549.9 L629.8 553.5 L632.8 548.3 L635.8 547.0 L638.8 546.6 L641.8 542.1 L644.8 541.4 L647.8 545.3 L650.8 544.5 L653.8 537.0 L656.8 533.9 L659.8 539.4 L662.8 541.9 L665.8 543.5 L668.8 541.9 L671.8 543.2 L674.8 543.1 L677.8 539.6 L680.8 537.8 L683.8 536.2 L686.8 536.6 L689.8 539.9 L692.8 543.8 L695.8 542.5 L698.8 541.2 L701.8 540.5 L704.8 535.6 L707.8 535.6 L710.8 539.0 L713.8 538.0 L716.8 537.5 L719.8 539.3 L722.8 538.0 L725.8 535.2 L728.8 537.8 L731.8 541.8 L734.8 542.4 L737.8 542.9 L740.8 544.8 L743.8 542.7 L746.8 541.4 L749.8 546.7 L752.8 546.1 L755.8 542.8 L758.8 540.4 L761.8 539.2 L764.8 542.2 L767.8 542.0 L770.8 537.3 L773.8 536.2 L776.8 538.4 L779.8 536.1 L782.8 530.8 L785.8 535.4 L788.8 539.3 L791.8 542.2 L794.8 547.1 L797.8 547.7 L800.8 549.8 L803.8 550.2 L806.8 544.6 L809.8 542.7 L812.8 541.7 L815.8 535.9 L818.8 533.1 L821.8 534.3 L824.8 534.4 L827.8 532.3 L830.8 529.3 L833.8 529.4 L836.8 530.8 L839.8 533.7 L842.8 536.1 L845.8 536.6 L848.8 538.9 L851.8 536.4 L854.8 533.8 L857.8 537.0 L860.8 537.5 L863.8 532.9 L866.8 531.7 L869.8 532.0 L872.8 532.5 L875.8 531.7 L878.8 531.1 L881.8 529.1 L884.8 529.8 L887.8 530.6 L890.8 525.4 L893.8 524.6 L896.8 525.6 L899.8 525.4 L902.8 523.3 L905.8 522.7 L908.8 529.1 L911.8 526.2 L914.8 520.1 L917.8 526.5 L920.8 533.0 L923.8 538.3 L926.8 545.0 L929.8 557.3 L932.8 559.8 L935.8 552.7 L938.8 544.0 L941.8 535.1 L944.8 533.8 L947.8 526.2 L950.8 520.5 L953.8 523.3 L956.8 526.7 L959.8 530.3 L962.8 534.5 L965.8 535.7 L968.8 536.3 L971.8 548.4 L974.8 553.3 L977.8 543.9 L980.8 540.6 L983.8 539.6 L986.8 536.8 L989.8 533.9 L992.8 531.9 L995.8 529.7 L998.8 524.2 L1001.8 522.0 L1004.8 521.6 L1007.8 522.9 L1010.8 542.9 L1013.8 565.4 L1016.8 580.3 L1019.8 595.4 L1022.8 591.9 L1025.8 572.3 L1028.8 553.7 L1031.8 536.2 L1034.8 530.2 L1037.8 527.5 L1040.8 537.5 L1043.8 555.3 L1046.8 566.3 L1049.8 564.4 L1052.8 553.6 L1055.8 540.9 L1058.8 535.8 L1061.8 534.0 L1064.8 537.8 L1067.8 541.3 L1070.8 544.0 L1073.8 554.6 L1076.8 561.5 L1079.8 568.5 L1082.8 566.1 L1085.8 557.5 L1088.8 546.0 L1091.8 546.2 L1094.8 545.9 L1097.8 547.1 L1100.8 557.5 L1103.8 569.3 L1106.8 574.2 L1109.8 566.0 L1112.8 555.8 L1115.8 552.3 L1118.8 553.3 L1121.8 554.9 L1124.8 561.4 L1127.8 568.2 L1130.8 575.2 L1133.8 576.8 L1136.8 569.2 L1139.8 559.4 L1142.8 560.0 L1145.8 558.3 L1148.8 558.9 L1151.8 567.5 L1154.8 576.9 L1157.8 581.3 L1160.8 571.1 L1163.8 561.3 L1166.8 559.8 L1169.8 563.2 L1172.8 560.0 L1175.8 558.0 L1178.8 560.6 L1181.8 560.8 L1184.8 560.8 L1187.8 560.7 L1190.8 563.8 L1193.8 564.0 L1196.8 562.3 L1199.8 561.9 L1202.8 559.8 L1205.8 559.6 L1208.8 560.1 L1211.8 557.8 L1214.8 557.7 L1217.8 558.3 L1220.8 559.2 L1223.8 561.0 L1226.8 560.7 L1229.8 563.5 L1232.8 567.8 L1235.8 566.4 L1238.8 562.6 L1241.8 559.8 L1244.8 558.4 L1247.8 560.3 L1250.8 564.8 L1253.8 568.7 L1256.8 563.5 L1259.8 561.5 L1262.8 562.8 L1265.8 562.1 L1268.8 562.8 L1271.8 562.8 L1274.8 565.8 L1277.8 568.2 L1280.8 564.7 L1283.8 564.5 L1286.8 573.1 L1289.8 574.2 L1292.8 570.0 L1295.8 567.8 L1298.8 562.6 L1301.8 562.5 L1304.8 560.8 L1307.8 562.6 L1310.8 564.6 L1313.8 558.5 L1316.8 558.7 L1319.8 558.9 L1322.8 558.5 L1325.8 561.9 L1328.8 559.8 L1331.8 557.3 L1334.8 559.6 L1337.8 561.8 L1340.8 563.5 L1343.8 561.0 L1346.8 557.4 L1349.8 560.2 L1352.8 562.8 L1355.8 560.8 L1358.8 560.5 L1361.8 562.4 L1364.8 564.5 L1367.8 561.0 L1370.8 559.2 L1373.8 556.8 L1376.8 556.0 L1379.8 557.5 L1382.8 561.5 L1385.8 564.8 L1388.8 561.9 L1391.8 560.6 L1394.8 556.7 L1397.8 559.8 L1400.8 568.8 L1403.8 566.6 L1406.8 563.1 L1409.8 564.5 L1412.8 561.5 L1415.8 561.9 L1418.8 566.6 L1421.8 566.2 L1424.8 564.3 L1427.8 565.3 L1430.8 562.7 L1433.8 560.9 L1436.8 564.1 L1439.8 561.8 L1442.8 560.9 L1445.8 561.6 L1448.8 556.4 L1451.8 555.9 L1454.8 557.1 L1457.8 557.2 L1460.8 556.4 L1463.8 557.1 L1466.8 557.5 L1469.8 556.2 L1472.8 556.1 L1475.8 554.7 L1478.8 557.1 L1481.8 557.8 L1484.8 555.1 L1487.8 552.4 L1490.8 554.3 L1493.8 557.2 L1496.8 555.3 L1499.8 554.7 L1502.8 553.9 L1505.8 553.3 L1508.8 555.1 L1511.8 557.7 L1514.8 558.5 L1517.8 556.6 L1520.8 559.1 L1523.8 563.6 L1526.8 562.4 L1529.8 561.1 L1532.8 561.5 L1535.8 562.4 L1538.8 561.7 L1541.8 558.8 L1544.8 557.7 L1547.8 555.6 L1550.8 556.1 L1553.8 555.0 L1556.8 550.7 L1559.8 549.0 L1562.8 552.3 L1565.8 563.1 L1568.8 568.2 L1571.8 565.0 L1574.8 557.8" stroke="#303030" stroke-width="2"/><path d="M137.8 546.9 L140.8 548.4 L143.8 551.0 L146.8 547.9 L149.8 547.1 L152.8 550.2 L155.8 551.4 L158.8 552.9 L161.8 553.9 L164.8 551.5 L167.8 550.8 L170.8 553.8 L173.8 550.5 L176.8 550.0 L179.8 552.4 L182.8 553.3 L185.8 553.2 L188.8 552.0 L191.8 553.6 L194.8 556.0 L197.8 563.1 L200.8 567.0 L203.8 566.8 L206.8 559.8 L209.8 555.2 L212.8 556.1 L215.8 554.4 L218.8 554.4 L221.8 557.4 L224.8 561.8 L227.8 560.2 L230.8 556.6 L233.8 555.9 L236.8 552.2 L239.8 549.1 L242.8 552.5 L245.8 553.9 L248.8 553.6 L251.8 557.5 L254.8 554.6 L257.8 552.1 L260.8 552.4 L263.8 553.4 L266.8 557.8 L269.8 560.9 L272.8 556.2 L275.8 553.1 L278.8 559.0 L281.8 563.9 L284.8 561.8 L287.8 556.0 L290.8 555.4 L293.8 556.6 L296.8 556.0 L299.8 554.9 L302.8 555.8 L305.8 557.6 L308.8 557.1 L311.8 556.4 L314.8 557.6 L317.8 558.3 L320.8 559.3 L323.8 558.9 L326.8 554.9 L329.8 557.0 L332.8 560.3 L335.8 561.8 L338.8 566.5 L341.8 568.1 L344.8 571.0" stroke="#303030" stroke-width="2"/><path d="M143.5 235.8 L146.5 236.0 L149.5 235.6 L152.5 234.5 L155.5 232.6 L158.5 231.5 L161.5 233.1 L164.5 236.1 L167.5 235.4 L170.5 233.5 L173.5 231.8 L176.5 229.2 L179.5 229.8 L182.5 233.1 L185.5 232.7 L188.5 229.1 L191.5 230.9 L194.5 234.7 L197.5 236.7 L200.5 235.8 L203.5 236.7 L206.5 242.3 L209.5 246.4 L212.5 243.5 L215.5 242.8 L218.5 240.4 L221.5 236.2 L224.5 234.8 L227.5 233.8 L230.5 234.5 L233.5 237.0 L236.5 240.1 L239.5 244.3 L242.5 246.1 L245.5 242.1 L248.5 242.2 L251.5 242.6 L254.5 239.4 L257.5 235.2 L260.5 234.0 L263.5 234.7 L266.5 235.3 L269.5 238.5 L272.5 240.9 L275.5 242.4 L278.5 243.9 L281.5 245.0 L284.5 246.0 L287.5 244.4 L290.5 242.2 L293.5 243.3 L296.5 247.1 L299.5 251.8 L302.5 255.4 L305.5 255.0 L308.5 255.1 L311.5 257.2 L314.5 261.0 L317.5 267.7 L320.5 267.3 L323.5 263.8 L326.5 264.3 L329.5 265.9 L332.5 268.5 L335.5 270.4 L338.5 275.8 L341.5 286.0 L344.5 293.3 L347.5 296.0 L350.5 297.9 L353.5 289.4 L356.5 280.1 L359.5 267.8 L362.5 264.0 L365.5 264.1 L368.5 263.4 L371.5 266.0 L374.5 270.2 L377.5 275.8 L380.5 284.3 L383.5 291.9 L386.5 286.1 L389.5 278.5 L392.5 274.9 L395.5 277.2 L398.5 275.6 L401.5 274.1 L404.5 273.6 L407.5 278.3 L410.5 282.8 L413.5 286.3 L416.5 285.6 L419.5 281.6 L422.5 280.8 L425.5 277.1 L428.5 273.4 L431.5 271.5 L434.5 269.8 L437.5 271.4 L440.5 271.5 L443.5 270.6 L446.5 271.4 L449.5 273.6 L452.5 276.9 L455.5 280.5 L458.5 280.1 L461.5 280.1 L464.5 280.4 L467.5 280.9 L470.5 280.5 L473.5 278.6 L476.5 280.9 L479.5 282.1 L482.5 276.3 L485.5 270.7 L488.5 268.0 L491.5 268.9 L494.5 272.8 L497.5 272.8 L500.5 273.4 L503.5 274.3 L506.5 273.5 L509.5 274.7 L512.5 274.9 L515.5 269.9 L518.5 264.8 L521.5 258.9 L524.5 255.3 L527.5 258.2 L530.5 260.1 L533.5 263.8 L536.5 267.6 L539.5 269.4 L542.5 273.0 L545.5 272.4 L548.5 269.5 L551.5 263.5 L554.5 259.2 L557.5 257.1 L560.5 251.7 L563.5 246.4 L566.5 249.7 L569.5 257.0 L572.5 260.6 L575.5 259.2 L578.5 257.7 L581.5 260.5 L584.5 265.5 L587.5 262.8 L590.5 260.7 L593.5 261.3 L596.5 260.7 L599.5 257.8 L602.5 253.1 L605.5 251.1 L608.5 254.7 L611.5 257.9 L614.5 259.6 L617.5 263.1 L620.5 262.9 L623.5 263.4 L626.5 260.8 L629.5 257.5 L632.5 256.9 L635.5 256.2 L638.5 255.5 L641.5 253.8 L644.5 254.3 L647.5 256.6 L650.5 259.4 L653.5 260.5 L656.5 262.6 L659.5 266.0 L662.5 264.2 L665.5 263.3 L668.5 261.9 L671.5 260.6 L674.5 257.8 L677.5 257.5 L680.5 260.7 L683.5 256.3 L686.5 250.5 L689.5 251.3 L692.5 252.1 L695.5 250.4 L698.5 250.4 L701.5 252.7 L704.5 253.5 L707.5 255.0 L710.5 258.7 L713.5 258.8 L716.5 257.4 L719.5 254.5 L722.5 252.1 L725.5 251.7 L728.5 250.0 L731.5 249.3 L734.5 249.8 L737.5 249.5 L740.5 249.7 L743.5 250.9 L746.5 251.6 L749.5 253.5 L752.5 252.5 L755.5 251.7 L758.5 248.0 L761.5 244.5 L764.5 242.8 L767.5 241.3 L770.5 242.3 L773.5 242.3 L776.5 242.1 L779.5 241.6 L782.5 237.4 L785.5 234.7 L788.5 237.6 L791.5 240.0 L794.5 238.4 L797.5 234.6 L800.5 235.1 L803.5 234.6 L806.5 234.3 L809.5 238.9 L812.5 241.8 L815.5 239.0 L818.5 235.6 L821.5 236.8 L824.5 237.3 L827.5 235.4 L830.5 235.7 L833.5 238.0 L836.5 239.9 L839.5 241.7 L842.5 245.2 L845.5 243.9 L848.5 241.8 L851.5 241.6 L854.5 242.5 L857.5 241.4 L860.5 237.4 L863.5 231.4 L866.5 228.9 L869.5 230.1 L872.5 230.0 L875.5 229.0 L878.5 228.9 L881.5 229.4 L884.5 232.8 L887.5 237.2 L890.5 240.3 L893.5 245.0 L896.5 245.3 L899.5 241.8 L902.5 236.7 L905.5 232.1 L908.5 228.6 L911.5 230.3 L914.5 228.4 L917.5 226.1 L920.5 220.4 L923.5 213.5 L926.5 218.9 L929.5 228.9 L932.5 235.8 L935.5 233.6 L938.5 227.2 L941.5 222.9 L944.5 218.9 L947.5 214.1 L950.5 210.0 L953.5 212.1 L956.5 218.1 L959.5 224.1 L962.5 229.4 L965.5 231.5 L968.5 232.2 L971.5 233.5 L974.5 231.2 L977.5 231.9 L980.5 233.8 L983.5 234.9 L986.5 232.4 L989.5 228.8 L992.5 228.4 L995.5 225.5 L998.5 224.4 L1001.5 227.1 L1004.5 230.0 L1007.5 231.6 L1010.5 250.5 L1013.5 274.3 L1016.5 293.2 L1019.5 309.7 L1022.5 311.1 L1025.5 299.2 L1028.5 286.4 L1031.5 273.4 L1034.5 267.4 L1037.5 269.5 L1040.5 274.2 L1043.5 282.7 L1046.5 291.8 L1049.5 290.0 L1052.5 277.3 L1055.5 265.3 L1058.5 266.1 L1061.5 268.7 L1064.5 269.6 L1067.5 270.4 L1070.5 270.8 L1073.5 278.2 L1076.5 288.7 L1079.5 299.8 L1082.5 293.9 L1085.5 283.2 L1088.5 272.9 L1091.5 272.1 L1094.5 272.1 L1097.5 275.2 L1100.5 285.6 L1103.5 293.9 L1106.5 298.0 L1109.5 289.6 L1112.5 282.5 L1115.5 279.6 L1118.5 278.1 L1121.5 276.7 L1124.5 280.9 L1127.5 288.5 L1130.5 299.7 L1133.5 304.0 L1136.5 298.1 L1139.5 286.8 L1142.5 283.5 L1145.5 284.0 L1148.5 288.2 L1151.5 293.6 L1154.5 298.0 L1157.5 303.4 L1160.5 296.7 L1163.5 288.2 L1166.5 282.6 L1169.5 282.8 L1172.5 286.6 L1175.5 292.0 L1178.5 292.6 L1181.5 292.3 L1184.5 289.6 L1187.5 287.7 L1190.5 285.9 L1193.5 280.7 L1196.5 278.7 L1199.5 284.2 L1202.5 280.6 L1205.5 274.1 L1208.5 272.4 L1211.5 273.7 L1214.5 275.0 L1217.5 270.1 L1220.5 267.5 L1223.5 269.8 L1226.5 268.7 L1229.5 270.0 L1232.5 270.3 L1235.5 269.1 L1238.5 267.1 L1241.5 269.7 L1244.5 273.0 L1247.5 272.0 L1250.5 270.5 L1253.5 270.0 L1256.5 271.7 L1259.5 270.5 L1262.5 270.5 L1265.5 271.0 L1268.5 269.5 L1271.5 269.6 L1274.5 267.4 L1277.5 262.1 L1280.5 262.1 L1283.5 266.9 L1286.5 271.6 L1289.5 274.2 L1292.5 272.3 L1295.5 269.2 L1298.5 265.6 L1301.5 261.0 L1304.5 260.2 L1307.5 264.5 L1310.5 268.5 L1313.5 270.8 L1316.5 271.4 L1319.5 272.7 L1322.5 274.1 L1325.5 275.3 L1328.5 277.4 L1331.5 278.3 L1334.5 279.5 L1337.5 281.0 L1340.5 281.4 L1343.5 282.4 L1346.5 282.6 L1349.5 279.6 L1352.5 279.0 L1355.5 281.4 L1358.5 282.8 L1361.5 281.6 L1364.5 280.4 L1367.5 281.9 L1370.5 280.5 L1373.5 276.9 L1376.5 274.1 L1379.5 270.5 L1382.5 267.8 L1385.5 270.5 L1388.5 273.6 L1391.5 275.4 L1394.5 277.4 L1397.5 277.3 L1400.5 275.3 L1403.5 273.8 L1406.5 276.9 L1409.5 278.7 L1412.5 275.6 L1415.5 273.5 L1418.5 270.8 L1421.5 268.6 L1424.5 267.8 L1427.5 267.0 L1430.5 266.6 L1433.5 267.0 L1436.5 264.3 L1439.5 262.7 L1442.5 264.5 L1445.5 263.2 L1448.5 261.6 L1451.5 263.7 L1454.5 265.2 L1457.5 265.2 L1460.5 263.2 L1463.5 259.7 L1466.5 257.6 L1469.5 254.8 L1472.5 254.4 L1475.5 255.7 L1478.5 255.6 L1481.5 253.7 L1484.5 253.8 L1487.5 254.6 L1490.5 253.7 L1493.5 252.2 L1496.5 252.7 L1499.5 254.0 L1502.5 252.2 L1505.5 249.5 L1508.5 248.2 L1511.5 248.8 L1514.5 250.4 L1517.5 248.7 L1520.5 244.8 L1523.5 243.1 L1526.5 246.6 L1529.5 246.2 L1532.5 242.4 L1535.5 242.6 L1538.5 242.6 L1541.5 240.8 L1544.5 237.3 L1547.5 237.9 L1550.5 240.2 L1553.5 241.8 L1556.5 240.4 L1559.5 238.9 L1562.5 240.2 L1565.5 240.0 L1568.5 240.2 L1571.5 242.4 L1574.5 243.2" stroke="#ff00ff" stroke-width="4.2"/></g>
<g clip-path="url(#cd)" fill="none" stroke-linejoin="round"><path d="M204.9 784.5 L207.9 788.9 L210.9 795.6 L213.9 801.9 L216.9 808.2 L219.9 806.8 L222.9 803.7 L225.9 796.9 L228.9 796.0 L231.9 795.5 L234.9 796.1 L237.9 800.2 L240.9 804.2 L243.9 806.2 L246.9 807.2 L249.9 808.4 L252.9 807.7 L255.9 799.6 L258.9 794.4 L261.9 794.4 L264.9 794.7 L267.9 792.5 L270.9 792.2 L273.9 792.1 L276.9 793.9 L279.9 798.2 L282.9 801.3 L285.9 799.6 L288.9 800.6 L291.9 801.3 L294.9 796.9 L297.9 793.0 L300.9 790.2 L303.9 789.2 L306.9 786.1 L309.9 782.7 L312.9 789.9 L315.9 798.2 L318.9 806.7 L321.9 805.6 L324.9 801.3 L327.9 796.6 L330.9 794.7 L333.9 793.2 L336.9 789.7 L339.9 789.0 L342.9 789.6 L345.9 792.4 L348.9 794.4 L351.9 793.9 L354.9 793.8 L357.9 797.3 L360.9 804.2 L363.9 804.5 L366.9 801.5 L369.9 799.6 L372.9 797.4 L375.9 795.6 L378.9 793.5 L381.9 788.1 L384.9 783.2 L387.9 786.1 L390.9 786.1 L393.9 790.8 L396.9 799.2 L399.9 799.9 L402.9 792.0 L405.9 786.4 L408.9 783.8 L411.9 787.0 L414.9 788.4 L417.9 786.9 L420.9 785.7 L423.9 786.4 L426.9 786.3 L429.9 788.2 L432.9 791.1 L435.9 798.0 L438.9 799.3 L441.9 789.2 L444.9 782.6 L447.9 783.3 L450.9 784.8 L453.9 787.1 L456.9 790.5 L459.9 795.1 L462.9 798.4 L465.9 797.1 L468.9 790.1 L471.9 785.2 L474.9 783.9 L477.9 783.3 L480.9 784.0 L483.9 783.0 L486.9 783.7 L489.9 788.7 L492.9 795.2 L495.9 794.5 L498.9 788.1 L501.9 786.2 L504.9 790.6 L507.9 796.4 L510.9 800.1 L513.9 799.5 L516.9 800.5 L519.9 803.9 L522.9 803.2 L525.9 797.5 L528.9 793.8 L531.9 791.1 L534.9 794.0 L537.9 799.6 L540.9 796.4 L543.9 790.2 L546.9 796.4 L549.9 809.3 L552.9 816.4 L555.9 814.4 L558.9 808.4 L561.9 805.2 L564.9 805.0 L567.9 803.1 L570.9 802.9 L573.9 804.8 L576.9 807.4 L579.9 810.0 L582.9 812.3 L585.9 814.1 L588.9 820.4 L591.9 830.6 L594.9 836.4 L597.9 827.1 L600.9 818.4 L603.9 812.5 L606.9 809.2 L609.9 805.6 L612.9 802.7 L615.9 801.9 L618.9 803.4 L621.9 804.4 L624.9 795.9 L627.9 791.1 L630.9 791.0 L633.9 793.9 L636.9 796.2 L639.9 799.0 L642.9 802.8 L645.9 805.8 L648.9 805.5 L651.9 806.4 L654.9 810.1 L657.9 816.9 L660.9 824.2 L663.9 828.4 L666.9 817.1 L669.9 805.0 L672.9 795.9 L675.9 787.6 L678.9 786.3 L681.9 789.4 L684.9 792.4 L687.9 789.8 L690.9 786.9 L693.9 788.5 L696.9 792.5 L699.9 794.4 L702.9 789.3 L705.9 785.4 L708.9 785.0 L711.9 788.8 L714.9 793.4 L717.9 794.3 L720.9 797.2 L723.9 804.4 L726.9 808.1 L729.9 804.6 L732.9 802.7 L735.9 800.4 L738.9 798.7 L741.9 796.8 L744.9 790.5 L747.9 783.0 L750.9 781.7 L753.9 784.4 L756.9 788.0 L759.9 793.3 L762.9 797.4 L765.9 801.5 L768.9 801.9 L771.9 797.4 L774.9 793.6 L777.9 794.0 L780.9 795.2 L783.9 798.4 L786.9 802.1 L789.9 804.3 L792.9 804.7 L795.9 803.2 L798.9 806.8 L801.9 807.9 L804.9 805.2 L807.9 799.5 L810.9 794.9 L813.9 792.5 L816.9 788.6 L819.9 787.8 L822.9 791.4 L825.9 792.9 L828.9 788.3 L831.9 783.7 L834.9 783.7 L837.9 785.6 L840.9 789.2 L843.9 791.1 L846.9 789.7 L849.9 787.1 L852.9 785.6 L855.9 783.4 L858.9 784.5 L861.9 793.7 L864.9 799.5 L867.9 803.5 L870.9 803.1 L873.9 799.8 L876.9 797.4 L879.9 795.1 L882.9 796.4 L885.9 800.3 L888.9 797.9 L891.9 789.1 L894.9 785.0 L897.9 784.8 L900.9 784.2 L903.9 783.4 L906.9 785.5 L909.9 789.9 L912.9 793.0 L915.9 795.0 L918.9 795.9 L921.9 800.2 L924.9 808.2 L927.9 813.4 L930.9 816.1 L933.9 814.6 L936.9 809.0 L939.9 803.8 L942.9 802.2 L945.9 799.7 L948.9 798.5 L951.9 806.7 L954.9 811.7 L957.9 810.6 L960.9 804.1 L963.9 798.4 L966.9 794.2 L969.9 793.7 L972.9 796.0 L975.9 794.9 L978.9 791.2 L981.9 793.3 L984.9 801.2 L987.9 808.0 L990.9 815.1 L993.9 810.1 L996.9 805.2 L999.9 801.0 L1002.9 793.5 L1005.9 790.3 L1008.9 793.4 L1011.9 794.3 L1014.9 798.2 L1017.9 801.1 L1020.9 800.2 L1023.9 796.1 L1026.9 793.4 L1029.9 794.7 L1032.9 798.1 L1035.9 799.7 L1038.9 799.4 L1041.9 800.5 L1044.9 805.3 L1047.9 806.6 L1050.9 801.9 L1053.9 799.5 L1056.9 796.5 L1059.9 793.5 L1062.9 796.4 L1065.9 800.2 L1068.9 799.0 L1071.9 798.2 L1074.9 801.4 L1077.9 806.8 L1080.9 807.5 L1083.9 806.6 L1086.9 803.3 L1089.9 795.8 L1092.9 794.3 L1095.9 797.9 L1098.9 794.4 L1101.9 796.8 L1104.9 796.7 L1107.9 797.6 L1110.9 803.4 L1113.9 806.9 L1116.9 808.8 L1119.9 805.6 L1122.9 801.3 L1125.9 797.8 L1128.9 793.5 L1131.9 788.8 L1134.9 787.7 L1137.9 788.4 L1140.9 786.9 L1143.9 785.3 L1146.9 787.4 L1149.9 790.3 L1152.9 789.7 L1155.9 788.3 L1158.9 785.3 L1161.9 782.4 L1164.9 780.9 L1167.9 778.8 L1170.9 780.3 L1173.9 785.3 L1176.9 787.3 L1179.9 785.8 L1182.9 785.7 L1185.9 784.6 L1188.9 786.0 L1191.9 789.4 L1194.9 788.7 L1197.9 785.5 L1200.9 784.2 L1203.9 787.4 L1206.9 789.1 L1209.9 787.8 L1212.9 785.4 L1215.9 781.9 L1218.9 777.5 L1221.9 777.8 L1224.9 783.0 L1227.9 786.0 L1230.9 787.1 L1233.9 788.6 L1236.9 788.2 L1239.9 787.0 L1242.9 787.6 L1245.9 791.0 L1248.9 792.1 L1251.9 789.8 L1254.9 791.6 L1257.9 795.8 L1260.9 798.8 L1263.9 804.8 L1266.9 812.6 L1269.9 820.9 L1272.9 828.3 L1275.9 821.3 L1278.9 815.5 L1281.9 811.6 L1284.9 807.2 L1287.9 803.0 L1290.9 802.9 L1293.9 803.6 L1296.9 806.4 L1299.9 808.6 L1302.9 811.9 L1305.9 817.8 L1308.9 818.2 L1311.9 817.5 L1314.9 821.3 L1317.9 823.2 L1320.9 819.2 L1323.9 812.0 L1326.9 807.4 L1329.9 802.5 L1332.9 801.7 L1335.9 803.0 L1338.9 799.5 L1341.9 798.9 L1344.9 802.2 L1347.9 804.3 L1350.9 806.6 L1353.9 809.3 L1356.9 820.6 L1359.9 834.0 L1362.9 836.3 L1365.9 822.2 L1368.9 809.8 L1371.9 801.4 L1374.9 803.7 L1377.9 804.4 L1380.9 801.5 L1383.9 797.4 L1386.9 794.7 L1389.9 793.2 L1392.9 794.0 L1395.9 795.9 L1398.9 798.3 L1401.9 805.9 L1404.9 823.6 L1407.9 836.1 L1410.9 829.6 L1413.9 815.5 L1416.9 805.7 L1419.9 798.9 L1422.9 796.5 L1425.9 796.9 L1428.9 795.6 L1431.9 800.5 L1434.9 806.0 L1437.9 806.5 L1440.9 802.5 L1443.9 801.3 L1446.9 801.3 L1449.9 800.3 L1452.9 799.4 L1455.9 794.4 L1458.9 790.2 L1461.9 792.4 L1464.9 797.3 L1467.9 800.0 L1470.9 800.2 L1473.9 795.2 L1476.9 794.2 L1479.9 799.9 L1482.9 805.5 L1485.9 808.6 L1488.9 810.0 L1491.9 810.4 L1494.9 809.6 L1497.9 808.1 L1500.9 806.7 L1503.9 806.6 L1506.9 805.3 L1509.9 802.5 L1512.9 800.7 L1515.9 799.8 L1518.9 802.7 L1521.9 805.2 L1524.9 802.9 L1527.9 799.5 L1530.9 796.4 L1533.9 793.2 L1536.9 791.0 L1539.9 791.4 L1542.9 793.6 L1545.9 796.5 L1548.9 797.4 L1551.9 796.1 L1554.9 795.3 L1557.9 796.0 L1560.9 801.0 L1563.9 803.5 L1566.9 800.9 L1569.9 799.5 L1572.9 798.3 L1575.9 794.8" stroke="#303030" stroke-width="2"/><path d="M137.8 852.8 L140.8 850.8 L143.8 852.9 L146.8 864.1 L149.8 871.7 L152.8 868.8 L155.8 866.3 L158.8 862.4 L161.8 859.6 L164.8 859.8 L167.8 856.8 L170.8 853.1 L173.8 850.1 L176.8 848.7 L179.8 848.9 L182.8 850.8 L185.8 857.9 L188.8 861.3 L191.8 858.1 L194.8 855.0 L197.8 854.7 L200.8 853.9 L203.8 849.8 L206.8 852.2 L209.8 858.1 L212.8 863.5 L215.8 869.0 L218.8 871.4 L221.8 871.5 L224.8 866.7 L227.8 861.2 L230.8 856.8 L233.8 855.5 L236.8 858.8 L239.8 863.1 L242.8 865.5 L245.8 862.8 L248.8 859.9 L251.8 857.2 L254.8 849.8 L257.8 844.1 L260.8 844.5 L263.8 847.9 L266.8 846.6 L269.8 848.1 L272.8 848.9 L275.8 846.1 L278.8 849.0 L281.8 852.9 L284.8 852.9 L287.8 855.5 L290.8 860.1 L293.8 858.1 L296.8 853.8 L299.8 849.6 L302.8 848.4 L305.8 846.6 L308.8 840.3 L311.8 844.4 L314.8 852.2 L317.8 859.8 L320.8 863.1 L323.8 859.2 L326.8 853.4 L329.8 850.2 L332.8 849.7 L335.8 844.8 L338.8 845.6 L341.8 846.9 L344.8 851.3 L347.8 856.1 L350.8 857.8 L353.8 858.3 L356.8 859.5 L359.8 868.3 L362.8 871.1 L365.8 868.3 L368.8 866.6 L371.8 864.5 L374.8 862.3 L377.8 861.4 L380.8 856.8 L383.8 850.3 L386.8 852.2 L389.8 851.7 L392.8 853.9 L395.8 863.1 L398.8 869.0 L401.8 859.0 L404.8 850.1 L407.8 844.7 L410.8 845.8 L413.8 848.9 L416.8 848.4 L419.8 846.4 L422.8 848.1 L425.8 847.5 L428.8 849.7 L431.8 850.0 L434.8 855.3 L437.8 862.3 L440.8 853.2 L443.8 843.9 L446.8 843.4 L449.8 846.0 L452.8 847.5 L455.8 851.6 L458.8 857.3 L461.8 862.8 L464.8 865.3 L467.8 856.8 L470.8 851.3 L473.8 847.3 L476.8 845.4 L479.8 846.3 L482.8 845.0 L485.8 844.0 L488.8 846.9 L491.8 854.6 L494.8 857.1 L497.8 850.0 L500.8 845.4 L503.8 847.5 L506.8 852.3 L509.8 857.0 L512.8 856.1 L515.8 854.4 L518.8 857.9 L521.8 861.5 L524.8 856.5 L527.8 854.2 L530.8 851.3 L533.8 852.7 L536.8 862.9 L539.8 865.6 L542.8 860.3 L545.8 861.5 L548.8 872.6 L551.8 880.1 L554.8 879.4 L557.8 877.6 L560.8 877.3 L563.8 881.8 L566.8 885.6 L569.8 887.2 L572.8 891.4 L575.8 897.2 L578.8 902.1 L581.8 908.9 L584.8 910.8 L587.8 910.4 L590.8 915.5 L593.8 920.5 L596.8 912.2 L599.8 901.6 L602.8 892.3 L605.8 888.6 L608.8 879.9 L611.8 867.6 L614.8 857.9 L617.8 852.3 L620.8 861.5 L623.8 856.9 L626.8 853.8 L629.8 856.2 L632.8 858.4 L635.8 859.8 L638.8 863.2 L641.8 868.8 L644.8 875.5 L647.8 877.7 L650.8 879.7 L653.8 882.9 L656.8 890.3 L659.8 898.1 L662.8 897.8 L665.8 890.0 L668.8 879.2 L671.8 871.9 L674.8 865.4 L677.8 861.4 L680.8 862.1 L683.8 865.9 L686.8 863.4 L689.8 857.8 L692.8 855.3 L695.8 856.1 L698.8 865.6 L701.8 868.9 L704.8 870.1 L707.8 867.8 L710.8 861.7 L713.8 859.7 L716.8 853.7 L719.8 855.4 L722.8 863.9 L725.8 870.8 L728.8 876.4 L731.8 876.2 L734.8 872.4 L737.8 868.5 L740.8 866.2 L743.8 859.9 L746.8 849.5 L749.8 843.7 L752.8 846.4 L755.8 848.9 L758.8 854.6 L761.8 858.6 L764.8 863.4 L767.8 865.7 L770.8 861.5 L773.8 855.4 L776.8 854.7 L779.8 854.6 L782.8 856.6 L785.8 862.7 L788.8 867.1 L791.8 871.2 L794.8 870.2 L797.8 869.1 L800.8 868.8 L803.8 866.2 L806.8 859.3 L809.8 851.9 L812.8 848.6 L815.8 842.7 L818.8 840.8 L821.8 844.8 L824.8 849.5 L827.8 847.2 L830.8 841.8 L833.8 841.7 L836.8 843.2 L839.8 847.5 L842.8 851.1 L845.8 851.5 L848.8 848.9 L851.8 848.5 L854.8 846.9 L857.8 846.0 L860.8 852.9 L863.8 860.0 L866.8 866.1 L869.8 870.6 L872.8 866.0 L875.8 863.1 L878.8 859.3 L881.8 857.9 L884.8 861.9 L887.8 862.7 L890.8 852.6 L893.8 845.6 L896.8 844.7 L899.8 842.9 L902.8 839.1 L905.8 838.6 L908.8 841.2 L911.8 844.4 L914.8 846.2 L917.8 848.9 L920.8 853.4 L923.8 864.0 L926.8 871.9 L929.8 874.5 L932.8 877.7 L935.8 876.8 L938.8 868.9 L941.8 865.4 L944.8 862.7 L947.8 856.7 L950.8 859.4 L953.8 862.2 L956.8 856.8 L959.8 850.6 L962.8 849.5 L965.8 855.9 L968.8 863.1 L971.8 871.1 L974.8 877.6 L977.8 867.0 L980.8 861.1 L983.8 858.4 L986.8 853.3 L989.8 856.2 L992.8 859.1 L995.8 863.7 L998.8 871.2 L1001.8 873.3 L1004.8 866.0 L1007.8 861.8 L1010.8 854.1 L1013.8 847.9 L1016.8 855.2 L1019.8 863.1 L1022.8 866.3 L1025.8 869.2 L1028.8 874.2 L1031.8 875.1 L1034.8 872.3 L1037.8 867.3 L1040.8 861.1 L1043.8 860.9 L1046.8 858.8 L1049.8 855.8 L1052.8 857.9 L1055.8 860.7 L1058.8 860.4 L1061.8 866.7 L1064.8 875.5 L1067.8 869.1 L1070.8 861.6 L1073.8 856.4 L1076.8 857.8 L1079.8 852.5 L1082.8 851.8 L1085.8 854.2 L1088.8 848.9 L1091.8 847.5 L1094.8 854.4 L1097.8 848.8 L1100.8 849.4 L1103.8 847.7 L1106.8 843.5 L1109.8 846.9 L1112.8 848.8 L1115.8 850.6 L1118.8 854.5 L1121.8 857.0 L1124.8 857.9 L1127.8 856.8 L1130.8 852.0 L1133.8 848.6 L1136.8 848.5 L1139.8 846.8 L1142.8 843.0 L1145.8 842.7 L1148.8 847.3 L1151.8 848.4 L1154.8 848.8 L1157.8 847.4 L1160.8 845.0 L1163.8 844.8 L1166.8 842.4 L1169.8 842.2 L1172.8 847.5 L1175.8 852.1 L1178.8 850.3 L1181.8 850.9 L1184.8 850.0 L1187.8 849.9 L1190.8 854.7 L1193.8 855.7 L1196.8 853.1 L1199.8 849.6 L1202.8 852.2 L1205.8 855.1 L1208.8 854.2 L1211.8 851.9 L1214.8 849.2 L1217.8 843.8 L1220.8 841.2 L1223.8 846.2 L1226.8 850.3 L1229.8 851.0 L1232.8 853.2 L1235.8 853.8 L1238.8 852.4 L1241.8 852.0 L1244.8 855.3 L1247.8 858.9 L1250.8 855.6 L1253.8 856.8 L1256.8 861.9 L1259.8 869.4 L1262.8 878.8 L1265.8 888.2 L1268.8 898.1 L1271.8 908.9 L1274.8 903.0 L1277.8 890.6 L1280.8 881.7 L1283.8 871.2 L1286.8 859.4 L1289.8 852.3 L1292.8 851.5 L1295.8 853.5 L1298.8 855.3 L1301.8 856.2 L1304.8 866.7 L1307.8 873.0 L1310.8 876.1 L1313.8 881.4 L1316.8 895.3 L1319.8 903.0 L1322.8 886.8 L1325.8 874.4 L1328.8 860.7 L1331.8 855.0 L1334.8 855.9 L1337.8 850.6 L1340.8 844.9 L1343.8 847.4 L1346.8 848.5 L1349.8 850.6 L1352.8 851.0 L1355.8 857.7 L1358.8 876.8 L1361.8 888.3 L1364.8 879.6 L1367.8 868.6 L1370.8 861.7 L1373.8 857.8 L1376.8 856.2 L1379.8 855.2 L1382.8 851.3 L1385.8 849.2 L1388.8 847.1 L1391.8 844.5 L1394.8 844.1 L1397.8 850.5 L1400.8 864.0 L1403.8 881.5 L1406.8 892.5 L1409.8 894.1 L1412.8 876.9 L1415.8 864.7 L1418.8 853.7 L1421.8 842.7 L1424.8 847.5 L1427.8 848.4 L1430.8 851.0 L1433.8 856.2 L1436.8 857.8 L1439.8 852.6 L1442.8 848.1 L1445.8 849.4 L1448.8 851.9 L1451.8 856.5 L1454.8 856.9 L1457.8 854.5 L1460.8 859.6 L1463.8 864.0 L1466.8 864.4 L1469.8 864.8 L1472.8 857.5 L1475.8 851.0 L1478.8 853.2 L1481.8 855.9 L1484.8 856.2 L1487.8 854.3 L1490.8 852.0 L1493.8 846.9 L1496.8 849.8 L1499.8 854.5 L1502.8 860.9 L1505.8 867.1 L1508.8 870.6 L1511.8 874.2 L1514.8 870.1 L1517.8 870.2 L1520.8 872.7 L1523.8 869.5 L1526.8 864.5 L1529.8 860.8 L1532.8 857.8 L1535.8 855.1 L1538.8 854.9 L1541.8 857.0 L1544.8 859.8 L1547.8 860.1 L1550.8 856.6 L1553.8 853.7 L1556.8 850.9 L1559.8 852.1 L1562.8 858.2 L1565.8 857.8 L1568.8 857.4 L1571.8 859.5 L1574.8 857.2" stroke="#303030" stroke-width="2"/><path d="M137.8 900.3 L140.8 896.0 L143.8 895.9 L146.8 904.8 L149.8 910.2 L152.8 905.0 L155.8 900.3 L158.8 895.6 L161.8 892.8 L164.8 892.9 L167.8 889.9 L170.8 886.2 L173.8 883.2 L176.8 881.9 L179.8 882.0 L182.8 883.9 L185.8 891.0 L188.8 894.4 L191.8 891.9 L194.8 889.7 L197.8 890.5 L200.8 890.6 L203.8 886.0 L206.8 880.4 L209.8 878.3 L212.8 888.2 L215.8 898.7 L218.8 914.0 L221.8 918.6 L224.8 912.3 L227.8 905.3 L230.8 897.4 L233.8 888.6 L236.8 885.4 L239.8 890.6 L242.8 893.9 L245.8 896.2 L248.8 898.7 L251.8 901.4 L254.8 895.3 L257.8 888.1 L260.8 886.9 L263.8 888.7 L266.8 886.0 L269.8 886.2 L272.8 890.4 L275.8 891.0 L278.8 894.4 L281.8 898.4 L284.8 898.5 L287.8 901.2 L290.8 902.8 L293.8 895.9 L296.8 890.7 L299.8 885.6 L302.8 883.5 L305.8 880.8 L308.8 873.7 L311.8 876.8 L314.8 883.5 L317.8 890.1 L320.8 897.9 L323.8 899.1 L326.8 891.3 L329.8 886.0 L332.8 883.4 L335.8 876.4 L338.8 878.5 L341.8 881.4 L344.8 887.3 L347.8 893.6 L350.8 896.7 L353.8 895.9 L356.8 892.3 L359.8 896.3 L362.8 894.3 L365.8 886.8 L368.8 880.2 L371.8 880.0 L374.8 880.2 L377.8 881.7 L380.8 879.4 L383.8 875.4 L386.8 878.8 L389.8 878.7 L392.8 881.2 L395.8 890.6 L398.8 896.8 L401.8 898.5 L404.8 893.5 L407.8 890.9 L410.8 889.6 L413.8 887.7 L416.8 882.3 L419.8 877.4 L422.8 880.2 L425.8 880.6 L428.8 884.0 L431.8 886.7 L434.8 894.4 L437.8 901.9 L440.8 892.8 L443.8 883.6 L446.8 883.1 L449.8 885.7 L452.8 886.6 L455.8 888.4 L458.8 891.9 L461.8 895.2 L464.8 895.4 L467.8 893.7 L470.8 896.2 L473.8 894.1 L476.8 891.2 L479.8 891.2 L482.8 888.9 L485.8 887.3 L488.8 890.8 L491.8 899.1 L494.8 902.2 L497.8 895.6 L500.8 891.6 L503.8 893.5 L506.8 897.7 L509.8 901.8 L512.8 900.3 L515.8 898.0 L518.8 900.9 L521.8 903.9 L524.8 898.3 L527.8 895.3 L530.8 891.8 L533.8 892.6 L536.8 902.1 L539.8 903.9 L542.8 897.7 L545.8 897.9 L548.8 908.2 L551.8 914.7 L554.8 913.2 L557.8 910.4 L560.8 909.3 L563.8 912.8 L566.8 915.8 L569.8 915.2 L572.8 916.4 L575.8 919.3 L578.8 921.3 L581.8 925.2 L584.8 925.3 L587.8 932.8 L590.8 945.8 L593.8 958.7 L596.8 962.5 L599.8 949.0 L602.8 936.7 L605.8 930.2 L608.8 921.3 L611.8 913.3 L614.8 907.9 L617.8 904.8 L620.8 911.9 L623.8 905.4 L626.8 900.3 L629.8 900.7 L632.8 900.9 L635.8 900.3 L638.8 903.8 L641.8 910.7 L644.8 918.6 L647.8 922.2 L650.8 925.5 L653.8 929.9 L656.8 938.6 L659.8 947.6 L662.8 947.5 L665.8 939.8 L668.8 928.9 L671.8 921.6 L674.8 915.1 L677.8 909.6 L680.8 906.3 L683.8 907.8 L686.8 911.3 L689.8 911.7 L692.8 915.2 L695.8 922.0 L698.8 930.0 L701.8 929.3 L704.8 923.5 L707.8 917.8 L710.8 916.2 L713.8 918.8 L716.8 915.5 L719.8 908.3 L722.8 907.8 L725.8 905.7 L728.8 902.2 L731.8 901.5 L734.8 900.7 L737.8 899.8 L740.8 900.5 L743.8 897.2 L746.8 889.8 L749.8 886.8 L752.8 888.8 L755.8 890.8 L758.8 895.9 L761.8 899.2 L764.8 903.4 L767.8 905.8 L770.8 902.2 L773.8 896.7 L776.8 896.6 L779.8 897.1 L782.8 899.7 L785.8 905.6 L788.8 909.9 L791.8 913.8 L794.8 912.6 L797.8 916.4 L800.8 920.3 L803.8 918.0 L806.8 911.5 L809.8 904.3 L812.8 901.3 L815.8 895.8 L818.8 893.1 L821.8 896.3 L824.8 900.3 L827.8 897.3 L830.8 891.1 L833.8 890.2 L836.8 891.0 L839.8 894.6 L842.8 897.7 L845.8 899.6 L848.8 898.5 L851.8 897.5 L854.8 895.2 L857.8 893.5 L860.8 899.7 L863.8 907.2 L866.8 914.8 L869.8 919.9 L872.8 913.8 L875.8 909.4 L878.8 904.1 L881.8 901.2 L884.8 904.9 L887.8 905.6 L890.8 895.5 L893.8 888.4 L896.8 887.5 L899.8 885.5 L902.8 881.5 L905.8 880.9 L908.8 889.8 L911.8 892.6 L914.8 894.0 L917.8 895.9 L920.8 899.5 L923.8 909.2 L926.8 917.5 L929.8 918.9 L932.8 917.1 L935.8 912.5 L938.8 906.3 L941.8 904.6 L944.8 903.6 L947.8 899.4 L950.8 907.8 L953.8 917.4 L956.8 918.7 L959.8 919.3 L962.8 918.0 L965.8 912.5 L968.8 907.7 L971.8 903.7 L974.8 898.1 L977.8 895.4 L980.8 898.4 L983.8 904.8 L986.8 908.7 L989.8 911.1 L992.8 905.1 L995.8 900.6 L998.8 899.2 L1001.8 894.2 L1004.8 895.8 L1007.8 900.6 L1010.8 902.0 L1013.8 904.7 L1016.8 908.7 L1019.8 907.6 L1022.8 901.8 L1025.8 895.7 L1028.8 895.6 L1031.8 902.0 L1034.8 904.7 L1037.8 905.1 L1040.8 904.4 L1043.8 909.7 L1046.8 913.1 L1049.8 909.5 L1052.8 907.4 L1055.8 905.9 L1058.8 901.4 L1061.8 903.5 L1064.8 909.0 L1067.8 905.6 L1070.8 901.1 L1073.8 898.8 L1076.8 903.3 L1079.8 901.0 L1082.8 900.4 L1085.8 901.0 L1088.8 893.8 L1091.8 890.5 L1094.8 895.5 L1097.8 888.5 L1100.8 888.6 L1103.8 886.5 L1106.8 882.0 L1109.8 884.9 L1112.8 886.4 L1115.8 885.2 L1118.8 888.0 L1121.8 890.9 L1124.8 894.3 L1127.8 898.5 L1130.8 898.9 L1133.8 900.7 L1136.8 905.8 L1139.8 903.9 L1142.8 899.9 L1145.8 899.5 L1148.8 902.4 L1151.8 901.0 L1154.8 898.9 L1157.8 895.0 L1160.8 890.2 L1163.8 888.1 L1166.8 886.5 L1169.8 887.3 L1172.8 893.5 L1175.8 898.9 L1178.8 898.0 L1181.8 899.5 L1184.8 899.5 L1187.8 900.3 L1190.8 906.0 L1193.8 908.0 L1196.8 906.0 L1199.8 901.6 L1202.8 903.4 L1205.8 905.3 L1208.8 903.5 L1211.8 900.4 L1214.8 896.7 L1217.8 890.4 L1220.8 886.9 L1223.8 891.0 L1226.8 894.3 L1229.8 894.0 L1232.8 895.5 L1235.8 895.3 L1238.8 893.2 L1241.8 892.1 L1244.8 894.5 L1247.8 897.5 L1250.8 893.3 L1253.8 893.9 L1256.8 898.9 L1259.8 908.8 L1262.8 920.7 L1265.8 932.5 L1268.8 944.7 L1271.8 957.9 L1274.8 953.6 L1277.8 942.4 L1280.8 934.7 L1283.8 925.4 L1286.8 914.8 L1289.8 908.2 L1292.8 904.9 L1295.8 904.4 L1298.8 903.7 L1301.8 902.1 L1304.8 904.4 L1307.8 900.6 L1310.8 904.4 L1313.8 918.7 L1316.8 941.5 L1319.8 956.8 L1322.8 943.8 L1325.8 934.6 L1328.8 924.2 L1331.8 909.4 L1334.8 900.1 L1337.8 893.3 L1340.8 889.4 L1343.8 893.6 L1346.8 896.4 L1349.8 900.3 L1352.8 902.4 L1355.8 910.7 L1358.8 929.8 L1361.8 941.4 L1364.8 933.3 L1367.8 923.0 L1370.8 916.9 L1373.8 913.7 L1376.8 912.8 L1379.8 912.3 L1382.8 908.8 L1385.8 907.3 L1388.8 905.7 L1391.8 903.5 L1394.8 903.7 L1397.8 912.1 L1400.8 927.7 L1403.8 947.5 L1406.8 960.8 L1409.8 963.8 L1412.8 946.7 L1415.8 934.7 L1418.8 923.8 L1421.8 912.9 L1424.8 907.8 L1427.8 907.7 L1430.8 910.4 L1433.8 915.6 L1436.8 917.3 L1439.8 912.1 L1442.8 907.7 L1445.8 908.6 L1448.8 909.3 L1451.8 912.1 L1454.8 910.7 L1457.8 906.5 L1460.8 909.8 L1463.8 914.1 L1466.8 915.2 L1469.8 916.2 L1472.8 909.5 L1475.8 903.5 L1478.8 906.7 L1481.8 911.8 L1484.8 914.6 L1487.8 915.1 L1490.8 915.1 L1493.8 912.5 L1496.8 913.7 L1499.8 914.7 L1502.8 917.5 L1505.8 920.2 L1508.8 920.1 L1511.8 920.5 L1514.8 915.8 L1517.8 915.3 L1520.8 917.2 L1523.8 913.4 L1526.8 907.8 L1529.8 902.9 L1532.8 898.4 L1535.8 894.2 L1538.8 892.5 L1541.8 893.2 L1544.8 894.8 L1547.8 896.6 L1550.8 894.6 L1553.8 893.3 L1556.8 891.9 L1559.8 894.7 L1562.8 901.8 L1565.8 901.9 L1568.8 902.2 L1571.8 904.9 L1574.8 903.2" stroke="#303030" stroke-width="2"/><path d="M137.8 942.9 L140.8 937.1 L143.8 935.4 L146.8 942.7 L149.8 946.5 L152.8 939.7 L155.8 933.3 L158.8 928.6 L161.8 926.7 L164.8 927.8 L167.8 925.7 L170.8 924.1 L173.8 927.6 L176.8 932.7 L179.8 931.8 L182.8 932.7 L185.8 938.8 L188.8 941.2 L191.8 937.7 L194.8 934.5 L197.8 934.3 L200.8 933.4 L203.8 927.8 L206.8 921.2 L209.8 918.1 L212.8 928.0 L215.8 938.5 L218.8 953.7 L221.8 958.8 L224.8 953.0 L227.8 946.7 L230.8 939.3 L233.8 931.2 L236.8 928.5 L239.8 933.7 L242.8 937.0 L245.8 939.3 L248.8 941.8 L251.8 944.5 L254.8 938.0 L257.8 930.2 L260.8 928.5 L263.8 929.7 L266.8 926.3 L269.8 925.9 L272.8 929.6 L275.8 929.7 L278.8 932.6 L281.8 936.1 L284.8 935.7 L287.8 937.9 L290.8 939.4 L293.8 933.1 L296.8 928.4 L299.8 923.8 L302.8 922.2 L305.8 920.0 L308.8 913.3 L311.8 917.8 L314.8 926.0 L317.8 934.1 L320.8 943.4 L323.8 944.9 L326.8 935.6 L329.8 928.8 L332.8 924.7 L335.8 916.2 L338.8 919.5 L341.8 923.5 L344.8 930.6 L347.8 938.1 L350.8 942.5 L353.8 942.0 L356.8 937.8 L359.8 941.2 L362.8 938.7 L365.8 930.5 L368.8 923.3 L371.8 922.5 L374.8 922.1 L377.8 923.0 L380.8 920.2 L383.8 915.5 L386.8 919.7 L389.8 922.2 L392.8 927.4 L395.8 939.6 L398.8 948.5 L401.8 941.0 L404.8 934.6 L407.8 931.7 L410.8 930.1 L413.8 927.9 L416.8 922.2 L419.8 917.4 L422.8 920.8 L425.8 921.8 L428.8 925.7 L431.8 929.1 L434.8 937.4 L437.8 944.9 L440.8 935.9 L443.8 926.7 L446.8 926.1 L449.8 928.8 L452.8 929.0 L455.8 928.6 L458.8 929.8 L461.8 930.8 L464.8 928.8 L467.8 927.3 L470.8 930.3 L473.8 928.7 L476.8 926.3 L479.8 926.8 L482.8 924.9 L485.8 923.9 L488.8 928.0 L491.8 936.9 L494.8 940.6 L497.8 934.6 L500.8 931.2 L503.8 933.9 L506.8 939.0 L509.8 944.0 L512.8 943.4 L515.8 942.0 L518.8 945.8 L521.8 949.7 L524.8 945.0 L527.8 943.0 L530.8 940.4 L533.8 942.1 L536.8 951.2 L539.8 952.1 L542.8 945.0 L545.8 944.4 L548.8 953.7 L551.8 959.3 L554.8 956.9 L557.8 953.2 L560.8 951.2 L563.8 953.8 L566.8 955.9 L569.8 957.4 L572.8 962.3 L575.8 968.9 L578.8 974.7 L581.8 982.3 L584.8 985.0 L587.8 985.4 L590.8 991.4 L593.8 997.1 L596.8 995.8 L599.8 983.2 L602.8 971.8 L605.8 966.1 L608.8 957.8 L611.8 949.8 L614.8 944.3 L617.8 941.1 L620.8 947.8 L623.8 940.7 L626.8 935.1 L629.8 935.1 L632.8 934.7 L635.8 933.6 L638.8 937.2 L641.8 944.5 L644.8 952.9 L647.8 956.9 L650.8 960.6 L653.8 965.5 L656.8 974.6 L659.8 984.1 L662.8 984.0 L665.8 976.2 L668.8 965.4 L671.8 958.1 L674.8 951.6 L677.8 946.0 L680.8 942.8 L683.8 944.2 L686.8 947.2 L689.8 947.1 L692.8 950.1 L695.8 956.3 L698.8 963.8 L701.8 962.7 L704.8 958.5 L707.8 956.3 L710.8 958.3 L713.8 964.3 L716.8 964.8 L719.8 962.5 L722.8 967.0 L725.8 960.8 L728.8 952.4 L731.8 946.3 L734.8 939.9 L737.8 933.5 L740.8 928.8 L743.8 922.5 L746.8 918.9 L749.8 919.5 L752.8 922.2 L755.8 924.9 L758.8 930.7 L761.8 934.7 L764.8 939.6 L767.8 942.2 L770.8 938.6 L773.8 933.1 L776.8 933.1 L779.8 933.5 L782.8 936.1 L785.8 940.2 L788.8 942.7 L791.8 944.8 L794.8 941.9 L797.8 943.8 L800.8 947.5 L803.8 946.3 L806.8 941.0 L809.8 935.0 L812.8 933.2 L815.8 928.9 L818.8 926.7 L821.8 930.4 L824.8 934.8 L827.8 932.2 L830.8 926.5 L833.8 926.1 L836.8 927.2 L839.8 931.3 L842.8 934.6 L845.8 934.7 L848.8 931.8 L851.8 932.0 L854.8 931.2 L857.8 931.0 L860.8 938.7 L863.8 943.9 L866.8 945.5 L869.8 946.2 L872.8 939.3 L875.8 934.2 L878.8 928.1 L881.8 924.5 L884.8 928.7 L887.8 930.1 L890.8 920.7 L893.8 914.3 L896.8 914.1 L899.8 912.8 L902.8 909.5 L905.8 908.5 L908.8 910.8 L911.8 914.7 L914.8 917.0 L917.8 920.3 L920.8 925.4 L923.8 934.3 L926.8 940.3 L929.8 942.2 L932.8 944.6 L935.8 943.2 L938.8 936.1 L941.8 933.3 L944.8 931.3 L947.8 926.2 L950.8 934.3 L953.8 943.9 L956.8 945.2 L959.8 945.8 L962.8 945.6 L965.8 943.1 L968.8 941.3 L971.8 940.3 L974.8 937.8 L977.8 928.8 L980.8 925.1 L983.8 928.4 L986.8 930.5 L989.8 935.1 L992.8 934.8 L995.8 936.1 L998.8 940.4 L1001.8 939.8 L1004.8 934.0 L1007.8 931.2 L1010.8 925.1 L1013.8 920.3 L1016.8 926.6 L1019.8 932.2 L1022.8 933.2 L1025.8 933.9 L1028.8 938.9 L1031.8 946.3 L1034.8 949.6 L1037.8 943.5 L1040.8 936.4 L1043.8 935.2 L1046.8 932.1 L1049.8 928.7 L1052.8 930.8 L1055.8 933.6 L1058.8 933.3 L1061.8 939.6 L1064.8 948.6 L1067.8 943.4 L1070.8 937.1 L1073.8 933.0 L1076.8 935.7 L1079.8 931.6 L1082.8 930.6 L1085.8 931.8 L1088.8 925.2 L1091.8 922.6 L1094.8 928.2 L1097.8 931.3 L1100.8 930.5 L1103.8 927.3 L1106.8 921.8 L1109.8 923.7 L1112.8 924.3 L1115.8 922.0 L1118.8 925.4 L1121.8 929.9 L1124.8 934.8 L1127.8 940.4 L1130.8 942.4 L1133.8 945.6 L1136.8 952.2 L1139.8 949.6 L1142.8 944.8 L1145.8 943.6 L1148.8 945.8 L1151.8 943.6 L1154.8 940.8 L1157.8 936.2 L1160.8 930.6 L1163.8 927.9 L1166.8 926.6 L1169.8 927.7 L1172.8 934.2 L1175.8 940.0 L1178.8 939.4 L1181.8 941.2 L1184.8 941.4 L1187.8 942.6 L1190.8 948.6 L1193.8 950.8 L1196.8 949.1 L1199.8 944.7 L1202.8 946.4 L1205.8 948.4 L1208.8 946.6 L1211.8 943.5 L1214.8 939.8 L1217.8 933.5 L1220.8 930.0 L1223.8 934.1 L1226.8 937.4 L1229.8 937.1 L1232.8 938.6 L1235.8 938.4 L1238.8 936.3 L1241.8 935.2 L1244.8 937.6 L1247.8 940.6 L1250.8 936.4 L1253.8 937.0 L1256.8 942.0 L1259.8 951.9 L1262.8 963.8 L1265.8 975.5 L1268.8 987.8 L1271.8 1001.0 L1274.8 996.2 L1277.8 984.4 L1280.8 976.2 L1283.8 966.3 L1286.8 955.1 L1289.8 948.1 L1292.8 945.8 L1295.8 946.4 L1298.8 946.6 L1301.8 946.0 L1304.8 949.3 L1307.8 946.6 L1310.8 950.2 L1313.8 963.5 L1316.8 985.4 L1319.8 1000.1 L1322.8 987.6 L1325.8 979.0 L1328.8 969.2 L1331.8 955.0 L1334.8 946.4 L1337.8 939.0 L1340.8 934.1 L1343.8 937.3 L1346.8 939.1 L1349.8 941.9 L1352.8 943.1 L1355.8 950.2 L1358.8 966.3 L1361.8 974.9 L1364.8 983.6 L1367.8 972.7 L1370.8 960.0 L1373.8 950.4 L1376.8 946.2 L1379.8 946.2 L1382.8 943.2 L1385.8 942.2 L1388.8 941.1 L1391.8 939.4 L1394.8 940.1 L1397.8 949.1 L1400.8 965.6 L1403.8 986.1 L1406.8 1000.2 L1409.8 1003.5 L1412.8 986.5 L1415.8 974.5 L1418.8 963.6 L1421.8 952.7 L1424.8 947.6 L1427.8 947.0 L1430.8 949.2 L1433.8 953.9 L1436.8 955.1 L1439.8 949.5 L1442.8 944.5 L1445.8 945.3 L1448.8 946.5 L1451.8 949.9 L1454.8 949.1 L1457.8 945.5 L1460.8 949.4 L1463.8 954.8 L1466.8 957.0 L1469.8 959.2 L1472.8 953.7 L1475.8 949.0 L1478.8 952.6 L1481.8 955.3 L1484.8 955.7 L1487.8 953.8 L1490.8 951.5 L1493.8 946.4 L1496.8 947.2 L1499.8 948.9 L1502.8 952.3 L1505.8 955.5 L1508.8 956.0 L1511.8 957.1 L1514.8 953.7 L1517.8 954.4 L1520.8 957.5 L1523.8 954.9 L1526.8 950.4 L1529.8 946.8 L1532.8 943.5 L1535.8 940.5 L1538.8 940.0 L1541.8 941.8 L1544.8 944.3 L1547.8 944.3 L1550.8 940.5 L1553.8 937.3 L1556.8 934.1 L1559.8 935.1 L1562.8 941.8 L1565.8 942.6 L1568.8 943.5 L1571.8 946.8 L1574.8 945.8" stroke="#303030" stroke-width="2"/><path d="M137.8 986.0 L140.8 980.1 L143.8 978.5 L146.8 985.8 L149.8 989.5 L152.8 982.8 L155.8 976.4 L158.8 971.7 L161.8 969.8 L164.8 970.9 L167.8 968.8 L170.8 967.3 L173.8 971.3 L176.8 976.9 L179.8 976.5 L182.8 977.9 L185.8 984.5 L188.8 987.4 L191.8 984.1 L194.8 980.9 L197.8 980.7 L200.8 979.8 L203.8 974.2 L206.8 967.6 L209.8 964.5 L212.8 972.5 L215.8 981.0 L218.8 994.2 L221.8 998.9 L224.8 993.8 L227.8 988.1 L230.8 981.3 L233.8 973.8 L236.8 971.6 L239.8 977.4 L242.8 981.3 L245.8 984.3 L248.8 987.4 L251.8 990.7 L254.8 984.4 L257.8 976.6 L260.8 974.9 L263.8 976.1 L266.8 972.7 L269.8 972.1 L272.8 973.4 L275.8 970.9 L278.8 971.3 L281.8 972.3 L284.8 969.5 L287.8 969.1 L290.8 970.4 L293.8 966.5 L296.8 964.3 L299.8 962.3 L302.8 963.1 L305.8 963.4 L308.8 959.3 L311.8 961.7 L314.8 967.0 L317.8 972.1 L320.8 978.3 L323.8 978.4 L326.8 969.8 L329.8 963.7 L332.8 960.4 L335.8 952.6 L338.8 957.4 L341.8 963.0 L344.8 971.5 L347.8 980.6 L350.8 980.3 L353.8 974.6 L356.8 970.6 L359.8 974.0 L362.8 971.6 L365.8 963.5 L368.8 956.5 L371.8 959.7 L374.8 963.8 L377.8 969.0 L380.8 970.6 L383.8 970.4 L386.8 974.9 L389.8 972.5 L392.8 973.9 L395.8 982.3 L398.8 987.5 L401.8 988.1 L404.8 983.5 L407.8 981.5 L410.8 980.8 L413.8 979.5 L416.8 974.7 L419.8 969.8 L422.8 971.4 L425.8 970.6 L428.8 972.7 L431.8 974.3 L434.8 980.8 L437.8 989.6 L440.8 982.6 L443.8 975.2 L446.8 976.6 L449.8 981.2 L452.8 983.0 L455.8 983.1 L458.8 984.9 L461.8 986.5 L464.8 985.0 L467.8 981.9 L470.8 982.8 L473.8 979.2 L476.8 974.9 L479.8 973.3 L482.8 969.5 L485.8 967.4 L488.8 973.4 L491.8 984.0 L494.8 989.6 L497.8 985.4 L500.8 983.8 L503.8 985.7 L506.8 988.9 L509.8 992.2 L512.8 989.8 L515.8 986.5 L518.8 988.6 L521.8 990.6 L524.8 984.1 L527.8 980.3 L530.8 975.9 L533.8 975.8 L536.8 984.9 L539.8 986.7 L542.8 980.5 L545.8 980.8 L548.8 991.0 L551.8 997.6 L554.8 996.0 L557.8 993.3 L560.8 992.2 L563.8 995.7 L566.8 998.6 L569.8 1000.2 L572.8 1004.8 L575.8 1011.1 L578.8 1016.5 L581.8 1023.7 L584.8 1026.1 L587.8 1026.2 L590.8 1031.8 L593.8 1037.2 L596.8 1036.0 L599.8 1025.1 L602.8 1015.4 L605.8 1011.4 L608.8 1003.0 L611.8 991.7 L614.8 983.1 L617.8 977.6 L620.8 984.6 L623.8 977.7 L626.8 972.4 L629.8 972.6 L632.8 977.1 L635.8 981.6 L638.8 986.2 L641.8 991.7 L644.8 998.3 L647.8 1000.5 L650.8 1002.5 L653.8 1005.6 L656.8 1013.0 L659.8 1020.7 L662.8 1020.0 L665.8 1011.9 L668.8 1000.6 L671.8 992.9 L674.8 986.0 L677.8 980.0 L680.8 976.3 L683.8 977.2 L686.8 979.1 L689.8 978.1 L692.8 980.1 L695.8 985.3 L698.8 991.8 L701.8 989.7 L704.8 985.1 L707.8 983.1 L710.8 985.2 L713.8 991.3 L716.8 991.9 L719.8 989.8 L722.8 994.4 L725.8 997.5 L728.8 993.0 L731.8 989.3 L734.8 985.4 L737.8 981.5 L740.8 979.1 L743.8 972.7 L746.8 962.2 L749.8 956.4 L752.8 958.4 L755.8 960.4 L758.8 965.5 L761.8 968.8 L764.8 973.1 L767.8 975.1 L770.8 970.9 L773.8 964.7 L776.8 964.1 L779.8 964.0 L782.8 965.9 L785.8 970.7 L788.8 973.8 L791.8 976.5 L794.8 974.1 L797.8 976.7 L800.8 980.3 L803.8 978.6 L806.8 972.6 L809.8 966.1 L812.8 963.7 L815.8 958.7 L818.8 956.8 L821.8 960.8 L824.8 965.5 L827.8 963.2 L830.8 957.8 L833.8 957.7 L836.8 959.2 L839.8 963.5 L842.8 967.1 L845.8 967.5 L848.8 964.9 L851.8 966.1 L854.8 966.3 L857.8 967.1 L860.8 975.8 L863.8 982.0 L866.8 984.6 L869.8 986.2 L872.8 980.1 L875.8 975.7 L878.8 970.3 L881.8 967.5 L884.8 971.2 L887.8 971.8 L890.8 961.6 L893.8 954.5 L896.8 953.5 L899.8 951.5 L902.8 947.4 L905.8 945.7 L908.8 947.4 L911.8 953.5 L914.8 958.1 L917.8 963.6 L920.8 971.0 L923.8 977.9 L926.8 979.4 L929.8 976.8 L932.8 974.7 L935.8 969.9 L938.8 963.5 L941.8 961.5 L944.8 960.3 L947.8 955.8 L950.8 966.5 L953.8 979.1 L956.8 983.3 L959.8 987.0 L962.8 988.2 L965.8 984.1 L968.8 980.9 L971.8 978.3 L974.8 974.3 L977.8 963.8 L980.8 958.7 L983.8 961.9 L986.8 964.5 L989.8 969.6 L992.8 969.9 L995.8 971.6 L998.8 976.4 L1001.8 976.2 L1004.8 970.4 L1007.8 967.7 L1010.8 961.5 L1013.8 956.8 L1016.8 963.0 L1019.8 968.7 L1022.8 969.6 L1025.8 970.3 L1028.8 975.4 L1031.8 982.8 L1034.8 986.1 L1037.8 980.0 L1040.8 972.8 L1043.8 971.6 L1046.8 968.5 L1049.8 963.1 L1052.8 961.9 L1055.8 961.3 L1058.8 957.7 L1061.8 960.7 L1064.8 967.0 L1067.8 964.0 L1070.8 959.7 L1073.8 957.8 L1076.8 962.5 L1079.8 960.5 L1082.8 962.3 L1085.8 966.6 L1088.8 963.1 L1091.8 963.6 L1094.8 972.4 L1097.8 964.7 L1100.8 964.9 L1103.8 962.8 L1106.8 958.2 L1109.8 961.2 L1112.8 962.7 L1115.8 961.5 L1118.8 964.5 L1121.8 968.0 L1124.8 971.9 L1127.8 976.6 L1130.8 977.5 L1133.8 979.7 L1136.8 985.4 L1139.8 982.9 L1142.8 978.2 L1145.8 977.1 L1148.8 979.4 L1151.8 977.4 L1154.8 974.7 L1157.8 975.7 L1160.8 984.7 L1163.8 992.9 L1166.8 983.8 L1169.8 977.1 L1172.8 975.8 L1175.8 973.7 L1178.8 971.7 L1181.8 974.2 L1184.8 975.2 L1187.8 977.0 L1190.8 983.7 L1193.8 986.6 L1196.8 985.5 L1199.8 980.8 L1202.8 982.3 L1205.8 983.9 L1208.8 981.8 L1211.8 978.4 L1214.8 974.4 L1217.8 967.9 L1220.8 964.1 L1223.8 967.8 L1226.8 970.8 L1229.8 970.3 L1232.8 971.8 L1235.8 971.5 L1238.8 969.5 L1241.8 968.3 L1244.8 970.8 L1247.8 973.7 L1250.8 969.6 L1253.8 970.1 L1256.8 975.2 L1259.8 985.0 L1262.8 996.9 L1265.8 1008.7 L1268.8 1020.9 L1271.8 1034.1 L1274.8 1029.8 L1277.8 1018.6 L1280.8 1010.9 L1283.8 1001.6 L1286.8 991.0 L1289.8 984.7 L1292.8 982.9 L1295.8 983.9 L1298.8 984.7 L1301.8 984.6 L1304.8 988.4 L1307.8 986.2 L1310.8 990.0 L1313.8 1003.3 L1316.8 1025.2 L1319.8 1039.5 L1322.8 1025.9 L1325.8 1016.1 L1328.8 1005.1 L1331.8 989.7 L1334.8 979.9 L1337.8 972.9 L1340.8 968.9 L1343.8 973.1 L1346.8 976.0 L1349.8 979.8 L1352.8 982.0 L1355.8 990.0 L1358.8 1006.1 L1361.8 1014.7 L1364.8 1023.3 L1367.8 1013.2 L1370.8 1001.6 L1373.8 993.0 L1376.8 989.5 L1379.8 990.0 L1382.8 987.5 L1385.8 987.0 L1388.8 986.4 L1391.8 985.2 L1394.8 986.4 L1397.8 994.3 L1400.8 1009.2 L1403.8 1028.2 L1406.8 1040.8 L1409.8 1042.8 L1412.8 1024.6 L1415.8 1011.3 L1418.8 999.3 L1421.8 987.2 L1424.8 980.8 L1427.8 981.5 L1430.8 985.2 L1433.8 991.4 L1436.8 994.1 L1439.8 989.9 L1442.8 986.5 L1445.8 988.0 L1448.8 988.1 L1451.8 990.3 L1454.8 988.3 L1457.8 983.4 L1460.8 986.2 L1463.8 990.1 L1466.8 990.9 L1469.8 991.6 L1472.8 984.6 L1475.8 978.3 L1478.8 981.2 L1481.8 986.0 L1484.8 988.5 L1487.8 988.7 L1490.8 988.5 L1493.8 985.5 L1496.8 985.6 L1499.8 985.1 L1502.8 986.4 L1505.8 987.6 L1508.8 986.0 L1511.8 985.6 L1514.8 984.3 L1517.8 987.1 L1520.8 992.3 L1523.8 991.8 L1526.8 989.4 L1529.8 986.7 L1532.8 983.7 L1535.8 981.1 L1538.8 980.8 L1541.8 983.0 L1544.8 985.8 L1547.8 986.0 L1550.8 982.6 L1553.8 979.7 L1556.8 976.8 L1559.8 978.1 L1562.8 982.4 L1565.8 978.8 L1568.8 975.2 L1571.8 974.2 L1574.8 968.8" stroke="#303030" stroke-width="2"/><path d="M137.8 1029.3 L140.8 1024.0 L143.8 1022.9 L146.8 1030.8 L149.8 1035.2 L152.8 1029.0 L155.8 1023.3 L158.8 1019.2 L161.8 1017.9 L164.8 1019.5 L167.8 1018.0 L170.8 1017.0 L173.8 1021.0 L176.8 1026.6 L179.8 1026.3 L182.8 1027.6 L185.8 1034.3 L188.8 1037.1 L191.8 1034.4 L194.8 1032.2 L197.8 1033.0 L200.8 1033.2 L203.8 1028.5 L206.8 1022.9 L209.8 1020.9 L212.8 1026.9 L215.8 1033.4 L218.8 1044.6 L221.8 1049.0 L224.8 1044.5 L227.8 1039.4 L230.8 1033.2 L233.8 1026.3 L236.8 1024.5 L239.8 1029.1 L242.8 1031.8 L245.8 1033.6 L248.8 1035.4 L251.8 1037.6 L254.8 1030.5 L257.8 1022.1 L260.8 1019.7 L263.8 1020.3 L266.8 1016.3 L269.8 1015.4 L272.8 1018.6 L275.8 1018.2 L278.8 1020.6 L281.8 1023.6 L284.8 1022.7 L287.8 1024.4 L290.8 1025.4 L293.8 1018.5 L296.8 1013.3 L299.8 1008.3 L302.8 1006.1 L305.8 1003.4 L308.8 996.3 L311.8 1000.6 L314.8 1008.9 L317.8 1017.0 L320.8 1026.2 L323.8 1027.8 L326.8 1018.4 L329.8 1011.6 L332.8 1007.6 L335.8 999.0 L338.8 1004.5 L341.8 1010.9 L344.8 1020.2 L347.8 1030.0 L350.8 1029.2 L353.8 1022.0 L356.8 1016.4 L359.8 1018.4 L362.8 1014.5 L365.8 1004.9 L368.8 996.4 L371.8 1002.3 L374.8 1009.3 L377.8 1017.6 L380.8 1022.2 L383.8 1024.9 L386.8 1032.5 L389.8 1029.7 L392.8 1022.9 L395.8 1023.0 L398.8 1020.0 L401.8 1012.3 L404.8 1010.9 L407.8 1013.7 L410.8 1017.8 L413.8 1021.3 L416.8 1021.3 L419.8 1019.1 L422.8 1019.4 L425.8 1017.5 L428.8 1018.4 L431.8 1018.8 L434.8 1024.1 L437.8 1032.2 L440.8 1024.4 L443.8 1016.5 L446.8 1017.2 L449.8 1021.1 L452.8 1022.2 L455.8 1021.6 L458.8 1022.8 L461.8 1023.7 L464.8 1021.6 L467.8 1019.7 L470.8 1022.1 L473.8 1020.0 L476.8 1017.2 L479.8 1017.1 L482.8 1014.8 L485.8 1013.5 L488.8 1018.2 L491.8 1027.7 L494.8 1032.1 L497.8 1026.7 L500.8 1023.9 L503.8 1026.3 L506.8 1030.8 L509.8 1035.2 L512.8 1034.0 L515.8 1032.0 L518.8 1035.2 L521.8 1038.5 L524.8 1033.2 L527.8 1030.5 L530.8 1027.3 L533.8 1028.4 L536.8 1037.4 L539.8 1038.3 L542.8 1031.1 L545.8 1030.5 L548.8 1039.8 L551.8 1045.5 L554.8 1043.0 L557.8 1039.4 L560.8 1037.4 L563.8 1040.0 L566.8 1042.0 L569.8 1042.6 L572.8 1046.2 L575.8 1051.4 L578.8 1055.8 L581.8 1061.9 L584.8 1063.2 L587.8 1062.3 L590.8 1066.8 L593.8 1071.1 L596.8 1069.2 L599.8 1058.2 L602.8 1048.6 L605.8 1044.6 L608.8 1036.5 L611.8 1026.4 L614.8 1018.8 L617.8 1015.1 L620.8 1025.8 L623.8 1022.7 L626.8 1021.1 L629.8 1025.1 L632.8 1029.6 L635.8 1033.4 L638.8 1037.3 L641.8 1042.2 L644.8 1048.2 L647.8 1049.7 L650.8 1051.0 L653.8 1053.4 L656.8 1060.1 L659.8 1067.2 L662.8 1068.4 L665.8 1062.3 L668.8 1053.2 L671.8 1047.6 L674.8 1042.9 L677.8 1039.0 L680.8 1037.5 L683.8 1039.9 L686.8 1040.4 L689.8 1037.8 L692.8 1038.3 L695.8 1042.0 L698.8 1047.0 L701.8 1043.4 L704.8 1038.2 L707.8 1036.3 L710.8 1038.5 L713.8 1044.7 L716.8 1045.3 L719.8 1041.8 L722.8 1045.0 L725.8 1046.6 L728.8 1047.0 L731.8 1043.8 L734.8 1038.0 L737.8 1032.1 L740.8 1027.8 L743.8 1019.5 L746.8 1007.1 L749.8 999.4 L752.8 1000.9 L755.8 1002.2 L758.8 1006.7 L761.8 1009.5 L764.8 1013.1 L767.8 1016.1 L770.8 1014.4 L773.8 1010.6 L776.8 1012.4 L779.8 1014.7 L782.8 1018.9 L785.8 1023.1 L788.8 1025.6 L791.8 1027.7 L794.8 1024.7 L797.8 1026.7 L800.8 1030.6 L803.8 1030.1 L806.8 1025.3 L809.8 1020.0 L812.8 1018.8 L815.8 1015.0 L818.8 1012.9 L821.8 1016.5 L824.8 1021.0 L827.8 1018.4 L830.8 1012.7 L833.8 1012.3 L836.8 1013.4 L839.8 1017.5 L842.8 1020.8 L845.8 1020.9 L848.8 1018.0 L851.8 1018.7 L854.8 1018.3 L857.8 1018.7 L860.8 1026.9 L863.8 1032.5 L866.8 1034.7 L869.8 1034.3 L872.8 1023.0 L875.8 1013.3 L878.8 1002.7 L881.8 994.6 L884.8 1001.6 L887.8 1006.6 L890.8 1000.9 L893.8 998.2 L896.8 1001.6 L899.8 1003.4 L902.8 1001.9 L905.8 1002.9 L908.8 1006.7 L911.8 1004.5 L914.8 1000.9 L917.8 1001.1 L920.8 1003.7 L923.8 1012.4 L926.8 1019.7 L929.8 1022.8 L932.8 1026.5 L935.8 1025.7 L938.8 1016.2 L941.8 1011.2 L944.8 1007.0 L947.8 999.6 L950.8 1008.4 L953.8 1019.5 L956.8 1022.3 L959.8 1024.4 L962.8 1025.0 L965.8 1021.9 L968.8 1019.7 L971.8 1018.1 L974.8 1015.1 L977.8 1005.6 L980.8 1001.5 L983.8 1004.6 L986.8 1006.8 L989.8 1011.4 L992.8 1011.1 L995.8 1012.3 L998.8 1016.6 L1001.8 1016.0 L1004.8 1010.2 L1007.8 1007.5 L1010.8 1001.3 L1013.8 996.6 L1016.8 1003.5 L1019.8 1010.1 L1022.8 1012.1 L1025.8 1013.8 L1028.8 1019.9 L1031.8 1028.2 L1034.8 1032.4 L1037.8 1024.8 L1040.8 1016.1 L1043.8 1013.4 L1046.8 1008.8 L1049.8 1004.6 L1052.8 1006.3 L1055.8 1008.5 L1058.8 1007.7 L1061.8 1013.5 L1064.8 1022.6 L1067.8 1022.3 L1070.8 1013.8 L1073.8 1007.7 L1076.8 1008.2 L1079.8 1002.0 L1082.8 1002.8 L1085.8 1008.3 L1088.8 1006.2 L1091.8 1007.9 L1094.8 1017.9 L1097.8 1017.7 L1100.8 1017.9 L1103.8 1015.8 L1106.8 1011.3 L1109.8 1014.2 L1112.8 1015.7 L1115.8 1014.5 L1118.8 1017.6 L1121.8 1021.0 L1124.8 1024.9 L1127.8 1029.6 L1130.8 1030.5 L1133.8 1032.8 L1136.8 1038.4 L1139.8 1036.9 L1142.8 1033.3 L1145.8 1033.2 L1148.8 1036.4 L1151.8 1035.4 L1154.8 1033.8 L1157.8 1030.2 L1160.8 1025.7 L1163.8 1023.8 L1166.8 1021.4 L1169.8 1021.2 L1172.8 1026.5 L1175.8 1031.1 L1178.8 1029.3 L1181.8 1029.9 L1184.8 1028.9 L1187.8 1028.9 L1190.8 1033.7 L1193.8 1034.7 L1196.8 1031.9 L1199.8 1027.2 L1202.8 1028.7 L1205.8 1030.3 L1208.8 1028.2 L1211.8 1024.8 L1214.8 1020.8 L1217.8 1014.3 L1220.8 1010.5 L1223.8 1014.2 L1226.8 1017.2 L1229.8 1016.7 L1232.8 1019.4 L1235.8 1020.3 L1238.8 1019.3 L1241.8 1019.3 L1244.8 1022.9 L1247.8 1026.9 L1250.8 1023.9 L1253.8 1025.6 L1256.8 1030.5 L1259.8 1036.2 L1262.8 1043.9 L1265.8 1051.5 L1268.8 1059.5 L1271.8 1068.5 L1274.8 1065.1 L1277.8 1056.9 L1280.8 1052.2 L1283.8 1045.9 L1286.8 1038.3 L1289.8 1034.2 L1292.8 1031.4 L1295.8 1031.5 L1298.8 1031.2 L1301.8 1030.1 L1304.8 1032.9 L1307.8 1029.7 L1310.8 1032.0 L1313.8 1043.2 L1316.8 1063.1 L1319.8 1076.6 L1322.8 1065.3 L1325.8 1057.9 L1328.8 1049.3 L1331.8 1036.3 L1334.8 1028.9 L1337.8 1022.2 L1340.8 1017.8 L1343.8 1021.5 L1346.8 1023.8 L1349.8 1027.2 L1352.8 1028.8 L1355.8 1036.2 L1358.8 1050.3 L1361.8 1056.9 L1364.8 1063.6 L1367.8 1054.5 L1370.8 1044.9 L1373.8 1038.3 L1376.8 1035.7 L1379.8 1035.7 L1382.8 1032.7 L1385.8 1031.7 L1388.8 1030.6 L1391.8 1028.9 L1394.8 1029.5 L1397.8 1036.8 L1400.8 1050.9 L1403.8 1069.2 L1406.8 1081.0 L1409.8 1083.3 L1412.8 1066.9 L1415.8 1055.5 L1418.8 1045.2 L1421.8 1034.9 L1424.8 1030.4 L1427.8 1029.9 L1430.8 1032.1 L1433.8 1036.8 L1436.8 1038.0 L1439.8 1032.3 L1442.8 1027.4 L1445.8 1028.1 L1448.8 1029.3 L1451.8 1032.8 L1454.8 1032.0 L1457.8 1028.3 L1460.8 1032.3 L1463.8 1037.0 L1466.8 1038.3 L1469.8 1039.6 L1472.8 1033.3 L1475.8 1027.6 L1478.8 1031.1 L1481.8 1036.5 L1484.8 1039.5 L1487.8 1040.3 L1490.8 1040.7 L1493.8 1038.3 L1496.8 1040.0 L1499.8 1041.7 L1502.8 1045.1 L1505.8 1048.3 L1508.8 1048.8 L1511.8 1049.8 L1514.8 1045.8 L1517.8 1045.9 L1520.8 1048.4 L1523.8 1045.2 L1526.8 1040.1 L1529.8 1036.3 L1532.8 1032.9 L1535.8 1030.0 L1538.8 1029.5 L1541.8 1031.3 L1544.8 1033.8 L1547.8 1033.8 L1550.8 1030.0 L1553.8 1026.8 L1556.8 1023.6 L1559.8 1024.6 L1562.8 1028.8 L1565.8 1025.2 L1568.8 1021.6 L1571.8 1020.6 L1574.8 1015.2" stroke="#303030" stroke-width="2"/><path d="M137.8 1075.3 L140.8 1068.5 L143.8 1065.9 L146.8 1072.3 L149.8 1075.2 L152.8 1067.5 L155.8 1062.9 L158.8 1060.9 L161.8 1061.7 L164.8 1065.5 L167.8 1066.1 L170.8 1066.0 L173.8 1066.6 L176.8 1068.8 L179.8 1065.0 L182.8 1063.0 L185.8 1066.2 L188.8 1071.5 L191.8 1077.3 L194.8 1086.2 L197.8 1090.7 L200.8 1082.9 L203.8 1070.3 L206.8 1057.9 L209.8 1066.0 L212.8 1073.7 L215.8 1081.4 L218.8 1093.9 L221.8 1095.0 L224.8 1084.7 L227.8 1073.7 L230.8 1065.3 L233.8 1063.3 L236.8 1065.8 L239.8 1069.4 L242.8 1071.0 L245.8 1070.4 L248.8 1069.7 L251.8 1069.3 L254.8 1062.8 L257.8 1057.3 L260.8 1057.8 L263.8 1061.2 L266.8 1060.1 L269.8 1061.7 L272.8 1063.7 L275.8 1062.1 L278.8 1063.3 L281.8 1065.1 L284.8 1063.0 L287.8 1063.5 L290.8 1066.0 L293.8 1063.9 L296.8 1063.5 L299.8 1063.2 L302.8 1065.2 L305.8 1037.0 L308.8 1045.7 L311.8 1059.8 L314.8 1064.9 L317.8 1065.5 L320.8 1067.2 L323.8 1067.2 L326.8 1065.4 L329.8 1066.1 L332.8 1067.1 L335.8 1036.0 L338.8 1049.1 L341.8 1063.6 L344.8 1068.5 L347.8 1070.1 L350.8 1068.4 L353.8 1066.3 L356.8 1065.7 L359.8 1065.4 L362.8 1042.6 L365.8 1053.1 L368.8 1064.5 L371.8 1067.3 L374.8 1069.3 L377.8 1072.5 L380.8 1051.9 L383.8 1041.8 L386.8 1060.9 L389.8 1067.3 L392.8 1064.2 L395.8 1068.1 L398.8 1068.8 L401.8 1064.9 L404.8 1062.9 L407.8 1064.5 L410.8 1067.4 L413.8 1069.7 L416.8 1068.5 L419.8 1065.7 L422.8 1066.7 L425.8 1065.3 L428.8 1066.8 L431.8 1067.8 L434.8 1073.7 L437.8 1080.8 L440.8 1071.7 L443.8 1062.4 L446.8 1061.8 L449.8 1064.4 L452.8 1064.1 L455.8 1062.3 L458.8 1062.0 L461.8 1061.7 L464.8 1058.2 L467.8 1057.3 L470.8 1061.0 L473.8 1060.2 L476.8 1058.6 L479.8 1059.8 L482.8 1058.8 L485.8 1058.0 L488.8 1061.2 L491.8 1069.2 L494.8 1072.0 L497.8 1065.1 L500.8 1060.7 L503.8 1062.3 L506.8 1066.2 L509.8 1070.0 L512.8 1068.2 L515.8 1065.6 L518.8 1068.2 L521.8 1070.9 L524.8 1065.0 L527.8 1061.7 L530.8 1058.0 L533.8 1058.4 L536.8 1070.5 L539.8 1076.3 L542.8 1074.1 L545.8 1078.4 L548.8 1092.6 L551.8 1103.2 L554.8 1105.3 L557.8 1101.6 L560.8 1099.4 L563.8 1102.0 L566.8 1103.9 L569.8 1102.5 L572.8 1103.0 L575.8 1105.1 L578.8 1106.5 L581.8 1109.6 L584.8 1107.8 L587.8 1103.8 L590.8 1105.3 L593.8 1106.6 L596.8 1102.7 L599.8 1093.5 L602.8 1085.6 L605.8 1083.3 L608.8 1077.9 L611.8 1072.0 L614.8 1068.8 L617.8 1067.2 L620.8 1074.4 L623.8 1067.8 L626.8 1062.7 L629.8 1063.2 L632.8 1063.3 L635.8 1062.7 L638.8 1065.9 L641.8 1072.4 L644.8 1079.9 L647.8 1083.0 L650.8 1085.9 L653.8 1089.9 L656.8 1098.2 L659.8 1106.8 L662.8 1108.1 L665.8 1102.1 L668.8 1093.0 L671.8 1087.4 L674.8 1082.6 L677.8 1078.8 L680.8 1077.3 L683.8 1079.2 L686.8 1077.2 L689.8 1072.1 L692.8 1070.2 L695.8 1071.4 L698.8 1085.1 L701.8 1094.0 L704.8 1092.9 L707.8 1088.0 L710.8 1087.2 L713.8 1090.5 L716.8 1088.4 L719.8 1085.7 L722.8 1089.7 L725.8 1092.1 L728.8 1093.2 L731.8 1090.2 L734.8 1084.4 L737.8 1078.5 L740.8 1074.2 L743.8 1068.0 L746.8 1063.1 L749.8 1062.4 L752.8 1063.8 L755.8 1065.2 L758.8 1069.7 L761.8 1072.5 L764.8 1076.1 L767.8 1077.5 L770.8 1072.7 L773.8 1066.0 L776.8 1064.7 L779.8 1064.0 L782.8 1065.3 L785.8 1068.9 L788.8 1070.8 L791.8 1072.3 L794.8 1068.7 L797.8 1070.1 L800.8 1073.7 L803.8 1073.2 L806.8 1068.4 L809.8 1063.1 L812.8 1061.9 L815.8 1058.1 L818.8 1056.6 L821.8 1060.8 L824.8 1065.8 L827.8 1063.9 L830.8 1058.8 L833.8 1058.9 L836.8 1060.7 L839.8 1065.3 L842.8 1069.2 L845.8 1069.9 L848.8 1067.6 L851.8 1074.9 L854.8 1081.5 L857.8 1088.9 L860.8 1104.1 L863.8 1106.1 L866.8 1094.2 L869.8 1083.8 L872.8 1071.7 L875.8 1062.1 L878.8 1059.1 L881.8 1058.6 L884.8 1063.0 L887.8 1064.1 L890.8 1054.4 L893.8 1047.8 L896.8 1047.2 L899.8 1045.1 L902.8 1039.6 L905.8 1036.5 L908.8 1037.2 L911.8 1053.1 L914.8 1067.5 L917.8 1067.8 L920.8 1066.9 L923.8 1072.1 L926.8 1075.9 L929.8 1075.5 L932.8 1075.7 L935.8 1073.1 L938.8 1068.9 L941.8 1069.2 L944.8 1070.2 L947.8 1068.0 L950.8 1077.4 L953.8 1087.7 L956.8 1089.8 L959.8 1091.1 L962.8 1090.7 L965.8 1085.9 L968.8 1081.9 L971.8 1078.5 L974.8 1073.8 L977.8 1070.3 L980.8 1072.7 L983.8 1078.3 L986.8 1081.4 L989.8 1081.5 L992.8 1071.7 L995.8 1063.5 L998.8 1058.3 L1001.8 1050.3 L1004.8 1054.9 L1007.8 1062.7 L1010.8 1067.1 L1013.8 1072.8 L1016.8 1075.7 L1019.8 1071.6 L1022.8 1062.8 L1025.8 1053.7 L1028.8 1051.9 L1031.8 1060.3 L1034.8 1065.0 L1037.8 1067.4 L1040.8 1068.7 L1043.8 1076.0 L1046.8 1081.4 L1049.8 1074.0 L1052.8 1064.9 L1055.8 1056.4 L1058.8 1044.8 L1061.8 1043.6 L1064.8 1059.2 L1067.8 1065.5 L1070.8 1070.5 L1073.8 1077.9 L1076.8 1082.4 L1079.8 1077.6 L1082.8 1074.0 L1085.8 1070.9 L1088.8 1062.0 L1091.8 1060.2 L1094.8 1066.8 L1097.8 1063.6 L1100.8 1061.8 L1103.8 1057.7 L1106.8 1051.1 L1109.8 1052.1 L1112.8 1057.1 L1115.8 1060.4 L1118.8 1064.8 L1121.8 1067.7 L1124.8 1071.1 L1127.8 1075.3 L1130.8 1074.8 L1133.8 1072.5 L1136.8 1073.6 L1139.8 1072.9 L1142.8 1070.2 L1145.8 1071.0 L1148.8 1075.2 L1151.8 1075.1 L1154.8 1074.3 L1157.8 1071.7 L1160.8 1068.1 L1163.8 1066.9 L1166.8 1064.1 L1169.8 1063.7 L1172.8 1068.7 L1175.8 1072.9 L1178.8 1070.8 L1181.8 1071.1 L1184.8 1069.9 L1187.8 1069.5 L1190.8 1074.0 L1193.8 1074.7 L1196.8 1071.8 L1199.8 1068.0 L1202.8 1070.4 L1205.8 1072.9 L1208.8 1071.7 L1211.8 1069.2 L1214.8 1066.1 L1217.8 1060.4 L1220.8 1057.6 L1223.8 1062.2 L1226.8 1066.1 L1229.8 1066.4 L1232.8 1068.7 L1235.8 1069.2 L1238.8 1067.9 L1241.8 1067.5 L1244.8 1070.7 L1247.8 1074.4 L1250.8 1071.0 L1253.8 1072.3 L1256.8 1076.1 L1259.8 1078.2 L1262.8 1082.2 L1265.8 1086.2 L1268.8 1090.7 L1271.8 1096.1 L1274.8 1092.4 L1277.8 1085.5 L1280.8 1082.0 L1283.8 1076.9 L1286.8 1070.5 L1289.8 1067.5 L1292.8 1065.8 L1295.8 1066.8 L1298.8 1067.5 L1301.8 1067.5 L1304.8 1071.3 L1307.8 1069.0 L1310.8 1067.3 L1313.8 1070.6 L1316.8 1082.5 L1319.8 1090.9 L1322.8 1083.8 L1325.8 1080.6 L1328.8 1076.2 L1331.8 1067.4 L1334.8 1064.2 L1337.8 1058.0 L1340.8 1052.5 L1343.8 1055.2 L1346.8 1056.6 L1349.8 1058.9 L1352.8 1059.6 L1355.8 1065.5 L1358.8 1073.7 L1361.8 1074.2 L1364.8 1074.9 L1367.8 1070.7 L1370.8 1069.0 L1373.8 1070.4 L1376.8 1071.9 L1379.8 1071.4 L1382.8 1067.9 L1385.8 1066.4 L1388.8 1064.8 L1391.8 1062.6 L1394.8 1062.8 L1397.8 1066.2 L1400.8 1075.9 L1403.8 1089.6 L1406.8 1096.9 L1409.8 1098.3 L1412.8 1086.1 L1415.8 1078.8 L1418.8 1072.8 L1421.8 1066.7 L1424.8 1066.3 L1427.8 1065.9 L1430.8 1067.6 L1433.8 1071.8 L1436.8 1072.5 L1439.8 1066.3 L1442.8 1060.9 L1445.8 1061.0 L1448.8 1061.4 L1451.8 1063.9 L1454.8 1062.2 L1457.8 1057.6 L1460.8 1060.7 L1463.8 1065.1 L1466.8 1066.5 L1469.8 1067.8 L1472.8 1061.4 L1475.8 1055.7 L1478.8 1059.4 L1481.8 1065.8 L1484.8 1069.7 L1487.8 1071.4 L1490.8 1072.7 L1493.8 1071.2 L1496.8 1076.6 L1499.8 1083.1 L1502.8 1091.5 L1505.8 1099.7 L1508.8 1102.0 L1511.8 1096.7 L1514.8 1090.4 L1517.8 1088.2 L1520.8 1088.5 L1523.8 1087.7 L1526.8 1085.9 L1529.8 1083.8 L1532.8 1081.3 L1535.8 1079.2 L1538.8 1079.5 L1541.8 1082.2 L1544.8 1085.6 L1547.8 1086.4 L1550.8 1083.4 L1553.8 1081.1 L1556.8 1078.8 L1559.8 1080.6 L1562.8 1085.5 L1565.8 1082.5 L1568.8 1079.6 L1571.8 1079.2 L1574.8 1074.4" stroke="#303030" stroke-width="2"/><path d="M137.8 1121.9 L140.8 1116.0 L143.8 1114.4 L146.8 1121.7 L149.8 1125.4 L152.8 1118.7 L155.8 1112.3 L158.8 1107.6 L161.8 1105.7 L164.8 1106.8 L167.8 1104.7 L170.8 1102.5 L173.8 1103.1 L176.8 1105.2 L179.8 1101.5 L182.8 1099.5 L185.8 1102.7 L188.8 1104.1 L191.8 1104.1 L194.8 1107.3 L197.8 1113.3 L200.8 1118.8 L203.8 1119.5 L206.8 1119.2 L209.8 1122.4 L212.8 1125.1 L215.8 1127.9 L218.8 1135.4 L221.8 1137.0 L224.8 1130.0 L227.8 1122.5 L230.8 1113.9 L233.8 1104.6 L236.8 1101.0 L239.8 1107.4 L242.8 1111.9 L245.8 1115.4 L248.8 1119.1 L251.8 1123.0 L254.8 1117.0 L257.8 1109.2 L260.8 1107.5 L263.8 1108.7 L266.8 1105.3 L269.8 1104.9 L272.8 1107.8 L275.8 1107.0 L278.8 1109.1 L281.8 1111.8 L284.8 1110.7 L287.8 1109.7 L290.8 1108.9 L293.8 1103.5 L296.8 1099.9 L299.8 1096.3 L302.8 1095.6 L305.8 1094.5 L308.8 1088.8 L311.8 1092.2 L314.8 1099.0 L317.8 1105.6 L320.8 1113.3 L323.8 1114.6 L326.8 1106.7 L329.8 1101.4 L332.8 1098.8 L335.8 1091.8 L338.8 1094.0 L341.8 1096.8 L344.8 1102.7 L347.8 1109.0 L350.8 1112.2 L353.8 1111.9 L356.8 1109.5 L359.8 1114.7 L362.8 1113.9 L365.8 1107.5 L368.8 1102.2 L371.8 1101.4 L374.8 1100.9 L377.8 1101.7 L380.8 1098.8 L383.8 1094.0 L386.8 1094.1 L389.8 1089.4 L392.8 1093.8 L395.8 1105.2 L398.8 1113.4 L401.8 1117.0 L404.8 1113.3 L407.8 1111.9 L410.8 1111.8 L413.8 1111.1 L416.8 1106.9 L419.8 1102.0 L422.8 1102.3 L425.8 1100.4 L428.8 1101.3 L431.8 1101.6 L434.8 1107.0 L437.8 1115.9 L440.8 1109.1 L443.8 1102.1 L446.8 1103.9 L449.8 1108.8 L452.8 1110.9 L455.8 1111.3 L458.8 1113.5 L461.8 1115.4 L464.8 1114.3 L467.8 1111.2 L470.8 1112.1 L473.8 1108.5 L476.8 1104.1 L479.8 1102.6 L482.8 1098.8 L485.8 1096.1 L488.8 1099.6 L491.8 1107.9 L494.8 1111.0 L497.8 1104.4 L500.8 1100.4 L503.8 1101.9 L506.8 1105.4 L509.8 1109.0 L512.8 1106.9 L515.8 1103.9 L518.8 1106.3 L521.8 1108.6 L524.8 1102.4 L527.8 1098.9 L530.8 1094.8 L533.8 1095.0 L536.8 1106.5 L539.8 1111.6 L542.8 1108.7 L545.8 1112.3 L548.8 1125.8 L551.8 1135.0 L554.8 1132.5 L557.8 1128.9 L560.8 1126.9 L563.8 1129.5 L566.8 1131.5 L569.8 1130.8 L572.8 1132.2 L575.8 1135.3 L578.8 1137.6 L581.8 1141.6 L584.8 1140.7 L587.8 1137.7 L590.8 1140.1 L593.8 1142.3 L596.8 1139.6 L599.8 1132.1 L602.8 1125.9 L605.8 1125.3 L608.8 1121.0 L611.8 1115.1 L614.8 1111.9 L617.8 1110.4 L620.8 1118.1 L623.8 1112.0 L626.8 1107.4 L629.8 1108.4 L632.8 1109.1 L635.8 1108.9 L638.8 1110.7 L641.8 1114.6 L644.8 1119.5 L647.8 1120.1 L650.8 1120.4 L653.8 1121.8 L656.8 1127.5 L659.8 1133.6 L662.8 1135.1 L665.8 1129.5 L668.8 1120.8 L671.8 1115.6 L674.8 1111.3 L677.8 1107.8 L680.8 1106.7 L683.8 1109.9 L686.8 1112.9 L689.8 1112.8 L692.8 1115.8 L695.8 1122.1 L698.8 1129.6 L701.8 1128.4 L704.8 1121.1 L707.8 1113.2 L710.8 1109.4 L713.8 1109.7 L716.8 1104.7 L719.8 1098.9 L722.8 1099.9 L725.8 1099.3 L728.8 1097.4 L731.8 1097.8 L734.8 1097.9 L737.8 1098.1 L740.8 1099.8 L743.8 1097.4 L746.8 1091.0 L749.8 1089.0 L752.8 1091.6 L755.8 1094.2 L758.8 1099.9 L761.8 1103.9 L764.8 1108.7 L767.8 1111.3 L770.8 1107.7 L773.8 1102.2 L776.8 1102.1 L779.8 1102.6 L782.8 1105.1 L785.8 1108.7 L788.8 1110.5 L791.8 1112.0 L794.8 1108.5 L797.8 1109.9 L800.8 1113.8 L803.8 1113.8 L806.8 1109.7 L809.8 1105.0 L812.8 1104.4 L815.8 1101.2 L818.8 1099.1 L821.8 1102.7 L824.8 1107.2 L827.8 1104.6 L830.8 1098.9 L833.8 1098.4 L836.8 1099.6 L839.8 1103.7 L842.8 1106.9 L845.8 1107.0 L848.8 1104.1 L851.8 1107.2 L854.8 1109.3 L857.8 1112.2 L860.8 1122.9 L863.8 1126.4 L866.8 1122.1 L869.8 1119.2 L872.8 1114.6 L875.8 1111.7 L878.8 1107.9 L881.8 1106.5 L884.8 1112.7 L887.8 1116.0 L890.8 1108.4 L893.8 1103.9 L896.8 1105.5 L899.8 1106.1 L902.8 1104.7 L905.8 1105.6 L908.8 1109.5 L911.8 1107.6 L914.8 1104.2 L917.8 1101.7 L920.8 1101.1 L923.8 1106.5 L926.8 1110.5 L929.8 1110.4 L932.8 1110.8 L935.8 1108.5 L938.8 1104.6 L941.8 1105.1 L944.8 1106.4 L947.8 1104.5 L950.8 1113.3 L953.8 1122.9 L956.8 1124.2 L959.8 1124.8 L962.8 1124.4 L965.8 1121.4 L968.8 1119.1 L971.8 1117.6 L974.8 1114.6 L977.8 1105.1 L980.8 1100.9 L983.8 1101.9 L986.8 1101.2 L989.8 1102.9 L992.8 1099.7 L995.8 1098.1 L998.8 1099.5 L1001.8 1096.5 L1004.8 1093.5 L1007.8 1093.7 L1010.8 1090.4 L1013.8 1088.5 L1016.8 1095.3 L1019.8 1100.4 L1022.8 1100.9 L1025.8 1101.1 L1028.8 1105.6 L1031.8 1112.5 L1034.8 1115.4 L1037.8 1110.1 L1040.8 1103.6 L1043.8 1103.2 L1046.8 1100.8 L1049.8 1095.8 L1052.8 1095.0 L1055.8 1094.7 L1058.8 1091.4 L1061.8 1094.7 L1064.8 1101.3 L1067.8 1098.5 L1070.8 1094.6 L1073.8 1093.0 L1076.8 1098.0 L1079.8 1096.3 L1082.8 1097.5 L1085.8 1100.5 L1088.8 1095.8 L1091.8 1095.0 L1094.8 1102.5 L1097.8 1097.0 L1100.8 1095.9 L1103.8 1092.5 L1106.8 1086.7 L1109.8 1088.4 L1112.8 1093.7 L1115.8 1097.3 L1118.8 1101.9 L1121.8 1105.1 L1124.8 1108.8 L1127.8 1113.2 L1130.8 1113.9 L1133.8 1115.9 L1136.8 1121.3 L1139.8 1119.0 L1142.8 1114.6 L1145.8 1113.8 L1148.8 1116.3 L1151.8 1114.5 L1154.8 1112.1 L1157.8 1107.8 L1160.8 1102.6 L1163.8 1099.6 L1166.8 1094.3 L1169.8 1091.3 L1172.8 1093.7 L1175.8 1095.4 L1178.8 1094.0 L1181.8 1096.0 L1184.8 1096.4 L1187.8 1097.8 L1190.8 1104.0 L1193.8 1106.4 L1196.8 1105.0 L1199.8 1101.5 L1202.8 1104.1 L1205.8 1107.0 L1208.8 1106.1 L1211.8 1103.8 L1214.8 1101.1 L1217.8 1095.7 L1220.8 1093.1 L1223.8 1098.1 L1226.8 1102.2 L1229.8 1102.9 L1232.8 1104.7 L1235.8 1104.9 L1238.8 1103.2 L1241.8 1102.4 L1244.8 1105.3 L1247.8 1108.6 L1250.8 1104.8 L1253.8 1105.7 L1256.8 1109.7 L1259.8 1113.5 L1262.8 1119.4 L1265.8 1125.2 L1268.8 1131.4 L1271.8 1138.6 L1274.8 1135.1 L1277.8 1127.5 L1280.8 1123.4 L1283.8 1117.7 L1286.8 1110.8 L1289.8 1107.2 L1292.8 1104.9 L1295.8 1105.5 L1298.8 1105.7 L1301.8 1105.1 L1304.8 1108.4 L1307.8 1105.7 L1310.8 1106.0 L1313.8 1113.3 L1316.8 1129.1 L1319.8 1140.0 L1322.8 1130.5 L1325.8 1124.9 L1328.8 1118.1 L1331.8 1106.9 L1334.8 1101.3 L1337.8 1094.8 L1340.8 1089.8 L1343.8 1093.1 L1346.8 1094.9 L1349.8 1097.7 L1352.8 1098.9 L1355.8 1105.6 L1358.8 1116.7 L1361.8 1120.2 L1364.8 1123.9 L1367.8 1117.3 L1370.8 1111.7 L1373.8 1109.0 L1376.8 1108.3 L1379.8 1107.9 L1382.8 1104.4 L1385.8 1102.9 L1388.8 1101.3 L1391.8 1099.1 L1394.8 1099.2 L1397.8 1105.1 L1400.8 1117.8 L1403.8 1134.6 L1406.8 1144.9 L1409.8 1147.0 L1412.8 1132.4 L1415.8 1122.8 L1418.8 1114.3 L1421.8 1105.8 L1424.8 1103.1 L1427.8 1103.1 L1430.8 1105.5 L1433.8 1110.5 L1436.8 1112.0 L1439.8 1106.6 L1442.8 1101.9 L1445.8 1102.6 L1448.8 1102.9 L1451.8 1105.4 L1454.8 1103.7 L1457.8 1099.1 L1460.8 1102.1 L1463.8 1106.6 L1466.8 1108.0 L1469.8 1109.2 L1472.8 1102.9 L1475.8 1097.2 L1478.8 1100.7 L1481.8 1106.1 L1484.8 1109.1 L1487.8 1109.9 L1490.8 1110.3 L1493.8 1107.9 L1496.8 1111.0 L1499.8 1114.5 L1502.8 1119.9 L1505.8 1125.1 L1508.8 1126.0 L1511.8 1124.0 L1514.8 1121.0 L1517.8 1122.0 L1520.8 1125.6 L1523.8 1123.4 L1526.8 1119.3 L1529.8 1116.4 L1532.8 1114.0 L1535.8 1111.9 L1538.8 1112.3 L1541.8 1115.0 L1544.8 1118.4 L1547.8 1119.3 L1550.8 1116.4 L1553.8 1114.1 L1556.8 1111.9 L1559.8 1113.7 L1562.8 1119.4 L1565.8 1117.6 L1568.8 1116.0 L1571.8 1116.9 L1574.8 1113.3" stroke="#303030" stroke-width="2"/><path d="M137.8 1149.0 L140.8 1145.2 L143.8 1145.6 L146.8 1155.0 L149.8 1160.9 L152.8 1156.2 L155.8 1152.0 L158.8 1149.4 L161.8 1149.6 L164.8 1152.7 L167.8 1152.7 L170.8 1152.1 L173.8 1152.0 L176.8 1153.6 L179.8 1149.3 L182.8 1146.7 L185.8 1149.3 L188.8 1148.2 L191.8 1145.0 L194.8 1144.8 L197.8 1147.6 L200.8 1149.7 L203.8 1147.1 L206.8 1143.5 L209.8 1143.4 L212.8 1142.8 L215.8 1142.3 L218.8 1146.6 L221.8 1151.2 L224.8 1150.8 L227.8 1149.9 L230.8 1147.9 L233.8 1145.2 L236.8 1147.0 L239.8 1149.7 L242.8 1150.6 L245.8 1150.6 L248.8 1150.7 L251.8 1151.0 L254.8 1145.3 L257.8 1140.5 L260.8 1141.8 L263.8 1146.0 L266.8 1145.6 L269.8 1147.7 L272.8 1147.6 L275.8 1143.9 L278.8 1143.0 L281.8 1142.7 L284.8 1138.5 L287.8 1136.9 L290.8 1137.3 L293.8 1133.1 L296.8 1130.6 L299.8 1128.3 L302.8 1128.9 L305.8 1133.7 L308.8 1134.1 L311.8 1136.2 L314.8 1139.9 L317.8 1143.5 L320.8 1146.2 L323.8 1145.0 L326.8 1141.9 L329.8 1141.4 L332.8 1143.6 L335.8 1141.4 L338.8 1140.8 L341.8 1140.6 L344.8 1143.5 L347.8 1146.8 L350.8 1147.0 L353.8 1146.6 L356.8 1147.8 L359.8 1156.6 L362.8 1159.5 L365.8 1156.7 L368.8 1155.0 L371.8 1152.9 L374.8 1150.7 L377.8 1149.7 L380.8 1145.1 L383.8 1138.7 L386.8 1140.4 L389.8 1139.7 L392.8 1141.6 L395.8 1150.4 L398.8 1156.0 L401.8 1157.1 L404.8 1153.6 L407.8 1152.8 L410.8 1153.3 L413.8 1153.2 L416.8 1149.6 L419.8 1145.3 L422.8 1146.2 L425.8 1144.9 L428.8 1146.4 L431.8 1147.3 L434.8 1153.3 L437.8 1160.6 L440.8 1151.9 L443.8 1143.0 L446.8 1142.7 L449.8 1145.7 L452.8 1145.8 L455.8 1144.3 L458.8 1144.5 L461.8 1144.5 L464.8 1141.3 L467.8 1140.0 L470.8 1143.6 L473.8 1142.8 L476.8 1141.2 L479.8 1142.5 L482.8 1141.5 L485.8 1140.8 L488.8 1144.0 L491.8 1151.9 L494.8 1154.8 L497.8 1147.9 L500.8 1143.6 L503.8 1145.4 L506.8 1149.6 L509.8 1153.7 L512.8 1152.2 L515.8 1149.9 L518.8 1152.8 L521.8 1155.8 L524.8 1150.2 L527.8 1147.2 L530.8 1143.8 L533.8 1144.5 L536.8 1155.8 L539.8 1160.3 L542.8 1156.8 L545.8 1159.8 L548.8 1172.7 L551.8 1181.5 L554.8 1179.6 L557.8 1176.6 L560.8 1175.2 L563.8 1178.4 L566.8 1181.0 L569.8 1180.5 L572.8 1181.9 L575.8 1185.0 L578.8 1187.3 L581.8 1191.3 L584.8 1190.5 L587.8 1187.4 L590.8 1189.8 L593.8 1192.0 L596.8 1189.3 L599.8 1181.8 L602.8 1175.6 L605.8 1175.0 L608.8 1169.1 L611.8 1158.9 L614.8 1151.4 L617.8 1146.7 L620.8 1153.9 L623.8 1147.3 L626.8 1142.2 L629.8 1142.7 L632.8 1142.9 L635.8 1142.2 L638.8 1143.9 L641.8 1147.7 L644.8 1152.7 L647.8 1153.2 L650.8 1153.5 L653.8 1154.9 L656.8 1160.6 L659.8 1166.7 L662.8 1168.2 L665.8 1162.6 L668.8 1153.9 L671.8 1148.7 L674.8 1144.4 L677.8 1141.0 L680.8 1139.9 L683.8 1143.0 L686.8 1146.0 L689.8 1145.9 L692.8 1149.0 L695.8 1155.2 L698.8 1162.7 L701.8 1161.6 L704.8 1157.5 L707.8 1155.6 L710.8 1157.8 L713.8 1164.1 L716.8 1164.4 L719.8 1159.6 L722.8 1161.4 L725.8 1161.7 L728.8 1160.7 L731.8 1162.0 L734.8 1160.2 L737.8 1156.5 L740.8 1154.3 L743.8 1148.0 L746.8 1137.8 L749.8 1132.1 L752.8 1134.1 L755.8 1136.1 L758.8 1141.2 L761.8 1144.5 L764.8 1148.7 L767.8 1150.7 L770.8 1146.5 L773.8 1140.4 L776.8 1139.8 L779.8 1139.6 L782.8 1141.5 L785.8 1144.5 L788.8 1145.8 L791.8 1146.7 L794.8 1142.5 L797.8 1143.3 L800.8 1146.9 L803.8 1147.0 L806.8 1142.8 L809.8 1138.1 L812.8 1137.5 L815.8 1134.4 L818.8 1132.8 L821.8 1137.1 L824.8 1142.1 L827.8 1140.1 L830.8 1135.0 L833.8 1135.2 L836.8 1136.9 L839.8 1141.6 L842.8 1145.5 L845.8 1146.2 L848.8 1143.9 L851.8 1145.3 L854.8 1145.6 L857.8 1146.7 L860.8 1155.6 L863.8 1161.9 L866.8 1161.9 L869.8 1159.0 L872.8 1154.4 L875.8 1151.5 L878.8 1147.6 L881.8 1146.3 L884.8 1149.8 L887.8 1150.1 L890.8 1139.5 L893.8 1132.1 L896.8 1130.6 L899.8 1128.3 L902.8 1123.8 L905.8 1122.8 L908.8 1130.6 L911.8 1132.4 L914.8 1132.8 L917.8 1132.8 L920.8 1134.3 L923.8 1141.9 L926.8 1148.1 L929.8 1150.1 L932.8 1151.9 L935.8 1149.4 L938.8 1145.2 L941.8 1145.4 L944.8 1146.4 L947.8 1144.3 L950.8 1153.3 L953.8 1163.1 L956.8 1164.6 L959.8 1161.8 L962.8 1156.5 L965.8 1153.1 L968.8 1150.5 L971.8 1148.6 L974.8 1145.2 L977.8 1135.4 L980.8 1130.8 L983.8 1131.8 L986.8 1131.0 L989.8 1132.7 L992.8 1129.5 L995.8 1127.9 L998.8 1129.3 L1001.8 1126.4 L1004.8 1123.4 L1007.8 1123.5 L1010.8 1120.2 L1013.8 1118.3 L1016.8 1124.8 L1019.8 1129.4 L1022.8 1129.4 L1025.8 1129.0 L1028.8 1133.1 L1031.8 1139.5 L1034.8 1142.0 L1037.8 1137.4 L1040.8 1131.7 L1043.8 1132.0 L1046.8 1130.4 L1049.8 1126.4 L1052.8 1126.8 L1055.8 1127.7 L1058.8 1125.6 L1061.8 1130.1 L1064.8 1137.7 L1067.8 1134.3 L1070.8 1129.8 L1073.8 1127.6 L1076.8 1132.0 L1079.8 1129.7 L1082.8 1130.2 L1085.8 1132.6 L1088.8 1127.3 L1091.8 1125.9 L1094.8 1132.8 L1097.8 1130.4 L1100.8 1130.6 L1103.8 1128.5 L1106.8 1123.9 L1109.8 1126.9 L1112.8 1128.4 L1115.8 1127.2 L1118.8 1130.3 L1121.8 1133.7 L1124.8 1137.6 L1127.8 1142.3 L1130.8 1143.2 L1133.8 1145.5 L1136.8 1151.1 L1139.8 1149.6 L1142.8 1146.0 L1145.8 1145.9 L1148.8 1149.1 L1151.8 1148.1 L1154.8 1146.5 L1157.8 1142.9 L1160.8 1138.4 L1163.8 1135.9 L1166.8 1129.9 L1169.8 1126.1 L1172.8 1127.8 L1175.8 1128.8 L1178.8 1127.1 L1181.8 1129.1 L1184.8 1129.6 L1187.8 1130.9 L1190.8 1137.1 L1193.8 1139.5 L1196.8 1138.1 L1199.8 1134.6 L1202.8 1137.3 L1205.8 1140.1 L1208.8 1139.3 L1211.8 1137.0 L1214.8 1134.2 L1217.8 1128.9 L1220.8 1126.3 L1223.8 1131.2 L1226.8 1135.4 L1229.8 1136.1 L1232.8 1138.7 L1235.8 1139.6 L1238.8 1138.6 L1241.8 1138.6 L1244.8 1142.2 L1247.8 1146.3 L1250.8 1143.3 L1253.8 1144.9 L1256.8 1149.2 L1259.8 1151.8 L1262.8 1156.5 L1265.8 1161.1 L1268.8 1166.1 L1271.8 1172.1 L1274.8 1168.3 L1277.8 1160.7 L1280.8 1156.6 L1283.8 1150.9 L1286.8 1143.9 L1289.8 1140.4 L1292.8 1138.1 L1295.8 1138.6 L1298.8 1138.9 L1301.8 1138.3 L1304.8 1141.6 L1307.8 1138.8 L1310.8 1138.6 L1313.8 1144.8 L1316.8 1159.7 L1319.8 1170.1 L1322.8 1161.9 L1325.8 1157.5 L1328.8 1151.8 L1331.8 1141.9 L1334.8 1137.4 L1337.8 1131.2 L1340.8 1126.3 L1343.8 1129.5 L1346.8 1131.4 L1349.8 1134.2 L1352.8 1135.4 L1355.8 1142.0 L1358.8 1153.2 L1361.8 1156.7 L1364.8 1160.4 L1367.8 1154.5 L1370.8 1149.9 L1373.8 1148.3 L1376.8 1148.1 L1379.8 1147.6 L1382.8 1144.2 L1385.8 1142.6 L1388.8 1141.0 L1391.8 1138.9 L1394.8 1139.0 L1397.8 1143.0 L1400.8 1153.5 L1403.8 1168.0 L1406.8 1176.0 L1409.8 1177.4 L1412.8 1163.9 L1415.8 1155.5 L1418.8 1148.2 L1421.8 1141.0 L1424.8 1139.4 L1427.8 1139.3 L1430.8 1141.4 L1433.8 1146.2 L1436.8 1147.4 L1439.8 1141.7 L1442.8 1136.8 L1445.8 1137.2 L1448.8 1137.2 L1451.8 1139.5 L1454.8 1137.4 L1457.8 1132.6 L1460.8 1135.3 L1463.8 1140.4 L1466.8 1142.7 L1469.8 1144.8 L1472.8 1139.4 L1475.8 1134.6 L1478.8 1139.0 L1481.8 1145.3 L1484.8 1149.2 L1487.8 1150.9 L1490.8 1152.2 L1493.8 1150.7 L1496.8 1150.7 L1499.8 1149.3 L1502.8 1149.7 L1505.8 1150.0 L1508.8 1147.5 L1511.8 1146.2 L1514.8 1144.0 L1517.8 1145.9 L1520.8 1150.2 L1523.8 1148.8 L1526.8 1145.6 L1529.8 1142.7 L1532.8 1140.0 L1535.8 1137.6 L1538.8 1137.7 L1541.8 1140.1 L1544.8 1143.3 L1547.8 1143.8 L1550.8 1140.6 L1553.8 1138.1 L1556.8 1135.5 L1559.8 1137.0 L1562.8 1142.9 L1565.8 1141.8 L1568.8 1140.8 L1571.8 1142.3 L1574.8 1139.4" stroke="#303030" stroke-width="2"/><path d="M143.0 841.0 L146.0 840.8 L149.0 838.8 L152.0 837.8 L155.0 840.0 L158.0 842.9 L161.0 841.0 L164.0 837.2 L167.0 835.5 L170.0 833.3 L173.0 832.2 L176.0 834.1 L179.0 835.8 L182.0 837.0 L185.0 841.2 L188.0 845.2 L191.0 844.1 L194.0 838.0 L197.0 834.6 L200.0 831.9 L203.0 828.4 L206.0 826.2 L209.0 825.7 L212.0 833.2 L215.0 843.8 L218.0 855.2 L221.0 859.4 L224.0 850.3 L227.0 841.9 L230.0 832.8 L233.0 833.5 L236.0 834.5 L239.0 836.3 L242.0 841.2 L245.0 842.1 L248.0 838.8 L251.0 836.9 L254.0 836.0 L257.0 833.3 L260.0 830.8 L263.0 830.9 L266.0 830.8 L269.0 828.6 L272.0 825.6 L275.0 826.4 L278.0 829.6 L281.0 833.6 L284.0 836.4 L287.0 835.9 L290.0 836.5 L293.0 839.4 L296.0 849.9 L299.0 840.8 L302.0 829.7 L305.0 820.1 L308.0 822.4 L311.0 831.1 L314.0 838.8 L317.0 846.2 L320.0 850.2 L323.0 843.0 L326.0 835.9 L329.0 833.2 L332.0 830.7 L335.0 820.9 L338.0 819.8 L341.0 824.6 L344.0 830.0 L347.0 838.0 L350.0 841.4 L353.0 832.0 L356.0 823.1 L359.0 827.3 L362.0 832.9 L365.0 837.5 L368.0 842.3 L371.0 846.7 L374.0 843.8 L377.0 837.3 L380.0 832.4 L383.0 826.6 L386.0 820.9 L389.0 826.7 L392.0 834.2 L395.0 840.4 L398.0 844.2 L401.0 839.5 L404.0 833.1 L407.0 825.5 L410.0 820.5 L413.0 820.2 L416.0 820.1 L419.0 821.0 L422.0 821.2 L425.0 822.8 L428.0 826.7 L431.0 829.0 L434.0 830.8 L437.0 829.8 L440.0 826.2 L443.0 825.4 L446.0 825.2 L449.0 821.1 L452.0 817.5 L455.0 824.6 L458.0 830.9 L461.0 837.2 L464.0 842.1 L467.0 839.5 L470.0 831.5 L473.0 823.2 L476.0 820.1 L479.0 822.5 L482.0 825.6 L485.0 829.7 L488.0 828.6 L491.0 830.2 L494.0 833.7 L497.0 834.6 L500.0 833.9 L503.0 832.5 L506.0 830.7 L509.0 830.4 L512.0 831.7 L515.0 833.2 L518.0 832.0 L521.0 829.9 L524.0 829.8 L527.0 830.5 L530.0 832.4 L533.0 833.1 L536.0 832.5 L539.0 833.1 L542.0 836.1 L545.0 841.0 L548.0 844.6 L551.0 844.9 L554.0 843.4 L557.0 845.0 L560.0 848.5 L563.0 851.8 L566.0 852.0 L569.0 851.8 L572.0 851.4 L575.0 849.7 L578.0 848.4 L581.0 850.9 L584.0 852.5 L587.0 859.4 L590.0 868.7 L593.0 879.9 L596.0 891.9 L599.0 881.8 L602.0 871.7 L605.0 862.1 L608.0 849.8 L611.0 842.0 L614.0 836.4 L617.0 832.0 L620.0 831.4 L623.0 833.0 L626.0 834.7 L629.0 836.4 L632.0 837.3 L635.0 839.5 L638.0 841.4 L641.0 842.9 L644.0 845.7 L647.0 850.3 L650.0 855.7 L653.0 859.6 L656.0 861.6 L659.0 865.5 L662.0 869.9 L665.0 866.3 L668.0 857.7 L671.0 850.2 L674.0 844.6 L677.0 839.3 L680.0 835.8 L683.0 831.5 L686.0 828.1 L689.0 826.9 L692.0 826.4 L695.0 824.1 L698.0 826.5 L701.0 833.8 L704.0 840.1 L707.0 844.9 L710.0 839.6 L713.0 833.9 L716.0 829.2 L719.0 834.1 L722.0 841.0 L725.0 849.8 L728.0 854.1 L731.0 852.0 L734.0 851.8 L737.0 850.3 L740.0 841.8 L743.0 835.3 L746.0 829.4 L749.0 821.3 L752.0 818.2 L755.0 817.6 L758.0 818.2 L761.0 820.7 L764.0 823.0 L767.0 825.0 L770.0 828.3 L773.0 830.8 L776.0 831.1 L779.0 828.8 L782.0 827.6 L785.0 831.7 L788.0 838.0 L791.0 843.5 L794.0 846.0 L797.0 847.6 L800.0 849.8 L803.0 849.0 L806.0 847.0 L809.0 844.4 L812.0 842.7 L815.0 841.8 L818.0 840.5 L821.0 837.6 L824.0 834.5 L827.0 831.6 L830.0 827.2 L833.0 824.6 L836.0 825.4 L839.0 823.8 L842.0 822.0 L845.0 820.8 L848.0 818.5 L851.0 817.3 L854.0 819.1 L857.0 824.2 L860.0 831.3 L863.0 839.4 L866.0 848.1 L869.0 844.7 L872.0 841.2 L875.0 838.0 L878.0 832.6 L881.0 828.1 L884.0 828.5 L887.0 826.5 L890.0 823.6 L893.0 824.1 L896.0 824.4 L899.0 822.7 L902.0 820.5 L905.0 816.0 L908.0 812.6 L911.0 819.9 L914.0 828.2 L917.0 836.5 L920.0 845.0 L923.0 850.0 L926.0 849.5 L929.0 848.6 L932.0 850.0 L935.0 852.1 L938.0 850.3 L941.0 846.9 L944.0 842.9 L947.0 840.3 L950.0 841.7 L953.0 846.0 L956.0 849.6 L959.0 851.5 L962.0 854.0 L965.0 846.2 L968.0 837.7 L971.0 827.9 L974.0 829.1 L977.0 835.3 L980.0 841.3 L983.0 847.2 L986.0 851.4 L989.0 846.8 L992.0 840.5 L995.0 835.3 L998.0 829.8 L1001.0 823.8 L1004.0 828.2 L1007.0 834.2 L1010.0 839.5 L1013.0 845.1 L1016.0 845.4 L1019.0 838.5 L1022.0 834.7 L1025.0 832.3 L1028.0 826.1 L1031.0 826.6 L1034.0 829.6 L1037.0 833.2 L1040.0 835.5 L1043.0 834.7 L1046.0 833.4 L1049.0 832.4 L1052.0 831.0 L1055.0 830.1 L1058.0 826.2 L1061.0 820.7 L1064.0 824.4 L1067.0 830.5 L1070.0 833.6 L1073.0 835.3 L1076.0 835.2 L1079.0 830.9 L1082.0 826.1 L1085.0 821.8 L1088.0 818.8 L1091.0 823.4 L1094.0 828.7 L1097.0 836.6 L1100.0 832.9 L1103.0 827.6 L1106.0 823.0 L1109.0 819.3 L1112.0 823.0 L1115.0 830.3 L1118.0 835.8 L1121.0 840.2 L1124.0 835.6 L1127.0 828.7 L1130.0 822.2 L1133.0 821.2 L1136.0 820.6 L1139.0 819.6 L1142.0 819.2 L1145.0 819.4 L1148.0 820.9 L1151.0 822.6 L1154.0 823.0 L1157.0 825.2 L1160.0 828.3 L1163.0 829.4 L1166.0 825.4 L1169.0 821.4 L1172.0 817.0 L1175.0 819.2 L1178.0 824.9 L1181.0 823.9 L1184.0 822.6 L1187.0 823.7 L1190.0 825.1 L1193.0 827.6 L1196.0 830.6 L1199.0 829.0 L1202.0 827.1 L1205.0 825.5 L1208.0 823.8 L1211.0 821.3 L1214.0 818.3 L1217.0 816.9 L1220.0 817.5 L1223.0 818.8 L1226.0 819.6 L1229.0 818.1 L1232.0 819.2 L1235.0 821.9 L1238.0 824.7 L1241.0 826.8 L1244.0 827.1 L1247.0 826.2 L1250.0 823.7 L1253.0 822.8 L1256.0 819.3 L1259.0 829.5 L1262.0 842.2 L1265.0 858.2 L1268.0 875.0 L1271.0 890.4 L1274.0 879.5 L1277.0 869.4 L1280.0 858.7 L1283.0 846.2 L1286.0 834.2 L1289.0 835.0 L1292.0 836.7 L1295.0 840.8 L1298.0 840.5 L1301.0 839.3 L1304.0 842.2 L1307.0 845.7 L1310.0 851.8 L1313.0 869.1 L1316.0 884.0 L1319.0 883.2 L1322.0 872.3 L1325.0 859.1 L1328.0 843.5 L1331.0 837.2 L1334.0 835.0 L1337.0 835.7 L1340.0 838.4 L1343.0 840.8 L1346.0 840.4 L1349.0 837.2 L1352.0 846.2 L1355.0 856.7 L1358.0 870.2 L1361.0 872.3 L1364.0 865.8 L1367.0 861.4 L1370.0 856.5 L1373.0 846.8 L1376.0 838.6 L1379.0 830.6 L1382.0 831.2 L1385.0 832.9 L1388.0 831.4 L1391.0 829.9 L1394.0 830.2 L1397.0 834.7 L1400.0 843.3 L1403.0 851.7 L1406.0 861.8 L1409.0 871.6 L1412.0 862.0 L1415.0 847.7 L1418.0 832.1 L1421.0 827.3 L1424.0 823.6 L1427.0 822.4 L1430.0 825.7 L1433.0 830.4 L1436.0 832.4 L1439.0 832.0 L1442.0 831.6 L1445.0 832.7 L1448.0 833.7 L1451.0 833.7 L1454.0 836.3 L1457.0 837.8 L1460.0 838.1 L1463.0 839.7 L1466.0 838.6 L1469.0 835.7 L1472.0 832.6 L1475.0 830.7 L1478.0 829.4 L1481.0 833.0 L1484.0 837.5 L1487.0 837.0 L1490.0 837.6 L1493.0 840.5 L1496.0 841.8 L1499.0 841.9 L1502.0 841.5 L1505.0 838.9 L1508.0 838.4 L1511.0 841.9 L1514.0 841.6 L1517.0 839.0 L1520.0 836.5 L1523.0 833.2 L1526.0 828.5 L1529.0 825.8 L1532.0 827.3 L1535.0 827.1 L1538.0 822.0 L1541.0 821.0 L1544.0 825.1 L1547.0 826.2 L1550.0 826.1 L1553.0 828.0 L1556.0 832.0 L1559.0 836.4 L1562.0 839.1 L1565.0 838.8 L1568.0 836.0 L1571.0 832.9 L1574.0 831.8" stroke="#ff00ff" stroke-width="4.2"/></g>
<rect x="138.8" y="132.0" width="65" height="55" fill="#fff"/>
<rect x="138.8" y="776.3" width="65" height="59" fill="#fff"/>
<rect x="138.8" y="504.5" width="198" height="63.8" fill="#fff"/>
<rect x="138.8" y="1150" width="201" height="62.8" fill="#fff"/>
<rect x="137.8" y="13.7" width="1438.1" height="109.3" fill="none" stroke="#262626" stroke-width="2.2"/>
<line x1="198.5" y1="123.0" x2="198.5" y2="114.0" stroke="#262626" stroke-width="2.2"/>
<line x1="198.5" y1="13.7" x2="198.5" y2="22.7" stroke="#262626" stroke-width="2.2"/>
<line x1="318.3" y1="123.0" x2="318.3" y2="114.0" stroke="#262626" stroke-width="2.2"/>
<line x1="318.3" y1="13.7" x2="318.3" y2="22.7" stroke="#262626" stroke-width="2.2"/>
<line x1="438.1" y1="123.0" x2="438.1" y2="114.0" stroke="#262626" stroke-width="2.2"/>
<line x1="438.1" y1="13.7" x2="438.1" y2="22.7" stroke="#262626" stroke-width="2.2"/>
<line x1="557.9" y1="123.0" x2="557.9" y2="114.0" stroke="#262626" stroke-width="2.2"/>
<line x1="557.9" y1="13.7" x2="557.9" y2="22.7" stroke="#262626" stroke-width="2.2"/>
<line x1="677.7" y1="123.0" x2="677.7" y2="114.0" stroke="#262626" stroke-width="2.2"/>
<line x1="677.7" y1="13.7" x2="677.7" y2="22.7" stroke="#262626" stroke-width="2.2"/>
<line x1="797.5" y1="123.0" x2="797.5" y2="114.0" stroke="#262626" stroke-width="2.2"/>
<line x1="797.5" y1="13.7" x2="797.5" y2="22.7" stroke="#262626" stroke-width="2.2"/>
<line x1="917.2" y1="123.0" x2="917.2" y2="114.0" stroke="#262626" stroke-width="2.2"/>
<line x1="917.2" y1="13.7" x2="917.2" y2="22.7" stroke="#262626" stroke-width="2.2"/>
<line x1="1037.0" y1="123.0" x2="1037.0" y2="114.0" stroke="#262626" stroke-width="2.2"/>
<line x1="1037.0" y1="13.7" x2="1037.0" y2="22.7" stroke="#262626" stroke-width="2.2"/>
<line x1="1156.8" y1="123.0" x2="1156.8" y2="114.0" stroke="#262626" stroke-width="2.2"/>
<line x1="1156.8" y1="13.7" x2="1156.8" y2="22.7" stroke="#262626" stroke-width="2.2"/>
<line x1="1276.6" y1="123.0" x2="1276.6" y2="114.0" stroke="#262626" stroke-width="2.2"/>
<line x1="1276.6" y1="13.7" x2="1276.6" y2="22.7" stroke="#262626" stroke-width="2.2"/>
<line x1="1396.4" y1="123.0" x2="1396.4" y2="114.0" stroke="#262626" stroke-width="2.2"/>
<line x1="1396.4" y1="13.7" x2="1396.4" y2="22.7" stroke="#262626" stroke-width="2.2"/>
<line x1="1516.2" y1="123.0" x2="1516.2" y2="114.0" stroke="#262626" stroke-width="2.2"/>
<line x1="1516.2" y1="13.7" x2="1516.2" y2="22.7" stroke="#262626" stroke-width="2.2"/>
<line x1="137.8" y1="25.8" x2="146.8" y2="25.8" stroke="#262626" stroke-width="2.2"/>
<line x1="1575.9" y1="25.8" x2="1566.9" y2="25.8" stroke="#262626" stroke-width="2.2"/>
<line x1="137.8" y1="69.0" x2="146.8" y2="69.0" stroke="#262626" stroke-width="2.2"/>
<line x1="1575.9" y1="69.0" x2="1566.9" y2="69.0" stroke="#262626" stroke-width="2.2"/>
<line x1="137.8" y1="112.2" x2="146.8" y2="112.2" stroke="#262626" stroke-width="2.2"/>
<line x1="1575.9" y1="112.2" x2="1566.9" y2="112.2" stroke="#262626" stroke-width="2.2"/>
<rect x="137.8" y="131.0" width="1438.1" height="438.3" fill="none" stroke="#262626" stroke-width="2.2"/>
<line x1="198.5" y1="569.3" x2="198.5" y2="554.3" stroke="#262626" stroke-width="2.2"/>
<line x1="198.5" y1="131.0" x2="198.5" y2="146.0" stroke="#262626" stroke-width="2.2"/>
<line x1="318.3" y1="569.3" x2="318.3" y2="554.3" stroke="#262626" stroke-width="2.2"/>
<line x1="318.3" y1="131.0" x2="318.3" y2="146.0" stroke="#262626" stroke-width="2.2"/>
<line x1="438.1" y1="569.3" x2="438.1" y2="554.3" stroke="#262626" stroke-width="2.2"/>
<line x1="438.1" y1="131.0" x2="438.1" y2="146.0" stroke="#262626" stroke-width="2.2"/>
<line x1="557.9" y1="569.3" x2="557.9" y2="554.3" stroke="#262626" stroke-width="2.2"/>
<line x1="557.9" y1="131.0" x2="557.9" y2="146.0" stroke="#262626" stroke-width="2.2"/>
<line x1="677.7" y1="569.3" x2="677.7" y2="554.3" stroke="#262626" stroke-width="2.2"/>
<line x1="677.7" y1="131.0" x2="677.7" y2="146.0" stroke="#262626" stroke-width="2.2"/>
<line x1="797.5" y1="569.3" x2="797.5" y2="554.3" stroke="#262626" stroke-width="2.2"/>
<line x1="797.5" y1="131.0" x2="797.5" y2="146.0" stroke="#262626" stroke-width="2.2"/>
<line x1="917.2" y1="569.3" x2="917.2" y2="554.3" stroke="#262626" stroke-width="2.2"/>
<line x1="917.2" y1="131.0" x2="917.2" y2="146.0" stroke="#262626" stroke-width="2.2"/>
<line x1="1037.0" y1="569.3" x2="1037.0" y2="554.3" stroke="#262626" stroke-width="2.2"/>
<line x1="1037.0" y1="131.0" x2="1037.0" y2="146.0" stroke="#262626" stroke-width="2.2"/>
<line x1="1156.8" y1="569.3" x2="1156.8" y2="554.3" stroke="#262626" stroke-width="2.2"/>
<line x1="1156.8" y1="131.0" x2="1156.8" y2="146.0" stroke="#262626" stroke-width="2.2"/>
<line x1="1276.6" y1="569.3" x2="1276.6" y2="554.3" stroke="#262626" stroke-width="2.2"/>
<line x1="1276.6" y1="131.0" x2="1276.6" y2="146.0" stroke="#262626" stroke-width="2.2"/>
<line x1="1396.4" y1="569.3" x2="1396.4" y2="554.3" stroke="#262626" stroke-width="2.2"/>
<line x1="1396.4" y1="131.0" x2="1396.4" y2="146.0" stroke="#262626" stroke-width="2.2"/>
<line x1="1516.2" y1="569.3" x2="1516.2" y2="554.3" stroke="#262626" stroke-width="2.2"/>
<line x1="1516.2" y1="131.0" x2="1516.2" y2="146.0" stroke="#262626" stroke-width="2.2"/>
<line x1="137.8" y1="214.3" x2="152.8" y2="214.3" stroke="#262626" stroke-width="2.2"/>
<line x1="1575.9" y1="214.3" x2="1560.9" y2="214.3" stroke="#262626" stroke-width="2.2"/>
<line x1="137.8" y1="303.0" x2="152.8" y2="303.0" stroke="#262626" stroke-width="2.2"/>
<line x1="1575.9" y1="303.0" x2="1560.9" y2="303.0" stroke="#262626" stroke-width="2.2"/>
<line x1="137.8" y1="391.8" x2="152.8" y2="391.8" stroke="#262626" stroke-width="2.2"/>
<line x1="1575.9" y1="391.8" x2="1560.9" y2="391.8" stroke="#262626" stroke-width="2.2"/>
<line x1="137.8" y1="480.5" x2="152.8" y2="480.5" stroke="#262626" stroke-width="2.2"/>
<line x1="1575.9" y1="480.5" x2="1560.9" y2="480.5" stroke="#262626" stroke-width="2.2"/>
<rect x="137.8" y="658.4" width="1438.1" height="109.6" fill="none" stroke="#262626" stroke-width="2.2"/>
<line x1="198.5" y1="768.0" x2="198.5" y2="759.0" stroke="#262626" stroke-width="2.2"/>
<line x1="198.5" y1="658.4" x2="198.5" y2="667.4" stroke="#262626" stroke-width="2.2"/>
<line x1="318.3" y1="768.0" x2="318.3" y2="759.0" stroke="#262626" stroke-width="2.2"/>
<line x1="318.3" y1="658.4" x2="318.3" y2="667.4" stroke="#262626" stroke-width="2.2"/>
<line x1="438.1" y1="768.0" x2="438.1" y2="759.0" stroke="#262626" stroke-width="2.2"/>
<line x1="438.1" y1="658.4" x2="438.1" y2="667.4" stroke="#262626" stroke-width="2.2"/>
<line x1="557.9" y1="768.0" x2="557.9" y2="759.0" stroke="#262626" stroke-width="2.2"/>
<line x1="557.9" y1="658.4" x2="557.9" y2="667.4" stroke="#262626" stroke-width="2.2"/>
<line x1="677.7" y1="768.0" x2="677.7" y2="759.0" stroke="#262626" stroke-width="2.2"/>
<line x1="677.7" y1="658.4" x2="677.7" y2="667.4" stroke="#262626" stroke-width="2.2"/>
<line x1="797.5" y1="768.0" x2="797.5" y2="759.0" stroke="#262626" stroke-width="2.2"/>
<line x1="797.5" y1="658.4" x2="797.5" y2="667.4" stroke="#262626" stroke-width="2.2"/>
<line x1="917.2" y1="768.0" x2="917.2" y2="759.0" stroke="#262626" stroke-width="2.2"/>
<line x1="917.2" y1="658.4" x2="917.2" y2="667.4" stroke="#262626" stroke-width="2.2"/>
<line x1="1037.0" y1="768.0" x2="1037.0" y2="759.0" stroke="#262626" stroke-width="2.2"/>
<line x1="1037.0" y1="658.4" x2="1037.0" y2="667.4" stroke="#262626" stroke-width="2.2"/>
<line x1="1156.8" y1="768.0" x2="1156.8" y2="759.0" stroke="#262626" stroke-width="2.2"/>
<line x1="1156.8" y1="658.4" x2="1156.8" y2="667.4" stroke="#262626" stroke-width="2.2"/>
<line x1="1276.6" y1="768.0" x2="1276.6" y2="759.0" stroke="#262626" stroke-width="2.2"/>
<line x1="1276.6" y1="658.4" x2="1276.6" y2="667.4" stroke="#262626" stroke-width="2.2"/>
<line x1="1396.4" y1="768.0" x2="1396.4" y2="759.0" stroke="#262626" stroke-width="2.2"/>
<line x1="1396.4" y1="658.4" x2="1396.4" y2="667.4" stroke="#262626" stroke-width="2.2"/>
<line x1="1516.2" y1="768.0" x2="1516.2" y2="759.0" stroke="#262626" stroke-width="2.2"/>
<line x1="1516.2" y1="658.4" x2="1516.2" y2="667.4" stroke="#262626" stroke-width="2.2"/>
<line x1="137.8" y1="674.0" x2="146.8" y2="674.0" stroke="#262626" stroke-width="2.2"/>
<line x1="1575.9" y1="674.0" x2="1566.9" y2="674.0" stroke="#262626" stroke-width="2.2"/>
<line x1="137.8" y1="715.8" x2="146.8" y2="715.8" stroke="#262626" stroke-width="2.2"/>
<line x1="1575.9" y1="715.8" x2="1566.9" y2="715.8" stroke="#262626" stroke-width="2.2"/>
<line x1="137.8" y1="757.8" x2="146.8" y2="757.8" stroke="#262626" stroke-width="2.2"/>
<line x1="1575.9" y1="757.8" x2="1566.9" y2="757.8" stroke="#262626" stroke-width="2.2"/>
<rect x="137.8" y="775.3" width="1438.1" height="438.5" fill="none" stroke="#262626" stroke-width="2.2"/>
<line x1="198.5" y1="1213.8" x2="198.5" y2="1198.8" stroke="#262626" stroke-width="2.2"/>
<line x1="198.5" y1="775.3" x2="198.5" y2="790.3" stroke="#262626" stroke-width="2.2"/>
<line x1="318.3" y1="1213.8" x2="318.3" y2="1198.8" stroke="#262626" stroke-width="2.2"/>
<line x1="318.3" y1="775.3" x2="318.3" y2="790.3" stroke="#262626" stroke-width="2.2"/>
<line x1="438.1" y1="1213.8" x2="438.1" y2="1198.8" stroke="#262626" stroke-width="2.2"/>
<line x1="438.1" y1="775.3" x2="438.1" y2="790.3" stroke="#262626" stroke-width="2.2"/>
<line x1="557.9" y1="1213.8" x2="557.9" y2="1198.8" stroke="#262626" stroke-width="2.2"/>
<line x1="557.9" y1="775.3" x2="557.9" y2="790.3" stroke="#262626" stroke-width="2.2"/>
<line x1="677.7" y1="1213.8" x2="677.7" y2="1198.8" stroke="#262626" stroke-width="2.2"/>
<line x1="677.7" y1="775.3" x2="677.7" y2="790.3" stroke="#262626" stroke-width="2.2"/>
<line x1="797.5" y1="1213.8" x2="797.5" y2="1198.8" stroke="#262626" stroke-width="2.2"/>
<line x1="797.5" y1="775.3" x2="797.5" y2="790.3" stroke="#262626" stroke-width="2.2"/>
<line x1="917.2" y1="1213.8" x2="917.2" y2="1198.8" stroke="#262626" stroke-width="2.2"/>
<line x1="917.2" y1="775.3" x2="917.2" y2="790.3" stroke="#262626" stroke-width="2.2"/>
<line x1="1037.0" y1="1213.8" x2="1037.0" y2="1198.8" stroke="#262626" stroke-width="2.2"/>
<line x1="1037.0" y1="775.3" x2="1037.0" y2="790.3" stroke="#262626" stroke-width="2.2"/>
<line x1="1156.8" y1="1213.8" x2="1156.8" y2="1198.8" stroke="#262626" stroke-width="2.2"/>
<line x1="1156.8" y1="775.3" x2="1156.8" y2="790.3" stroke="#262626" stroke-width="2.2"/>
<line x1="1276.6" y1="1213.8" x2="1276.6" y2="1198.8" stroke="#262626" stroke-width="2.2"/>
<line x1="1276.6" y1="775.3" x2="1276.6" y2="790.3" stroke="#262626" stroke-width="2.2"/>
<line x1="1396.4" y1="1213.8" x2="1396.4" y2="1198.8" stroke="#262626" stroke-width="2.2"/>
<line x1="1396.4" y1="775.3" x2="1396.4" y2="790.3" stroke="#262626" stroke-width="2.2"/>
<line x1="1516.2" y1="1213.8" x2="1516.2" y2="1198.8" stroke="#262626" stroke-width="2.2"/>
<line x1="1516.2" y1="775.3" x2="1516.2" y2="790.3" stroke="#262626" stroke-width="2.2"/>
<line x1="137.8" y1="858.8" x2="152.8" y2="858.8" stroke="#262626" stroke-width="2.2"/>
<line x1="1575.9" y1="858.8" x2="1560.9" y2="858.8" stroke="#262626" stroke-width="2.2"/>
<line x1="137.8" y1="947.5" x2="152.8" y2="947.5" stroke="#262626" stroke-width="2.2"/>
<line x1="1575.9" y1="947.5" x2="1560.9" y2="947.5" stroke="#262626" stroke-width="2.2"/>
<line x1="137.8" y1="1036.3" x2="152.8" y2="1036.3" stroke="#262626" stroke-width="2.2"/>
<line x1="1575.9" y1="1036.3" x2="1560.9" y2="1036.3" stroke="#262626" stroke-width="2.2"/>
<line x1="137.8" y1="1125.0" x2="152.8" y2="1125.0" stroke="#262626" stroke-width="2.2"/>
<line x1="1575.9" y1="1125.0" x2="1560.9" y2="1125.0" stroke="#262626" stroke-width="2.2"/>
<text x="124.5" y="41.5" font-size="38" text-anchor="end" font-weight="normal">5</text>
<text x="124.5" y="84.7" font-size="38" text-anchor="end" font-weight="normal">0</text>
<text x="124.5" y="127.9" font-size="38" text-anchor="end" font-weight="normal">-5</text>
<text x="124.5" y="689.0" font-size="38" text-anchor="end" font-weight="normal">5</text>
<text x="124.5" y="730.8" font-size="38" text-anchor="end" font-weight="normal">0</text>
<text x="124.5" y="772.8" font-size="38" text-anchor="end" font-weight="normal">-5</text>
<text x="124.5" y="227.8" font-size="38" text-anchor="end" font-weight="normal">100</text>
<text x="124.5" y="872.3" font-size="38" text-anchor="end" font-weight="normal">100</text>
<text x="124.5" y="316.5" font-size="38" text-anchor="end" font-weight="normal">150</text>
<text x="124.5" y="961.0" font-size="38" text-anchor="end" font-weight="normal">150</text>
<text x="124.5" y="405.3" font-size="38" text-anchor="end" font-weight="normal">200</text>
<text x="124.5" y="1049.8" font-size="38" text-anchor="end" font-weight="normal">200</text>
<text x="124.5" y="494.0" font-size="38" text-anchor="end" font-weight="normal">250</text>
<text x="124.5" y="1138.5" font-size="38" text-anchor="end" font-weight="normal">250</text>
<text x="124.5" y="582.8" font-size="38" text-anchor="end" font-weight="normal">300</text>
<text x="124.5" y="1227.3" font-size="38" text-anchor="end" font-weight="normal">300</text>
<text x="198.5" y="621.5" font-size="38" text-anchor="middle" font-weight="normal">22</text>
<text x="318.3" y="621.5" font-size="38" text-anchor="middle" font-weight="normal">00</text>
<text x="438.1" y="621.5" font-size="38" text-anchor="middle" font-weight="normal">02</text>
<text x="557.9" y="621.5" font-size="38" text-anchor="middle" font-weight="normal">04</text>
<text x="677.7" y="621.5" font-size="38" text-anchor="middle" font-weight="normal">06</text>
<text x="797.5" y="621.5" font-size="38" text-anchor="middle" font-weight="normal">08</text>
<text x="917.2" y="621.5" font-size="38" text-anchor="middle" font-weight="normal">10</text>
<text x="1037.0" y="621.5" font-size="38" text-anchor="middle" font-weight="normal">12</text>
<text x="1156.8" y="621.5" font-size="38" text-anchor="middle" font-weight="normal">14</text>
<text x="1276.6" y="621.5" font-size="38" text-anchor="middle" font-weight="normal">16</text>
<text x="1396.4" y="621.5" font-size="38" text-anchor="middle" font-weight="normal">18</text>
<text x="1516.2" y="621.5" font-size="38" text-anchor="middle" font-weight="normal">20</text>
<text x="198.5" y="1266.0" font-size="38" text-anchor="middle" font-weight="normal">10</text>
<text x="318.3" y="1266.0" font-size="38" text-anchor="middle" font-weight="normal">12</text>
<text x="438.1" y="1266.0" font-size="38" text-anchor="middle" font-weight="normal">14</text>
<text x="557.9" y="1266.0" font-size="38" text-anchor="middle" font-weight="normal">16</text>
<text x="677.7" y="1266.0" font-size="38" text-anchor="middle" font-weight="normal">18</text>
<text x="797.5" y="1266.0" font-size="38" text-anchor="middle" font-weight="normal">20</text>
<text x="917.2" y="1266.0" font-size="38" text-anchor="middle" font-weight="normal">22</text>
<text x="1037.0" y="1266.0" font-size="38" text-anchor="middle" font-weight="normal">00</text>
<text x="1156.8" y="1266.0" font-size="38" text-anchor="middle" font-weight="normal">02</text>
<text x="1276.6" y="1266.0" font-size="38" text-anchor="middle" font-weight="normal">04</text>
<text x="1396.4" y="1266.0" font-size="38" text-anchor="middle" font-weight="normal">06</text>
<text x="1516.2" y="1266.0" font-size="38" text-anchor="middle" font-weight="normal">08</text>
<text x="43.0" y="349.5" font-size="50" text-anchor="middle" font-weight="normal" transform="rotate(-90 43 349.5)">Depth [m]</text>
<text x="43.0" y="994.5" font-size="50" text-anchor="middle" font-weight="normal" transform="rotate(-90 43 994.5)">Depth [m]</text>
<text x="857.0" y="1319.5" font-size="52" text-anchor="middle" font-weight="normal">Time/Hour</text>
<text x="152.0" y="44.0" font-size="35" text-anchor="start" font-weight="normal" stroke="#000" stroke-width="1.1">(a)</text>
<text x="152.0" y="173.0" font-size="35" text-anchor="start" font-weight="normal" stroke="#000" stroke-width="1.1">(b)</text>
<text x="152.0" y="690.0" font-size="35" text-anchor="start" font-weight="normal" stroke="#000" stroke-width="1.1">(c)</text>
<text x="152.0" y="818.0" font-size="35" text-anchor="start" font-weight="normal" stroke="#000" stroke-width="1.1">(d)</text>
<text x="151.0" y="548.5" font-size="36" text-anchor="start" font-weight="normal">2017/12/03</text>
<text x="151.0" y="1194.0" font-size="36" text-anchor="start" font-weight="normal">2018/04/16</text>
<linearGradient id="cbg" x1="0" y1="1" x2="0" y2="0"><stop offset="0.000" stop-color="#181c43"/><stop offset="0.025" stop-color="#1b2255"/><stop offset="0.050" stop-color="#1e2767"/><stop offset="0.075" stop-color="#212e7b"/><stop offset="0.100" stop-color="#1f3a94"/><stop offset="0.125" stop-color="#1d45ad"/><stop offset="0.150" stop-color="#1d51bc"/><stop offset="0.175" stop-color="#205cbd"/><stop offset="0.200" stop-color="#2367be"/><stop offset="0.225" stop-color="#2a72bc"/><stop offset="0.250" stop-color="#357dba"/><stop offset="0.275" stop-color="#4288b8"/><stop offset="0.300" stop-color="#5393bb"/><stop offset="0.325" stop-color="#649ebe"/><stop offset="0.350" stop-color="#78a8c2"/><stop offset="0.375" stop-color="#8cb2c6"/><stop offset="0.400" stop-color="#a0bccb"/><stop offset="0.425" stop-color="#b6cad4"/><stop offset="0.450" stop-color="#cdd8dd"/><stop offset="0.475" stop-color="#e0e3e5"/><stop offset="0.500" stop-color="#f1edec"/><stop offset="0.525" stop-color="#edded9"/><stop offset="0.550" stop-color="#e8cec5"/><stop offset="0.575" stop-color="#e3beb0"/><stop offset="0.600" stop-color="#deae9b"/><stop offset="0.625" stop-color="#d99d87"/><stop offset="0.650" stop-color="#d48d74"/><stop offset="0.675" stop-color="#cf7d62"/><stop offset="0.700" stop-color="#cb6e53"/><stop offset="0.725" stop-color="#c66044"/><stop offset="0.750" stop-color="#c2573d"/><stop offset="0.775" stop-color="#bf4e36"/><stop offset="0.800" stop-color="#b84130"/><stop offset="0.825" stop-color="#af332d"/><stop offset="0.850" stop-color="#a2262e"/><stop offset="0.875" stop-color="#921c2c"/><stop offset="0.900" stop-color="#80142a"/><stop offset="0.925" stop-color="#6d1024"/><stop offset="0.950" stop-color="#5a0c1e"/><stop offset="0.975" stop-color="#4b0a18"/><stop offset="1.000" stop-color="#3c0912"/></linearGradient>
<rect x="1593.5" y="308.8" width="32.5" height="686.5" fill="url(#cbg)" stroke="#262626" stroke-width="2"/>
<line x1="1593.5" y1="480.4" x2="1626.0" y2="480.4" stroke="#262626" stroke-width="2"/>
<line x1="1593.5" y1="652.0" x2="1626.0" y2="652.0" stroke="#262626" stroke-width="2"/>
<line x1="1593.5" y1="823.7" x2="1626.0" y2="823.7" stroke="#262626" stroke-width="2"/>
<text x="1637.0" y="321.8" font-size="34.5" text-anchor="start" font-weight="normal">0.5</text>
<text x="1637.0" y="493.4" font-size="34.5" text-anchor="start" font-weight="normal">0.25</text>
<text x="1637.0" y="665.0" font-size="34.5" text-anchor="start" font-weight="normal">0</text>
<text x="1637.0" y="836.7" font-size="34.5" text-anchor="start" font-weight="normal">-0.25</text>
<text x="1637.0" y="1008.3" font-size="34.5" text-anchor="start" font-weight="normal">-0.5</text>
<text x="1589.0" y="280.0" font-size="42" text-anchor="start" font-weight="normal">m s</text>
<text x="1659.0" y="256.0" font-size="28" text-anchor="start" font-weight="normal">-1</text>
</svg>
</body></html>
